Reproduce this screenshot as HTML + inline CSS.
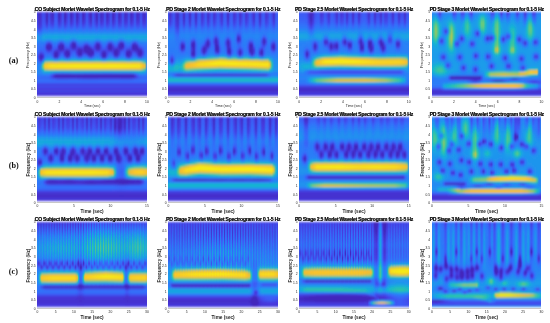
<!DOCTYPE html><html><head><meta charset="utf-8"><title>Morlet Wavelet Spectrograms</title><style>

*{margin:0;padding:0}
html,body{width:550px;height:323px;overflow:hidden;background:#fff}
body{position:relative;font-family:"Liberation Sans",Arial,sans-serif;color:#262626}
.pn{position:absolute;overflow:hidden;filter:url(#bl)}
.pn i{position:absolute;left:0;width:100%;display:block}
.tt{position:absolute;width:160px;text-align:center;font-weight:bold;font-size:5.2px;letter-spacing:-0.27px;line-height:5px;white-space:nowrap;color:#1c1c1c;text-shadow:0.15px 0 0 #1c1c1c;filter:blur(0.2px)}
.yt{position:absolute;width:10.6px;text-align:right;font-size:3.3px;line-height:3.4px;color:#222}
.xt{position:absolute;width:12px;text-align:center;font-size:3.3px;line-height:3.4px;color:#222}
.xl{position:absolute;width:40px;text-align:center;font-size:3.5px;line-height:4px;color:#222}
.xl.b{font-weight:bold;font-size:4.7px;line-height:5px;color:#222}
.yl{position:absolute;width:40px;height:4px;margin-left:-20px;margin-top:-2px;text-align:center;font-size:3.8px;line-height:4px;transform:rotate(-90deg);color:#222;white-space:nowrap}
.yl.b{font-weight:bold;font-size:4.7px;line-height:5px;height:5px;margin-top:-2.5px;color:#222}
.ax{position:absolute;height:0.6px;background:#c8c8c8}
.pl{position:absolute;left:8.8px;width:11px;font:bold 8.2px "Liberation Serif",serif;line-height:10px;color:#111}

</style></head><body><svg width="0" height="0" style="position:absolute"><filter id="bl" x="-5%" y="-5%" width="110%" height="110%"><feGaussianBlur stdDeviation="0.25 0.85"/></filter></svg>
<div class="pn" style="left:37.40px;top:12.00px;width:109.50px;height:83.80px">
<i style="top:0.0px;height:2.6px;background:linear-gradient(90deg,#4344e5,#432cc6,#4533d2,#414eed,#4442e4,#4226bc,#424ae9,#4432d0,#432bc4,#3f55f2,#3f53f0,#4227be,#4536d8,#4050ee,#4226bc,#4639dd,#4052f0,#4228bf,#4536d7,#4050ee,#4226bc,#4639dc,#4052f0,#4228c0,#4535d6,#3f56f3,#4537d9,#4227bd,#4052ef,#463ade,#4226bc,#414dec,#432cc5,#4431cf,#4052ef,#4329c1,#4534d4,#4051ef,#4227be,#4537d9,#3f53f0,#432ac2,#4534d3,#3f54f1,#432dc7,#4430cd,#4052ef,#432ac3,#4533d2,#3f54f1,#432dc8,#4430cc,#3f54f1,#4431ce,#432cc7,#3f55f2)"></i>
<i style="top:2.0px;height:2.6px;background:linear-gradient(90deg,#4345e6,#432bc5,#4533d2,#404fee,#4443e5,#4226bc,#414bea,#4432d1,#432bc4,#3e56f3,#3f54f1,#4227be,#4537d8,#4052ef,#4226bc,#463add,#3f54f1,#4227be,#4536d7,#4052ef,#4226bc,#4639dc,#3f54f1,#4228bf,#4536d6,#3e58f4,#4537d9,#4226bd,#3f53f1,#463bdf,#4226bc,#414eed,#432bc5,#4431cf,#3f53f0,#4329c1,#4534d4,#3f52f0,#4227bd,#4537d9,#3f54f1,#4329c2,#4534d3,#3f55f2,#432dc7,#4430cd,#3f53f1,#432ac3,#4533d2,#3f55f2,#432dc8,#4430cc,#3f55f2,#4431ce,#432cc7,#3e57f3)"></i>
<i style="top:4.0px;height:2.6px;background:linear-gradient(90deg,#4346e7,#432cc6,#4533d3,#4051ef,#4345e6,#4226bc,#414dec,#4533d2,#432cc6,#3e58f4,#3e56f3,#4228bf,#4638da,#3f53f1,#4226bc,#463bdf,#3f56f2,#4228c0,#4537d9,#3f54f1,#4226bc,#463ade,#3f56f2,#4329c1,#4537d8,#3d59f4,#4638db,#4227be,#3f55f2,#453de0,#4226bc,#4050ee,#432cc7,#4432d1,#3f55f2,#432ac3,#4535d6,#3f54f1,#4228bf,#4638db,#3e56f3,#432ac3,#4535d5,#3e57f3,#442ec9,#4431cf,#3f55f2,#432bc4,#4534d4,#3e57f3,#442eca,#4431ce,#3e57f3,#4432d0,#432dc8,#3e59f4)"></i>
<i style="top:6.0px;height:2.6px;background:linear-gradient(90deg,#4249e9,#432dc9,#4535d6,#3f54f1,#4248e8,#4226bc,#4050ee,#4536d6,#442eca,#3d5bf5,#3d59f4,#432ac4,#463ade,#3e56f3,#4228c0,#453ee1,#3e58f4,#432bc4,#463add,#3e57f3,#4329c1,#453de1,#3e59f4,#432bc5,#4639dc,#3c5cf5,#463bdf,#432ac3,#3e58f4,#4440e2,#4228bf,#3f53f0,#442fcb,#4535d5,#3e58f4,#432cc7,#4638da,#3e57f3,#432ac3,#463bdf,#3e59f4,#432dc8,#4537d9,#3d5af4,#4430cd,#4534d3,#3e58f4,#432dc9,#4537d8,#3d5af4,#4431ce,#4533d2,#3d5af4,#4534d4,#4430cd,#3d5bf5)"></i>
<i style="top:8.0px;height:2.6px;background:linear-gradient(90deg,#414ceb,#442fcc,#4537d9,#3e57f3,#414ceb,#4329c1,#3f54f1,#4639dc,#4432d1,#3b5df5,#3c5cf5,#442fcb,#453fe2,#3d59f4,#432dc7,#4443e5,#3c5bf5,#442fcb,#453ee1,#3d5af4,#432dc8,#4442e4,#3c5bf5,#442fcc,#453de1,#3b5ef6,#4440e2,#442eca,#3d5bf5,#4345e6,#432cc6,#3e57f3,#4533d2,#4638db,#3d5bf5,#4430ce,#463cdf,#3d5af5,#442eca,#4440e2,#3c5cf5,#4431cf,#463bdf,#3c5cf5,#4534d4,#4537d9,#3d5bf5,#4431cf,#463ade,#3c5cf5,#4534d5,#4537d8,#3c5cf5,#4638da,#4534d3,#3b5ef5)"></i>
<i style="top:10.0px;height:2.6px;background:linear-gradient(90deg,#404fed,#4431cf,#4639dc,#3d59f4,#4052ef,#4430cd,#3e58f4,#4440e2,#4638da,#3a60f6,#3b5ff6,#4535d5,#4346e7,#3c5df5,#4533d2,#4249e9,#3b5ef6,#4535d6,#4345e6,#3c5df5,#4533d3,#4249e9,#3b5ef6,#4535d6,#4344e6,#3a61f6,#4347e7,#4534d4,#3b5ef5,#424bea,#4432d1,#3d5af5,#4638db,#453fe2,#3b5ef5,#4536d8,#4443e4,#3b5df5,#4534d4,#4346e7,#3b5ff6,#4537d8,#4442e4,#3a5ff6,#4639dd,#453ee1,#3b5ef5,#4537d9,#4441e3,#3a5ff6,#463ade,#453de0,#3a5ff6,#453ee1,#4639dc,#3a60f6)"></i>
<i style="top:12.0px;height:2.6px;background:linear-gradient(90deg,#3f53f0,#4534d4,#453de0,#3c5df5,#3e59f4,#463add,#3b5df5,#414bea,#4343e5,#3864f7,#3963f7,#453fe2,#4050ee,#3a61f6,#453de0,#3f53f0,#3962f7,#4440e2,#404fee,#3961f6,#453ee1,#4052f0,#3962f7,#4440e3,#414fed,#3864f7,#4050ee,#453fe2,#3962f6,#3f54f1,#453de0,#3a5ff6,#4344e5,#424aea,#3962f6,#4442e4,#414dec,#3961f6,#453fe2,#4050ee,#3963f7,#4442e4,#414dec,#3963f7,#4345e6,#4249e9,#3962f7,#4443e4,#414ceb,#3863f7,#4346e7,#4248e9,#3863f7,#4249e9,#4345e6,#3864f7)"></i>
<i style="top:14.0px;height:2.6px;background:linear-gradient(90deg,#3e58f4,#4638da,#4442e4,#3a61f6,#3a60f6,#414ceb,#3864f7,#3e59f4,#3f53f0,#3668f8,#3668f8,#4050ee,#3c5bf5,#3766f8,#404fed,#3c5df5,#3667f8,#4051ef,#3d5bf5,#3767f8,#404fee,#3c5df5,#3667f8,#4051ef,#3d5bf5,#3669f8,#3c5cf5,#4050ee,#3667f8,#3b5ef5,#414eed,#3765f7,#3f54f1,#3e58f4,#3667f8,#4052ef,#3d5af4,#3767f8,#4050ee,#3c5bf5,#3668f8,#4052f0,#3d59f4,#3668f8,#3f55f1,#3e57f3,#3667f8,#3f53f0,#3d59f4,#3668f8,#3f55f2,#3e57f3,#3668f8,#3e58f4,#3f54f1,#3669f8)"></i>
<i style="top:16.0px;height:2.6px;background:linear-gradient(90deg,#3963f7,#4344e5,#404fee,#346bf9,#336efa,#3863f7,#3270fa,#3569f8,#3767f8,#3172fa,#3172fa,#3765f7,#346bf9,#3171fa,#3864f7,#346cf9,#3172fa,#3765f7,#356bf9,#3171fa,#3865f7,#346cf9,#3172fa,#3766f7,#356bf9,#3172f9,#346bf9,#3765f7,#3172fa,#346df9,#3864f7,#3271fa,#3767f8,#3569f8,#3172fa,#3766f7,#356af9,#3171fa,#3765f7,#346bf9,#3172fa,#3766f8,#356af8,#3172fa,#3667f8,#3669f8,#3172fa,#3766f8,#356af8,#3172fa,#3668f8,#3668f8,#3172fa,#3669f8,#3667f8,#3172fa)"></i>
<i style="top:18.0px;height:2.6px;background:linear-gradient(90deg,#3172fa,#3d59f4,#3962f7,#2e77f8,#2c7bf8,#2e77f8,#2c7cf7,#2d79f8,#2d78f8,#2b7df7,#2b7df7,#2e78f8,#2d7af8,#2b7cf7,#2e77f8,#2c7af8,#2b7cf7,#2e78f8,#2d7af8,#2b7cf7,#2e77f8,#2c7af8,#2b7cf7,#2e78f8,#2d7af8,#2b7df7,#2d7af8,#2e78f8,#2b7cf7,#2c7af8,#2e77f8,#2b7cf7,#2d78f8,#2d79f8,#2b7cf7,#2e78f8,#2d79f8,#2b7cf7,#2e78f8,#2d7af8,#2b7df7,#2e78f8,#2d79f8,#2b7df7,#2d78f8,#2d79f8,#2b7cf7,#2e78f8,#2d79f8,#2b7df7,#2d79f8,#2d79f8,#2b7df7,#2d79f8,#2d78f8,#2b7df7)"></i>
<i style="top:20.0px;height:2.6px;background:linear-gradient(90deg,#2980f7,#3270fa,#2f75f9,#2686f4,#248cf2,#2589f3,#238df1,#248bf2,#248af2,#238df1,#238df1,#248af2,#248bf2,#238df1,#2589f3,#248cf2,#238df1,#258af3,#248bf2,#238df1,#2589f3,#248bf2,#238df1,#248af2,#248bf2,#238ef1,#248bf2,#248af2,#238df1,#248cf2,#2589f3,#238df1,#248af2,#248bf2,#238df1,#248af2,#248bf2,#238df1,#248af2,#248bf2,#238df1,#248af2,#248bf2,#238df1,#248af2,#248bf2,#238df1,#248af2,#248bf2,#238df1,#248af2,#248bf2,#238df1,#248bf2,#248af2,#238df1)"></i>
<i style="top:22.0px;height:2.6px;background:linear-gradient(90deg,#2094ee,#2981f6,#2687f4,#1c9bea,#1ba0e6,#1b9fe7,#1ba0e6,#1b9fe7,#1b9fe7,#1ba1e5,#1ba1e5,#1b9fe7,#1b9fe7,#1ba0e6,#1b9fe7,#1ba0e6,#1ba0e6,#1b9ee8,#1b9ee8,#1b9fe7,#1b9fe7,#1ba0e6,#1ba1e5,#1b9fe7,#1ba0e6,#1ba1e5,#1ba0e6,#1b9fe7,#1ba1e5,#1ba0e6,#1b9fe7,#1ba0e6,#1b9fe7,#1ba0e6,#1ba1e5,#1b9fe7,#1b9fe7,#1ba0e6,#1b9fe7,#1ba0e6,#1ba0e6,#1b9ee8,#1b9ee8,#1ba0e6,#1b9fe7,#1b9fe7,#1ba1e5,#1b9fe7,#1b9fe7,#1ba0e6,#1b9fe7,#1b9fe7,#1ba1e5,#1ba0e6,#1b9fe7,#1ba1e5)"></i>
<i style="top:24.0px;height:2.6px;background:linear-gradient(90deg,#1ba1e5,#2192ef,#1e97ec,#1aa5e1,#19a9dd,#19a8de,#19a8de,#19a8de,#19a9dd,#19aadc,#19a9dd,#19a8de,#19a7df,#19a8de,#19a9dd,#19a9dd,#19a9dd,#1aa6e0,#1aa3e3,#1aa5e1,#19a7df,#19a9dd,#19aadc,#19a9dd,#19a9dd,#19a9dd,#19a9dd,#19a9dd,#19a9dd,#19a8de,#19a6e0,#19a7df,#19a8de,#19a9dd,#19aadc,#19a8de,#19a8de,#19a8de,#19a8de,#19a9dd,#19a9dd,#1aa6e0,#1aa3e3,#1aa5e1,#19a8de,#19a9dd,#19aadc,#19a9dd,#19a8de,#19a8de,#19a8de,#19a9dd,#19aadc,#19a9dd,#19a9dd,#19aadc)"></i>
<i style="top:26.0px;height:2.6px;background:linear-gradient(90deg,#1c9de9,#2191ef,#1f95ed,#1ba0e6,#1ba1e5,#1c9de9,#1d9beb,#1c9ee8,#1ba2e4,#1aa3e3,#1aa2e4,#1b9ee8,#1d9beb,#1c9de9,#1ba1e5,#1aa3e3,#1ba1e5,#1e98ec,#238df1,#2191ef,#1c9de9,#1aa2e4,#1aa3e3,#1aa2e4,#1ba2e4,#1ba2e4,#1aa2e4,#1aa3e3,#1aa2e4,#1b9ee8,#1e98ec,#1e99ec,#1b9fe7,#1aa2e4,#1aa3e3,#1ba0e6,#1c9cea,#1c9cea,#1b9fe7,#1aa2e4,#1ba1e5,#1e97ec,#238cf1,#2192ef,#1b9ee8,#1aa2e4,#1aa3e3,#1ba1e5,#1c9de9,#1d9beb,#1b9ee8,#1ba2e4,#1aa3e3,#1aa3e3,#1aa3e3,#1aa3e3)"></i>
<i style="top:28.0px;height:2.6px;background:linear-gradient(90deg,#238df1,#2686f4,#2589f3,#228ff0,#238df1,#297ff7,#2d78f8,#2980f6,#238df1,#2191ef,#228ef0,#2981f6,#2d78f8,#2a7ef7,#248cf2,#2191ef,#238cf1,#2d7af8,#3962f6,#346df9,#2882f6,#2290f0,#2191ef,#228ff0,#248bf2,#2589f3,#238ef1,#2191ef,#228ff0,#2882f6,#2f75f9,#2f76f9,#2785f5,#2290f0,#2190ef,#2588f3,#2c7bf8,#2d7af8,#2686f4,#228ff0,#248bf2,#2e78f8,#3a61f6,#326ffa,#2784f5,#2190ef,#2191ef,#248cf2,#2a7ef7,#2d78f8,#2881f6,#238ef1,#2192ef,#2192ef,#2192ef,#2092ee)"></i>
<i style="top:30.0px;height:2.6px;background:linear-gradient(90deg,#2b7cf7,#2d79f8,#2c7af8,#2b7cf7,#2f76f9,#3e57f3,#4639dd,#3d59f4,#2f76f9,#2b7cf7,#2e77f8,#3b5df5,#463ade,#4052f0,#3074f9,#2c7cf7,#2e77f9,#4052f0,#4226bc,#4431ce,#3669f8,#2d7af8,#2c7cf7,#2e78f8,#346cf9,#3668f8,#3074f9,#2c7bf8,#2d79f8,#3864f7,#4535d6,#4639dd,#356af8,#2c7bf8,#2c7bf8,#336ef9,#4345e6,#4440e2,#3668f8,#2d79f8,#2f75f9,#414beb,#4226bc,#4534d4,#336df9,#2c7bf7,#2b7cf7,#3074f9,#4052ef,#463ade,#3c5df5,#2e77f8,#2b7cf7,#2b7df7,#2a7ef7,#2a7ef7)"></i>
<i style="top:32.0px;height:2.6px;background:linear-gradient(90deg,#2f75f9,#3074f9,#3074f9,#3074f9,#3766f7,#442fcb,#4226bc,#4431ce,#3767f8,#3073f9,#3569f8,#4536d7,#4226bc,#4329c1,#3a61f6,#3171fa,#356af9,#4638da,#4226bc,#4226bc,#3f54f1,#346bf9,#336efa,#3963f7,#453ce0,#4533d2,#3f54f1,#346bf9,#346cf9,#4346e7,#4226bc,#4226bc,#4050ee,#3171fa,#3171fa,#3f54f1,#4226bc,#4226bc,#4247e8,#356af8,#3863f7,#4431cf,#4226bc,#4226bc,#3c5cf5,#3172fa,#3172fa,#3a60f6,#4329c1,#4226bc,#4534d4,#3864f7,#3171fa,#3074f9,#2f76f9,#2f76f9)"></i>
<i style="top:34.0px;height:2.6px;background:linear-gradient(90deg,#326ffa,#336ef9,#336ef9,#346df9,#3d5af5,#4226bc,#4226bc,#4226bc,#3d5af4,#3767f8,#3d59f4,#4227bd,#4226bc,#4226bc,#414dec,#3a5ff6,#3c5bf5,#4536d7,#4226bc,#4226bc,#4442e4,#414ceb,#4050ee,#4344e5,#4226bc,#4226bc,#432bc5,#414bea,#3e58f4,#4537da,#4226bc,#4226bc,#4442e4,#3863f7,#3863f7,#4441e3,#4226bc,#4226bc,#4533d2,#4051ef,#424ae9,#432cc6,#4226bc,#4226bc,#3f54f1,#3963f7,#3a60f6,#414dec,#4226bc,#4226bc,#4226bc,#4248e8,#3e59f4,#3767f8,#336efa,#3270fa)"></i>
<i style="top:36.0px;height:2.6px;background:linear-gradient(90deg,#326ffa,#346df9,#346bf9,#346bf9,#3b5ef6,#442eca,#4226bc,#442fcc,#3e59f4,#3d5af4,#414ceb,#432dc8,#4226bc,#4226bc,#4344e5,#4345e6,#424bea,#4345e6,#442fcc,#4534d5,#463bdf,#432ac3,#442fcb,#4534d4,#4226bc,#4226bc,#4226bc,#4329c1,#4441e3,#4440e2,#4226bc,#4226bc,#4248e8,#3e57f3,#3e56f3,#4344e5,#4226bc,#4226bc,#4533d3,#4534d4,#442eca,#4431cf,#432bc5,#463bde,#3e58f4,#4050ee,#4345e6,#4344e5,#4226bc,#4226bc,#4226bc,#442ec9,#4536d7,#3d5af4,#346cf9,#3270fa)"></i>
<i style="top:38.0px;height:2.6px;background:linear-gradient(90deg,#336ef9,#3767f8,#3a60f6,#3864f7,#3863f7,#424aea,#4536d6,#4248e9,#3f54f1,#463ade,#4432d0,#4536d7,#4432d0,#463bde,#4537d8,#4226bc,#4430cd,#404fed,#4052f0,#4050ee,#4534d4,#4226bc,#4226bc,#4430cd,#4226bc,#4226bc,#4226bc,#4226bc,#432cc7,#414ceb,#4442e4,#4443e4,#424aea,#4537da,#4537d9,#4346e7,#4639dc,#4535d6,#4537d9,#4226bc,#4226bc,#4432d0,#424aea,#3e59f4,#3e57f3,#4431cf,#4226bc,#4537d8,#463ade,#4431ce,#432cc6,#4226bc,#4226bc,#4346e7,#3569f8,#326ffa)"></i>
<i style="top:40.0px;height:2.6px;background:linear-gradient(90deg,#346cf9,#3d59f4,#4345e6,#3f53f1,#3766f7,#3863f7,#3c5cf5,#3a60f6,#414dec,#4226bc,#4226bc,#4639dc,#3f53f1,#3f54f1,#442eca,#4226bc,#4226bc,#4052f0,#3766f7,#3a61f6,#4535d5,#4226bc,#4226bc,#4638db,#4537da,#4226bc,#4226bc,#4226bc,#4226bc,#3e58f4,#3961f6,#3b5ef6,#4346e7,#4226bc,#4226bc,#4443e5,#3d59f4,#3e58f4,#4440e3,#4226bc,#4226bc,#4533d2,#3a5ff6,#3668f8,#3f54f1,#4226bc,#4226bc,#442fcb,#3f54f1,#3f54f1,#4536d8,#4226bc,#4226bc,#453ee1,#356af8,#3171fa)"></i>
<i style="top:42.0px;height:2.6px;background:linear-gradient(90deg,#356af9,#4442e4,#4226bc,#4537da,#3865f7,#3270fa,#3270fa,#346df9,#414ceb,#4226bc,#4226bc,#453cdf,#3766f8,#3864f7,#4432d1,#4226bc,#4226bc,#3d5af4,#3270fa,#346df9,#4248e8,#4226bc,#4226bc,#4052f0,#3b5ef5,#424aea,#4226bc,#4226bc,#4431cf,#3864f7,#3270fa,#346cf9,#4345e6,#4226bc,#4226bc,#4344e5,#356af8,#346cf9,#3f54f1,#4226bc,#4226bc,#4442e4,#346cf9,#3271fa,#3d5af4,#4226bc,#4226bc,#4533d2,#3864f7,#3569f8,#414ceb,#4226bc,#4226bc,#424aea,#326ffa,#3074f9)"></i>
<i style="top:44.0px;height:2.6px;background:linear-gradient(90deg,#336efa,#4536d7,#4226bc,#432dc8,#346bf9,#2c7af8,#2c7cf7,#2d79f8,#3a60f6,#4226bc,#4226bc,#3e56f3,#2f76f9,#2f75f9,#3f54f1,#432ac3,#463cdf,#336ffa,#2c7bf8,#2d7af8,#346bf9,#414dec,#3f56f2,#3171fa,#2e77f8,#3271fa,#3f54f1,#463cdf,#3d5bf5,#2f76f9,#2c7bf7,#2d78f8,#3c5cf5,#4226bc,#4226bc,#3c5cf5,#2e78f8,#2c7af8,#3270fa,#424aea,#4441e3,#3766f8,#2d79f8,#2c7bf8,#336ffa,#463cdf,#432ac3,#3f54f1,#2f75f9,#2d79f8,#346cf9,#4346e7,#4443e5,#3669f8,#2d79f8,#2d79f8)"></i>
<i style="top:46.0px;height:2.6px;background:linear-gradient(90deg,#2e76f9,#4443e4,#4226bc,#4442e4,#2980f6,#2094ee,#1e97ec,#1f95ed,#2784f5,#356af8,#3765f7,#2980f7,#2094ee,#2094ee,#2882f6,#3074f9,#2c7bf7,#228ff0,#1e98ec,#1e98ec,#2190ef,#2686f4,#2588f3,#2093ee,#1e97ec,#2093ee,#2687f4,#2a7ff7,#2589f3,#1f95ed,#1d99eb,#1f96ed,#2882f6,#3668f8,#3668f8,#2882f6,#1f95ed,#1e98ec,#2191ef,#2883f6,#2980f6,#238df1,#1e97ec,#1e98ec,#228ff0,#2c7bf8,#3074f9,#2882f6,#2094ee,#1e97ec,#228ff0,#2881f6,#2a7ff7,#2589f3,#228ef0,#2981f6)"></i>
<i style="top:48.0px;height:2.6px;background:linear-gradient(90deg,#2b7df7,#3a5ff6,#4443e4,#2d7af8,#16b4d2,#23bdbb,#27bfb4,#29c0b1,#24bdba,#18b5cf,#16b4d1,#22bcbd,#2ac1af,#2ac1af,#25beb8,#1fbac2,#22bcbc,#29c1b0,#2cc2ab,#2cc3ab,#2bc1ae,#28c0b2,#29c0b1,#2bc2ad,#2cc3ab,#2bc2ad,#28c0b2,#26beb6,#29c0b2,#2cc2ac,#2dc3ab,#2bc2ad,#24bdb9,#18b6ce,#18b6ce,#24bdb9,#2bc2ad,#2cc3ab,#2bc2ae,#27bfb4,#26bfb6,#2ac1b0,#2cc2ac,#2cc2ac,#29c0b1,#22bcbd,#1fbac2,#25beb8,#2ac1af,#2bc2ae,#29c0b1,#25beb8,#20bac1,#1ab7ca,#17b2d4,#2686f4)"></i>
<i style="top:50.0px;height:2.6px;background:linear-gradient(90deg,#2981f6,#3074f9,#2e77f9,#1ab6cc,#b4c552,#d5c043,#e8bd3a,#ecbd37,#ecbd37,#e9bd39,#e9bd39,#ecbd37,#eebd36,#eebd36,#edbd36,#ecbd37,#edbd36,#efbd35,#efbd35,#efbd35,#efbd35,#efbd35,#efbd35,#efbd35,#efbd35,#efbd35,#efbd35,#efbd35,#efbd35,#efbd35,#efbd35,#efbd35,#eebd36,#ebbd38,#ebbd38,#eebd36,#efbd35,#efbd35,#efbd35,#efbd35,#eebd35,#efbd35,#efbd35,#efbd35,#eebd36,#edbd37,#ecbd37,#edbd37,#eebd36,#eebd36,#edbd36,#ecbd37,#dbbf40,#a4c75b,#60c983,#2686f4)"></i>
<i style="top:52.0px;height:2.6px;background:linear-gradient(90deg,#2784f5,#2a7ff7,#2094ee,#6ec97a,#f9c828,#f8d223,#f8d91f,#f7e11b,#f6e31a,#f6e31a,#f6e31a,#f6e419,#f6e519,#f6e519,#f6e519,#f6e519,#f6e618,#f6e718,#f6e718,#f6e817,#f6e817,#f6e817,#f6e817,#f6e817,#f6e817,#f6e817,#f6e817,#f6e718,#f6e817,#f6e817,#f6e817,#f6e817,#f6e718,#f6e618,#f6e618,#f6e718,#f6e817,#f6e817,#f6e817,#f6e818,#f6e718,#f6e718,#f6e718,#f6e618,#f6e618,#f6e519,#f6e519,#f6e519,#f6e419,#f6e419,#f6e41a,#f6e31a,#f8d522,#f9be2e,#e5bd3b,#2686f4)"></i>
<i style="top:54.0px;height:2.6px;background:linear-gradient(90deg,#2785f5,#2783f5,#1b9ee8,#84c86d,#f9ca27,#f8d223,#f8d91f,#f7e11b,#f6e31a,#f6e41a,#f6e419,#f6e519,#f6e519,#f6e519,#f6e618,#f6e618,#f6e618,#f6e718,#f6e718,#f6e817,#f6e817,#f6e817,#f6e817,#f6e817,#f6e817,#f6e817,#f6e817,#f6e817,#f6e817,#f6e817,#f6e817,#f6e817,#f6e817,#f6e817,#f6e817,#f6e817,#f6e817,#f6e817,#f6e817,#f6e817,#f6e817,#f6e718,#f6e718,#f6e618,#f6e618,#f6e619,#f6e519,#f6e519,#f6e519,#f6e419,#f6e41a,#f6e31a,#f8d521,#f9be2d,#e5bd3b,#2686f4)"></i>
<i style="top:56.0px;height:2.6px;background:linear-gradient(90deg,#2686f4,#2685f4,#1e98ec,#32c4a6,#c7c24a,#d8bf41,#e8bd3a,#ecbd37,#edbd36,#edbd36,#eebd36,#eebd36,#eebd36,#eebd36,#eebd35,#efbd35,#efbd35,#efbd35,#efbd35,#efbd35,#efbd35,#efbd35,#efbd35,#efbd35,#efbd35,#efbd35,#efbd35,#efbd35,#efbd35,#efbd35,#efbd35,#efbd35,#efbd35,#efbd35,#efbd35,#efbd35,#efbd35,#efbd35,#efbd35,#efbd35,#efbd35,#efbd35,#efbd35,#efbd35,#eebd35,#eebd35,#eebd36,#eebd36,#eebd36,#eebd36,#eebd36,#edbd36,#e0be3e,#a7c65a,#61ca83,#2686f4)"></i>
<i style="top:58.0px;height:2.6px;background:linear-gradient(90deg,#2686f4,#2686f4,#228ef0,#19a9dd,#22bcbd,#25beb8,#27bfb4,#28c0b2,#28c0b3,#26bfb6,#25beb8,#25beb8,#25beb9,#25beb8,#25beb8,#25beb7,#26beb6,#26bfb5,#27bfb5,#27bfb4,#27bfb4,#27bfb4,#27bfb4,#27bfb4,#27bfb5,#27bfb5,#27bfb5,#27bfb5,#27bfb5,#27bfb5,#27bfb5,#26bfb6,#26bfb6,#26beb6,#26beb7,#26beb7,#26beb7,#26beb7,#26beb6,#26beb6,#26beb6,#26beb6,#26beb6,#26beb7,#26beb7,#25beb7,#25beb7,#26beb7,#26bfb5,#28c0b3,#29c1b1,#2bc1ae,#26beb6,#1db9c5,#16b2d4,#2686f4)"></i>
<i style="top:60.0px;height:2.6px;background:linear-gradient(90deg,#2686f4,#2686f4,#2588f3,#2191ef,#1d99eb,#1d99eb,#1e98ec,#228ff0,#2785f5,#2b7cf7,#3074f9,#3173f9,#3172fa,#3171fa,#3172fa,#3074f9,#2f76f9,#2e78f8,#2d7af8,#2c7bf8,#2c7bf8,#2c7bf8,#2d7af8,#2d79f8,#2e77f8,#2f76f9,#2f76f9,#2f75f9,#2f75f9,#2f76f9,#2f75f9,#2f75f9,#3074f9,#3172f9,#3171fa,#3271fa,#3271fa,#3171fa,#3172f9,#3073f9,#3074f9,#3074f9,#3074f9,#3073f9,#3073f9,#3073f9,#3074f9,#2f76f9,#2c7bf8,#2882f6,#238df1,#1e97ec,#1d9aeb,#1e97ec,#2094ee,#2685f4)"></i>
<i style="top:62.0px;height:2.6px;background:linear-gradient(90deg,#2d79f8,#2d79f8,#2d79f8,#2d7af8,#2d7af8,#2d78f8,#2f76f9,#3962f7,#4247e8,#442eca,#4226bc,#4226bc,#4226bc,#4226bc,#4226bc,#4226bc,#4226bc,#4226bc,#4227bd,#4329c1,#4329c1,#4226bd,#4226bc,#4226bc,#4226bc,#4226bc,#4226bc,#4226bc,#4226bc,#4226bc,#4226bc,#4226bc,#4226bc,#4226bc,#4226bc,#4226bc,#4226bc,#4226bc,#4226bc,#4226bc,#4226bc,#4226bc,#4226bc,#4226bc,#4226bc,#4226bc,#4226bc,#4226bc,#4227bd,#453ce0,#3d5af4,#3271fa,#2e78f8,#2d79f8,#2d7af8,#2d78f8)"></i>
<i style="top:64.0px;height:2.6px;background:linear-gradient(90deg,#356af8,#356af8,#3569f8,#3569f8,#3668f8,#3767f8,#3864f7,#4050ee,#4639dc,#4329c1,#4226bc,#4226bc,#4226bc,#4226bc,#4226bc,#4226bc,#4226bc,#4226bc,#4226bc,#4226bc,#4226bc,#4226bc,#4226bc,#4226bc,#4226bc,#4226bc,#4226bc,#4226bc,#4226bc,#4226bc,#4226bc,#4226bc,#4226bc,#4226bc,#4226bc,#4226bc,#4226bc,#4226bc,#4226bc,#4226bc,#4226bc,#4226bc,#4226bc,#4226bc,#4226bc,#4226bc,#4226bc,#4226bc,#4226bc,#4431cf,#4345e6,#3c5cf5,#3765f7,#3667f8,#3669f8,#3669f8)"></i>
<i style="top:66.0px;height:2.6px;background:linear-gradient(90deg,#356bf9,#356bf9,#356bf9,#356bf9,#356af9,#356af8,#3569f8,#3864f7,#3b5ef5,#3e58f4,#4050ee,#404fed,#414eed,#414eed,#404fed,#4050ee,#4051ef,#4052ef,#4052f0,#4052f0,#4052ef,#4050ee,#414eed,#414ceb,#424aea,#4249e9,#4248e8,#4248e8,#4249e9,#424aea,#414ceb,#414dec,#414dec,#414dec,#414dec,#414dec,#414dec,#414eec,#414eed,#414eed,#414eed,#414dec,#414cec,#414ceb,#414beb,#414beb,#414ceb,#414dec,#3f53f0,#3d5af5,#3a61f6,#3767f8,#3569f8,#356af9,#356af9,#356bf9)"></i>
<i style="top:68.0px;height:2.6px;background:linear-gradient(90deg,#3271fa,#3271fa,#3271fa,#3271fa,#3271fa,#3271fa,#3271fa,#3270fa,#326ffa,#336ffa,#336ef9,#336ef9,#336ef9,#336ef9,#336ef9,#336ef9,#336ef9,#336ef9,#336ef9,#336ef9,#336ef9,#336ef9,#336ef9,#336df9,#336df9,#336df9,#336df9,#336df9,#336df9,#336df9,#336df9,#336ef9,#336ef9,#336ef9,#336ef9,#336ef9,#336ef9,#336ef9,#336ef9,#336ef9,#336ef9,#336ef9,#336ef9,#336ef9,#336df9,#336df9,#336ef9,#336ef9,#336efa,#336ffa,#3270fa,#3270fa,#3271fa,#3271fa,#3271fa,#3271fa)"></i>
<i style="top:70.0px;height:2.6px;background:linear-gradient(90deg,#3b5ef5,#3b5ef5,#3b5ef5,#3b5ef5,#3b5ef5,#3b5ef5,#3b5ef5,#3b5ef5,#3b5ef5,#3b5ef5,#3b5ef5,#3b5ef5,#3b5ef5,#3b5ef5,#3b5ef5,#3b5ef5,#3b5ef5,#3b5ef5,#3b5ef5,#3b5ef5,#3b5ef5,#3b5ef5,#3b5ef5,#3b5ef5,#3b5ef5,#3b5ef5,#3b5ef5,#3b5ef5,#3b5ef5,#3b5ef5,#3b5ef5,#3b5ef5,#3b5ef5,#3b5ef5,#3b5ef5,#3b5ef5,#3b5ef5,#3b5ef5,#3b5ef5,#3b5ef5,#3b5ef5,#3b5ef5,#3b5ef5,#3b5ef5,#3b5ef5,#3b5ef5,#3b5ef5,#3b5ef5,#3b5ef5,#3b5ef5,#3b5ef5,#3b5ef5,#3b5ef5,#3b5ef5,#3b5ef5,#3b5ef5)"></i>
<i style="top:72.0px;height:2.6px;background:linear-gradient(90deg,#453ce0,#453ce0,#453ce0,#453ce0,#453ce0,#453ce0,#453ce0,#453ce0,#453ce0,#453ce0,#453ce0,#453ce0,#453ce0,#453ce0,#453ce0,#453ce0,#453ce0,#453ce0,#453ce0,#453ce0,#453ce0,#453ce0,#453ce0,#453ce0,#453ce0,#453ce0,#453ce0,#453ce0,#453ce0,#453ce0,#453ce0,#453ce0,#453ce0,#453ce0,#453ce0,#453ce0,#453ce0,#453ce0,#453ce0,#453ce0,#453ce0,#453ce0,#453ce0,#453ce0,#453ce0,#453ce0,#453ce0,#453ce0,#453ce0,#453ce0,#453ce0,#453ce0,#453ce0,#453ce0,#453ce0,#453ce0)"></i>
<i style="top:74.0px;height:2.6px;background:linear-gradient(90deg,#414eed,#414eed,#414eed,#414eed,#414eed,#414eed,#414eed,#414eed,#414eed,#414eed,#414eed,#414eed,#414eed,#414eed,#414eed,#414eed,#414eed,#414eed,#414eed,#414eed,#414eed,#414eed,#414eed,#414eed,#414eed,#414eed,#414eed,#414eed,#414eed,#414eed,#414eed,#414eed,#414eed,#414eed,#414eed,#414eed,#414eed,#414eed,#414eed,#414eed,#414eed,#414eed,#414eed,#414eed,#414eed,#414eed,#414eed,#414eed,#414eed,#414eed,#414eed,#414eed,#414eed,#414eed,#414eed,#414eed)"></i>
<i style="top:76.0px;height:2.6px;background:linear-gradient(90deg,#4638da,#4638da,#4638da,#4638da,#4638da,#4638da,#4638da,#4638da,#4638da,#4638da,#4638da,#4638da,#4638da,#4638da,#4638da,#4638da,#4638da,#4638da,#4638da,#4638da,#4638da,#4638da,#4638da,#4638da,#4638da,#4638da,#4638da,#4638da,#4638da,#4638da,#4638da,#4638da,#4638da,#4638da,#4638da,#4638da,#4638da,#4638da,#4638da,#4638da,#4638da,#4638da,#4638da,#4638da,#4638da,#4638da,#4638da,#4638da,#4638da,#4638da,#4638da,#4638da,#4638da,#4638da,#4638da,#4638da)"></i>
<i style="top:78.0px;height:2.6px;background:linear-gradient(90deg,#4346e7,#4346e7,#4346e7,#4346e7,#4346e7,#4346e7,#4346e7,#4346e7,#4346e7,#4346e7,#4346e7,#4346e7,#4346e7,#4346e7,#4346e7,#4346e7,#4346e7,#4346e7,#4346e7,#4346e7,#4346e7,#4346e7,#4346e7,#4346e7,#4346e7,#4346e7,#4346e7,#4346e7,#4346e7,#4346e7,#4346e7,#4346e7,#4346e7,#4346e7,#4346e7,#4346e7,#4346e7,#4346e7,#4346e7,#4346e7,#4346e7,#4346e7,#4346e7,#4346e7,#4346e7,#4346e7,#4346e7,#4346e7,#4346e7,#4346e7,#4346e7,#4346e7,#4346e7,#4346e7,#4346e7,#4346e7)"></i>
<i style="top:80.0px;height:2.6px;background:linear-gradient(90deg,#4537d8,#4537d8,#4537d8,#4537d8,#4537d8,#4537d8,#4537d8,#4537d8,#4537d8,#4537d8,#4537d8,#4537d8,#4537d8,#4537d8,#4537d8,#4537d8,#4537d8,#4537d8,#4537d8,#4537d8,#4537d8,#4537d8,#4537d8,#4537d8,#4537d8,#4537d8,#4537d8,#4537d8,#4537d8,#4537d8,#4537d8,#4537d8,#4537d8,#4537d8,#4537d8,#4537d8,#4537d8,#4537d8,#4537d8,#4537d8,#4537d8,#4537d8,#4537d8,#4537d8,#4537d8,#4537d8,#4537d8,#4537d8,#4537d8,#4537d8,#4537d8,#4537d8,#4537d8,#4537d8,#4537d8,#4537d8)"></i>
<i style="top:82.0px;height:2.4px;background:linear-gradient(90deg,#4537d9,#4537d9,#4537d9,#4537d9,#4537d9,#4537d9,#4537d9,#4537d9,#4537d9,#4537d9,#4537d9,#4537d9,#4537d9,#4537d9,#4537d9,#4537d9,#4537d9,#4537d9,#4537d9,#4537d9,#4537d9,#4537d9,#4537d9,#4537d9,#4537d9,#4537d9,#4537d9,#4537d9,#4537d9,#4537d9,#4537d9,#4537d9,#4537d9,#4537d9,#4537d9,#4537d9,#4537d9,#4537d9,#4537d9,#4537d9,#4537d9,#4537d9,#4537d9,#4537d9,#4537d9,#4537d9,#4537d9,#4537d9,#4537d9,#4537d9,#4537d9,#4537d9,#4537d9,#4537d9,#4537d9,#4537d9)"></i>
</div>
<div class="pn" style="left:168.40px;top:12.00px;width:109.50px;height:83.80px">
<i style="top:0.0px;height:2.6px;background:linear-gradient(90deg,#3d5af5,#4430cd,#4344e6,#3f56f2,#4533d2,#432bc5,#404fed,#4052f0,#432ac4,#3f54f1,#4051ef,#432bc4,#3e56f3,#3f53f1,#432ac4,#3f54f1,#3d5bf5,#4432d0,#4443e4,#3d5af4,#442fcc,#4346e7,#3d5bf5,#4432d0,#4442e4,#3c5cf5,#4344e5,#4431ce,#3d5af5,#3f55f2,#432bc4,#3f53f0,#3d5bf5,#4533d2,#4440e3,#3d5af4,#4431ce,#4344e5,#3d5bf5,#4533d3,#453fe2,#3c5cf5,#4346e7,#442fcc,#3d5af4,#3f56f2,#432bc4,#4051ef,#3c5bf5,#4534d4,#453ee1,#3c5cf5,#4248e8,#442fcb,#3d5af4,#3c5df5)"></i>
<i style="top:2.0px;height:2.6px;background:linear-gradient(90deg,#3c5cf5,#4430cd,#4345e6,#3e57f3,#4533d2,#432bc4,#4050ee,#3f54f1,#432ac3,#3f56f2,#4052ef,#432ac4,#3e58f4,#3f55f2,#432ac3,#3f55f2,#3c5cf5,#4431cf,#4443e5,#3d5bf5,#442fcc,#4247e8,#3c5cf5,#4432d0,#4442e4,#3b5ef5,#4345e6,#4430ce,#3c5cf5,#3e56f3,#432ac3,#3f54f1,#3c5cf5,#4533d2,#4441e3,#3c5bf5,#4430ce,#4345e6,#3c5cf5,#4533d3,#4440e2,#3b5df5,#4347e8,#442fcc,#3c5bf5,#3e57f3,#432ac3,#3f52f0,#3c5df5,#4534d4,#453fe1,#3b5df5,#4248e9,#442eca,#3c5bf5,#3b5ef6)"></i>
<i style="top:4.0px;height:2.6px;background:linear-gradient(90deg,#3b5df5,#4431ce,#4347e7,#3e59f4,#4533d3,#432bc5,#4051ef,#3f55f2,#432bc4,#3e57f4,#3f53f1,#432bc5,#3d59f4,#3e57f3,#432bc4,#3e57f3,#3b5ef5,#4432d1,#4345e6,#3c5cf5,#4430cd,#4249e9,#3b5df5,#4533d2,#4344e5,#3b5ff6,#4346e7,#4431cf,#3b5df5,#3e58f4,#432bc4,#3f56f2,#3b5ef5,#4534d3,#4442e4,#3c5df5,#4431cf,#4346e7,#3b5ef5,#4534d4,#4441e3,#3b5ff6,#4249e9,#4430cd,#3c5df5,#3e59f4,#432bc4,#3f54f1,#3b5ef6,#4535d6,#4440e2,#3b5ff6,#424aea,#442fcc,#3c5df5,#3a60f6)"></i>
<i style="top:6.0px;height:2.6px;background:linear-gradient(90deg,#3a60f6,#4533d3,#424aea,#3c5bf5,#4535d6,#432dc8,#3f55f2,#3e59f4,#432dc8,#3d5af5,#3e57f3,#442ec9,#3c5cf5,#3d5af4,#432dc8,#3d5af5,#3a60f6,#4535d5,#4248e9,#3a5ff6,#4432d1,#414ceb,#3a60f6,#4535d6,#4248e8,#3962f6,#424aea,#4534d3,#3a60f6,#3d5bf5,#432dc8,#3e59f4,#3a61f6,#4536d7,#4346e7,#3a60f6,#4534d3,#424aea,#3a60f6,#4537d8,#4345e6,#3962f6,#414ceb,#4432d1,#3a60f6,#3c5cf5,#442ec9,#3e58f4,#3a61f6,#4638da,#4344e5,#3962f6,#414eec,#4432d0,#3a5ff6,#3963f7)"></i>
<i style="top:8.0px;height:2.6px;background:linear-gradient(90deg,#3863f7,#4537d9,#404fed,#3b5ef6,#4638da,#442fcc,#3e58f4,#3c5cf5,#4431cf,#3b5ef5,#3d5bf5,#4432d0,#3a5ff6,#3c5df5,#4431cf,#3b5df5,#3863f7,#4638db,#414dec,#3962f7,#4536d7,#4051ef,#3863f7,#4639dc,#414ceb,#3865f7,#404fed,#4537d9,#3863f7,#3b5ef5,#4431cf,#3c5cf5,#3864f7,#463add,#424bea,#3963f7,#4537d9,#404fed,#3864f7,#463ade,#424aea,#3865f7,#4051ef,#4536d7,#3963f7,#3b5ff6,#4431cf,#3c5bf5,#3864f7,#463cdf,#4248e9,#3865f7,#4052f0,#4535d6,#3962f7,#3766f7)"></i>
<i style="top:10.0px;height:2.6px;background:linear-gradient(90deg,#3766f8,#453de0,#3f54f1,#3961f6,#463ade,#4432d0,#3c5bf5,#3a60f6,#4536d8,#3961f6,#3b5ef6,#4537d8,#3963f7,#3a61f6,#4536d8,#3a61f6,#3767f8,#453fe1,#3f53f0,#3766f7,#463bdf,#3e56f3,#3766f8,#453fe2,#4052f0,#3668f8,#3f54f1,#453de0,#3766f8,#3962f6,#4536d8,#3a60f6,#3767f8,#4440e3,#4051ef,#3766f7,#453de0,#3f54f1,#3767f8,#4441e3,#4050ee,#3668f8,#3e56f3,#463cdf,#3766f7,#3962f7,#4537d8,#3b5ff6,#3667f8,#4443e4,#414eed,#3668f8,#3e57f4,#463bde,#3766f7,#3669f8)"></i>
<i style="top:12.0px;height:2.6px;background:linear-gradient(90deg,#356af8,#4347e7,#3d5bf5,#3864f7,#453ee1,#4534d4,#3b5ef6,#3864f7,#4540e2,#3765f7,#3963f7,#4440e2,#3766f8,#3865f7,#4540e2,#3865f7,#356af8,#4248e8,#3d59f4,#3669f8,#4346e7,#3c5cf5,#356af8,#4249e9,#3e59f4,#356bf9,#3d5bf5,#4247e8,#356af8,#3765f7,#4440e2,#3864f7,#356af9,#424aea,#3e58f4,#3569f8,#4347e8,#3d5bf5,#356af8,#424bea,#3e57f3,#356bf9,#3c5cf5,#4346e7,#3569f8,#3766f8,#4440e2,#3863f7,#356af9,#414ceb,#3e56f3,#356bf9,#3c5df5,#4345e6,#3569f8,#346cf9)"></i>
<i style="top:14.0px;height:2.6px;background:linear-gradient(90deg,#3271fa,#3e58f4,#3765f7,#346bf9,#4347e7,#463ade,#3765f7,#346cf9,#3f53f0,#336df9,#346bf9,#3f53f0,#336efa,#346df9,#3f53f0,#336df9,#3271fa,#3d59f4,#3864f7,#3270fa,#3e57f4,#3766f8,#3271fa,#3d5af4,#3864f7,#3171fa,#3765f7,#3e59f4,#3271fa,#336ef9,#3f53f0,#346cf9,#3271fa,#3d5af5,#3963f7,#3270fa,#3e58f4,#3865f7,#3271fa,#3d5bf5,#3963f7,#3171fa,#3766f8,#3e57f4,#3270fa,#336efa,#3f53f0,#346cf9,#3271fa,#3c5bf5,#3962f6,#3171fa,#3767f8,#3e57f3,#3270fa,#3172fa)"></i>
<i style="top:16.0px;height:2.6px;background:linear-gradient(90deg,#2f76f9,#3668f8,#3270fa,#3172fa,#4051ef,#4345e6,#346df9,#3073f9,#3865f7,#3074f9,#3073f9,#3765f7,#2f75f9,#3074f9,#3865f7,#3074f9,#2f76f9,#3669f8,#3270fa,#2f75f9,#3667f8,#3171fa,#2f76f9,#3669f8,#326ffa,#2f76f9,#3270fa,#3668f8,#2f76f9,#3074f9,#3865f7,#3074f9,#2f76f9,#3569f8,#336efa,#3073f9,#3865f7,#3270fa,#2f76f9,#356af8,#326ffa,#2f76f9,#3171fa,#3668f8,#2f76f9,#2f75f9,#3765f7,#3073f9,#2f76f9,#356af8,#336ffa,#2f76f9,#3171fa,#3667f8,#2f76f9,#2e76f9)"></i>
<i style="top:18.0px;height:2.6px;background:linear-gradient(90deg,#2c7bf8,#3074f9,#2e78f8,#2e77f8,#3d5bf5,#4050ee,#3073f9,#2d79f8,#3073f9,#2d7af8,#2d79f8,#3073f9,#2c7af8,#2d7af8,#3073f9,#2d7af8,#2c7bf8,#2f75f9,#2e77f8,#2c7bf8,#3074f9,#2e78f8,#2c7bf8,#3073f9,#2f75f9,#2d7af8,#2e77f8,#3074f9,#2c7bf8,#2d7af8,#3173f9,#2d79f8,#2c7bf8,#3074f9,#3074f9,#3172f9,#346cf9,#2f76f9,#2c7bf8,#2f75f9,#2e77f8,#2c7bf8,#2e78f8,#3074f9,#2c7bf8,#2c7af8,#3073f9,#2d79f8,#2d79f8,#3074f9,#2e77f9,#2c7bf8,#2d78f8,#3074f9,#2c7bf8,#2c7bf8)"></i>
<i style="top:20.0px;height:2.6px;background:linear-gradient(90deg,#2980f6,#2b7cf7,#2a7ef7,#2b7cf7,#3865f7,#3c5cf5,#2d78f8,#2a7ff7,#2c7cf7,#2a7ff7,#2a7ff7,#2c7cf7,#2a7ff7,#2a7ff7,#2c7bf7,#2a7ff7,#2980f6,#2b7cf7,#2a7ef7,#2a7ff7,#2c7bf8,#2b7df7,#2a7ff7,#2e78f8,#2f76f9,#2c7bf8,#2b7df7,#2b7cf7,#2980f7,#2a7ef7,#2d79f8,#2a7ef7,#2980f7,#2c7cf7,#2f76f9,#3667f8,#3766f8,#2d79f8,#297ff7,#2b7df7,#2a7ef7,#2980f6,#2a7ef7,#2b7cf7,#2980f6,#297ff7,#2c7bf8,#2b7cf7,#2d7af8,#2d79f8,#2b7df7,#2980f6,#2a7ef7,#2b7cf7,#2980f7,#2980f6)"></i>
<i style="top:22.0px;height:2.6px;background:linear-gradient(90deg,#2686f4,#2783f5,#2785f5,#2881f6,#3270fa,#3668f8,#2a7ef7,#2784f5,#2882f6,#2685f4,#2685f4,#2882f6,#2882f6,#2882f6,#2882f6,#2685f4,#2686f4,#2783f5,#2784f5,#2882f6,#2b7df7,#2981f6,#2882f6,#2e77f8,#346df9,#2d78f8,#2882f6,#2783f5,#2785f5,#2980f7,#2d7af8,#2a7ff7,#2785f5,#2881f6,#3074f9,#414dec,#3f55f2,#2c7af8,#2785f5,#2784f5,#2784f5,#2785f5,#2784f5,#2883f6,#2686f4,#2686f4,#2881f6,#2c7bf7,#3073f9,#2d79f8,#2882f6,#2686f4,#2784f5,#2882f6,#2686f4,#2686f4)"></i>
<i style="top:24.0px;height:2.6px;background:linear-gradient(90deg,#2687f4,#2686f4,#2686f4,#2883f6,#2f75f9,#3270fa,#2a7ff7,#2883f6,#2883f6,#2686f4,#2687f4,#2883f6,#2a7ef7,#2b7cf7,#2981f6,#2686f4,#2687f4,#2686f4,#2784f5,#2b7cf7,#3074f9,#2c7cf7,#2980f7,#356af9,#424aea,#356af9,#2980f6,#2685f4,#2784f5,#2d79f8,#346cf9,#2e78f8,#2783f5,#2882f6,#336efa,#442fcc,#4639dc,#2e77f9,#2685f4,#2686f4,#2785f5,#2882f6,#2882f6,#2785f5,#2687f4,#2687f4,#2881f6,#3172fa,#3e57f4,#346df9,#2981f6,#2686f4,#2784f5,#2882f6,#2686f4,#2687f4)"></i>
<i style="top:26.0px;height:2.6px;background:linear-gradient(90deg,#2883f6,#2882f6,#2883f6,#2981f6,#2e77f9,#3073f9,#2c7bf7,#2d7af8,#2c7bf7,#2981f6,#2882f6,#2b7df7,#326ffa,#3569f8,#2d79f8,#2882f6,#2883f6,#2882f6,#2a7ef7,#336df9,#3f54f1,#346cf9,#2d79f8,#3f53f0,#4226bc,#4050ee,#2c7bf8,#2882f6,#2a7ef7,#3767f8,#4441e3,#3864f7,#2a7ef7,#2a7ff7,#3767f8,#4226bc,#442fcc,#3173f9,#2881f6,#2882f6,#2a7ef7,#2e78f8,#2d79f8,#297ff7,#2883f6,#2883f6,#2b7df7,#3c5cf5,#432dc8,#3f53f0,#2c7bf8,#2981f6,#2b7cf7,#2d7af8,#2a7ff7,#2882f6)"></i>
<i style="top:28.0px;height:2.6px;background:linear-gradient(90deg,#2980f6,#2980f7,#2980f7,#2a7ff7,#2d78f8,#2f75f9,#2f75f9,#3766f7,#346cf9,#2c7bf8,#2a7ff7,#2f76f9,#414eec,#453fe2,#336efa,#2a7ef7,#297ff7,#2a7ef7,#2e77f8,#4052f0,#432ac3,#3f53f0,#3173f9,#4345e6,#4226bc,#453ce0,#2e76f9,#2a7ff7,#2d7af8,#404fed,#4226bc,#4249e9,#2d78f8,#2b7df7,#3569f8,#4430cd,#4639dd,#3173f9,#2a7ff7,#2a7ef7,#2f76f9,#3a5ff6,#3863f7,#2d79f8,#2a7ff7,#297ff7,#2d79f8,#414beb,#4226bc,#453fe2,#2e77f8,#2c7bf8,#336ef9,#3765f7,#2f76f9,#2a7ff7)"></i>
<i style="top:30.0px;height:2.6px;background:linear-gradient(90deg,#2a7ef7,#2a7ef7,#2a7ef7,#2a7ef7,#2c7af8,#2e77f8,#356af8,#453ee1,#414eed,#2f75f9,#2b7cf7,#3270fa,#4430ce,#4226bc,#3a61f6,#2c7bf7,#2b7df7,#2d79f8,#346df9,#463ade,#4226bc,#4442e4,#3271fa,#414beb,#4226bc,#4537d9,#3073f9,#2b7df7,#2e77f8,#4345e6,#4226bc,#463bdf,#2f75f9,#2b7cf7,#3172fa,#4050ee,#3e57f3,#2f75f9,#2b7df7,#2b7cf7,#346bf9,#4535d6,#463bdf,#3271fa,#2b7df7,#2a7ef7,#2e77f8,#414dec,#4226bc,#4345e6,#2f76f9,#2f76f9,#4052ef,#453de0,#356af8,#2b7cf7)"></i>
<i style="top:32.0px;height:2.6px;background:linear-gradient(90deg,#2b7df7,#2b7df7,#2b7df7,#2b7df7,#2c7bf8,#2e77f8,#3b5df5,#4226bc,#4432d0,#3270fa,#2c7bf8,#346cf9,#4228c0,#4226bc,#3c5bf5,#2d7af8,#2c7bf8,#326ffa,#3f55f2,#4432d0,#4226bc,#4346e7,#3172fa,#3d5af4,#4226bc,#4430cd,#346cf9,#2c7bf8,#2e77f8,#414eec,#4226bc,#463bdf,#3073f9,#2c7bf7,#2e77f8,#3667f8,#3766f7,#2f76f9,#2b7cf7,#2c7af8,#3a5ff6,#4226bc,#4226bc,#3963f7,#2c7af8,#2c7cf7,#2f75f9,#3e58f4,#4537da,#3d5af5,#2e77f8,#3171fa,#4535d5,#4226bc,#3d5bf5,#2d79f8)"></i>
<i style="top:34.0px;height:2.6px;background:linear-gradient(90deg,#2b7cf7,#2c7cf7,#2c7cf7,#2c7cf7,#2c7bf8,#2e77f8,#3e58f4,#4226bc,#432ac3,#346cf9,#2d79f8,#346df9,#442eca,#4226bc,#3b5df5,#2d79f8,#2e77f8,#3d5af5,#4430ce,#442fcc,#4431ce,#3d5af4,#3074f9,#3962f7,#4226bc,#4226bc,#3a60f6,#2d79f8,#2e78f8,#3c5cf5,#432bc4,#4638da,#336ef9,#2c7af8,#2d78f8,#346bf9,#3a60f6,#3270fa,#2d7af8,#2d79f8,#3d5bf5,#4226bc,#4226bc,#4051ef,#2e77f8,#2d78f8,#356bf9,#3f55f2,#3f54f1,#346cf9,#2d78f8,#336efa,#442ec9,#4226bc,#3f54f1,#2e78f8)"></i>
<i style="top:36.0px;height:2.6px;background:linear-gradient(90deg,#2c7af8,#2c7af8,#2c7af8,#2c7af8,#2d7af8,#2e77f8,#3b5ef6,#4228bf,#4536d7,#336efa,#2d78f8,#336ef9,#4535d6,#4329c2,#3a60f6,#2e78f8,#3074f9,#4442e4,#4226bc,#442eca,#4050ee,#346bf9,#2e76f9,#3765f7,#4226bc,#4226bc,#3e56f3,#2e77f8,#2e78f8,#3864f7,#432cc6,#4329c2,#3962f6,#2e78f8,#2e76f9,#3b5ff6,#453fe2,#3b5df5,#2f76f9,#2e78f8,#3b5ef6,#4226bc,#4226bc,#453ce0,#3073f9,#3073f9,#3f53f0,#463bdf,#3c5cf5,#3073f9,#2d79f8,#3270fa,#4638db,#4227bd,#3c5bf5,#2e77f8)"></i>
<i style="top:38.0px;height:2.6px;background:linear-gradient(90deg,#2c7bf7,#2c7bf8,#2c7af8,#2c7bf8,#2c7bf8,#2d7af8,#336df9,#414beb,#3e58f4,#2f75f9,#2c7af8,#336efa,#4534d3,#4227be,#3a60f6,#2d79f8,#3074f9,#453fe1,#4226bc,#4536d8,#3569f8,#2f76f9,#2d7af8,#346cf9,#432cc6,#4226bc,#3c5bf5,#2d79f8,#2c7af8,#356af8,#4329c0,#4226bc,#3d5af5,#2d78f8,#2f76f9,#414eec,#4226bc,#4248e8,#2f75f9,#2c7af8,#356af8,#4226bc,#4226bc,#4534d5,#3173f9,#3270fa,#4638da,#4226bc,#3d59f4,#2e77f8,#2c7bf8,#2f75f9,#3d5af4,#424aea,#346cf9,#2d7af8)"></i>
<i style="top:40.0px;height:2.6px;background:linear-gradient(90deg,#2b7df7,#2d79f8,#2e77f8,#2d7af8,#2b7cf7,#2b7cf7,#2e77f8,#346df9,#3271fa,#2c7af8,#2b7cf7,#336ef9,#432cc5,#4226bc,#3b5ef5,#2c7af8,#2e78f8,#4052ef,#4329c0,#404fed,#2f76f9,#2b7df7,#2a7ef7,#2f75f9,#424ae9,#4639dd,#346cf9,#2b7df7,#2a7ef7,#3171fa,#442eca,#4226bc,#3b5df5,#2c7bf8,#2d78f8,#4248e8,#4226bc,#4440e2,#2e77f9,#2b7df7,#3074f9,#4535d5,#4226bc,#4639dd,#2f75f9,#3271fa,#4430cc,#4226bc,#3e58f4,#2d7af8,#2b7df7,#2c7bf8,#3171fa,#346cf9,#2e77f9,#2b7cf7)"></i>
<i style="top:42.0px;height:2.6px;background:linear-gradient(90deg,#2b7df7,#3074f9,#346bf9,#2f75f9,#2b7df7,#2a7ef7,#2b7df7,#2d7af8,#2c7bf8,#2a7ef7,#2a7ef7,#3171fa,#442ec9,#4226bc,#3863f7,#2a7ff7,#297ff7,#326ffa,#3e58f4,#3270fa,#2881f6,#2687f4,#2589f3,#2883f6,#3074f9,#3271fa,#2881f6,#238df1,#238cf1,#2a7ff7,#3f53f0,#453de0,#3173f9,#2686f4,#2881f6,#3b5ef5,#432cc6,#3e57f3,#2a7ff7,#2686f4,#2a7ff7,#3c5cf5,#442fcb,#3e59f4,#2b7cf7,#2e78f8,#453fe2,#432bc4,#3765f7,#2a7ff7,#2882f6,#2980f6,#2c7bf7,#2d79f8,#2b7cf7,#2a7ef7)"></i>
<i style="top:44.0px;height:2.6px;background:linear-gradient(90deg,#2a7ef7,#356af9,#4050ee,#346df9,#2a7ff7,#2882f6,#2882f6,#2882f6,#2784f5,#2588f3,#2589f3,#2b7df7,#4052ef,#4344e5,#2c7af8,#1f95ed,#1d99eb,#2191ef,#2589f3,#1f96ed,#1aa3e3,#19a7df,#19aadc,#18aadc,#19a6e0,#19a7df,#17b2d4,#17b4d1,#16b3d3,#18aadc,#2190ef,#2785f5,#1b9fe7,#18aadc,#19a6e0,#248bf2,#3074f9,#2785f5,#1ba0e6,#1aa4e2,#1ba0e6,#2589f3,#2f76f9,#2783f5,#1d99eb,#2093ee,#2f75f9,#3668f8,#2882f6,#1f96ed,#1e98ec,#228ff0,#2686f4,#2981f6,#2882f6,#2882f6)"></i>
<i style="top:46.0px;height:2.6px;background:linear-gradient(90deg,#2882f6,#3a60f6,#4534d4,#3864f7,#2784f5,#248cf2,#248cf2,#238ef1,#1f96ed,#1b9fe7,#1aa4e2,#1ba1e5,#248bf2,#248bf2,#18add9,#23bcbc,#29c0b1,#2ac1af,#2cc2ac,#3bc59f,#4dc791,#5ac987,#68ca7e,#79c974,#85c86d,#97c763,#b3c553,#b0c655,#a6c65a,#92c866,#65ca80,#57c88a,#6aca7c,#76c976,#68ca7d,#48c696,#2bc1ae,#3ac5a0,#50c78f,#51c88f,#48c695,#31c4a7,#24bdb9,#29c1b1,#32c4a6,#2bc2ae,#1bb7c9,#17b2d4,#20bac1,#26beb6,#25beb7,#18aed8,#1d99eb,#2589f3,#248af2,#248af2)"></i>
<i style="top:48.0px;height:2.6px;background:linear-gradient(90deg,#2589f3,#3a60f6,#442fcc,#3766f8,#238ef1,#1f96ed,#1f96ed,#1c9bea,#18add9,#22bcbd,#2fc3a8,#3bc5a0,#38c4a2,#4ac794,#8cc869,#c6c24a,#dfbe3e,#e9bd39,#ecbd37,#f1bd34,#f5be31,#f9be2e,#fac12b,#f9c629,#f9cb26,#f8d024,#f8d621,#f8d422,#f8d223,#f9cf25,#f9ca27,#f9c729,#f9c728,#f9c629,#fac42a,#fabe2d,#f6be30,#f6be30,#f8be2f,#f6be30,#f5be31,#f1be33,#eebd36,#eebd36,#eebd36,#ecbd37,#e3be3c,#d6c043,#ddbf3f,#debf3f,#d8bf41,#4dc791,#18aed8,#238ef1,#238ef1,#238ef1)"></i>
<i style="top:50.0px;height:2.6px;background:linear-gradient(90deg,#1e98ec,#2f75f9,#4050ee,#2c7af8,#1b9fe7,#1aa5e1,#1aa3e3,#18abdb,#2cc3ab,#8bc869,#c7c24a,#e0be3e,#ebbd38,#f2be33,#fac02c,#f9cc26,#f8d323,#f8d721,#f7da1f,#f7de1d,#f7e21b,#f6e519,#f6e917,#f5ec15,#f5ee14,#f5ee14,#f5ee14,#f5ee14,#f5ee14,#f5ee14,#f5ee14,#f5ee14,#f5ee14,#f5ed14,#f5ec15,#f6ea16,#f6e818,#f6e718,#f6e718,#f6e619,#f6e419,#f6e31a,#f7e11b,#f7e11b,#f7e01c,#f7df1c,#f7dc1e,#f7da1f,#f7da1f,#f8d91f,#f8d820,#d8bf41,#24bdba,#228ff0,#228ff0,#228ff0)"></i>
<i style="top:52.0px;height:2.6px;background:linear-gradient(90deg,#19a9dd,#1f95ed,#2981f6,#1b9ee8,#16b4d2,#18b5cf,#17b2d4,#1ebac3,#71c978,#ecbd37,#f7be2f,#fac02c,#f9c529,#f9cc26,#f8d323,#f8d91f,#f7dc1e,#f7dd1d,#f7dd1d,#f7de1d,#f7de1d,#f7de1d,#f7de1d,#f7de1d,#f7dd1d,#f7dc1e,#f7db1e,#f7dc1e,#f7dd1d,#f7de1d,#f7de1d,#f7df1c,#f7e01c,#f7e01b,#f7e11b,#f7e11b,#f7e11b,#f7e21b,#f6e21a,#f6e31a,#f6e31a,#f6e419,#f6e519,#f6e618,#f6e718,#f6e817,#f6e817,#f6e917,#f6e916,#f5ea16,#f5ea16,#f0bd34,#30c3a8,#2190ef,#2190ef,#2190ef)"></i>
<i style="top:54.0px;height:2.6px;background:linear-gradient(90deg,#16b3d3,#18aed8,#19a8de,#18b5cf,#22bcbd,#21bbbf,#1cb8c8,#26beb7,#85c86d,#ecbd37,#f4be32,#f4be31,#f4be31,#f5be31,#f6be30,#f6be30,#f5be31,#f4be32,#f2be33,#f1bd34,#efbd35,#eebd36,#ecbd37,#eabd38,#e8bd3a,#e1be3d,#d9bf41,#ddbf3f,#e2be3d,#e7bd3b,#e9bd39,#eabd39,#ebbd38,#ecbd37,#edbd36,#eebd36,#efbd35,#f0bd34,#f1bd34,#f2be33,#f3be32,#f5be31,#f7be2f,#f8be2e,#fabe2d,#fac02c,#fac22b,#fac42a,#f9c629,#f9c828,#f9ca27,#cfc146,#27bfb5,#2192ef,#2192ef,#2192ef)"></i>
<i style="top:56.0px;height:2.6px;background:linear-gradient(90deg,#17b0d6,#17b1d5,#17b1d5,#19b6cd,#1db8c6,#1bb7ca,#16b4d1,#1db9c5,#48c696,#91c866,#a2c75c,#95c764,#8ac86a,#7fc971,#74c977,#6aca7d,#61ca83,#5ac987,#54c88c,#4ec791,#48c696,#41c69a,#3bc59f,#35c4a4,#2fc3a8,#2bc2ad,#29c0b1,#2ac1af,#2bc2ad,#2dc3aa,#30c3a8,#33c4a6,#36c4a3,#39c5a1,#3cc59e,#40c59c,#43c699,#46c697,#4ac794,#4dc791,#52c88e,#57c88a,#5cc986,#62ca82,#69ca7d,#72c978,#7ac973,#83c86e,#8cc869,#95c764,#9fc75e,#47c696,#16b3d3,#2093ee,#2093ee,#2093ee)"></i>
<i style="top:58.0px;height:2.6px;background:linear-gradient(90deg,#1aa5e1,#19a7df,#19a8de,#18aadc,#18abdb,#18aadc,#19a7df,#18abdb,#1bb7ca,#25beb7,#26beb6,#23bcbc,#1fbac2,#1db8c6,#1ab7cb,#18b5cf,#16b4d2,#17b2d4,#17b0d6,#17afd7,#18add9,#18acda,#18abdb,#19a9dd,#19a8de,#19a7df,#1aa6e0,#19a6e0,#19a7df,#19a7df,#19a8de,#19a9dd,#19a9dd,#19aadc,#18abdb,#18abdb,#18acda,#18add9,#18aed8,#17aed8,#17afd7,#17b0d6,#17b2d4,#16b3d3,#16b4d2,#17b5cf,#19b6cd,#1ab7cb,#1cb8c8,#1db9c6,#1ebac3,#17b2d4,#1aa3e3,#2094ee,#2094ee,#2094ee)"></i>
<i style="top:60.0px;height:2.6px;background:linear-gradient(90deg,#2785f5,#2686f4,#2784f5,#2882f6,#2a7ff7,#2b7df7,#2b7cf7,#2b7df7,#2882f6,#2686f4,#2685f4,#2783f5,#2881f6,#2980f6,#2a7ff7,#2a7ef7,#2a7ef7,#2b7df7,#2b7cf7,#2b7cf7,#2c7cf7,#2c7bf8,#2c7bf8,#2c7af8,#2c7af8,#2d7af8,#2d79f8,#2d7af8,#2d7af8,#2d7af8,#2c7af8,#2c7af8,#2c7af8,#2c7bf8,#2c7bf8,#2c7bf8,#2c7bf8,#2c7bf7,#2c7cf7,#2b7cf7,#2b7cf7,#2b7cf7,#2b7df7,#2b7df7,#2a7ef7,#2a7ef7,#2a7ef7,#2a7ff7,#2a7ff7,#2980f6,#2784f5,#2784f5,#2883f6,#2a7ff7,#2a7ff7,#2a7ff7)"></i>
<i style="top:62.0px;height:2.6px;background:linear-gradient(90deg,#2a7ef7,#2a7ef7,#3073f9,#3c5bf5,#453ce0,#442ec9,#432dc9,#442ec9,#442fcc,#4430cd,#4430cd,#442fcc,#442fcb,#442eca,#442ec9,#442ec9,#432dc8,#432dc8,#432dc8,#432dc8,#432dc7,#432dc7,#432cc7,#432cc7,#432cc7,#432cc7,#432cc6,#432cc6,#432cc7,#432cc7,#432cc7,#432cc7,#432cc7,#432cc7,#432cc7,#432dc7,#432dc7,#432dc7,#432dc7,#432dc7,#432dc8,#432dc8,#432dc8,#432dc8,#432dc8,#432dc9,#442ec9,#442ec9,#442ec9,#4534d3,#4050ee,#356bf9,#2b7cf7,#2b7df7,#2b7df7,#2b7df7)"></i>
<i style="top:64.0px;height:2.6px;background:linear-gradient(90deg,#1e97ec,#1e97ec,#2191ef,#2588f3,#2980f6,#2b7cf7,#2b7cf7,#2b7cf7,#2b7cf7,#2b7cf7,#2b7cf7,#2b7cf7,#2b7cf7,#2b7cf7,#2b7cf7,#2b7cf7,#2b7cf7,#2b7cf7,#2b7cf7,#2b7cf7,#2b7cf7,#2c7cf7,#2c7cf7,#2c7cf7,#2c7cf7,#2c7cf7,#2c7cf7,#2c7cf7,#2c7cf7,#2c7cf7,#2c7cf7,#2c7cf7,#2c7cf7,#2c7cf7,#2c7cf7,#2c7cf7,#2c7cf7,#2c7cf7,#2b7cf7,#2b7cf7,#2b7cf7,#2b7cf7,#2b7cf7,#2b7cf7,#2b7cf7,#2b7cf7,#2b7cf7,#2b7cf7,#2b7cf7,#2a7ef7,#2785f5,#238ef1,#1f97ed,#1e97ec,#1e97ec,#1e97ec)"></i>
<i style="top:66.0px;height:2.6px;background:linear-gradient(90deg,#1cb8c8,#1cb8c8,#1cb8c8,#1cb8c8,#1bb7c9,#1bb7c9,#1bb7c9,#1bb7c9,#1bb7c9,#1bb7c9,#1bb7c9,#1bb7c9,#1bb7c9,#1bb7c9,#1bb7c9,#1bb7c9,#1bb7c9,#1bb7c9,#1bb7c9,#1bb7c9,#1bb7c9,#1bb7c9,#1bb7c9,#1bb7c9,#1bb7c9,#1bb7c9,#1bb7c9,#1bb7c9,#1bb7c9,#1bb7c9,#1bb7c9,#1bb7c9,#1bb7c9,#1bb7c9,#1bb7c9,#1bb7c9,#1bb7c9,#1bb7c9,#1bb7c9,#1bb7c9,#1bb7c9,#1bb7c9,#1bb7c9,#1bb7c9,#1bb7c9,#1bb7c9,#1bb7c9,#1bb7c9,#1bb7c9,#1bb7c9,#1bb8c9,#1cb8c8,#1cb8c8,#1cb8c8,#1cb8c8,#1cb8c8)"></i>
<i style="top:68.0px;height:2.6px;background:linear-gradient(90deg,#1cb8c8,#1cb8c8,#1cb8c8,#1cb8c8,#1cb8c8,#1cb8c8,#1cb8c8,#1cb8c8,#1cb8c8,#1cb8c8,#1cb8c8,#1cb8c8,#1cb8c8,#1cb8c8,#1cb8c8,#1cb8c8,#1cb8c8,#1cb8c8,#1cb8c8,#1cb8c8,#1cb8c8,#1cb8c8,#1cb8c8,#1cb8c8,#1cb8c8,#1cb8c8,#1cb8c8,#1cb8c8,#1cb8c8,#1cb8c8,#1cb8c8,#1cb8c8,#1cb8c8,#1cb8c8,#1cb8c8,#1cb8c8,#1cb8c8,#1cb8c8,#1cb8c8,#1cb8c8,#1cb8c8,#1cb8c8,#1cb8c8,#1cb8c8,#1cb8c8,#1cb8c8,#1cb8c8,#1cb8c8,#1cb8c8,#1cb8c8,#1cb8c8,#1cb8c8,#1cb8c8,#1cb8c8,#1cb8c8,#1cb8c8)"></i>
<i style="top:70.0px;height:2.6px;background:linear-gradient(90deg,#2881f6,#2881f6,#2881f6,#2881f6,#2881f6,#2881f6,#2881f6,#2881f6,#2881f6,#2881f6,#2881f6,#2881f6,#2881f6,#2881f6,#2881f6,#2881f6,#2881f6,#2881f6,#2881f6,#2881f6,#2881f6,#2881f6,#2881f6,#2881f6,#2881f6,#2881f6,#2881f6,#2881f6,#2881f6,#2881f6,#2881f6,#2881f6,#2881f6,#2881f6,#2881f6,#2881f6,#2881f6,#2881f6,#2881f6,#2881f6,#2881f6,#2881f6,#2881f6,#2881f6,#2881f6,#2881f6,#2881f6,#2881f6,#2881f6,#2881f6,#2881f6,#2881f6,#2881f6,#2881f6,#2881f6,#2881f6)"></i>
<i style="top:72.0px;height:2.6px;background:linear-gradient(90deg,#3e57f3,#3e57f3,#3e57f3,#3e57f3,#3e57f3,#3e57f3,#3e57f3,#3e57f3,#3e57f3,#3e57f3,#3e57f3,#3e57f3,#3e57f3,#3e57f3,#3e57f3,#3e57f3,#3e57f3,#3e57f3,#3e57f3,#3e57f3,#3e57f3,#3e57f3,#3e57f3,#3e57f3,#3e57f3,#3e57f3,#3e57f3,#3e57f3,#3e57f3,#3e57f3,#3e57f3,#3e57f3,#3e57f3,#3e57f3,#3e57f3,#3e57f3,#3e57f3,#3e57f3,#3e57f3,#3e57f3,#3e57f3,#3e57f3,#3e57f3,#3e57f3,#3e57f3,#3e57f3,#3e57f3,#3e57f3,#3e57f3,#3e57f3,#3e57f3,#3e57f3,#3e57f3,#3e57f3,#3e57f3,#3e57f3)"></i>
<i style="top:74.0px;height:2.6px;background:linear-gradient(90deg,#4536d7,#4536d7,#4536d7,#4536d7,#4536d7,#4536d7,#4536d7,#4536d7,#4536d7,#4536d7,#4536d7,#4536d7,#4536d7,#4536d7,#4536d7,#4536d7,#4536d7,#4536d7,#4536d7,#4536d7,#4536d7,#4536d7,#4536d7,#4536d7,#4536d7,#4536d7,#4536d7,#4536d7,#4536d7,#4536d7,#4536d7,#4536d7,#4536d7,#4536d7,#4536d7,#4536d7,#4536d7,#4536d7,#4536d7,#4536d7,#4536d7,#4536d7,#4536d7,#4536d7,#4536d7,#4536d7,#4536d7,#4536d7,#4536d7,#4536d7,#4536d7,#4536d7,#4536d7,#4536d7,#4536d7,#4536d7)"></i>
<i style="top:76.0px;height:2.6px;background:linear-gradient(90deg,#432dc8,#432dc8,#432dc8,#432dc8,#432dc8,#432dc8,#432dc8,#432dc8,#432dc8,#432dc8,#432dc8,#432dc8,#432dc8,#432dc8,#432dc8,#432dc8,#432dc8,#432dc8,#432dc8,#432dc8,#432dc8,#432dc8,#432dc8,#432dc8,#432dc8,#432dc8,#432dc8,#432dc8,#432dc8,#432dc8,#432dc8,#432dc8,#432dc8,#432dc8,#432dc8,#432dc8,#432dc8,#432dc8,#432dc8,#432dc8,#432dc8,#432dc8,#432dc8,#432dc8,#432dc8,#432dc8,#432dc8,#432dc8,#432dc8,#432dc8,#432dc8,#432dc8,#432dc8,#432dc8,#432dc8,#432dc8)"></i>
<i style="top:78.0px;height:2.6px;background:linear-gradient(90deg,#442fcb,#442fcb,#442fcb,#442fcb,#442fcb,#442fcb,#442fcb,#442fcb,#442fcb,#442fcb,#442fcb,#442fcb,#442fcb,#442fcb,#442fcb,#442fcb,#442fcb,#442fcb,#442fcb,#442fcb,#442fcb,#442fcb,#442fcb,#442fcb,#442fcb,#442fcb,#442fcb,#442fcb,#442fcb,#442fcb,#442fcb,#442fcb,#442fcb,#442fcb,#442fcb,#442fcb,#442fcb,#442fcb,#442fcb,#442fcb,#442fcb,#442fcb,#442fcb,#442fcb,#442fcb,#442fcb,#442fcb,#442fcb,#442fcb,#442fcb,#442fcb,#442fcb,#442fcb,#442fcb,#442fcb,#442fcb)"></i>
<i style="top:80.0px;height:2.6px;background:linear-gradient(90deg,#4536d7,#4536d7,#4536d7,#4536d7,#4536d7,#4536d7,#4536d7,#4536d7,#4536d7,#4536d7,#4536d7,#4536d7,#4536d7,#4536d7,#4536d7,#4536d7,#4536d7,#4536d7,#4536d7,#4536d7,#4536d7,#4536d7,#4536d7,#4536d7,#4536d7,#4536d7,#4536d7,#4536d7,#4536d7,#4536d7,#4536d7,#4536d7,#4536d7,#4536d7,#4536d7,#4536d7,#4536d7,#4536d7,#4536d7,#4536d7,#4536d7,#4536d7,#4536d7,#4536d7,#4536d7,#4536d7,#4536d7,#4536d7,#4536d7,#4536d7,#4536d7,#4536d7,#4536d7,#4536d7,#4536d7,#4536d7)"></i>
<i style="top:82.0px;height:2.4px;background:linear-gradient(90deg,#4441e3,#4441e3,#4441e3,#4441e3,#4441e3,#4441e3,#4441e3,#4441e3,#4441e3,#4441e3,#4441e3,#4441e3,#4441e3,#4441e3,#4441e3,#4441e3,#4441e3,#4441e3,#4441e3,#4441e3,#4441e3,#4441e3,#4441e3,#4441e3,#4441e3,#4441e3,#4441e3,#4441e3,#4441e3,#4441e3,#4441e3,#4441e3,#4441e3,#4441e3,#4441e3,#4441e3,#4441e3,#4441e3,#4441e3,#4441e3,#4441e3,#4441e3,#4441e3,#4441e3,#4441e3,#4441e3,#4441e3,#4441e3,#4441e3,#4441e3,#4441e3,#4441e3,#4441e3,#4441e3,#4441e3,#4441e3)"></i>
</div>
<div class="pn" style="left:299.20px;top:12.00px;width:109.50px;height:83.80px">
<i style="top:0.0px;height:2.6px;background:linear-gradient(90deg,#3d59f4,#3d59f4,#3e59f4,#3e58f4,#4050ee,#4535d6,#4226bc,#4431cf,#414dec,#3e58f4,#3e58f4,#4536d8,#453de0,#3e58f4,#4247e8,#4431ce,#3f56f2,#3e59f4,#4248e8,#4430ce,#3f54f1,#4537d9,#453ce0,#3f53f0,#442eca,#414cec,#4052f0,#442ec9,#404fed,#3f54f1,#442eca,#414ceb,#3e59f4,#3e59f4,#4249e9,#4430cc,#3f55f2,#3f54f1,#442fcb,#414beb,#424aea,#442fcc,#3f54f1,#4639dc,#463add,#3e58f4,#424aea,#442fcb,#3f55f2,#3f55f2,#442fcc,#424aea,#424bea,#442fcb,#3f54f1,#3e59f4)"></i>
<i style="top:2.0px;height:2.6px;background:linear-gradient(90deg,#3c5bf5,#3c5bf5,#3d5bf5,#3d5af5,#4052ef,#4536d7,#4226bc,#4432d0,#414eed,#3d5af4,#3d5af4,#4537d9,#453fe1,#3d5af5,#4249e9,#4431cf,#3e58f4,#3d5bf5,#4249e9,#4431ce,#3e57f3,#4638db,#453de0,#3f55f2,#442fcb,#414eed,#3f54f1,#442eca,#4051ef,#3e56f3,#442fcb,#414eed,#3d5bf5,#3d5bf5,#414beb,#4430cd,#3e57f4,#3e57f3,#442fcb,#414dec,#414ceb,#4430cd,#3e56f3,#463ade,#463bde,#3d5af5,#414ceb,#442fcc,#3e57f3,#3e57f3,#4430cc,#414ceb,#414dec,#442fcc,#3e57f3,#3d5bf5)"></i>
<i style="top:4.0px;height:2.6px;background:linear-gradient(90deg,#3b5ef5,#3b5ef5,#3b5ef5,#3c5df5,#3f55f2,#4537da,#4226bc,#4533d3,#4052ef,#3c5df5,#3c5df5,#4639dd,#4442e4,#3b5df5,#414ceb,#4533d2,#3d5bf5,#3b5ef5,#414dec,#4533d2,#3d5af4,#463ade,#4441e3,#3e58f4,#4431ce,#4052ef,#3e58f4,#4430cd,#3f54f1,#3d59f4,#4431cf,#4051ef,#3b5ef5,#3b5ef5,#414eed,#4432d1,#3d5af5,#3d5af4,#4431cf,#4050ee,#404fed,#4432d0,#3d59f4,#453de0,#453ee1,#3c5df5,#4050ee,#4432d0,#3d5af4,#3d5af5,#4432d0,#404fee,#4050ee,#4431cf,#3d5af4,#3b5ef5)"></i>
<i style="top:6.0px;height:2.6px;background:linear-gradient(90deg,#3961f6,#3961f6,#3961f6,#3a61f6,#3d59f4,#463ade,#4228bf,#4536d7,#3f56f3,#3a60f6,#3a60f6,#453ee1,#4347e8,#3a61f6,#4051ef,#4537d8,#3b5ff6,#3961f6,#4052ef,#4536d8,#3b5df5,#453fe2,#4346e7,#3c5cf5,#4534d4,#3e57f3,#3c5cf5,#4534d3,#3e59f4,#3c5df5,#4535d5,#3f56f3,#3961f6,#3961f6,#3f53f1,#4536d7,#3b5ef6,#3b5df5,#4535d5,#3f55f2,#3f54f1,#4535d6,#3c5df5,#4442e4,#4443e5,#3a61f6,#3f54f1,#4535d6,#3b5ef5,#3b5ef5,#4535d6,#3f54f1,#3f55f2,#4535d5,#3b5df5,#3961f6)"></i>
<i style="top:8.0px;height:2.6px;background:linear-gradient(90deg,#3765f7,#3765f7,#3765f7,#3864f7,#3c5df5,#453fe1,#432bc4,#4639dc,#3d5af5,#3864f7,#3864f7,#4345e6,#414dec,#3864f7,#3e57f3,#453cdf,#3962f7,#3865f7,#3e57f3,#463cdf,#3961f6,#4346e7,#414ceb,#3a60f6,#4639dc,#3c5bf5,#3a5ff6,#4638db,#3c5df5,#3a61f6,#4639dd,#3d5bf5,#3865f7,#3865f7,#3e59f4,#463bde,#3962f6,#3961f6,#463add,#3d5af4,#3e59f4,#463ade,#3a61f6,#4248e8,#4249e9,#3864f7,#3d59f4,#463ade,#3961f6,#3962f6,#463ade,#3d59f4,#3d5af4,#463add,#3961f6,#3765f7)"></i>
<i style="top:10.0px;height:2.6px;background:linear-gradient(90deg,#356af8,#356af8,#356af8,#3669f8,#3961f6,#4344e6,#442fcb,#453ee1,#3b5ff6,#3668f8,#3669f8,#414eed,#3f56f2,#3569f8,#3b5df5,#4346e7,#3667f8,#3569f8,#3b5df5,#4346e7,#3766f8,#404fed,#3f55f1,#3765f7,#4443e5,#3a61f6,#3865f7,#4443e4,#3962f7,#3766f7,#4344e5,#3a60f6,#356af8,#356af8,#3b5ef6,#4345e6,#3767f8,#3766f8,#4344e5,#3a60f6,#3b5ff6,#4345e6,#3766f7,#4051ef,#4052f0,#3669f8,#3a5ff6,#4344e6,#3766f8,#3766f8,#4345e6,#3b5ff6,#3a60f6,#4344e5,#3766f8,#356af8)"></i>
<i style="top:12.0px;height:2.6px;background:linear-gradient(90deg,#3172fa,#3172fa,#3172fa,#3171fa,#356af9,#4050ee,#4536d8,#424aea,#3668f8,#3271fa,#3171fa,#3b5ef5,#3963f7,#3171fa,#3668f8,#3e59f4,#3270fa,#3172fa,#3669f8,#3e59f4,#3270fa,#3b5ef6,#3962f6,#326ffa,#3e57f3,#346bf9,#336ffa,#3f56f2,#346df9,#3270fa,#3e57f3,#346bf9,#3172fa,#3172fa,#356af8,#3e58f4,#3270fa,#3270fa,#3e57f3,#356bf9,#356af8,#3e58f4,#3270fa,#3a60f6,#3a60f6,#3171fa,#356af9,#3e57f3,#3270fa,#3270fa,#3e57f4,#356af8,#356af9,#3e57f3,#3270fa,#3172fa)"></i>
<i style="top:14.0px;height:2.6px;background:linear-gradient(90deg,#2e77f8,#2e77f8,#2e77f8,#2e77f8,#3172fa,#3c5bf5,#4441e3,#3f56f2,#3271fa,#2e77f9,#2e77f8,#346df9,#3270fa,#2e77f8,#3073f9,#3569f8,#2e77f9,#2e77f8,#3073f9,#3669f8,#2f76f9,#336df9,#3270fa,#2f76f9,#3668f8,#3074f9,#2f76f9,#3667f8,#2f75f9,#2f76f9,#3668f8,#3074f9,#2e77f8,#2e77f8,#3073f9,#3668f8,#2e76f9,#2f76f9,#3668f8,#3074f9,#3073f9,#3668f8,#2f76f9,#336efa,#336efa,#2e77f9,#3073f9,#3668f8,#2f76f9,#2e76f9,#3668f8,#3073f9,#3074f9,#3668f8,#2f76f9,#2e77f8)"></i>
<i style="top:16.0px;height:2.6px;background:linear-gradient(90deg,#2980f7,#2980f7,#2980f7,#2a7ff7,#2c7bf8,#3669f8,#3f53f1,#3864f7,#2d79f8,#2a7ff7,#297ff7,#2d7af8,#2c7bf8,#2a7ff7,#2b7cf7,#2e78f8,#2a7ff7,#2980f7,#2b7df7,#2d78f8,#2a7ff7,#2d7af8,#2c7bf8,#2a7ef7,#2e77f8,#2a7ef7,#2a7ef7,#2e77f8,#2a7ef7,#2a7ff7,#2e77f8,#2b7df7,#2a7ff7,#2980f7,#2b7df7,#2e78f8,#2a7ff7,#2a7ff7,#2e78f8,#2b7df7,#2b7df7,#2e78f8,#2a7ff7,#2c7af8,#2d7af8,#2b7df7,#2c7bf8,#2e77f8,#2a7ff7,#2a7ff7,#2e78f8,#2b7df7,#2b7df7,#2e78f8,#2a7ff7,#2980f7)"></i>
<i style="top:18.0px;height:2.6px;background:linear-gradient(90deg,#238df1,#238df1,#238df1,#238df1,#2687f4,#2e77f8,#3668f8,#3074f9,#2785f5,#238cf1,#238df1,#2589f3,#2589f3,#248bf2,#2589f3,#2687f4,#238df1,#238df1,#248bf2,#2687f4,#238df1,#2588f3,#2588f3,#248af2,#2686f4,#248cf2,#238cf1,#2687f4,#238cf1,#238cf1,#2783f5,#2686f4,#248bf2,#238df1,#248bf2,#2687f4,#238cf1,#238df1,#2687f4,#248bf2,#248af2,#2785f5,#248cf2,#2589f3,#2686f4,#2882f6,#2881f6,#2784f5,#238cf1,#238df1,#2687f4,#248bf2,#248cf2,#2687f4,#238df1,#238df1)"></i>
<i style="top:20.0px;height:2.6px;background:linear-gradient(90deg,#1d9aeb,#1d9aeb,#1d9aeb,#1d9aeb,#1f95ed,#2883f6,#2e78f8,#2980f6,#2093ee,#1d99eb,#1d9aeb,#1e98ec,#1f96ed,#2093ee,#2192ef,#1f95ed,#1d9aeb,#1d9aeb,#1d99eb,#1e97ec,#1d9aeb,#1e97ec,#2092ee,#2192ef,#2093ee,#1e99ec,#1d9aeb,#1e97ec,#1d99eb,#1e97ec,#248bf2,#2588f3,#2093ee,#1d99eb,#1e98ec,#2094ee,#1e97ec,#1d99eb,#1e97ec,#1e98ec,#2094ee,#228ff0,#1f96ed,#1e97ec,#228ff0,#297ff7,#2a7ff7,#228ef0,#1d99eb,#1d99eb,#1f96ed,#1d99eb,#1d99eb,#1e97ec,#1d9aeb,#1d9aeb)"></i>
<i style="top:22.0px;height:2.6px;background:linear-gradient(90deg,#1aa4e2,#1aa4e2,#1aa4e2,#1aa3e3,#1ba0e6,#2093ee,#2687f4,#2190ef,#1b9ee8,#1aa3e3,#1aa4e2,#1aa2e4,#1c9de9,#2290f0,#2191ef,#1c9de9,#1aa3e3,#1aa3e3,#1aa2e4,#1ba2e4,#1aa3e3,#1ba0e6,#2093ee,#238ef1,#1d99eb,#1ba1e5,#1ba2e4,#1ba2e4,#1aa3e3,#1b9ee8,#2687f4,#2a7ef7,#2093ee,#1ba1e5,#1ba0e6,#1d99eb,#1d9beb,#1ba1e5,#1ba2e4,#1ba0e6,#1f94ed,#238cf1,#1d9aeb,#1ba0e6,#2093ee,#2f75f9,#2f75f9,#2093ee,#1ba1e5,#1ba0e6,#1b9ee8,#1aa2e4,#1aa3e3,#1aa2e4,#1aa4e2,#1aa4e2)"></i>
<i style="top:24.0px;height:2.6px;background:linear-gradient(90deg,#1aa6e0,#1aa6e0,#1aa6e0,#1aa5e1,#1aa3e3,#1c9bea,#2093ee,#1e98ec,#1b9fe7,#1aa3e3,#1aa5e1,#1aa4e2,#1e97ec,#2b7cf7,#2a7ef7,#1e99ec,#1ba2e4,#1aa3e3,#1aa2e4,#1ba1e5,#1aa3e3,#1b9ee8,#2883f6,#2d79f8,#228ef0,#1c9de9,#1ba0e6,#1aa3e3,#1aa5e1,#1c9cea,#2e78f8,#3766f7,#2686f4,#1ba1e5,#1c9ee8,#248af2,#248bf2,#1b9ee8,#1aa4e2,#1b9fe7,#2784f5,#2e78f8,#228ff0,#1ba0e6,#238ef1,#3a5ff6,#3a5ff6,#238ef1,#1ba0e6,#1e98ec,#1e98ec,#1ba1e5,#1aa5e1,#1aa5e1,#1aa6e0,#1aa6e0)"></i>
<i style="top:26.0px;height:2.6px;background:linear-gradient(90deg,#1b9fe7,#1b9fe7,#1b9fe7,#1b9ee8,#1c9de9,#1e98ec,#2192ef,#2190ef,#2190ef,#1e97ec,#1c9de9,#1c9cea,#2785f5,#3d5bf5,#3a60f6,#2784f5,#2191ef,#1f94ed,#2192ef,#228ff0,#1e97ec,#2190ef,#346cf9,#4052f0,#2d78f8,#2784f5,#248af2,#1e99ec,#1c9de9,#2290f0,#3a61f6,#463ade,#2f75f9,#1f96ed,#238cf1,#336ef9,#336ef9,#238cf1,#1c9cea,#2092ee,#336ef9,#414eed,#2d78f8,#2093ee,#2882f6,#414ceb,#414ceb,#2882f6,#2191ef,#2b7df7,#2b7df7,#2093ee,#1c9ee8,#1b9ee8,#1b9fe7,#1b9fe7)"></i>
<i style="top:28.0px;height:2.6px;background:linear-gradient(90deg,#248af2,#248af2,#248af2,#248af2,#2589f3,#2686f4,#2881f6,#2d79f8,#3270fa,#2d7af8,#2686f4,#2686f4,#3172fa,#4430cd,#4534d4,#3669f8,#326ffa,#2f75f9,#3171fa,#356bf9,#2c7bf8,#2c7bf8,#4345e6,#4228bf,#3f55f2,#3c5cf5,#3765f7,#2a7ef7,#2588f3,#2b7df7,#4443e5,#4226bc,#3e57f3,#2a7ef7,#3074f9,#4533d3,#4430cd,#3172fa,#2785f5,#2b7df7,#4347e7,#4226bc,#4050ee,#2d79f8,#2f76f9,#4345e6,#4345e6,#2e77f9,#2d78f8,#414eed,#414eec,#2d79f8,#2588f3,#248af2,#248af2,#248af2)"></i>
<i style="top:30.0px;height:2.6px;background:linear-gradient(90deg,#2882f6,#2882f6,#2882f6,#2881f6,#2981f6,#2980f7,#2c7cf7,#3766f8,#4443e4,#3961f6,#2b7cf7,#2a7ff7,#336df9,#4430cd,#4431cf,#4050ee,#4440e2,#3f53f0,#4249e9,#463ade,#356af8,#2f75f9,#4443e4,#4228bf,#4443e5,#4431cf,#463add,#3073f9,#2980f7,#2d79f8,#4345e6,#4226bc,#453ee1,#2f75f9,#3669f8,#4226bc,#4226bc,#3d59f4,#2b7cf7,#2e78f8,#4442e4,#4226bc,#442fcc,#3765f7,#3074f9,#3c5cf5,#3c5df5,#2f76f9,#336df9,#432dc9,#432dc8,#336efa,#2980f6,#2882f6,#2882f6,#2882f6)"></i>
<i style="top:32.0px;height:2.6px;background:linear-gradient(90deg,#2881f6,#2881f6,#2981f6,#2980f6,#2a7ef7,#2a7ff7,#2c7af8,#3e57f3,#4226bc,#414beb,#2d79f8,#2a7ff7,#3074f9,#414dec,#424aea,#4346e7,#4226bc,#4536d7,#4430ce,#4226bc,#3b5ef6,#2e76f9,#3c5cf5,#4344e5,#414ceb,#4226bc,#432cc7,#326ffa,#2a7ff7,#2c7bf8,#3f55f2,#4226bc,#4430cd,#3270fa,#356bf9,#4226bc,#4226bc,#4344e6,#2d79f8,#2c7af8,#3e59f4,#4226bc,#4226bc,#404fed,#2f75f9,#3073f9,#3073f9,#2c7bf8,#336ef9,#442ec9,#432dc8,#336ef9,#2a7ff7,#2981f6,#2881f6,#2881f6)"></i>
<i style="top:34.0px;height:2.6px;background:linear-gradient(90deg,#2981f6,#2981f6,#2980f6,#2b7cf7,#2e78f8,#2c7bf8,#2d79f8,#4051ef,#4226bc,#4343e5,#2d78f8,#297ff7,#2c7af8,#346cf9,#3766f7,#4249e9,#4226bc,#4431ce,#442eca,#4226bc,#3b5df5,#2d79f8,#3171fa,#3767f8,#3b5ff6,#442eca,#4534d3,#3271fa,#2a7ff7,#2b7df7,#3b5ff6,#4226bc,#4227bd,#346cf9,#3270fa,#432ac3,#4226bc,#4537d8,#2e77f8,#2b7df7,#346cf9,#4534d4,#4226bc,#453ce0,#2f75f9,#2c7bf7,#2b7cf7,#2a7ef7,#3073f9,#4343e5,#4443e5,#3073f9,#2a7ff7,#2981f6,#2981f6,#2981f6)"></i>
<i style="top:36.0px;height:2.6px;background:linear-gradient(90deg,#2980f6,#2980f6,#2a7ef7,#3074f9,#3766f7,#3172fa,#2d78f8,#3c5cf5,#442eca,#4052ef,#2d79f8,#297ff7,#2a7ef7,#2d79f8,#2f75f9,#3d5af5,#442ec9,#4440e3,#4442e4,#4537d8,#3668f8,#2b7cf7,#2c7af8,#2e77f8,#3270fa,#414ceb,#4051ef,#2f76f9,#2a7ff7,#2a7ef7,#3667f8,#4226bd,#432cc6,#346df9,#2f75f9,#463bde,#4226bc,#4537d8,#2f76f9,#2a7ef7,#2f76f9,#424aea,#4226bc,#453ee1,#2f76f9,#2a7ef7,#2a7ff7,#2a7ff7,#2d79f8,#3864f7,#3864f7,#2d79f8,#297ff7,#2980f6,#2980f6,#2980f6)"></i>
<i style="top:38.0px;height:2.6px;background:linear-gradient(90deg,#2980f7,#297ff7,#2b7cf7,#3765f7,#453fe2,#3b5ef6,#2e77f8,#346cf9,#4052f0,#3668f8,#2b7cf7,#2980f7,#297ff7,#2a7ef7,#2b7cf7,#336ef9,#3f53f0,#3a61f6,#3863f7,#3b5ef6,#2f75f9,#2a7ff7,#2a7ff7,#2a7ef7,#2d79f8,#346cf9,#336ef9,#2c7bf8,#2980f6,#2a7ff7,#3171fa,#453fe2,#4343e5,#3073f9,#2d79f8,#3e57f3,#4227be,#4249e9,#2e78f8,#2a7ff7,#2c7bf8,#3962f6,#4536d8,#3f55f2,#2d79f8,#297ff7,#2980f6,#2980f7,#2b7df7,#2f76f9,#2f76f9,#2b7df7,#2980f7,#2980f6,#2980f6,#2980f7)"></i>
<i style="top:40.0px;height:2.6px;background:linear-gradient(90deg,#2981f6,#2981f6,#2c7cf7,#3e57f3,#4226bc,#414beb,#2e78f8,#2d79f8,#3172fa,#2d79f8,#2881f6,#2784f5,#2686f4,#2686f4,#2785f5,#2a7ef7,#2e77f9,#2c7bf8,#2b7cf7,#2c7cf7,#2783f5,#248af2,#248af2,#2589f3,#2686f4,#2980f7,#2980f6,#2785f5,#2687f4,#2686f4,#2b7df7,#346bf9,#346cf9,#2b7df7,#2981f6,#3172fa,#3f56f2,#356af8,#2a7ff7,#2783f5,#2881f6,#2e76f9,#3864f7,#3171fa,#2980f6,#2784f5,#2785f5,#2785f5,#2783f5,#2981f6,#2981f6,#2783f5,#2785f5,#2784f5,#2784f5,#2981f6)"></i>
<i style="top:42.0px;height:2.6px;background:linear-gradient(90deg,#2785f5,#2784f5,#2a7ef7,#3e57f4,#4226bc,#424bea,#2c7bf8,#2883f6,#2784f5,#238cf1,#2093ee,#1e98ec,#1c9de9,#1ba1e5,#1ba1e5,#1ba0e6,#1b9ee8,#1ba2e4,#1aa4e2,#1aa5e1,#19a9dd,#18acda,#18abdb,#19a9dd,#19a7df,#1aa4e2,#1aa3e3,#1aa3e3,#1aa3e3,#1ba1e5,#1c9de9,#2192ef,#2191ef,#1d99eb,#1d9aeb,#228ff0,#2882f6,#2589f3,#1f95ed,#1e97ec,#1f95ed,#228ff0,#2687f4,#238df1,#1f96ed,#1e98ec,#1e99ec,#1d99eb,#1d99eb,#1e99ec,#1d99eb,#1d99eb,#1e99ec,#1e98ec,#2094ee,#2785f5)"></i>
<i style="top:44.0px;height:2.6px;background:linear-gradient(90deg,#2589f3,#2589f3,#2882f6,#3767f8,#4638da,#3b5ff6,#2980f6,#2093ee,#1ba1e5,#17afd7,#19b6cc,#22bcbc,#2cc3ab,#41c69b,#48c696,#4dc791,#53c88d,#5bc987,#63ca80,#6fc97a,#7ec971,#87c86c,#7cc972,#71c978,#66ca7f,#5ec985,#58c889,#52c88e,#4cc792,#46c697,#3ec59d,#32c4a6,#2dc3ab,#2cc3ab,#2bc1ae,#26beb7,#20bbc1,#20bbc1,#21bbbe,#20bbc1,#1fbac2,#1eb9c4,#1db8c6,#1fbac3,#21bbbe,#23bcbc,#23bdbb,#24bdba,#24bdb9,#25beb8,#26beb7,#24bdb9,#22bcbc,#20bac1,#17b5cf,#2589f3)"></i>
<i style="top:46.0px;height:2.6px;background:linear-gradient(90deg,#248bf2,#248bf2,#2588f3,#2e78f8,#3962f7,#3074f9,#2686f4,#19a7df,#27bfb5,#61ca83,#96c764,#c9c249,#ecbd37,#f5be31,#f7be2f,#fabe2d,#fac12b,#f9c52a,#f9c828,#f9cc26,#f9cf24,#f8d223,#f9cf25,#f9cc26,#f9c828,#f9c529,#fac22b,#fac02c,#f9be2e,#f7be2f,#f4be31,#f2be33,#efbd35,#edbd36,#ebbd38,#e8bd3a,#dcbf40,#d4c044,#ccc147,#c3c34c,#bfc34d,#c1c34d,#c2c34c,#c5c24a,#c9c249,#ccc147,#cec146,#d1c145,#d3c044,#d6c043,#d8c042,#cfc146,#c3c34b,#b2c654,#70c979,#248af2)"></i>
<i style="top:48.0px;height:2.6px;background:linear-gradient(90deg,#228ff0,#2191ef,#2191ef,#2588f3,#2a7ff7,#2686f4,#2290f0,#20bbc1,#8dc869,#f0bd35,#fabe2d,#f9cd25,#f7dc1e,#f6e817,#f5eb16,#f5ed14,#f5ee14,#f5ee14,#f5ee14,#f5ee14,#f5ee14,#f5ee14,#f5ee14,#f5ee14,#f5ee14,#f5ee14,#f5ee14,#f5ee14,#f5ec15,#f5ea16,#f6e817,#f6e519,#f6e21a,#f7e01c,#f7dd1d,#f8da1f,#f8d720,#f8d422,#f8d123,#f9cf25,#f9cd25,#f9ce25,#f9ce25,#f9cf25,#f9cf24,#f9cf24,#f9d024,#f8d024,#f8d124,#f8d123,#f8d123,#f9cd25,#f9c828,#fac02c,#ebbd38,#248af2)"></i>
<i style="top:50.0px;height:2.6px;background:linear-gradient(90deg,#1f96ed,#1d9beb,#1c9ee8,#1c9de9,#1c9bea,#1c9de9,#1c9ee8,#34c4a5,#cbc248,#fabf2d,#f9c828,#f8d123,#f7da1f,#f7e01b,#f7e01b,#f7e01b,#f7e01b,#f7e01b,#f7e01b,#f7e01b,#f7e01c,#f7e01c,#f7e01b,#f7e01b,#f7e01b,#f7e01b,#f7e01b,#f7e01b,#f7e01b,#f7e01c,#f7e01c,#f7df1c,#f7de1d,#f7dd1d,#f7dc1e,#f7db1e,#f8da1f,#f8d920,#f8d720,#f8d621,#f8d521,#f8d521,#f8d522,#f8d422,#f8d422,#f8d422,#f8d422,#f8d322,#f8d323,#f8d323,#f8d223,#f9ce25,#f9c928,#fac12b,#ecbd37,#248bf2)"></i>
<i style="top:52.0px;height:2.6px;background:linear-gradient(90deg,#1c9ee8,#1aa4e2,#19a9dd,#18acda,#18add9,#18acda,#19aadc,#32c4a6,#95c764,#dfbe3e,#e4be3c,#e8bd3a,#e9bd39,#e9bd39,#e7bd3a,#e3be3d,#debf3f,#dabf41,#d5c043,#d1c145,#ccc147,#cac248,#cec146,#d2c145,#d5c043,#d9bf41,#ddbf3f,#e0be3e,#e4be3c,#e7bd3a,#e9bd3a,#e9bd39,#eabd39,#eabd39,#eabd38,#ebbd38,#ebbd38,#ebbd38,#ebbd38,#ecbd37,#ebbd38,#ebbd38,#eabd38,#eabd39,#e9bd39,#e9bd39,#e8bd3a,#e6bd3b,#e4be3c,#e1be3d,#dfbe3e,#d5c043,#c9c249,#b7c551,#76c975,#248bf2)"></i>
<i style="top:54.0px;height:2.6px;background:linear-gradient(90deg,#1ba0e6,#19a6e0,#18acda,#17b1d5,#16b2d4,#17b1d5,#18add9,#1fbac2,#2ec3aa,#3fc59c,#36c4a3,#2ec3a9,#2bc2ae,#29c0b2,#27bfb5,#25beb7,#24bdba,#23bcbc,#21bbbe,#20bbc0,#1fbac3,#1eb9c4,#1fbac2,#20bbc0,#21bbbe,#22bcbc,#23bdbb,#25bdb9,#26beb7,#27bfb5,#28c0b3,#29c0b1,#2ac1b0,#2bc1ae,#2bc2ad,#2cc3ab,#2ec3aa,#30c3a8,#32c4a7,#34c4a5,#34c4a5,#32c4a6,#30c3a8,#2fc3a9,#2dc3aa,#2cc3ab,#2cc2ac,#2bc2ae,#2ac1af,#2ac1b0,#29c0b1,#27bfb4,#25beb7,#22bcbc,#1ab7cb,#238cf1)"></i>
<i style="top:56.0px;height:2.6px;background:linear-gradient(90deg,#1c9cea,#1ba1e5,#1aa5e1,#19a7df,#19a6e0,#1aa3e3,#1b9fe7,#1aa3e3,#1aa6e0,#1aa5e1,#1ba1e5,#1b9ee8,#1c9bea,#1d99eb,#1e98ec,#1e97ec,#1f96ed,#1f96ed,#1f95ed,#2094ee,#2094ee,#2093ee,#2094ee,#2094ee,#1f95ed,#1f95ed,#1f96ed,#1f97ed,#1e97ec,#1e98ec,#1e98ec,#1d99eb,#1d9aeb,#1d9aeb,#1d9beb,#1c9bea,#1c9cea,#1c9de9,#1c9de9,#1c9ee8,#1c9ee8,#1c9de9,#1c9de9,#1c9de9,#1c9cea,#1c9cea,#1c9cea,#1c9bea,#1d9beb,#1d9aeb,#1d9aeb,#1d9aeb,#1c9cea,#1c9ee8,#1c9cea,#238cf1)"></i>
<i style="top:58.0px;height:2.6px;background:linear-gradient(90deg,#1f95ed,#1e98ec,#1d9beb,#248af2,#2c7bf8,#356af9,#3a60f6,#3a5ff6,#3b5ef6,#3c5cf5,#3d5af4,#3e57f3,#3f55f2,#3f54f1,#3f54f1,#3f53f0,#3f53f0,#3f53f0,#3f52f0,#4052f0,#4052f0,#4052f0,#4052f0,#4052f0,#3f52f0,#3f53f0,#3f53f0,#3f53f0,#3f53f0,#3f53f1,#3f54f1,#3f54f1,#3f54f1,#3f54f1,#3f55f1,#3f55f2,#3f55f2,#3f55f2,#3f56f2,#3f56f2,#3f56f2,#3f56f2,#3f56f2,#3f55f2,#3f55f2,#3f55f2,#3f55f2,#3f55f2,#3f55f2,#3f55f1,#3f54f1,#3d59f4,#3172f9,#2784f5,#2190ef,#238df1)"></i>
<i style="top:60.0px;height:2.6px;background:linear-gradient(90deg,#2686f4,#2687f4,#2588f3,#2b7cf7,#3270fa,#3b5ef6,#3f56f2,#3f55f2,#3f54f1,#3f53f0,#4052ef,#4051ef,#4050ee,#4050ee,#4050ee,#4050ee,#4050ee,#4050ee,#4050ee,#4050ee,#4050ee,#4050ee,#4050ee,#4050ee,#4050ee,#4050ee,#4050ee,#4050ee,#4050ee,#4050ee,#4050ee,#4050ee,#4050ee,#4050ee,#4050ee,#4050ee,#4050ee,#4050ee,#4050ee,#4050ee,#4050ee,#4050ee,#4050ee,#4050ee,#4050ee,#4050ee,#4050ee,#4050ee,#4050ee,#4050ee,#4050ee,#3f54f1,#346cf9,#2b7cf7,#2784f5,#2784f5)"></i>
<i style="top:62.0px;height:2.6px;background:linear-gradient(90deg,#2b7df7,#2b7df7,#2b7df7,#2b7cf7,#2c7bf8,#2c7af8,#2d7af8,#2d7af8,#2d7af8,#2d7af8,#2d7af8,#2d7af8,#2d7af8,#2d7af8,#2d7af8,#2d7af8,#2d7af8,#2d7af8,#2d7af8,#2d7af8,#2d7af8,#2d7af8,#2d7af8,#2d7af8,#2d7af8,#2d7af8,#2d7af8,#2d7af8,#2d7af8,#2d7af8,#2d7af8,#2d7af8,#2d7af8,#2d7af8,#2d7af8,#2d7af8,#2d7af8,#2d7af8,#2d7af8,#2d7af8,#2d7af8,#2d7af8,#2d7af8,#2d7af8,#2d7af8,#2d7af8,#2d7af8,#2d7af8,#2d79f8,#2d79f8,#2d79f8,#2d79f8,#2c7bf8,#2b7cf7,#2b7cf7,#2b7cf7)"></i>
<i style="top:64.0px;height:2.6px;background:linear-gradient(90deg,#2785f5,#2785f5,#2785f5,#2785f5,#2687f4,#248bf2,#228ef0,#2192ef,#1f96ed,#1e98ec,#1d99eb,#1d9aeb,#1c9bea,#1c9cea,#1c9de9,#1c9de9,#1b9ee8,#1b9fe7,#1ba0e6,#1ba0e6,#1ba1e5,#1ba1e5,#1ba1e5,#1ba1e5,#1ba1e5,#1ba1e5,#1ba1e5,#1ba1e5,#1ba1e5,#1ba2e4,#1ba2e4,#1ba2e4,#1ba2e4,#1ba2e4,#1ba1e5,#1ba1e5,#1ba1e5,#1ba0e6,#1ba0e6,#1b9fe7,#1b9fe7,#1b9ee8,#1b9ee8,#1c9ee8,#1c9de9,#1c9cea,#1d9beb,#1d99eb,#1e98ec,#1e97ec,#1f96ed,#2093ee,#228ff0,#238cf1,#2785f5,#2785f5)"></i>
<i style="top:66.0px;height:2.6px;background:linear-gradient(90deg,#2980f6,#2980f6,#2980f6,#2980f6,#248af2,#1c9cea,#18aadc,#1ab7ca,#28c0b2,#3cc59e,#44c698,#4cc792,#54c88c,#5cc986,#64ca80,#71c979,#7dc971,#8ac86a,#96c763,#a3c75c,#a9c658,#abc657,#adc656,#aec655,#b0c655,#b1c654,#b3c553,#b4c553,#b5c552,#b7c551,#b8c551,#b9c450,#bbc450,#bbc450,#b5c552,#afc655,#a8c659,#a1c75d,#9ac761,#92c865,#8bc86a,#84c86e,#7cc972,#75c976,#68ca7d,#5cc986,#50c78f,#45c698,#3ac5a0,#2ec3a9,#29c0b1,#1eb9c5,#17afd7,#1ba2e4,#2980f6,#2980f6)"></i>
<i style="top:68.0px;height:2.6px;background:linear-gradient(90deg,#2b7cf7,#2b7cf7,#2b7cf7,#2b7cf7,#2686f4,#1c9de9,#17afd7,#23bdbb,#40c59c,#62ca82,#70c979,#80c870,#90c867,#a0c75d,#b0c655,#bcc44f,#c8c249,#d4c043,#e0be3e,#e9bd39,#eabd38,#ebbd38,#ebbd38,#ecbd37,#ecbd37,#ecbd37,#edbd37,#edbd36,#edbd36,#eebd36,#eebd36,#efbd35,#efbd35,#efbd35,#edbd36,#ecbd37,#eabd38,#e9bd3a,#e4be3c,#dcbf3f,#d5c043,#cec146,#c7c24a,#c0c34d,#b4c553,#9fc75e,#88c86b,#72c978,#5ec984,#50c78f,#42c69a,#27bfb4,#17b5d0,#1aa4e2,#2b7cf7,#2b7cf7)"></i>
<i style="top:70.0px;height:2.6px;background:linear-gradient(90deg,#2e77f8,#2e77f8,#2e77f8,#2e77f8,#2c7af8,#2980f7,#2686f4,#238ef1,#1f95ed,#1c9cea,#1c9de9,#1b9fe7,#1ba0e6,#1ba2e4,#1aa3e3,#1aa5e1,#19a6e0,#19a8de,#19a9dd,#18abdb,#18abdb,#18acda,#18acda,#18acda,#18acda,#18acda,#18add9,#18add9,#18add9,#18add9,#18aed8,#18aed8,#18aed8,#18aed8,#18add9,#18acda,#18abdb,#18aadc,#19aadc,#19a9dd,#19a8de,#19a7df,#1aa6e0,#1aa5e1,#1aa4e2,#1ba1e5,#1b9fe7,#1c9de9,#1c9bea,#1e98ec,#1f96ed,#228ff0,#2588f3,#2882f6,#2e77f8,#2e77f8)"></i>
<i style="top:72.0px;height:2.6px;background:linear-gradient(90deg,#3a5ff6,#3a5ff6,#3a5ff6,#3a5ff6,#3a60f6,#3a60f6,#3961f6,#3962f6,#3963f7,#3863f7,#3863f7,#3864f7,#3864f7,#3864f7,#3864f7,#3864f7,#3864f7,#3865f7,#3865f7,#3765f7,#3765f7,#3765f7,#3765f7,#3765f7,#3765f7,#3765f7,#3765f7,#3765f7,#3765f7,#3765f7,#3765f7,#3765f7,#3765f7,#3765f7,#3765f7,#3765f7,#3765f7,#3865f7,#3865f7,#3865f7,#3865f7,#3865f7,#3864f7,#3864f7,#3864f7,#3864f7,#3864f7,#3863f7,#3863f7,#3963f7,#3963f7,#3962f7,#3961f6,#3a61f6,#3a5ff6,#3a5ff6)"></i>
<i style="top:74.0px;height:2.6px;background:linear-gradient(90deg,#4537da,#4537da,#4537da,#4537da,#4537da,#4537da,#4537da,#4537da,#4537da,#4638da,#4638da,#4638da,#4638da,#4638da,#4638da,#4638da,#4638da,#4638da,#4638da,#4638da,#4638da,#4638da,#4638da,#4638da,#4638da,#4638da,#4638da,#4638da,#4638da,#4638da,#4638da,#4638da,#4638da,#4638da,#4638da,#4638da,#4638da,#4638da,#4638da,#4638da,#4638da,#4638da,#4638da,#4638da,#4638da,#4638da,#4638da,#4638da,#4638da,#4638da,#4537da,#4537da,#4537da,#4537da,#4537da,#4537da)"></i>
<i style="top:76.0px;height:2.6px;background:linear-gradient(90deg,#432dc9,#432dc9,#432dc9,#432dc9,#432dc9,#432dc9,#432dc9,#432dc9,#432dc9,#432dc9,#432dc9,#432dc9,#432dc9,#432dc9,#432dc9,#432dc9,#432dc9,#432dc9,#432dc9,#432dc9,#432dc9,#432dc9,#432dc9,#432dc9,#432dc9,#432dc9,#432dc9,#432dc9,#432dc9,#432dc9,#432dc9,#432dc9,#432dc9,#432dc9,#432dc9,#432dc9,#432dc9,#432dc9,#432dc9,#432dc9,#432dc9,#432dc9,#432dc9,#432dc9,#432dc9,#432dc9,#432dc9,#432dc9,#432dc9,#432dc9,#432dc9,#432dc9,#432dc9,#432dc9,#432dc9,#432dc9)"></i>
<i style="top:78.0px;height:2.6px;background:linear-gradient(90deg,#442fcb,#442fcb,#442fcb,#442fcb,#442fcb,#442fcb,#442fcb,#442fcb,#442fcb,#442fcb,#442fcb,#442fcb,#442fcb,#442fcb,#442fcb,#442fcb,#442fcb,#442fcb,#442fcb,#442fcb,#442fcb,#442fcb,#442fcb,#442fcb,#442fcb,#442fcb,#442fcb,#442fcb,#442fcb,#442fcb,#442fcb,#442fcb,#442fcb,#442fcb,#442fcb,#442fcb,#442fcb,#442fcb,#442fcb,#442fcb,#442fcb,#442fcb,#442fcb,#442fcb,#442fcb,#442fcb,#442fcb,#442fcb,#442fcb,#442fcb,#442fcb,#442fcb,#442fcb,#442fcb,#442fcb,#442fcb)"></i>
<i style="top:80.0px;height:2.6px;background:linear-gradient(90deg,#4536d7,#4536d7,#4536d7,#4536d7,#4536d7,#4536d7,#4536d7,#4536d7,#4536d7,#4536d7,#4536d7,#4536d7,#4536d7,#4536d7,#4536d7,#4536d7,#4536d7,#4536d7,#4536d7,#4536d7,#4536d7,#4536d7,#4536d7,#4536d7,#4536d7,#4536d7,#4536d7,#4536d7,#4536d7,#4536d7,#4536d7,#4536d7,#4536d7,#4536d7,#4536d7,#4536d7,#4536d7,#4536d7,#4536d7,#4536d7,#4536d7,#4536d7,#4536d7,#4536d7,#4536d7,#4536d7,#4536d7,#4536d7,#4536d7,#4536d7,#4536d7,#4536d7,#4536d7,#4536d7,#4536d7,#4536d7)"></i>
<i style="top:82.0px;height:2.4px;background:linear-gradient(90deg,#4441e3,#4441e3,#4441e3,#4441e3,#4441e3,#4441e3,#4441e3,#4441e3,#4441e3,#4441e3,#4441e3,#4441e3,#4441e3,#4441e3,#4441e3,#4441e3,#4441e3,#4441e3,#4441e3,#4441e3,#4441e3,#4441e3,#4441e3,#4441e3,#4441e3,#4441e3,#4441e3,#4441e3,#4441e3,#4441e3,#4441e3,#4441e3,#4441e3,#4441e3,#4441e3,#4441e3,#4441e3,#4441e3,#4441e3,#4441e3,#4441e3,#4441e3,#4441e3,#4441e3,#4441e3,#4441e3,#4441e3,#4441e3,#4441e3,#4441e3,#4441e3,#4441e3,#4441e3,#4441e3,#4441e3,#4441e3)"></i>
</div>
<div class="pn" style="left:431.90px;top:12.00px;width:109.50px;height:83.80px">
<i style="top:0.0px;height:2.6px;background:linear-gradient(90deg,#2980f6,#2882f6,#2a7ff7,#3b5ef6,#4535d5,#356af9,#2b7df7,#2a7ff7,#2a7ff7,#2a7ff7,#3073f9,#4639dd,#414ceb,#2d78f8,#2f75f9,#4440e2,#4345e6,#2d7af8,#2b7cf7,#414eed,#463bdf,#3073f9,#2a7ef7,#2981f6,#2588f3,#2093ee,#2093ee,#2588f3,#2980f6,#2e78f8,#4247e8,#4442e4,#2b7cf7,#2686f4,#356af8,#4535d5,#3962f7,#326ffa,#4638db,#414cec,#2d79f8,#2b7df7,#356af9,#4534d3,#3d5af4,#2d79f8,#3962f6,#4431ce,#3962f7,#2a7ff7,#2e77f8,#453ce0,#4343e5,#2e77f8,#2a7ef7,#2a7ff7)"></i>
<i style="top:2.0px;height:2.6px;background:linear-gradient(90deg,#238df1,#2092ee,#2191ef,#3171fa,#424ae9,#2e76f9,#2588f3,#248bf2,#238cf1,#238df1,#2a7ef7,#4050ee,#3a5ff6,#2882f6,#2a7ff7,#3f55f2,#3c5cf5,#2589f3,#238df1,#3864f7,#4051ef,#2b7df7,#248af2,#228ff0,#1c9de9,#18abdb,#18acda,#1c9de9,#228ff0,#2881f6,#3c5cf5,#3c5cf5,#2290f0,#1c9ee8,#2c7af8,#424aea,#3171fa,#2d79f8,#414ceb,#3a5ff6,#2883f6,#2589f3,#2f76f9,#4346e7,#356af8,#2882f6,#326ffa,#453ce0,#3171fa,#228ff0,#2784f5,#4050ee,#3f54f1,#2980f6,#248af2,#248af2)"></i>
<i style="top:4.0px;height:2.6px;background:linear-gradient(90deg,#1e98ec,#1ba1e5,#1aa2e4,#2980f6,#3962f7,#2a7ff7,#2191ef,#2093ee,#1f95ed,#1e98ec,#248bf2,#3766f8,#3270fa,#248bf2,#2687f4,#3668f8,#3270fa,#1c9bea,#1ba0e6,#2e77f8,#3767f8,#2785f5,#2093ee,#1d99eb,#18abdb,#23bcbc,#23bcbc,#18abdb,#1d99eb,#248bf2,#336efa,#3172f9,#1aa5e1,#17b1d5,#238df1,#3963f7,#2c7af8,#2981f6,#3a61f6,#3270fa,#238df1,#2192ef,#2a7ef7,#3c5df5,#2f75f9,#248bf2,#2f76f9,#424bea,#2c7af8,#1ba0e6,#1f96ed,#3a60f6,#3a61f6,#2588f3,#2192ef,#2093ee)"></i>
<i style="top:6.0px;height:2.6px;background:linear-gradient(90deg,#1b9fe7,#18add9,#16b3d3,#1e97ec,#2e78f8,#2687f4,#1f95ed,#1e97ec,#1c9cea,#1ba1e5,#1d9aeb,#2d7af8,#2c7bf7,#2191ef,#238ef1,#2e78f8,#297ff7,#19aadc,#17b0d6,#248af2,#2d78f8,#238df1,#1f97ed,#1b9ee8,#16b4d1,#3ac5a0,#3ac5a0,#17b4d1,#1b9ee8,#2191ef,#2c7bf8,#2784f5,#19b6cd,#24bdb9,#1ba1e5,#2e77f8,#2882f6,#2589f3,#3073f9,#2c7af8,#2093ee,#1e97ec,#2687f4,#3171fa,#2a7ef7,#2290f0,#2d7af8,#3e59f4,#2784f5,#18add9,#1aa6e0,#3271fa,#356bf9,#238cf1,#1f96ed,#1f96ed)"></i>
<i style="top:8.0px;height:2.6px;background:linear-gradient(90deg,#1aa6e0,#1db9c6,#28c0b2,#17aed8,#238df1,#2192ef,#1d99eb,#1c9bea,#1aa2e4,#18add9,#18acda,#2192ef,#248bf2,#1e97ec,#1f95ed,#2687f4,#1f96ed,#1bb7ca,#22bcbe,#1aa2e4,#248bf2,#1f95ed,#1d9aeb,#1aa2e4,#1eb9c5,#56c88b,#56c88a,#1eb9c5,#1aa2e4,#1e97ec,#248bf2,#1c9de9,#28c0b2,#3cc59e,#17b2d4,#248bf2,#228ff0,#2192ef,#2882f6,#2589f3,#1d9beb,#1c9de9,#2192ef,#2980f6,#248af2,#1f95ed,#2980f6,#356bf9,#1f94ed,#20bac1,#1ab7ca,#2980f6,#2e77f9,#2191ef,#1d99eb,#1d99eb)"></i>
<i style="top:10.0px;height:2.6px;background:linear-gradient(90deg,#18acda,#2ac1af,#4dc792,#23bdbb,#1ba1e5,#1d9beb,#1c9cea,#1b9fe7,#19aadc,#1eb9c4,#21bbbe,#19a9dd,#1c9bea,#1c9cea,#1d9aeb,#1f96ed,#1aa5e1,#26beb6,#2fc3a8,#16b2d4,#1c9cea,#1d9beb,#1c9de9,#1aa5e1,#22bcbd,#67ca7e,#67ca7e,#22bcbd,#1aa5e1,#1c9cea,#1e99ec,#18abdb,#3dc59e,#56c88b,#1fbac2,#1c9de9,#1e98ec,#1e98ec,#2191ef,#1e97ec,#1ba2e4,#1aa3e3,#1c9cea,#2191ef,#1f95ed,#1d99eb,#248af2,#2b7cf7,#1aa5e1,#33c4a6,#2cc3ab,#1d9aeb,#2784f5,#1e97ec,#1c9cea,#1c9cea)"></i>
<i style="top:12.0px;height:2.6px;background:linear-gradient(90deg,#17afd7,#39c5a1,#6cca7b,#31c3a7,#19aadc,#1c9de9,#1c9bea,#1c9ee8,#17aed8,#2cc2ac,#3cc59e,#1bb7ca,#1aa2e4,#1c9de9,#1c9cea,#1c9cea,#18acda,#2bc2ad,#3ec59d,#1cb8c8,#1ba2e4,#1c9cea,#1c9de9,#1aa5e1,#22bcbe,#66ca7f,#67ca7e,#22bcbd,#1aa5e1,#1c9de9,#1b9ee8,#16b2d4,#49c795,#61ca82,#25beb9,#1aa4e2,#1c9cea,#1d9beb,#1e99ec,#1b9fe7,#19a9dd,#19aadc,#1ba2e4,#1d99eb,#1d99eb,#1d9beb,#2192ef,#238df1,#17b1d5,#4bc793,#49c794,#18acda,#2094ee,#1d9aeb,#1c9cea,#1c9cea)"></i>
<i style="top:14.0px;height:2.6px;background:linear-gradient(90deg,#17b1d5,#45c698,#86c86c,#40c59c,#17aed8,#1c9de9,#2192ef,#228ff0,#19a9dd,#40c59b,#5fc984,#25beb7,#19a7df,#1c9ee8,#1c9cea,#1b9fe7,#17afd7,#2dc3aa,#42c69a,#1fbac3,#1aa5e1,#1c9de9,#1c9cea,#1aa2e4,#1eb9c4,#5ac988,#5bc987,#20bac1,#1aa5e1,#1c9de9,#1ba1e5,#18b5cf,#4fc790,#69ca7d,#27bfb4,#19a7df,#1c9de9,#1c9cea,#1c9de9,#1aa5e1,#17b2d4,#16b3d3,#19a8de,#1c9ee8,#1c9bea,#1c9bea,#1e98ec,#1d9aeb,#1ab7cb,#58c989,#5bc987,#1ab7cb,#1b9ee8,#1c9cea,#1c9cea,#1c9cea)"></i>
<i style="top:16.0px;height:2.6px;background:linear-gradient(90deg,#17b2d4,#4bc793,#94c765,#47c696,#17b0d6,#1e98ec,#2b7cf7,#356af8,#228ef0,#40c59c,#7fc971,#2cc2ab,#19aadc,#1b9ee8,#1c9cea,#1b9fe7,#17afd7,#2bc2ad,#3ec59d,#1eb9c4,#1aa5e1,#1d9aeb,#2191ef,#2093ee,#17b0d6,#3fc59c,#44c698,#1bb7c9,#1aa3e3,#1c9de9,#1ba1e5,#19b6cd,#52c88e,#6ec97a,#28c0b2,#19a8de,#1c9ee8,#1c9cea,#1b9ee8,#19aadc,#1db8c6,#1fbac2,#18aed8,#1ba0e6,#1c9cea,#1c9cea,#1c9bea,#1ba0e6,#1db9c6,#5dc985,#62ca82,#1fbac2,#1aa3e3,#1c9de9,#1c9cea,#1c9cea)"></i>
<i style="top:18.0px;height:2.6px;background:linear-gradient(90deg,#16b2d4,#4dc792,#98c762,#4ac794,#17b0d6,#2093ee,#356af9,#4537d9,#2f76f9,#38c4a1,#91c866,#34c4a5,#18abdb,#1b9ee8,#1c9cea,#1b9fe7,#18add9,#27bfb5,#31c3a7,#1bb7c9,#1aa3e3,#2192ef,#2e78f8,#346bf9,#2290f0,#21bbbe,#29c0b2,#17b2d4,#1ba1e5,#1c9de9,#1ba1e5,#18b6ce,#52c88e,#6fc979,#29c0b1,#19a8de,#1c9de9,#1d9aeb,#1d9beb,#19a8de,#22bcbd,#28bfb3,#16b3d3,#1ba2e4,#1c9cea,#1c9cea,#1c9cea,#1aa2e4,#1db9c5,#5ac988,#5fc984,#21bbc0,#1aa4e2,#1c9de9,#1c9cea,#1c9cea)"></i>
<i style="top:20.0px;height:2.6px;background:linear-gradient(90deg,#16b2d4,#4cc792,#96c764,#49c795,#17b0d6,#1f95ed,#3074f9,#4051ef,#2881f6,#47c696,#9ec75f,#39c4a1,#18acda,#1c9de9,#1e98ec,#1e98ec,#19a6e0,#1eb9c4,#25beb7,#16b4d2,#1ba1e5,#2589f3,#3d5bf5,#4533d3,#3172fa,#18abdb,#18b6ce,#19a7df,#1d99eb,#1f95ed,#1e98ec,#17afd7,#4bc793,#6ec97a,#28c0b2,#19a7df,#1d9aeb,#2191ef,#2883f6,#2191ef,#1cb8c7,#2bc2ad,#18b5cf,#1ba1e5,#1d9aeb,#1d9aeb,#1c9cea,#1aa3e3,#1bb8c8,#4ec791,#53c88d,#1fbac3,#1aa4e2,#1c9de9,#1c9cea,#1c9cea)"></i>
<i style="top:22.0px;height:2.6px;background:linear-gradient(90deg,#17b1d5,#47c696,#8bc86a,#42c69a,#18add9,#1e97ec,#2588f3,#2981f6,#19a7df,#62ca82,#a7c659,#3bc5a0,#18abdb,#1d99eb,#2687f4,#2b7df7,#2290f0,#18aed8,#19b6cc,#18add9,#1b9fe7,#248cf2,#3766f7,#4443e4,#3073f9,#1ba0e6,#1aa6e0,#238df1,#2c7bf7,#2c7bf8,#2d78f8,#2191ef,#2ec3a9,#64ca80,#25beb8,#1c9cea,#2687f4,#2b7cf7,#3b5ef5,#3766f8,#19a9dd,#2ac1af,#17b4d1,#1e97ec,#2589f3,#228ff0,#1d99eb,#1ba1e5,#17b5d0,#38c4a2,#3cc59e,#1ab6cc,#1aa2e4,#1c9cea,#1c9cea,#1c9cea)"></i>
<i style="top:24.0px;height:2.6px;background:linear-gradient(90deg,#17b0d6,#3dc59e,#73c978,#2cc3ab,#1c9cea,#2785f5,#238df1,#1c9bea,#1ab7ca,#75c976,#abc657,#3ac5a0,#19aadc,#2290f0,#336efa,#4346e7,#336ef9,#1c9cea,#18acda,#1aa6e0,#1c9de9,#2094ee,#2882f6,#2d7af8,#2589f3,#1b9ee8,#2094ee,#356bf9,#453fe2,#4249e9,#453fe2,#3667f8,#1db8c6,#5ac988,#1cb8c8,#2c7bf7,#3b5ff6,#3863f7,#4347e7,#3f55f2,#1aa4e2,#29c1b0,#17aed8,#2c7bf8,#3a61f6,#2e77f8,#228ff0,#1c9cea,#18add9,#24bdb9,#26beb7,#18add9,#1d9aeb,#1f96ed,#1d9aeb,#1c9cea)"></i>
<i style="top:26.0px;height:2.6px;background:linear-gradient(90deg,#18add9,#2cc3ab,#51c88e,#19b6cc,#2f75f9,#3c5bf5,#2b7cf7,#1c9de9,#1eb9c4,#78c975,#a6c65a,#30c3a8,#1ba0e6,#2883f6,#3c5df5,#442eca,#3d5bf5,#2290f0,#1aa2e4,#1c9cea,#2191ef,#2290f0,#2093ee,#2094ee,#1d99eb,#1c9de9,#248bf2,#3e58f4,#432ac3,#4638da,#4639dc,#3864f7,#1cb8c8,#56c88b,#17b2d4,#3b5ff6,#4430cd,#3e58f4,#346bf9,#2b7df7,#18b5cf,#2dc3aa,#19a8de,#3962f7,#442fcb,#3d5bf5,#2b7df7,#2785f5,#1d9beb,#17b2d4,#16b3d3,#1e97ec,#2c7af8,#2a7ef7,#2191ef,#1d9beb)"></i>
<i style="top:28.0px;height:2.6px;background:linear-gradient(90deg,#19a9dd,#22bcbd,#2dc3ab,#1aa5e1,#3f55f2,#4534d4,#3172fa,#1d9aeb,#1db9c5,#71c978,#96c763,#20bbc0,#2a7ff7,#326ffa,#356af8,#3c5df5,#2f75f9,#2093ee,#1c9bea,#2686f4,#3171fa,#2e77f9,#238df1,#1d99eb,#1c9cea,#1c9de9,#2191ef,#3074f9,#3c5df5,#356bf9,#3073f9,#238cf1,#2bc2ad,#5dc985,#17b5cf,#3270fa,#4248e9,#3271fa,#248af2,#1aa5e1,#29c1b0,#37c4a3,#18acda,#3171fa,#4344e5,#3a60f6,#3766f7,#3e58f4,#2e78f8,#1b9fe7,#1ba1e5,#2d79f8,#4442e4,#3d59f4,#2784f5,#1e99ec)"></i>
<i style="top:30.0px;height:2.6px;background:linear-gradient(90deg,#1aa5e1,#17b5d1,#1eb9c5,#1ba1e5,#336df9,#3d5af4,#2b7cf7,#1c9de9,#1cb8c7,#64ca80,#7cc972,#18abdb,#3f53f0,#4344e5,#3074f9,#2882f6,#228ef0,#1d99eb,#2094ee,#3173f9,#4638da,#414ceb,#2980f6,#1e98ec,#1c9cea,#1c9de9,#1d99eb,#228ef0,#2687f4,#238cf1,#1f95ed,#18add9,#46c697,#64ca80,#21bbbe,#2190ef,#2b7df7,#2589f3,#1c9cea,#17b1d5,#32c4a6,#3bc59f,#16b4d2,#238df1,#2c7bf8,#2e78f8,#3f55f2,#432dc8,#3b5ff6,#2191ef,#1e98ec,#3171fa,#4534d4,#414dec,#2881f6,#1e98ec)"></i>
<i style="top:32.0px;height:2.6px;background:linear-gradient(90deg,#1ba1e5,#18abdb,#17b0d6,#1aa4e2,#248cf2,#2883f6,#2190ef,#1ba0e6,#1ab6cb,#55c88b,#63ca81,#19a8de,#3f54f1,#424aea,#2b7cf7,#2094ee,#1d9aeb,#1c9cea,#2093ee,#3073f9,#463ade,#404fee,#2981f6,#1e98ec,#1c9cea,#1c9cea,#1c9cea,#1d9aeb,#1d99eb,#1d9aeb,#1ba0e6,#18b5ce,#50c88f,#6cca7b,#27bfb4,#1aa4e2,#1e97ec,#1d99eb,#1ba1e5,#16b4d2,#37c4a3,#3fc59c,#1bb7ca,#1ba0e6,#1f95ed,#248af2,#336ffa,#414eed,#3270fa,#2192ef,#1e99ec,#2980f6,#356af8,#3074f9,#238df1,#1d9aeb)"></i>
<i style="top:34.0px;height:2.6px;background:linear-gradient(90deg,#1b9fe7,#1aa4e2,#19a7df,#1aa3e3,#1c9bea,#1e98ec,#1d9beb,#1ba1e5,#16b4d2,#3ec59d,#4ec791,#16b2d4,#2a7ef7,#2d78f8,#238cf1,#1d99eb,#1c9cea,#1c9cea,#1e98ec,#2785f5,#3074f9,#2d79f8,#228ef0,#1d9aeb,#1c9cea,#1c9cea,#1c9cea,#1c9cea,#1c9cea,#1c9de9,#1aa3e3,#1db9c6,#67ca7e,#91c866,#30c3a8,#19aadc,#1c9ee8,#1c9de9,#1aa3e3,#1ab7ca,#4bc793,#56c88b,#21bbbf,#1aa5e1,#1c9cea,#1f97ed,#2589f3,#297ff7,#2589f3,#1d99eb,#1c9cea,#1f95ed,#238cf1,#228ff0,#1e98ec,#1c9bea)"></i>
<i style="top:36.0px;height:2.6px;background:linear-gradient(90deg,#1c9de9,#1ba0e6,#1ba2e4,#1ba0e6,#1c9de9,#1c9cea,#1c9cea,#1ba0e6,#18aed8,#27bfb5,#2ec3aa,#17b5d1,#1c9cea,#2093ee,#1e98ec,#1c9bea,#1c9cea,#1c9cea,#1c9bea,#1f96ed,#2190ef,#2192ef,#1e97ec,#1d9aeb,#1c9cea,#1c9cea,#1c9cea,#1c9cea,#1c9bea,#1c9cea,#1aa4e2,#24bdba,#a2c75d,#ccc147,#4ac794,#18aed8,#1b9fe7,#1c9de9,#1aa4e2,#22bcbd,#79c974,#8ec868,#2ac1af,#19a8de,#1c9ee8,#1c9bea,#1e99ec,#1e97ec,#1d99eb,#1c9cea,#1c9de9,#1c9bea,#1d99eb,#1d9aeb,#1c9bea,#1c9cea)"></i>
<i style="top:38.0px;height:2.6px;background:linear-gradient(90deg,#1c9de9,#1c9ee8,#1b9fe7,#1c9ee8,#1c9cea,#1d99eb,#1e99ec,#1c9de9,#19a7df,#19b6cd,#1eb9c5,#17aed8,#1ba0e6,#1d99eb,#1e98ec,#1d99eb,#1c9bea,#1c9cea,#1c9cea,#1c9bea,#1d99eb,#2093ee,#228ef0,#2192ef,#1d99eb,#1c9cea,#1c9bea,#1d99eb,#1f96ed,#1e98ec,#1aa3e3,#23bcbc,#9bc760,#c7c24a,#47c696,#18add9,#1c9ee8,#1c9cea,#1aa4e2,#22bcbe,#79c974,#8dc868,#2ac1af,#19a8de,#1c9de9,#1c9cea,#1c9bea,#1c9bea,#1c9cea,#1c9cea,#1c9cea,#1d9aeb,#1f96ed,#1f96ed,#1d9aeb,#1c9cea)"></i>
<i style="top:40.0px;height:2.6px;background:linear-gradient(90deg,#1c9cea,#1c9de9,#1c9de9,#1c9cea,#1f96ed,#2589f3,#2685f4,#2192ef,#1ba1e5,#18abdb,#17aed8,#19a6e0,#1c9cea,#238df1,#2785f5,#238df1,#1e98ec,#1c9cea,#1c9cea,#1c9bea,#1f95ed,#297ff7,#336ffa,#2d79f8,#2290f0,#1d9aeb,#1e99ec,#238cf1,#2a7ef7,#2881f6,#1e99ec,#16b3d3,#3fc59c,#54c88c,#23bdbb,#1aa5e1,#1f95ed,#2191ef,#1c9cea,#17b2d4,#30c3a7,#39c5a1,#1ab7ca,#1aa3e3,#1d9aeb,#1f96ed,#1e98ec,#1d9beb,#1c9cea,#1c9cea,#1d9aeb,#228ff0,#2a7ff7,#2a7ff7,#228ff0,#1d9aeb)"></i>
<i style="top:42.0px;height:2.6px;background:linear-gradient(90deg,#1c9cea,#1c9cea,#1c9de9,#1d9aeb,#2589f3,#356af9,#3c5df5,#2b7cf7,#1d99eb,#1aa4e2,#1aa6e0,#1ba1e5,#2192ef,#3074f9,#3d5af5,#3073f9,#228ff0,#1d9beb,#1c9cea,#1d9beb,#228ff0,#356af9,#4534d5,#3f55f2,#2784f5,#1e98ec,#2093ee,#2e78f8,#414ceb,#3c5cf5,#2686f4,#1aa4e2,#16b4d1,#1ab7ca,#18acda,#1e97ec,#2c7bf7,#3172fa,#2882f6,#1ba0e6,#17b1d5,#16b3d3,#19a8de,#1c9cea,#248bf2,#2a7ff7,#2685f4,#1f95ed,#1c9bea,#1c9cea,#1f96ed,#2b7df7,#3f53f0,#3f54f1,#2a7ef7,#1f96ed)"></i>
<i style="top:44.0px;height:2.6px;background:linear-gradient(90deg,#1c9cea,#1c9cea,#1c9cea,#1e98ec,#2980f7,#4346e7,#4431ce,#336ef9,#2093ee,#1b9fe7,#1ba1e5,#1c9de9,#248af2,#3c5cf5,#432dc8,#3d5af5,#2588f3,#1d9aeb,#1c9cea,#1d9beb,#228ff0,#346cf9,#4638da,#3e59f4,#2785f5,#1e98ec,#2191ef,#3270fa,#4432d0,#4343e5,#2a7ff7,#1c9cea,#1aa6e0,#19a7df,#1ba0e6,#2588f3,#3d59f4,#4536d8,#346bf9,#2093ee,#1aa3e3,#1aa5e1,#1ba0e6,#2092ee,#3074f9,#414dec,#3767f8,#2589f3,#1d9aeb,#1c9bea,#1f95ed,#2e77f8,#4638da,#4638db,#2e78f8,#1f95ed)"></i>
<i style="top:46.0px;height:2.6px;background:linear-gradient(90deg,#1c9de9,#1c9de9,#1c9de9,#1d9beb,#2687f4,#3962f6,#404fee,#2e77f8,#2093ee,#1c9de9,#1b9ee8,#1c9cea,#228ef0,#336ef9,#424aea,#346cf9,#238df1,#1d9aeb,#1c9cea,#1c9bea,#1f96ed,#2882f6,#3073f9,#2c7cf7,#2191ef,#1d9aeb,#1f95ed,#2b7df7,#3a5ff6,#356af9,#2687f4,#1d9beb,#1ba0e6,#1ba1e5,#1c9de9,#2687f4,#3e58f4,#4535d6,#3669f8,#228ff0,#1b9ee8,#1ba0e6,#1c9de9,#238ef1,#3865f7,#442ec9,#404fee,#2783f5,#1d99eb,#1c9cea,#1e97ec,#2882f6,#3864f7,#3865f7,#2882f6,#1e98ec)"></i>
<i style="top:48.0px;height:2.6px;background:linear-gradient(90deg,#1c9ee8,#1b9fe7,#1ba0e6,#1ba0e6,#1d99eb,#2588f3,#2980f6,#2686f4,#238cf1,#2094ee,#1c9bea,#1c9cea,#1e97ec,#2588f3,#2b7df7,#2686f4,#1f94ed,#1d9aeb,#1c9cea,#1c9cea,#1d9aeb,#1f95ed,#2190ef,#2093ee,#1d99eb,#1c9bea,#1d9aeb,#2191ef,#2785f5,#2784f5,#238cf1,#1f96ed,#1c9de9,#1b9ee8,#1c9cea,#2191ef,#2c7af8,#336ef9,#2c7af8,#238df1,#1d99eb,#1c9de9,#1c9cea,#2092ee,#2e77f8,#3e59f4,#336df9,#248bf2,#1d9aeb,#1c9cea,#1d9beb,#2094ee,#2588f3,#2588f3,#2094ee,#1d9beb)"></i>
<i style="top:50.0px;height:2.6px;background:linear-gradient(90deg,#1ba1e5,#1aa3e3,#1aa6e0,#19a8de,#19a7df,#1aa3e3,#1e99ec,#2a7ff7,#3270fa,#2b7df7,#1f95ed,#1c9cea,#1c9bea,#1e98ec,#2093ee,#228ef0,#238df1,#2094ee,#1d9aeb,#1c9cea,#1c9bea,#1d99eb,#1e98ec,#1d99eb,#1c9bea,#1c9cea,#1c9cea,#1d9aeb,#2192ef,#2a7ff7,#2f75f9,#2980f6,#1f95ed,#1c9cea,#1c9cea,#1d99eb,#2190ef,#2881f6,#2f75f9,#2e77f8,#248af2,#1d9aeb,#1c9cea,#1e99ec,#238cf1,#2a7ff7,#2882f6,#2192ef,#1d9aeb,#1c9cea,#1c9cea,#1d9beb,#1d99eb,#1d99eb,#1d9beb,#1c9cea)"></i>
<i style="top:52.0px;height:2.6px;background:linear-gradient(90deg,#1aa6e0,#18abdb,#17b0d6,#16b4d2,#18b5cf,#16b3d3,#1ba2e4,#3172fa,#453fe2,#3667f8,#228ef0,#1c9cea,#1c9de9,#1d9beb,#2290f0,#2d79f8,#336ef9,#2a7ef7,#2094ee,#1d9beb,#1e98ec,#228ef0,#2588f3,#2190ef,#1d99eb,#1c9cea,#1c9cea,#1d9aeb,#238cf1,#3667f8,#463ade,#3962f7,#248af2,#1d9beb,#1c9cea,#1c9bea,#1f96ed,#2b7df7,#414beb,#4443e4,#2e78f8,#1f95ed,#1c9cea,#1d9aeb,#2190ef,#2b7cf7,#2f76f9,#2785f5,#1e97ec,#1c9cea,#1c9cea,#1c9cea,#1c9cea,#1c9cea,#1c9cea,#1c9cea)"></i>
<i style="top:54.0px;height:2.6px;background:linear-gradient(90deg,#18acda,#16b4d2,#1ebac3,#25beb8,#28c0b3,#25bdb9,#17b1d5,#2a7ff7,#3e57f3,#3172fa,#2092ee,#1c9de9,#1c9de9,#1d9aeb,#2686f4,#3e58f4,#4534d3,#3767f8,#238df1,#1d99eb,#228ef0,#3074f9,#3962f6,#2d79f8,#2093ee,#1c9bea,#1c9cea,#1d9aeb,#248bf2,#3961f6,#4431cf,#3c5bf5,#2588f3,#1d9aeb,#1c9cea,#1c9cea,#1f96ed,#2b7cf7,#4442e4,#4638da,#2f75f9,#2094ee,#1c9bea,#1d99eb,#2686f4,#3c5cf5,#4540e2,#3171fa,#2191ef,#1c9cea,#1c9ee8,#1b9ee8,#1b9fe7,#1b9fe7,#1c9cea,#1c9cea)"></i>
<i style="top:56.0px;height:2.6px;background:linear-gradient(90deg,#17b1d5,#1eb9c5,#29c0b2,#37c4a2,#40c59c,#39c4a1,#25beb8,#19a8de,#238df1,#2191ef,#1c9ee8,#1b9fe7,#1c9de9,#1d9aeb,#2687f4,#3c5cf5,#4638da,#356af8,#238ef1,#1e98ec,#2785f5,#3f54f1,#442fcb,#3963f7,#238cf1,#1d9aeb,#1c9cea,#1c9bea,#2094ee,#2b7cf7,#346bf9,#2c7af8,#2093ee,#1c9de9,#1c9ee8,#1c9de9,#1c9bea,#248bf2,#3073f9,#3270fa,#2685f4,#1d99eb,#1c9de9,#1d9beb,#2686f4,#3f56f3,#4638db,#3074f9,#1b9fe7,#17afd7,#19b6cd,#1cb8c8,#1fbac2,#23bdbb,#1c9cea,#1c9cea)"></i>
<i style="top:58.0px;height:2.6px;background:linear-gradient(90deg,#17b0d6,#1eb9c5,#29c1b1,#3ac5a0,#43c699,#3dc59e,#2ac1ae,#1cb8c8,#18abdb,#1aa4e2,#1ba1e5,#1c9ee8,#1c9cea,#1d99eb,#2290f0,#2c7bf8,#3172fa,#297ff7,#2093ee,#1e97ec,#2687f4,#3a61f6,#453fe2,#346cf9,#238df1,#1e98ec,#1d9beb,#1ba0e6,#1aa3e3,#1aa4e2,#1ba2e4,#19a6e0,#18add9,#17afd7,#17b0d6,#17b0d6,#17b0d6,#18acda,#1aa5e1,#1aa4e2,#18aadc,#17aed8,#17afd7,#18aed8,#18acda,#1b9ee8,#1b9fe7,#26beb7,#7ac973,#c9c249,#ecbd37,#efbd35,#f1be33,#f4be32,#1d9aeb,#1d9aeb)"></i>
<i style="top:60.0px;height:2.6px;background:linear-gradient(90deg,#1aa5e1,#17afd7,#1bb7c9,#23bcbc,#26bfb6,#24bdba,#1db9c6,#17b1d5,#19a7df,#1b9ee8,#1e98ec,#2094ee,#2191ef,#2290f0,#238ef1,#2588f3,#2785f5,#2589f3,#228ef0,#228ff0,#2588f3,#2d79f8,#3172fa,#2b7cf7,#248af2,#228ff0,#1f96ed,#18add9,#26bfb6,#55c88c,#71c979,#78c974,#81c870,#87c86c,#8dc869,#92c866,#97c763,#95c764,#8cc869,#85c86d,#82c86f,#7ec971,#79c974,#7bc973,#b7c551,#ddbf3f,#ecbd37,#f8be2e,#f9c828,#f9ce25,#f9d024,#f9ca27,#f9c42a,#fabe2d,#2290f0,#2290f0)"></i>
<i style="top:62.0px;height:2.6px;background:linear-gradient(90deg,#1f96ed,#1c9ee8,#1aa5e1,#18aadc,#18add9,#18abdb,#19a7df,#1ba0e6,#1f96ed,#2588f3,#2a7ff7,#2b7df7,#2b7cf7,#2c7bf7,#2c7bf8,#2c7bf8,#2c7af8,#2c7bf8,#2c7bf8,#2c7bf8,#2c7af8,#2e77f8,#2f76f9,#2e78f8,#2c7af8,#2a7ff7,#2290f0,#16b3d3,#3dc59e,#98c762,#c1c34d,#c6c24a,#ccc147,#d2c145,#d7c042,#ddbf3f,#e2be3d,#e2be3d,#dbbf40,#d5c043,#cfc146,#c9c249,#c3c34c,#c1c34d,#d4c043,#ddbf3f,#cbc248,#b5c552,#94c764,#6bca7c,#4dc791,#39c5a1,#2ac1af,#23bcbc,#2686f4,#2686f4)"></i>
<i style="top:64.0px;height:2.6px;background:linear-gradient(90deg,#2685f4,#248af2,#228ff0,#2092ee,#2094ee,#2093ee,#2290f0,#248bf2,#2b7cf7,#4247e8,#4226bc,#4226bc,#4226bc,#4226bc,#4226bc,#4226bc,#4226bc,#4226bc,#4226bc,#4226bc,#4226bc,#4226bc,#4226bc,#4226bc,#4226bc,#4347e7,#2881f6,#2094ee,#1aa3e3,#17b0d6,#16b4d1,#17b5d0,#18b5ce,#19b6cd,#1ab6cb,#1bb7ca,#1bb7c9,#1bb7ca,#19b6cd,#16b4d2,#17b0d6,#18add9,#18abdb,#18acda,#18abdb,#19a8de,#1aa2e4,#1c9cea,#1f95ed,#228ff0,#248bf2,#2588f3,#2686f4,#2784f5,#2a7ef7,#2a7ef7)"></i>
<i style="top:66.0px;height:2.6px;background:linear-gradient(90deg,#2c7af8,#2b7cf7,#2b7df7,#2a7ef7,#2a7ff7,#2a7ff7,#2a7ef7,#2b7cf7,#3074f9,#414dec,#442fcb,#442eca,#442eca,#442ec9,#442ec9,#442ec9,#442ec9,#442ec9,#432dc9,#432dc8,#432dc7,#432cc7,#432cc6,#432cc7,#432dc7,#414eed,#2e78f8,#2d79f8,#2d7af8,#2c7af8,#2d79f8,#2e78f8,#2e77f9,#2f76f9,#2f76f9,#2e77f8,#2e77f8,#2e77f9,#3172f9,#3865f7,#414ceb,#4536d7,#4431cf,#453ce0,#3e57f3,#346bf9,#3074f9,#2e77f8,#2d78f8,#2e78f8,#2e78f8,#2e78f8,#2e77f8,#2e77f8,#2e77f8,#2e77f8)"></i>
<i style="top:68.0px;height:2.6px;background:linear-gradient(90deg,#2d7af8,#2c7af8,#2c7bf8,#2c7bf8,#2c7bf8,#2c7bf8,#2c7bf8,#2c7bf8,#2c7af8,#2e78f8,#2e77f9,#2e77f9,#2e77f9,#2e77f8,#2e77f8,#2e77f9,#2f75f9,#3172f9,#356af9,#3c5cf5,#4249e9,#463add,#4536d7,#453ce0,#414dec,#3a60f6,#336df9,#326ffa,#3569f8,#3c5df5,#424ae9,#4536d7,#432ac2,#4226bc,#4226bc,#4329c2,#4535d6,#4248e8,#3c5bf5,#3766f8,#346df9,#3270fa,#3171fa,#3073f9,#2f75f9,#2f75f9,#3172f9,#346cf9,#3963f7,#3e59f4,#404fee,#424aea,#424aea,#404fee,#3e57f3,#3a61f6)"></i>
<i style="top:70.0px;height:2.6px;background:linear-gradient(90deg,#2a7ff7,#2a7ff7,#2a7ff7,#2a7ff7,#2a7ff7,#2882f6,#2589f3,#238cf1,#228ef0,#2191ef,#2093ee,#1f96ed,#1d99eb,#1c9bea,#1c9de9,#1b9fe7,#1b9fe7,#1c9ee8,#1d99eb,#228ff0,#2784f5,#2b7df7,#2b7df7,#2783f5,#2191ef,#1ba0e6,#18aadc,#17b0d6,#16b3d3,#16b3d3,#17b1d5,#17b0d6,#18aed8,#18acda,#18acda,#18add9,#17b0d6,#16b3d3,#18b5cf,#1ab7cb,#1cb8c8,#1db8c6,#1bb7c9,#17b5d1,#17afd7,#19a7df,#1c9de9,#2589f3,#2e78f8,#3767f8,#3e58f4,#414dec,#4249e9,#414eec,#424bea,#3c5bf5)"></i>
<i style="top:72.0px;height:2.6px;background:linear-gradient(90deg,#2d7af8,#2d7af8,#2d7af8,#2d7af8,#2d7af8,#2588f3,#1aa3e3,#18aed8,#16b4d2,#1cb8c7,#23bcbc,#29c0b1,#34c4a5,#42c69a,#4fc790,#5cc986,#6bca7c,#7fc970,#93c765,#a8c659,#b9c450,#c8c249,#d9bf41,#e8bd3a,#ebbd38,#edbd36,#f0bd34,#f3be32,#f5be31,#f7be2f,#f9be2d,#fac02c,#fac12b,#fac12b,#fac12b,#fac12b,#fac12b,#fac12b,#fac12b,#fac12b,#fac12b,#fac12b,#f9be2d,#f3be32,#ecbd37,#dbbf40,#b6c552,#64ca80,#2dc3aa,#1cb8c8,#16b2d4,#18aadc,#1aa3e3,#1c9bea,#2e78f8,#2d78f8)"></i>
<i style="top:74.0px;height:2.6px;background:linear-gradient(90deg,#3073f9,#3073f9,#3073f9,#3073f9,#3073f9,#2783f5,#19a7df,#16b4d2,#1cb8c7,#22bcbd,#28c0b2,#30c3a8,#3dc59e,#49c794,#54c88c,#5fc984,#6cca7c,#7cc972,#8bc86a,#9ac761,#a9c658,#b6c552,#c1c34d,#cbc248,#d7c042,#e2be3d,#e9bd39,#ebbd38,#eebd36,#f0bd34,#f2be33,#f4be31,#f5be31,#f5be31,#f5be31,#f5be31,#f5be31,#f5be31,#f5be31,#f5be31,#f5be31,#f5be31,#f2be33,#ebbd37,#dabf40,#bdc44e,#93c765,#4ec791,#25beb8,#16b3d3,#18abdb,#1aa4e2,#1c9cea,#2093ee,#3073f9,#3073f9)"></i>
<i style="top:76.0px;height:2.6px;background:linear-gradient(90deg,#424ae9,#424ae9,#424ae9,#424ae9,#424ae9,#3e57f3,#3668f8,#336ffa,#3271fa,#3172f9,#3074f9,#2f75f9,#2f76f9,#2e77f8,#2d78f8,#2d79f8,#2c7af8,#2c7bf8,#2c7cf7,#2b7cf7,#2b7df7,#2b7df7,#2a7ef7,#2a7ff7,#2980f7,#2981f6,#2882f6,#2783f5,#2785f5,#2686f4,#2587f3,#2589f3,#2589f3,#2589f3,#2589f3,#2589f3,#2589f3,#2589f3,#2589f3,#2589f3,#2589f3,#2589f3,#2587f3,#2783f5,#2980f6,#2b7df7,#2d7af8,#3074f9,#346df9,#3766f7,#3963f7,#3a60f6,#3c5df5,#3d59f4,#424ae9,#424ae9)"></i>
<i style="top:78.0px;height:2.6px;background:linear-gradient(90deg,#4432d1,#4432d1,#4432d1,#4432d1,#4432d1,#4533d2,#4535d6,#4536d7,#4536d7,#4536d7,#4536d8,#4536d8,#4536d8,#4536d8,#4537d8,#4537d8,#4537d8,#4537d8,#4537d8,#4537d8,#4537d8,#4537d8,#4537d8,#4537d9,#4537d9,#4537d9,#4537d9,#4537d9,#4537da,#4638da,#4638da,#4638da,#4638da,#4638da,#4638da,#4638da,#4638da,#4638da,#4638da,#4638da,#4638da,#4638da,#4638da,#4537d9,#4537d9,#4537d8,#4536d7,#4535d6,#4535d5,#4534d4,#4534d4,#4534d3,#4533d3,#4533d2,#4432d1,#4432d1)"></i>
<i style="top:80.0px;height:2.6px;background:linear-gradient(90deg,#4430cd,#4430cd,#4430cd,#4430cd,#4430cd,#4430cd,#4430cd,#4430cd,#4430cd,#4430cd,#4430cd,#4430cd,#4430cd,#4430cd,#4430cd,#4430cd,#4430cd,#4430cd,#4430cd,#4430cd,#4430cd,#4430cd,#4430cd,#4430cd,#4430cd,#4430cd,#4430cd,#4430ce,#4430ce,#4430ce,#4430ce,#4430ce,#4430ce,#4430ce,#4430ce,#4430ce,#4430ce,#4430ce,#4430ce,#4430ce,#4430ce,#4430ce,#4430ce,#4430ce,#4430cd,#4430cd,#4430cd,#4430cd,#4430cd,#4430cd,#4430cd,#4430cd,#4430cd,#4430cd,#4430cd,#4430cd)"></i>
<i style="top:82.0px;height:2.4px;background:linear-gradient(90deg,#4344e5,#4344e5,#4344e5,#4344e5,#4344e5,#4344e5,#4344e5,#4344e5,#4344e5,#4344e5,#4344e5,#4344e5,#4344e5,#4344e5,#4344e5,#4344e5,#4344e5,#4344e5,#4344e5,#4344e5,#4344e5,#4344e5,#4344e5,#4344e5,#4344e5,#4344e5,#4344e5,#4344e5,#4344e5,#4344e5,#4344e5,#4344e5,#4344e5,#4344e5,#4344e5,#4344e5,#4344e5,#4344e5,#4344e5,#4344e5,#4344e5,#4344e5,#4344e5,#4344e5,#4344e5,#4344e5,#4344e5,#4344e5,#4344e5,#4344e5,#4344e5,#4344e5,#4344e5,#4344e5,#4344e5,#4344e5)"></i>
</div>
<div class="pn" style="left:37.40px;top:117.00px;width:109.50px;height:84.00px">
<i style="top:0.0px;height:2.6px;background:linear-gradient(90deg,#3b5df5,#4535d5,#4345e6,#414ceb,#4430cd,#3e59f4,#432ac4,#3f54f1,#4638da,#4440e2,#404fee,#432dc8,#3e59f4,#432cc6,#4052ef,#453cdf,#463bde,#3f52f0,#432bc5,#3e59f4,#442ec9,#414eed,#4441e3,#4537d9,#3f55f2,#432ac3,#3e58f4,#4430ce,#424bea,#4346e7,#4534d3,#3e57f3,#432ac2,#3e57f3,#4533d3,#4346e7,#424aea,#4430cc,#3f52f0,#4226bc,#463add,#4226bc,#432ac3,#463bdf,#4329c1,#3e57f3,#432bc4,#3f53f0,#463ade,#453ce0,#4051ef,#432cc6,#3e59f4,#432dc8,#4050ee,#3b5ef6)"></i>
<i style="top:2.0px;height:2.6px;background:linear-gradient(90deg,#3b5ff6,#4535d6,#4346e7,#414dec,#4430cd,#3d5af4,#432bc4,#3f56f3,#4638db,#4441e3,#4051ef,#442ec9,#3d5af5,#432cc7,#3f53f1,#453de0,#463cdf,#3f54f1,#432cc6,#3d5af5,#442eca,#4050ee,#4442e4,#4638da,#3e57f3,#432bc4,#3d5af4,#4431cf,#414ceb,#4347e8,#4534d4,#3e59f4,#432ac3,#3e59f4,#4534d4,#4247e8,#414beb,#4430cd,#3f53f0,#4226bc,#4638da,#4226bc,#4228bf,#463add,#4228c0,#3e58f4,#432bc5,#3f54f1,#463bdf,#453de0,#3f53f0,#432cc7,#3d5af5,#442ec9,#4051ef,#3a60f6)"></i>
<i style="top:4.0px;height:2.6px;background:linear-gradient(90deg,#3961f6,#4537d9,#4249e9,#4050ee,#4432d1,#3c5cf5,#432dc7,#3e59f4,#463bde,#4344e5,#3f54f1,#4430cc,#3c5df5,#442eca,#3e56f3,#4440e2,#453fe1,#3e57f3,#442ec9,#3c5df5,#4430cd,#3f53f0,#4345e6,#463add,#3d59f4,#432dc7,#3c5cf5,#4533d2,#404fed,#424aea,#4536d8,#3c5bf5,#432cc6,#3c5bf5,#4536d7,#424aea,#414eed,#4432d0,#3f55f2,#4226bc,#4537d9,#4226bc,#4227be,#463ade,#4329c2,#3d5af5,#432dc8,#3e57f3,#453ee1,#4440e3,#3f56f3,#442eca,#3c5df5,#442fcc,#3f55f1,#3962f7)"></i>
<i style="top:6.0px;height:2.6px;background:linear-gradient(90deg,#3864f7,#463add,#414dec,#3f54f1,#4535d5,#3a5ff6,#442fcc,#3c5cf5,#453fe1,#4248e8,#3e58f4,#4432d1,#3a60f6,#4431ce,#3d5af4,#4344e5,#4442e4,#3d5af5,#4430ce,#3a60f6,#4533d2,#3e57f3,#4249e9,#453de0,#3c5cf5,#442fcc,#3a5ff6,#4535d6,#3f53f0,#414eed,#4639dc,#3b5ef5,#442fcb,#3b5ef6,#4639db,#414eed,#4052f0,#4534d4,#3e58f4,#4226bc,#4638da,#4226bc,#4228bf,#453cdf,#432bc5,#3c5df5,#4430cc,#3d5af5,#4442e4,#4344e5,#3d59f4,#4431ce,#3a60f6,#4432d0,#3e58f4,#3865f7)"></i>
<i style="top:8.0px;height:2.6px;background:linear-gradient(90deg,#3667f8,#453ee1,#4051ef,#3e58f4,#4638db,#3962f7,#4533d2,#3b5ff6,#4443e5,#414ceb,#3d5bf5,#4536d6,#3963f7,#4534d4,#3c5df5,#4248e8,#4347e7,#3b5df5,#4534d3,#3963f7,#4536d7,#3d5af5,#414dec,#4442e4,#3a5ff6,#4533d1,#3962f7,#4639dc,#3e57f3,#4052f0,#453de0,#3a61f6,#4432d1,#3961f6,#453ce0,#4052f0,#3f56f2,#4537d9,#3c5bf5,#4226bc,#463ade,#4226bc,#432ac2,#453fe2,#442eca,#3a5ff6,#4533d1,#3c5df5,#4346e7,#4248e8,#3c5cf5,#4534d3,#3962f7,#4535d6,#3c5bf5,#3668f8)"></i>
<i style="top:10.0px;height:2.6px;background:linear-gradient(90deg,#356af9,#4344e5,#3f56f2,#3c5cf5,#453de0,#3765f7,#4537d9,#3962f7,#4249e9,#4051ef,#3b5ef6,#463add,#3766f7,#4638db,#3a60f6,#414eec,#414ceb,#3a61f6,#4638da,#3766f7,#463ade,#3b5ef5,#4052f0,#4247e8,#3963f7,#4537d9,#3765f7,#453ee1,#3d5bf5,#3e57f3,#4443e4,#3864f7,#4536d8,#3864f7,#4442e4,#3e57f3,#3d5af4,#463cdf,#3b5ef6,#4228bf,#453ee1,#4226bc,#432dc8,#4443e4,#4432d0,#3961f6,#4536d7,#3a5ff6,#424ae9,#414ceb,#3b5ef6,#4537d9,#3865f7,#4639dc,#3b5ef6,#356af9)"></i>
<i style="top:12.0px;height:2.6px;background:linear-gradient(90deg,#3271fa,#4051ef,#3a5ff6,#3864f7,#424bea,#336df9,#4344e5,#356af9,#3f55f2,#3c5cf5,#3767f8,#4247e8,#336ef9,#4346e6,#3668f8,#3d59f4,#3e58f4,#3669f8,#4345e6,#336ef9,#4248e8,#3766f8,#3c5df5,#3f54f1,#356bf9,#4343e5,#336df9,#414ceb,#3863f7,#3a60f6,#4050ee,#346cf9,#4443e4,#346cf9,#404fed,#3a60f6,#3962f7,#4249e9,#3766f7,#4432d0,#4249e9,#432bc4,#4535d6,#414dec,#463ade,#3667f8,#453fe2,#3865f7,#3f53f0,#3f55f2,#3865f7,#4442e4,#356bf9,#4344e6,#3765f7,#3270fa)"></i>
<i style="top:14.0px;height:2.6px;background:linear-gradient(90deg,#2e77f8,#3961f6,#346cf9,#3270fa,#3b5df5,#2f75f9,#3e59f4,#3074f9,#3864f7,#356af8,#3172fa,#3c5bf5,#2f75f9,#3d5af4,#3173f9,#3667f8,#3767f8,#3073f9,#3d59f4,#2f75f9,#3c5cf5,#3171fa,#356af9,#3864f7,#3074f9,#3e58f4,#2f75f9,#3b5ef5,#3270fa,#336df9,#3a61f6,#2f75f9,#3e58f4,#3074f9,#3a60f6,#346df9,#336efa,#3d5bf5,#3270fa,#4443e5,#3e59f4,#4638db,#4344e6,#3d5af5,#424bea,#336ffa,#404fee,#346df9,#3b5ef6,#3a60f6,#336df9,#3f53f0,#3172fa,#3f56f2,#326ffa,#2f76f9)"></i>
<i style="top:16.0px;height:2.6px;background:linear-gradient(90deg,#2a7ef7,#3171fa,#2e77f9,#2d79f8,#336ffa,#2b7cf7,#346bf9,#2c7bf8,#3073f9,#2f75f9,#2d7af8,#336df9,#2b7df7,#346cf9,#2c7af8,#3074f9,#3074f9,#2c7bf8,#346cf9,#2b7df7,#336ef9,#2d79f8,#2f76f9,#3172f9,#2c7bf7,#346bf9,#2b7cf7,#326ffa,#2d78f8,#2e77f8,#3171fa,#2b7cf7,#356bf9,#2c7cf7,#3270fa,#2e76f9,#2e77f8,#346cf9,#2e77f8,#3d5af5,#3765f7,#414eec,#3e57f3,#3765f7,#3c5cf5,#3073f9,#3b5ef6,#3172fa,#3668f8,#356af8,#3073f9,#3962f6,#2e77f9,#3765f7,#2f76f9,#2c7bf8)"></i>
<i style="top:18.0px;height:2.6px;background:linear-gradient(90deg,#238df1,#2881f6,#2686f4,#2588f3,#2980f6,#248cf2,#2a7ef7,#248af2,#2882f6,#2785f5,#2589f3,#2a7ff7,#248cf2,#2a7ff7,#248af2,#2784f5,#2783f5,#248af2,#2a7ff7,#248cf2,#297ff7,#2589f3,#2785f5,#2882f6,#248bf2,#2a7ef7,#248bf2,#2980f6,#2588f3,#2686f4,#2981f6,#248bf2,#2a7ef7,#248af2,#2980f6,#2785f5,#2785f5,#2b7df7,#2883f6,#3073f9,#2f76f9,#3569f8,#336df9,#3074f9,#3271fa,#2c7bf7,#3171fa,#2c7af8,#2f76f9,#2e77f8,#2b7cf7,#2f75f9,#2980f6,#2e78f8,#2981f6,#2687f4)"></i>
<i style="top:20.0px;height:2.6px;background:linear-gradient(90deg,#1b9fe7,#1e98ec,#1c9bea,#1c9cea,#1e97ec,#1c9ee8,#1f96ed,#1c9de9,#1d99eb,#1d9aeb,#1c9de9,#1f96ed,#1c9ee8,#1f96ed,#1c9de9,#1d9aeb,#1d99eb,#1c9de9,#1f96ed,#1c9ee8,#1f96ed,#1c9cea,#1d9aeb,#1e99ec,#1c9de9,#1f95ed,#1c9ee8,#1e97ec,#1c9cea,#1c9bea,#1e97ec,#1c9de9,#1f95ed,#1c9de9,#1f96ed,#1d99eb,#1e98ec,#2191ef,#1f95ed,#2685f4,#2785f5,#2b7cf7,#2b7df7,#2981f6,#2a7ef7,#2686f4,#2a7ef7,#2784f5,#2981f6,#2882f6,#2687f4,#2882f6,#238df1,#2588f3,#2191ef,#1f96ed)"></i>
<i style="top:22.0px;height:2.6px;background:linear-gradient(90deg,#19a6e0,#1aa3e3,#1aa5e1,#1aa5e1,#1aa2e4,#1aa6e0,#1aa2e4,#1aa6e0,#1aa4e2,#1aa4e2,#1aa5e1,#1aa2e4,#1aa6e0,#1ba2e4,#1aa5e1,#1aa4e2,#1aa4e2,#1aa5e1,#1ba2e4,#1aa6e0,#1aa2e4,#1aa5e1,#1aa4e2,#1aa3e3,#1aa6e0,#1ba2e4,#1aa6e0,#1aa2e4,#1aa5e1,#1aa4e2,#1aa3e3,#1aa5e1,#1ba1e5,#1aa5e1,#1ba1e5,#1aa2e4,#1ba2e4,#1c9ee8,#1b9ee8,#2094ee,#2191ef,#2588f3,#2588f3,#248af2,#2588f3,#238cf1,#2687f4,#248bf2,#2589f3,#248af2,#228ef0,#238df1,#1f94ed,#2093ee,#1d9aeb,#1c9ee8)"></i>
<i style="top:24.0px;height:2.6px;background:linear-gradient(90deg,#18acda,#18abdb,#18abdb,#18abdb,#19a8de,#18abdb,#19aadc,#18acda,#18aadc,#19a9dd,#19a9dd,#19a9dd,#18abdb,#19a8de,#18aadc,#18abdb,#18abdb,#18abdb,#19a8de,#18abdb,#18aadc,#18abdb,#19aadc,#19a8de,#18abdb,#19a9dd,#19aadc,#19a9dd,#18abdb,#18abdb,#19a8de,#19aadc,#19a9dd,#18abdb,#19a7df,#19a7df,#19a8de,#1aa5e1,#1aa4e2,#1c9de9,#1d99eb,#2094ee,#2093ee,#2093ee,#2290f0,#2192ef,#2290f0,#2192ef,#2190ef,#2290f0,#2094ee,#1f96ed,#1d9aeb,#1d9aeb,#1ba0e6,#1aa4e2)"></i>
<i style="top:26.0px;height:2.6px;background:linear-gradient(90deg,#19a6e0,#1aa5e1,#1aa5e1,#1ba2e4,#1c9cea,#1ba0e6,#1aa4e2,#1aa6e0,#1aa4e2,#1b9ee8,#1c9de9,#1ba1e5,#1ba2e4,#1c9bea,#1ba0e6,#1aa4e2,#1aa5e1,#1ba1e5,#1c9bea,#1ba1e5,#1aa4e2,#1aa5e1,#1b9fe7,#1c9cea,#1ba1e5,#1ba1e5,#1c9de9,#1c9ee8,#1aa4e2,#1aa3e3,#1c9de9,#1c9ee8,#1aa2e4,#1aa3e3,#1c9cea,#1d9beb,#1ba0e6,#1ba1e5,#1c9de9,#2191ef,#238df1,#2290f0,#2190ef,#238df1,#2784f5,#2687f4,#248bf2,#238ef1,#2589f3,#2783f5,#2589f3,#228ff0,#238df1,#238df1,#1e98ec,#1b9ee8)"></i>
<i style="top:28.0px;height:2.6px;background:linear-gradient(90deg,#1d9beb,#1d9aeb,#1e99ec,#248bf2,#2c7bf8,#2784f5,#1f96ed,#1d9aeb,#2094ee,#2981f6,#2b7cf7,#238cf1,#248af2,#2c7bf8,#2784f5,#1f96ed,#1e97ec,#2588f3,#2c7af8,#2588f3,#1e97ec,#1f96ed,#2784f5,#2c7bf8,#248af2,#238cf1,#2b7cf7,#2980f6,#2094ee,#2191ef,#2b7df7,#2a7ef7,#2191ef,#2092ee,#2a7ff7,#2c7bf8,#238df1,#2094ee,#248cf2,#2e77f8,#2f76f9,#2882f6,#2687f4,#2a7ef7,#336efa,#3073f9,#2980f6,#2784f5,#2c7bf8,#346cf9,#2e76f9,#2980f6,#2e76f9,#3074f9,#2686f4,#2092ee)"></i>
<i style="top:30.0px;height:2.6px;background:linear-gradient(90deg,#2686f4,#2686f4,#2882f6,#336efa,#453fe2,#3a5ff6,#2a7ef7,#2784f5,#2b7cf7,#3e56f3,#4344e5,#3271fa,#356bf9,#453ee1,#3b5ff6,#2a7ef7,#2980f6,#3766f8,#453de1,#3766f8,#2980f7,#2a7ef7,#3b5ff6,#453fe2,#356bf9,#3270fa,#4443e5,#3f56f2,#2c7bf8,#2e77f9,#424aea,#414dec,#2e78f8,#2d79f8,#4051ef,#4344e5,#3073f9,#2980f7,#2f75f9,#4442e4,#4441e3,#3271fa,#2d79f8,#3669f8,#4535d5,#4443e5,#3172fa,#2e77f8,#3a61f6,#4432d0,#414cec,#346bf9,#4346e7,#463bde,#3270fa,#2980f6)"></i>
<i style="top:32.0px;height:2.6px;background:linear-gradient(90deg,#2c7af8,#2d7af8,#2f76f9,#414dec,#4226bc,#4535d6,#3270fa,#2f76f9,#356bf9,#432bc5,#4226bc,#4051ef,#4344e5,#4226bc,#4534d4,#3271fa,#3171fa,#463bdf,#4226bc,#453de0,#3270fa,#326ffa,#4535d5,#4226bc,#4345e6,#414dec,#4226bc,#432ac2,#3766f7,#3b5ef5,#4226bc,#4226bc,#3a60f6,#3864f7,#4227bd,#4226bc,#3e59f4,#3172fa,#3b5ff6,#4226bc,#4226bc,#3e58f4,#336efa,#4050ee,#4226bc,#4226bc,#3b5ef6,#346bf9,#4443e5,#4226bc,#4228c0,#4050ee,#4226bc,#4226bc,#3e59f4,#2f76f9)"></i>
<i style="top:34.0px;height:2.6px;background:linear-gradient(90deg,#2d79f8,#2d79f8,#2f75f9,#414dec,#4226bc,#4534d4,#3767f8,#356af9,#3863f7,#432bc5,#4226bc,#414ceb,#4536d8,#4226bc,#4432d0,#346df9,#3766f8,#4431ce,#4226bc,#4536d8,#3962f7,#3766f8,#4534d4,#4226bc,#463bdf,#463cdf,#4226bc,#4226bc,#3e59f4,#4051ef,#4226bc,#4226bc,#3f53f1,#3e57f3,#4226bc,#4226bc,#414dec,#3766f8,#3d5af5,#4226bc,#4226bc,#424ae9,#3569f8,#4051ef,#4226bc,#4226bc,#3f55f1,#3864f7,#4344e6,#4226bc,#4226bc,#4345e6,#4226bc,#4226bc,#3d5af5,#2f76f9)"></i>
<i style="top:36.0px;height:2.6px;background:linear-gradient(90deg,#2e78f8,#2e77f8,#3074f9,#3c5cf5,#4432d0,#4347e7,#3e57f4,#4249e9,#3d59f4,#453fe2,#4533d3,#4052ef,#432dc8,#4226bc,#453ee1,#3569f8,#414eed,#4228bf,#4226bc,#4638da,#4442e4,#3e57f3,#4346e7,#442ec9,#4639dc,#432dc7,#4226bc,#4431cf,#453ee1,#453de1,#4430cd,#4431ce,#453ee1,#453ee1,#4432d1,#442eca,#453de0,#4247e8,#3e57f3,#4430ce,#4226bc,#4432d0,#3c5cf5,#3d5bf5,#442fcb,#4430cd,#463bdf,#414ceb,#404fee,#4227be,#4226bc,#4535d5,#4432d0,#4533d3,#3865f7,#2f76f9)"></i>
<i style="top:38.0px;height:2.6px;background:linear-gradient(90deg,#2f75f9,#3171fa,#3171fa,#356af9,#3d5af4,#3c5df5,#453ee1,#4226bc,#4248e8,#3c5cf5,#3d59f4,#3f56f2,#4226bc,#4226bc,#414eed,#3864f7,#442fcb,#4226bc,#4534d4,#4536d8,#4226bc,#453ee1,#3c5cf5,#404fed,#4533d2,#4226bc,#432bc4,#463cdf,#4226bc,#4329c2,#4347e8,#4346e7,#4228bf,#4226bc,#4344e5,#4248e9,#432dc7,#4226bc,#404fee,#424aea,#4226bc,#4226bc,#4345e6,#3962f6,#4051ef,#453ee1,#4226bc,#432dc8,#3e58f4,#4440e2,#4226bc,#4226bc,#4344e5,#3d59f4,#3270fa,#2e76f9)"></i>
<i style="top:40.0px;height:2.6px;background:linear-gradient(90deg,#3270fa,#3c5df5,#3a60f6,#336ffa,#336ef9,#3667f8,#4432d0,#4226bc,#453ce0,#356af8,#346df9,#3e57f3,#4226bc,#4226bc,#3e57f3,#3a60f6,#4226bc,#4226bc,#4440e2,#4535d6,#4226bc,#4432d0,#3767f8,#3863f7,#442fcc,#4226bc,#4431cf,#4344e5,#4226bc,#4226bc,#3e57f4,#3f55f2,#4226bc,#4226bc,#4050ee,#3d5af5,#4226bc,#4226bc,#4249e9,#3d5af5,#4226bc,#4226bc,#4535d5,#3863f7,#3963f7,#4247e8,#4226bc,#4226bc,#3c5bf5,#3f53f1,#4226bc,#4226bc,#4050ee,#346df9,#3074f9,#2f76f9)"></i>
<i style="top:42.0px;height:2.6px;background:linear-gradient(90deg,#3963f7,#4535d5,#453de0,#356af9,#3073f9,#346df9,#4638db,#4226bc,#4345e6,#3270fa,#3172f9,#3b5df5,#4226bc,#4226bc,#3b5ff6,#3963f7,#4228c0,#4226bc,#404fee,#4540e2,#4226bc,#4638db,#346cf9,#346cf9,#4638db,#4226bc,#453ee1,#4051ef,#4226bc,#4227be,#3a61f6,#3b5ff6,#4226bc,#4226bc,#3d5bf5,#3864f7,#432cc6,#4226bc,#4050ee,#3a61f6,#432ac3,#4226bc,#4535d5,#3a60f6,#3766f7,#4050ee,#4226bc,#4226bc,#3961f6,#3a5ff6,#4226bc,#4226bc,#3c5cf5,#3073f9,#2f75f9,#2f76f9)"></i>
<i style="top:44.0px;height:2.6px;background:linear-gradient(90deg,#3a60f6,#4226bc,#432dc8,#336ef9,#2c7bf8,#2e78f8,#3b5ff6,#4442e4,#3765f7,#2d79f8,#2c7bf8,#3172fa,#414beb,#414eed,#3172f9,#3074f9,#4052f0,#4248e8,#346cf9,#3863f7,#4442e4,#3b5ff6,#2e78f8,#2e78f8,#3a5ff6,#4442e4,#3963f7,#346cf9,#4249e9,#4051ef,#3073f9,#3172f9,#404fed,#424bea,#3271fa,#3074f9,#3f55f2,#4344e5,#3668f8,#326ffa,#4249e9,#432dc7,#424aea,#3765f7,#336df9,#3765f7,#4344e5,#4050ee,#3074f9,#3074f9,#3f52f0,#414eec,#3073f9,#2b7df7,#2b7df7,#2b7df7)"></i>
<i style="top:46.0px;height:2.6px;background:linear-gradient(90deg,#356af9,#4329c1,#463add,#2c7bf8,#248bf2,#248bf2,#2980f6,#2d79f8,#2882f6,#248cf2,#238df1,#2687f4,#2c7bf7,#2b7cf7,#2587f3,#2588f3,#2b7df7,#2c7bf8,#2784f5,#2881f6,#2d79f8,#2980f6,#248bf2,#248bf2,#2980f6,#2d79f8,#2881f6,#2784f5,#2c7bf8,#2b7df7,#2588f3,#2687f4,#2b7cf7,#2c7bf8,#2686f4,#2588f3,#2b7cf7,#2e77f8,#2a7ef7,#2c7cf7,#356af8,#3e58f4,#3961f6,#346df9,#2f75f9,#2c7af8,#2e78f8,#2b7df7,#238cf1,#238ef1,#2881f6,#2980f6,#228ef0,#2094ee,#2093ee,#2192ef)"></i>
<i style="top:48.0px;height:2.6px;background:linear-gradient(90deg,#2f75f9,#3f53f1,#3073f9,#1c9cea,#19a9dd,#18abdb,#19a8de,#19a6e0,#19a9dd,#18acda,#18acda,#18abdb,#19a8de,#19a8de,#18abdb,#18abdb,#19a8de,#19a7df,#18abdb,#19aadc,#19a7df,#19a9dd,#18acda,#18acda,#19a9dd,#19a7df,#19aadc,#18abdb,#19a7df,#19a8de,#18abdb,#18aadc,#19a7df,#19a6e0,#19a9dd,#19aadc,#1aa4e2,#1b9ee8,#1d9beb,#2589f3,#3074f9,#3668f8,#3766f8,#346bf9,#2d7af8,#228ff0,#1b9fe7,#19a7df,#17afd7,#16b3d3,#17b1d5,#17b2d4,#18b5cf,#18b6ce,#16b3d3,#17afd7)"></i>
<i style="top:50.0px;height:2.6px;background:linear-gradient(90deg,#2b7cf7,#2784f5,#1cb8c8,#40c59c,#59c989,#64ca80,#63ca81,#63ca81,#66ca7f,#68ca7e,#6aca7d,#6aca7d,#68ca7e,#69ca7d,#6cca7b,#6cca7b,#6aca7d,#69ca7d,#6cca7c,#6bca7c,#69ca7d,#6bca7c,#6dca7b,#6dca7b,#6bca7c,#69ca7d,#6bca7c,#6cca7c,#67ca7e,#65ca7f,#66ca7f,#64ca80,#61ca82,#5fc984,#5fc984,#5ec985,#4dc792,#35c4a4,#25beb8,#1ba2e4,#2e78f8,#3569f8,#3864f7,#3767f8,#2980f6,#18abdb,#2bc1ae,#43c699,#5bc987,#75c976,#7cc972,#81c86f,#88c86b,#83c86e,#68ca7e,#53c88d)"></i>
<i style="top:52.0px;height:2.6px;background:linear-gradient(90deg,#2882f6,#17b2d4,#d5c043,#f1bd34,#f8be2f,#fac22b,#fac22b,#fac32b,#fac32a,#fac42a,#f9c42a,#f9c52a,#f9c52a,#f9c529,#f9c629,#f9c629,#f9c529,#f9c529,#f9c629,#f9c629,#f9c529,#f9c529,#f9c629,#f9c629,#f9c529,#f9c529,#f9c629,#f9c629,#f9c52a,#fac42a,#fac32b,#fac22b,#fac12b,#fac02c,#fabf2c,#fabe2d,#f3be32,#e8bd3a,#b1c654,#21bbbf,#2c7bf8,#3668f8,#3961f6,#3863f7,#238cf1,#2ac1af,#a6c65a,#d7c042,#edbd36,#f5be30,#f8be2f,#f9be2e,#fabf2d,#f9be2e,#f1be33,#e9bd39)"></i>
<i style="top:54.0px;height:2.6px;background:linear-gradient(90deg,#2785f5,#29c0b1,#fac42a,#f8d522,#f7df1c,#f6e817,#f6e917,#f6e917,#f6ea16,#f5ea16,#f5eb16,#f5ec15,#f5ec15,#f5ed15,#f5ed15,#f5ed15,#f5ed15,#f5ed15,#f5ed15,#f5ed15,#f5ed15,#f5ed15,#f5ed15,#f5ed15,#f5ed15,#f5ed15,#f5ed15,#f5ed15,#f5ec15,#f5eb16,#f6e916,#f6e817,#f6e718,#f6e618,#f6e519,#f6e41a,#f8d720,#f9c52a,#f0bd34,#3ac5a0,#2b7df7,#3667f8,#3a60f6,#3963f7,#2093ee,#47c696,#e4be3c,#f3be32,#fac22b,#f9cf25,#f8d323,#f8d522,#f8d720,#f8d422,#f9c928,#f8be2e)"></i>
<i style="top:56.0px;height:2.6px;background:linear-gradient(90deg,#2686f4,#24bdb9,#f4be31,#f9c52a,#f9ce25,#f8d621,#f8d621,#f8d721,#f8d720,#f8d820,#f8d820,#f8d920,#f8d91f,#f8da1f,#f8da1f,#f8da1f,#f8da1f,#f8da1f,#f8da1f,#f8da1f,#f8da1f,#f8da1f,#f8da1f,#f8da1f,#f8da1f,#f8da1f,#f8da1f,#f8da1f,#f8d91f,#f8d820,#f8d721,#f8d621,#f8d522,#f8d422,#f8d323,#f8d223,#f9c629,#f4be31,#e1be3e,#2ac1af,#2b7cf7,#3669f8,#3962f7,#3864f7,#238ef1,#2dc3ab,#b3c553,#e3be3c,#f0bd34,#f8be2e,#fabf2c,#fac12c,#fac32b,#fac02c,#f4be31,#ecbd37)"></i>
<i style="top:58.0px;height:2.6px;background:linear-gradient(90deg,#2686f4,#18add9,#75c976,#9bc761,#b1c654,#bfc34d,#bfc34d,#c0c34d,#c1c34d,#c2c34c,#c3c34b,#c4c34b,#c5c24a,#c6c24a,#c7c24a,#c7c24a,#c6c24a,#c7c24a,#c7c24a,#c7c24a,#c7c24a,#c7c24a,#c7c24a,#c7c24a,#c7c24a,#c7c24a,#c7c24a,#c7c24a,#c5c34b,#c3c34c,#c0c34d,#bec44e,#bcc44f,#bac450,#b7c551,#b5c552,#97c762,#68ca7d,#45c698,#18acda,#2d79f8,#356af8,#3864f7,#3766f7,#2980f6,#18add9,#30c3a8,#4dc792,#64ca80,#84c86e,#8ec868,#93c765,#9bc761,#97c763,#7dc972,#5fc983)"></i>
<i style="top:60.0px;height:2.6px;background:linear-gradient(90deg,#2686f4,#1e98ec,#16b2d4,#17b5d0,#17b2d4,#18aed8,#19aadc,#19a9dd,#19aadc,#18aadc,#18abdb,#18acda,#18acda,#18acda,#18abdb,#18abdb,#18aadc,#18abdb,#18acda,#18add9,#18add9,#18aed8,#17aed8,#17aed8,#18aed8,#18add9,#18add9,#18add9,#18acda,#18acda,#18acda,#18acda,#18abdb,#19aadc,#19a8de,#19a8de,#1aa4e2,#1b9ee8,#1f96ed,#2a7ff7,#3668f8,#3d5bf5,#3f55f2,#3f56f2,#356af8,#2a7ef7,#2093ee,#1c9cea,#1ba1e5,#1aa5e1,#19a6e0,#19a7df,#18acda,#17b2d4,#16b4d1,#17b1d5)"></i>
<i style="top:62.0px;height:2.6px;background:linear-gradient(90deg,#2c7bf7,#2a7ff7,#2785f5,#2a7ff7,#346cf9,#414dec,#4537da,#4534d4,#4533d3,#4536d6,#4639dc,#453de0,#453ee1,#463bdf,#4638da,#4535d5,#4534d3,#4536d7,#463ade,#4442e4,#4249e9,#414dec,#414eed,#414ceb,#4347e7,#4441e3,#453ce0,#463ade,#463bdf,#453ee1,#4441e3,#4441e3,#453ee1,#4639dc,#4535d6,#4533d2,#4432d0,#4533d1,#4533d3,#442ec9,#4226bc,#4226bc,#4226bc,#4226bc,#4226bc,#4226bc,#432bc4,#4430cc,#4432d1,#4534d3,#4533d2,#4533d2,#4249e9,#3668f8,#2b7df7,#2980f6)"></i>
<i style="top:64.0px;height:2.6px;background:linear-gradient(90deg,#2f75f9,#2f75f9,#3074f9,#346bf9,#4441e3,#4226bc,#4226bc,#4226bc,#4226bc,#4226bc,#4226bc,#4226bc,#4226bc,#4226bc,#4226bc,#4226bc,#4226bc,#4226bc,#4226bc,#4226bc,#4226bc,#4226bc,#4226bc,#4226bc,#4226bc,#4226bc,#4226bc,#4226bc,#4226bc,#4226bc,#4226bc,#4226bc,#4226bc,#4226bc,#4226bc,#4226bc,#4226bc,#4226bc,#4226bc,#4226bc,#4226bc,#4226bc,#4226bc,#4226bc,#4226bc,#4226bc,#4226bc,#4226bc,#4226bc,#4226bc,#4226bc,#4226bc,#4226bc,#4639dd,#3766f8,#336efa)"></i>
<i style="top:66.0px;height:2.6px;background:linear-gradient(90deg,#2f75f9,#2f75f9,#2f75f9,#3171fa,#3c5df5,#4344e5,#4537d8,#4536d6,#4535d6,#4536d7,#4537d9,#4638db,#4638db,#4638da,#4537d8,#4536d6,#4535d6,#4536d7,#4537d9,#4639dc,#463ade,#463bdf,#463ade,#4638db,#4536d7,#4533d2,#4431cf,#4430cd,#4431ce,#4533d1,#4535d5,#4536d8,#4537d9,#4536d8,#4536d7,#4535d6,#4535d6,#4536d7,#4536d7,#4534d4,#4431cf,#432dc8,#432ac2,#4228c0,#4329c2,#432cc7,#442fcc,#4432d0,#4533d3,#4534d4,#4534d4,#4535d5,#4345e6,#3b5df5,#3172fa,#3073f9)"></i>
<i style="top:68.0px;height:2.6px;background:linear-gradient(90deg,#3074f9,#3074f9,#3074f9,#3073f9,#3270fa,#356bf9,#3668f8,#3668f8,#3668f8,#3668f8,#3668f8,#3668f8,#3668f8,#3668f8,#3668f8,#3668f8,#3668f8,#3668f8,#3668f8,#3668f8,#3668f8,#3668f8,#3668f8,#3668f8,#3668f8,#3668f8,#3667f8,#3667f8,#3667f8,#3668f8,#3668f8,#3668f8,#3668f8,#3668f8,#3668f8,#3668f8,#3668f8,#3668f8,#3767f8,#3865f7,#3962f7,#3a5ff6,#3b5ef5,#3b5ef6,#3a60f6,#3963f7,#3765f7,#3767f8,#3668f8,#3668f8,#3668f8,#3668f8,#346cf9,#3271fa,#3074f9,#3074f9)"></i>
<i style="top:70.0px;height:2.6px;background:linear-gradient(90deg,#3171fa,#3171fa,#3171fa,#3171fa,#3271fa,#3270fa,#3270fa,#3270fa,#3270fa,#3270fa,#3270fa,#3270fa,#3270fa,#3270fa,#3270fa,#3270fa,#3270fa,#3270fa,#3270fa,#3270fa,#3270fa,#3270fa,#3270fa,#3270fa,#3270fa,#3270fa,#3270fa,#3270fa,#3270fa,#3270fa,#3270fa,#3270fa,#3270fa,#3270fa,#3270fa,#3270fa,#3270fa,#3270fa,#326ffa,#336efa,#346cf9,#356bf9,#356af8,#356af9,#346cf9,#336df9,#336ffa,#3270fa,#3270fa,#3270fa,#3270fa,#3270fa,#3271fa,#3171fa,#3171fa,#3171fa)"></i>
<i style="top:72.0px;height:2.6px;background:linear-gradient(90deg,#3b5df5,#3b5df5,#3b5df5,#3b5df5,#3b5df5,#3b5df5,#3b5df5,#3b5df5,#3b5df5,#3b5df5,#3b5df5,#3b5df5,#3b5df5,#3b5df5,#3b5df5,#3b5df5,#3b5df5,#3b5df5,#3b5df5,#3b5df5,#3b5df5,#3b5df5,#3b5df5,#3b5df5,#3b5df5,#3b5df5,#3b5df5,#3b5df5,#3b5df5,#3b5df5,#3b5df5,#3b5df5,#3b5df5,#3b5df5,#3b5df5,#3b5df5,#3b5df5,#3b5df5,#3c5df5,#3c5cf5,#3d5bf5,#3d5af4,#3d59f4,#3d5af4,#3d5af5,#3c5bf5,#3c5cf5,#3c5df5,#3b5df5,#3b5df5,#3b5df5,#3b5df5,#3b5df5,#3b5df5,#3b5df5,#3b5df5)"></i>
<i style="top:74.0px;height:2.6px;background:linear-gradient(90deg,#4639dc,#4639dc,#4639dc,#4639dc,#4639dc,#4639dc,#4639dc,#4639dc,#4639dc,#4639dc,#4639dc,#4639dc,#4639dc,#4639dc,#4639dc,#4639dc,#4639dc,#4639dc,#4639dc,#4639dc,#4639dc,#4639dc,#4639dc,#4639dc,#4639dc,#4639dc,#4639dc,#4639dc,#4639dc,#4639dc,#4639dc,#4639dc,#4639dc,#4639dc,#4639dc,#4639dc,#4639dc,#4639dc,#4638db,#4638db,#4638da,#4537d9,#4537d9,#4537d9,#4537da,#4638da,#4638db,#4639dc,#4639dc,#4639dc,#4639dc,#4639dc,#4639dc,#4639dc,#4639dc,#4639dc)"></i>
<i style="top:76.0px;height:2.6px;background:linear-gradient(90deg,#4431ce,#4431ce,#4431ce,#4431ce,#4431ce,#4431ce,#4431ce,#4431ce,#4431ce,#4431ce,#4431ce,#4431ce,#4431ce,#4431ce,#4431ce,#4431ce,#4431ce,#4431ce,#4431ce,#4431ce,#4431ce,#4431ce,#4431ce,#4431ce,#4431ce,#4431ce,#4431ce,#4431ce,#4431ce,#4431ce,#4431ce,#4431ce,#4431ce,#4431ce,#4431ce,#4431ce,#4431ce,#4431ce,#4431ce,#4430ce,#4430cd,#4430cd,#4430cc,#4430cd,#4430cd,#4430cd,#4430ce,#4431ce,#4431ce,#4431ce,#4431ce,#4431ce,#4431ce,#4431ce,#4431ce,#4431ce)"></i>
<i style="top:78.0px;height:2.6px;background:linear-gradient(90deg,#442ec9,#442ec9,#442ec9,#442ec9,#442ec9,#442ec9,#442ec9,#442ec9,#442ec9,#442ec9,#442ec9,#442ec9,#442ec9,#442ec9,#442ec9,#442ec9,#442ec9,#442ec9,#442ec9,#442ec9,#442ec9,#442ec9,#442ec9,#442ec9,#442ec9,#442ec9,#442ec9,#442ec9,#442ec9,#442ec9,#442ec9,#442ec9,#442ec9,#442ec9,#442ec9,#442ec9,#442ec9,#442ec9,#442ec9,#442ec9,#442ec9,#432dc9,#432dc9,#432dc9,#442ec9,#442ec9,#442ec9,#442ec9,#442ec9,#442ec9,#442ec9,#442ec9,#442ec9,#442ec9,#442ec9,#442ec9)"></i>
<i style="top:80.0px;height:2.6px;background:linear-gradient(90deg,#4431cf,#4431cf,#4431cf,#4431cf,#4431cf,#4431cf,#4431cf,#4431cf,#4431cf,#4431cf,#4431cf,#4431cf,#4431cf,#4431cf,#4431cf,#4431cf,#4431cf,#4431cf,#4431cf,#4431cf,#4431cf,#4431cf,#4431cf,#4431cf,#4431cf,#4431cf,#4431cf,#4431cf,#4431cf,#4431cf,#4431cf,#4431cf,#4431cf,#4431cf,#4431cf,#4431cf,#4431cf,#4431cf,#4431cf,#4431cf,#4431cf,#4431cf,#4431cf,#4431cf,#4431cf,#4431cf,#4431cf,#4431cf,#4431cf,#4431cf,#4431cf,#4431cf,#4431cf,#4431cf,#4431cf,#4431cf)"></i>
<i style="top:82.0px;height:2.6px;background:linear-gradient(90deg,#463bdf,#463bdf,#463bdf,#463bdf,#463bdf,#463bdf,#463bdf,#463bdf,#463bdf,#463bdf,#463bdf,#463bdf,#463bdf,#463bdf,#463bdf,#463bdf,#463bdf,#463bdf,#463bdf,#463bdf,#463bdf,#463bdf,#463bdf,#463bdf,#463bdf,#463bdf,#463bdf,#463bdf,#463bdf,#463bdf,#463bdf,#463bdf,#463bdf,#463bdf,#463bdf,#463bdf,#463bdf,#463bdf,#463bdf,#463bdf,#463bdf,#463bdf,#463bdf,#463bdf,#463bdf,#463bdf,#463bdf,#463bdf,#463bdf,#463bdf,#463bdf,#463bdf,#463bdf,#463bdf,#463bdf,#463bdf)"></i>
</div>
<div class="pn" style="left:168.40px;top:117.00px;width:109.50px;height:84.00px">
<i style="top:0.0px;height:2.6px;background:linear-gradient(90deg,#3a60f6,#3c5bf5,#442eca,#463cdf,#3d5af5,#4430cd,#4639dc,#3b5ef6,#4050ee,#4228bf,#4050ee,#3b5ef6,#4639dc,#4430ce,#3d5af5,#463bdf,#442fcb,#3c5bf5,#3d59f4,#432bc5,#4442e4,#3b5ff6,#4248e8,#4329c1,#3f56f3,#3c5df5,#4432d1,#4536d8,#3b5ef5,#3f52f0,#4228c0,#414dec,#3b5ef6,#453cdf,#442eca,#3d5af4,#453fe2,#432dc7,#3d5af4,#3d5af5,#432dc8,#453ee1,#3b5ef6,#414beb,#4228c0,#3f54f1,#3b5df5,#4535d6,#4534d3,#3b5df5,#3f55f2,#4329c1,#4249e9,#3f56f3,#432ac2,#4347e7)"></i>
<i style="top:2.0px;height:2.6px;background:linear-gradient(90deg,#3863f7,#3b5ef5,#442fcc,#453ee1,#3c5df5,#4431cf,#463ade,#3a61f6,#3f52f0,#4329c0,#3f53f0,#3a61f6,#463ade,#4431cf,#3b5df5,#453de0,#442fcc,#3b5ef5,#3c5cf5,#432cc6,#4344e5,#3961f6,#424aea,#432ac2,#3e59f4,#3a5ff6,#4533d3,#4537da,#3a60f6,#3f55f2,#4329c1,#4050ee,#3961f6,#453ee1,#442fcb,#3c5cf5,#4441e3,#432dc9,#3c5df5,#3b5df5,#442eca,#4440e2,#3961f6,#414eed,#4329c1,#3e57f3,#3a60f6,#4536d7,#4535d5,#3a60f6,#3e58f4,#4329c2,#414ceb,#3e59f4,#432ac3,#4249e9)"></i>
<i style="top:4.0px;height:2.6px;background:linear-gradient(90deg,#3766f8,#3a61f6,#4431ce,#4440e3,#3a60f6,#4432d1,#453de0,#3864f7,#3f56f2,#432ac2,#3f56f3,#3864f7,#453ce0,#4533d2,#3a60f6,#4540e2,#4431cf,#3a61f6,#3b5ef6,#432dc9,#4347e7,#3864f7,#414dec,#432bc5,#3c5cf5,#3962f7,#4535d5,#4639dc,#3863f7,#3e58f4,#432ac3,#3f53f0,#3864f7,#4441e3,#4430ce,#3a5ff6,#4344e5,#442fcb,#3a5ff6,#3a60f6,#442fcc,#4443e4,#3864f7,#4051ef,#432ac3,#3d5af4,#3963f7,#4638da,#4536d8,#3963f7,#3d5bf5,#432bc4,#404fed,#3c5cf5,#432bc5,#414ceb)"></i>
<i style="top:6.0px;height:2.6px;background:linear-gradient(90deg,#3569f8,#3863f7,#4432d1,#4443e5,#3963f7,#4534d4,#4440e2,#3767f8,#3e59f4,#432cc5,#3d59f4,#3767f8,#453fe2,#4535d5,#3963f7,#4443e4,#4533d2,#3863f7,#3961f6,#442fcc,#424aea,#3667f8,#4051ef,#432dc8,#3b5ef6,#3765f7,#4537d9,#463cdf,#3766f8,#3c5bf5,#432cc6,#3f56f3,#3767f8,#4344e5,#4432d1,#3962f6,#4347e7,#4431ce,#3962f7,#3963f7,#4431cf,#4346e7,#3667f8,#3f54f1,#432cc6,#3c5cf5,#3766f7,#463add,#4638db,#3765f7,#3b5df5,#432cc7,#4052f0,#3b5ef6,#432dc8,#404fee)"></i>
<i style="top:8.0px;height:2.6px;background:linear-gradient(90deg,#346cf9,#3766f8,#4535d5,#4347e7,#3765f7,#4536d8,#4443e5,#3569f8,#3c5cf5,#442ec9,#3c5cf5,#3569f8,#4443e4,#4537d9,#3765f7,#4346e7,#4535d5,#3766f8,#3864f7,#4431cf,#414dec,#356af9,#3f54f1,#442fcb,#3961f6,#3668f8,#4639dc,#453fe2,#3669f8,#3b5ef5,#442ec9,#3d59f4,#356af8,#4347e8,#4534d4,#3865f7,#424aea,#4533d2,#3765f7,#3765f7,#4533d3,#4249e9,#356af8,#3e58f4,#442eca,#3a5ff6,#3669f8,#453de0,#463bde,#3668f8,#3a60f6,#442fca,#3f56f2,#3961f6,#442fcc,#3f53f0)"></i>
<i style="top:10.0px;height:2.6px;background:linear-gradient(90deg,#336ffa,#3569f8,#4537d9,#424aea,#3668f8,#4639dc,#4347e7,#346cf9,#3b5ef6,#4430cd,#3b5ff6,#346cf9,#4346e7,#4639dd,#3668f8,#424ae9,#4537d9,#3569f8,#3767f8,#4534d3,#4051ef,#346df9,#3e58f4,#4431cf,#3864f7,#356bf9,#453ce0,#4442e4,#346cf9,#3a61f6,#4430cd,#3c5cf5,#346df9,#424bea,#4537d9,#3668f8,#414eed,#4535d6,#3668f8,#3668f8,#4536d7,#414dec,#346df9,#3d5bf5,#4430ce,#3962f6,#346cf9,#4440e3,#453ee1,#346bf9,#3863f7,#4431ce,#3d59f4,#3864f7,#4432d0,#3e56f3)"></i>
<i style="top:12.0px;height:2.6px;background:linear-gradient(90deg,#3171fa,#346cf9,#463add,#414eed,#346bf9,#453ce0,#424bea,#326ffa,#3961f6,#4533d1,#3962f6,#326ffa,#424aea,#453de0,#346bf9,#414dec,#463ade,#346cf9,#356af8,#4536d8,#3f55f2,#3270fa,#3d5bf5,#4534d4,#3767f8,#336ef9,#4440e2,#4346e7,#336ffa,#3864f7,#4533d2,#3a5ff6,#3270fa,#414eed,#4639dd,#356bf9,#4052ef,#4638da,#356bf9,#346bf9,#4638db,#4050ee,#3270fa,#3b5ef5,#4533d2,#3865f7,#336efa,#4344e5,#4442e4,#336efa,#3766f8,#4533d3,#3c5cf5,#3767f8,#4534d4,#3d5af4)"></i>
<i style="top:14.0px;height:2.6px;background:linear-gradient(90deg,#3073f9,#3270fa,#453fe1,#3f53f0,#336ffa,#4441e3,#4050ee,#3172fa,#3765f7,#4536d8,#3766f7,#3172fa,#404fed,#4442e4,#326ffa,#3f52f0,#453fe2,#3270fa,#336ef9,#463ade,#3d59f4,#3172f9,#3b5ff6,#4638da,#356bf9,#3171fa,#4345e6,#414beb,#3172fa,#3668f8,#4536d8,#3963f7,#3172fa,#3f53f1,#453ee1,#336efa,#3e57f3,#453cdf,#336ffa,#326ffa,#453de0,#3f56f2,#3172fa,#3962f6,#4537d8,#3669f8,#3171fa,#4249e9,#4247e8,#3171fa,#356af8,#4537d9,#3a60f6,#356bf9,#4638db,#3b5ef5)"></i>
<i style="top:16.0px;height:2.6px;background:linear-gradient(90deg,#2e78f8,#3074f9,#4248e8,#3c5bf5,#3074f9,#424bea,#3e59f4,#2f76f9,#346cf9,#453ee1,#346df9,#2f76f9,#3e58f4,#414beb,#3074f9,#3d5bf5,#4249e9,#3074f9,#3073f9,#4344e5,#3a61f6,#2e77f9,#3766f7,#4440e2,#3171fa,#2f75f9,#404fed,#3f55f2,#2f76f9,#336ffa,#453ee1,#356af8,#2e76f9,#3c5cf5,#4248e8,#3073f9,#3b5ef6,#4345e6,#3073f9,#3074f9,#4346e7,#3b5df5,#2e77f9,#3669f8,#453fe1,#3270fa,#2f76f9,#3f53f0,#4051ef,#2f76f9,#3270fa,#453fe2,#3667f8,#3171fa,#4441e3,#3865f7)"></i>
<i style="top:18.0px;height:2.6px;background:linear-gradient(90deg,#2b7cf7,#2d79f8,#3f52f0,#3863f7,#2e78f8,#3f55f2,#3a60f6,#2c7bf8,#3172fa,#4249e9,#3172f9,#2c7bf8,#3a60f6,#3f55f2,#2d78f8,#3963f7,#3f53f0,#2d79f8,#2e77f8,#414eed,#3668f8,#2c7bf8,#336df9,#424bea,#2f76f9,#2d7af8,#3e59f4,#3b5df5,#2c7af8,#3074f9,#4249e9,#3271fa,#2c7bf8,#3863f7,#4052f0,#2e78f8,#3766f7,#4050ee,#2e78f8,#2d78f8,#4051ef,#3865f7,#2c7bf8,#3270fa,#4249e9,#3074f9,#2c7af8,#3c5cf5,#3d5af5,#2d7af8,#2f75f9,#424aea,#336efa,#2f76f9,#414beb,#346cf9)"></i>
<i style="top:20.0px;height:2.6px;background:linear-gradient(90deg,#2980f6,#2b7df7,#3c5df5,#346bf9,#2b7df7,#3b5ff6,#3669f8,#2a7ff7,#2e77f8,#3f54f1,#2e77f8,#2a7ff7,#3668f8,#3b5ff6,#2b7df7,#356bf9,#3c5df5,#2b7df7,#2b7cf7,#3d59f4,#3270fa,#2a7ff7,#3073f9,#3e56f3,#2c7af8,#2a7ef7,#3961f6,#3766f7,#2a7ff7,#2d78f8,#3f55f2,#2f76f9,#2a7ff7,#346bf9,#3c5cf5,#2b7cf7,#336ef9,#3d5bf5,#2b7cf7,#2b7df7,#3c5bf5,#346df9,#2a7ff7,#2f75f9,#3f55f2,#2d79f8,#2a7ef7,#3864f7,#3963f7,#2a7ef7,#2d7af8,#3f56f2,#3074f9,#2c7af8,#3e57f3,#3173f9)"></i>
<i style="top:22.0px;height:2.6px;background:linear-gradient(90deg,#2686f4,#2882f6,#3767f8,#3073f9,#2881f6,#3669f8,#3171fa,#2784f5,#2b7cf7,#3a60f6,#2b7cf7,#2784f5,#3270fa,#3668f8,#2981f6,#3173f9,#3667f8,#2882f6,#2980f6,#3863f7,#2f75f9,#2784f5,#2d78f8,#3961f6,#2a7ff7,#2883f6,#356af9,#336ffa,#2783f5,#2b7df7,#3a60f6,#2c7bf8,#2784f5,#3173f9,#3766f8,#2981f6,#3074f9,#3765f7,#2981f6,#2881f6,#3765f7,#3073f9,#2784f5,#2c7af8,#3a60f6,#2a7ef7,#2783f5,#336ef9,#346cf9,#2883f6,#2a7ef7,#3a61f6,#2d79f8,#2a7ff7,#3962f6,#2e78f8)"></i>
<i style="top:24.0px;height:2.6px;background:linear-gradient(90deg,#2687f4,#2783f5,#336df9,#2f76f9,#2883f6,#336ef9,#3074f9,#2685f4,#2a7ef7,#3667f8,#2a7ef7,#2785f5,#3171fa,#356bf9,#2882f6,#2f76f9,#336ef9,#2783f5,#2882f6,#3668f8,#2e77f8,#2686f4,#2c7bf8,#3669f8,#2981f6,#2784f5,#336ef9,#3172fa,#2785f5,#2a7ff7,#3668f8,#2b7df7,#2685f4,#3074f9,#346cf9,#2882f6,#2e77f8,#346cf9,#2883f6,#2883f6,#356bf9,#3074f9,#2785f5,#2b7cf7,#3668f8,#2980f7,#2785f5,#3172fa,#3271fa,#2785f5,#2980f6,#3668f8,#2c7cf7,#2981f6,#3669f8,#2c7bf8)"></i>
<i style="top:26.0px;height:2.6px;background:linear-gradient(90deg,#2882f6,#2980f7,#336ef9,#2f75f9,#2a7ff7,#356af9,#3271fa,#2981f6,#2c7cf7,#3669f8,#2c7cf7,#2980f7,#3767f8,#3961f6,#2a7ef7,#2f75f9,#336ef9,#2980f7,#2a7ef7,#3963f7,#3172f9,#2981f6,#2d79f8,#356af8,#2a7ef7,#2a7ff7,#3864f7,#346bf9,#2980f6,#2b7df7,#3669f8,#2c7bf8,#2980f6,#336efa,#3668f8,#2a7ff7,#2f76f9,#346cf9,#2a7ff7,#2a7ff7,#3766f8,#356bf9,#2a7ff7,#2c7af8,#3669f8,#2b7df7,#2981f6,#3270fa,#346cf9,#2980f7,#2b7df7,#3569f8,#2d79f8,#2a7ef7,#356af8,#2d79f8)"></i>
<i style="top:28.0px;height:2.6px;background:linear-gradient(90deg,#2a7ff7,#2b7df7,#3270fa,#2f75f9,#2b7cf7,#3962f7,#3767f8,#2b7df7,#2c7af8,#346bf9,#2d79f8,#2c7bf8,#3f53f0,#4050ee,#2c7bf8,#2f75f9,#336ffa,#2b7cf7,#2c7af8,#3f55f2,#3767f8,#2b7df7,#2e78f8,#346cf9,#2c7bf8,#2c7af8,#4051ef,#3a5ff6,#2b7df7,#2c7bf8,#346bf9,#2d79f8,#2c7bf8,#3b5df5,#3a60f6,#2b7cf7,#2f76f9,#336ef9,#2b7cf7,#2b7cf7,#3a5ff6,#3f56f2,#2d79f8,#2d79f8,#346bf9,#2c7bf8,#2a7ef7,#356af8,#3a61f6,#2c7bf8,#2c7bf7,#346cf9,#2e78f8,#2c7bf7,#346df9,#2e78f8)"></i>
<i style="top:30.0px;height:2.6px;background:linear-gradient(90deg,#2a7ef7,#2b7df7,#3073f9,#2f76f9,#2d7af8,#3f54f1,#3f56f2,#2c7af8,#2c7af8,#336ef9,#2e77f8,#2e78f8,#4639dd,#463ade,#2d78f8,#2f76f9,#336ffa,#2e78f8,#2e76f9,#453ee1,#3f55f2,#2c7bf8,#2d78f8,#326ffa,#2d79f8,#2f76f9,#4537d9,#414fed,#2c7bf8,#2c7af8,#336efa,#2e78f8,#2f76f9,#4441e3,#3f55f2,#2c7bf8,#2e77f9,#336ffa,#2d7af8,#2c7bf8,#3f56f2,#4536d8,#3173f9,#2d79f8,#336efa,#2d79f8,#2b7cf7,#3a60f6,#424aea,#2e77f8,#2c7bf8,#326ffa,#2f75f9,#2c7af8,#3171fa,#2d78f8)"></i>
<i style="top:32.0px;height:2.6px;background:linear-gradient(90deg,#2b7df7,#2c7cf7,#2f75f9,#2e77f8,#2e78f8,#453de0,#463cdf,#2e77f8,#2d79f8,#356bf9,#326ffa,#3074f9,#4430ce,#4533d2,#2e77f8,#2f76f9,#3668f8,#336ef9,#3172fa,#442ec9,#4441e3,#2d79f8,#2d78f8,#346cf9,#3074f9,#3172fa,#4329c1,#4441e3,#2d79f8,#2d79f8,#356bf9,#3073f9,#3171fa,#432cc6,#4247e8,#2d79f8,#2e76f9,#3668f8,#3073f9,#2d79f8,#414eed,#4226bc,#346df9,#2e78f8,#356af8,#2f75f9,#2c7af8,#3f53f0,#4430cd,#3172fa,#2c7af8,#336ffa,#346cf9,#2e77f8,#3074f9,#2d79f8)"></i>
<i style="top:34.0px;height:2.6px;background:linear-gradient(90deg,#2c7bf7,#2c7bf8,#2f76f9,#2e78f8,#2f76f9,#4534d4,#4432d0,#2f75f9,#2d78f8,#3a5ff6,#3d59f4,#3171fa,#4537d9,#463ade,#2e76f9,#2f76f9,#3e58f4,#3f55f2,#336ef9,#432cc6,#453de0,#2e77f8,#2e77f8,#3a60f6,#3864f7,#326ffa,#432cc6,#4344e5,#2d78f8,#2e78f8,#3b5df5,#3865f7,#346df9,#4228c0,#4346e7,#2d78f8,#2f75f9,#3f56f2,#3864f7,#2e77f8,#4052f0,#4228c0,#346bf9,#2f75f9,#3d5af5,#356af9,#2e78f8,#424bea,#4226bc,#336ef9,#2d79f8,#3668f8,#3f54f1,#3172fa,#2f75f9,#2d79f8)"></i>
<i style="top:36.0px;height:2.6px;background:linear-gradient(90deg,#2c7bf8,#2c7af8,#2e77f8,#2e78f8,#2f76f9,#453ce0,#4639dd,#2f75f9,#2e77f8,#414eed,#4639dd,#326ffa,#4052f0,#3f55f2,#2e78f8,#2f75f9,#4344e5,#4638db,#346cf9,#463cdf,#414eed,#2e78f8,#2f76f9,#424aea,#424aea,#3270fa,#4442e4,#3e58f4,#2d79f8,#2f76f9,#4345e6,#414dec,#336df9,#4638db,#3f56f3,#2d78f8,#3073f9,#463ade,#414dec,#2f76f9,#3a60f6,#453de1,#3270fa,#3073f9,#453de1,#3e58f4,#2e77f9,#3f53f0,#442eca,#326ffa,#2d79f8,#3a60f6,#4533d3,#3569f8,#2e77f9,#2d79f8)"></i>
<i style="top:38.0px;height:2.6px;background:linear-gradient(90deg,#2b7df7,#2b7df7,#2d79f8,#2e78f8,#2d79f8,#3c5cf5,#3d5af4,#2d7af8,#2d7af8,#4249e9,#4431ce,#3172fa,#336efa,#3270fa,#2b7cf7,#2d79f8,#4343e5,#4535d5,#3172f9,#3a61f6,#3569f8,#2b7cf7,#2d78f8,#453ee1,#463ade,#3074f9,#3766f7,#326ffa,#2b7cf7,#2e77f8,#4638db,#453fe2,#3074f9,#3b5ef6,#346cf9,#2b7cf7,#2f75f9,#4533d2,#4344e6,#2d79f8,#3172fa,#3864f7,#2e78f8,#3074f9,#4431cf,#414dec,#2d79f8,#3668f8,#4050ee,#2f76f9,#2c7cf7,#3a5ff6,#4329c2,#3668f8,#2c7af8,#2b7cf7)"></i>
<i style="top:40.0px;height:2.6px;background:linear-gradient(90deg,#2980f7,#2a7ff7,#2e77f8,#3172f9,#2c7cf7,#3073f9,#3173f9,#2a7ef7,#2b7df7,#3e56f3,#463bdf,#2e78f8,#2c7bf7,#2b7cf7,#2881f6,#2a7ff7,#3c5cf5,#414dec,#2c7bf8,#2d78f8,#2c7bf8,#2881f6,#2b7df7,#4248e9,#4443e4,#2c7af8,#2d79f8,#2c7bf8,#2980f6,#2c7bf8,#4441e3,#4247e8,#2c7af8,#2e76f9,#2c7af8,#2980f6,#2d7af8,#4441e3,#3f53f0,#2b7df7,#2b7cf7,#2d79f8,#2a7ff7,#2e78f8,#4638da,#3f54f1,#2b7df7,#2e78f8,#3271fa,#2b7df7,#2a7ff7,#3669f8,#4535d5,#326ffa,#2a7ef7,#2a7ff7)"></i>
<i style="top:42.0px;height:2.6px;background:linear-gradient(90deg,#2882f6,#2981f6,#3171fa,#3a60f6,#2b7cf7,#2a7ef7,#2a7ef7,#2784f5,#2883f6,#326ffa,#3962f7,#2881f6,#2589f3,#248cf2,#2191ef,#2192ef,#2a7ef7,#2d78f8,#228ff0,#228ff0,#228ff0,#2191ef,#248bf2,#346cf9,#3667f8,#2686f4,#2588f3,#2588f3,#248bf2,#2785f5,#3865f7,#3668f8,#2686f4,#2687f4,#2588f3,#238cf1,#2685f4,#356af8,#3172fa,#2589f3,#248bf2,#2589f3,#248bf2,#2883f6,#3b5ef6,#326ffa,#2687f4,#2785f5,#2881f6,#2687f4,#2588f3,#2d78f8,#3b5df5,#2d79f8,#2882f6,#2882f6)"></i>
<i style="top:44.0px;height:2.6px;background:linear-gradient(90deg,#2686f4,#2783f5,#3667f8,#4347e7,#2c7bf8,#2686f4,#248bf2,#2191ef,#2093ee,#2588f3,#2686f4,#1c9de9,#1aa5e1,#18abdb,#17b2d4,#1ab7cb,#19b6cd,#17b1d5,#1bb7ca,#19b6ce,#16b4d2,#16b2d4,#18add9,#1d9aeb,#1f96ed,#1aa5e1,#1aa5e1,#1aa3e3,#1aa4e2,#1aa2e4,#228ff0,#2191ef,#1aa4e2,#1aa5e1,#1aa6e0,#19a7df,#1aa5e1,#1f96ed,#1d9aeb,#19a7df,#19a8de,#19a8de,#19a8de,#1aa2e4,#238cf1,#2093ee,#1ba1e5,#1ba1e5,#1b9fe7,#1b9fe7,#1b9ee8,#2094ee,#2784f5,#248bf2,#2589f3,#2686f4)"></i>
<i style="top:46.0px;height:2.6px;background:linear-gradient(90deg,#238ef1,#248af2,#3668f8,#4441e3,#2a7ff7,#1f96ed,#1aa4e2,#18acda,#16b3d3,#19b6cd,#1fbac2,#2dc3aa,#46c697,#60c983,#8ac86a,#b5c552,#cec146,#bfc44e,#bac450,#adc656,#9cc760,#8cc869,#78c974,#58c889,#4dc791,#52c88d,#4bc793,#42c69a,#44c699,#43c699,#35c4a4,#38c4a1,#49c795,#4bc793,#4dc792,#50c790,#4fc790,#45c698,#4ac794,#55c88b,#58c889,#59c989,#53c88d,#4ac794,#34c4a5,#35c4a4,#3cc59e,#37c4a2,#32c4a6,#2ec3a9,#2bc2ad,#27bfb5,#20bac1,#18acda,#1e98ec,#238df1)"></i>
<i style="top:48.0px;height:2.6px;background:linear-gradient(90deg,#1e97ec,#1f95ed,#2f76f9,#3c5cf5,#258af3,#18abdb,#29c1b0,#4dc792,#72c978,#a6c65a,#c9c249,#eabd39,#f2be33,#fabf2d,#f9ca27,#f8d522,#f7de1d,#f8da1f,#f8d721,#f8d323,#f9cf24,#f9cb26,#f9c729,#fac12b,#f9be2d,#f7be2f,#f4be31,#f1be33,#f2be33,#f2be32,#f2be33,#f3be32,#f4be31,#f5be31,#f6be30,#f6be30,#f7be2f,#f6be30,#f7be2f,#f9be2e,#f9be2e,#f9be2d,#f8be2f,#f6be30,#f3be32,#f1be33,#f0bd34,#efbd35,#edbd37,#ebbd38,#e9bd39,#e3be3c,#d2c044,#45c698,#19a9dd,#2094ee)"></i>
<i style="top:50.0px;height:2.6px;background:linear-gradient(90deg,#1c9de9,#1b9ee8,#248af2,#2c7bf7,#1e99ec,#25beb8,#9fc75e,#e8bd3a,#f4be31,#f9c629,#f9cf24,#f8d920,#f7e11b,#f6e817,#f5ee14,#f5ee14,#f5ee14,#f5ee14,#f5ee14,#f5ee14,#f5ee14,#f5ee14,#f5ee14,#f5ec15,#f5ea16,#f6e817,#f6e519,#f6e31a,#f6e31a,#f6e41a,#f6e419,#f6e519,#f6e618,#f6e618,#f6e718,#f6e817,#f6e817,#f6e917,#f6e917,#f5ea16,#f5eb16,#f5eb16,#f6ea16,#f6e817,#f6e618,#f6e519,#f6e31a,#f7e11b,#f7e01c,#f7de1d,#f7dc1e,#f8da1f,#f8d522,#bcc44f,#17b5d0,#1f95ed)"></i>
<i style="top:52.0px;height:2.6px;background:linear-gradient(90deg,#19a6e0,#18abdb,#19a7df,#1ba1e5,#18abdb,#55c88b,#efbd35,#fac42a,#f8d223,#f7e11b,#f6e41a,#f6e519,#f6e618,#f6e618,#f6e419,#f7e11b,#f7dd1d,#f7df1c,#f7e11b,#f6e31a,#f6e519,#f6e618,#f6e817,#f6e917,#f6ea16,#f5ea16,#f5eb16,#f5eb16,#f5eb15,#f5ec15,#f5ec15,#f5ec15,#f5ec15,#f5ec15,#f5ec15,#f5ec15,#f5ed15,#f5ed15,#f5ed15,#f5ed15,#f5ed15,#f5ed14,#f5ee14,#f5ee14,#f5ee14,#f5ee14,#f5ee14,#f5ee14,#f5ee14,#f5ee14,#f5ee14,#f5ee14,#f5eb16,#e9bd39,#1db9c6,#1f95ed)"></i>
<i style="top:54.0px;height:2.6px;background:linear-gradient(90deg,#18acda,#16b3d3,#17b5d0,#16b4d1,#17b5d0,#6bca7c,#efbd35,#fabe2d,#f9c729,#f9cf24,#f9ca27,#f9c529,#fabf2c,#f6be30,#f1be33,#ecbd37,#e3be3c,#e9bd39,#ecbd37,#eebd36,#f0bd34,#f3be32,#f5be31,#f7be2f,#fabe2d,#fac02c,#fac32b,#f9c629,#f9c529,#f9c529,#f9c52a,#f9c52a,#f9c42a,#f9c42a,#fac42a,#fac42a,#fac32a,#fac32b,#fac32b,#fac22b,#fac22b,#fac22b,#fac42a,#f9c529,#f9c728,#f9c928,#f9cb27,#f9cc26,#f9ce25,#f9cf24,#f8d124,#f8d223,#f8d124,#bdc44e,#18b6ce,#1f95ed)"></i>
<i style="top:56.0px;height:2.6px;background:linear-gradient(90deg,#19a7df,#18add9,#17b1d5,#17b1d5,#17afd7,#3ec59d,#a2c75c,#bec44e,#c6c24a,#cfc146,#b6c552,#99c762,#7ac973,#60c983,#4dc791,#3cc59f,#2dc3aa,#34c4a5,#3bc59f,#42c69a,#49c794,#51c88f,#58c989,#60c983,#6aca7c,#77c975,#83c86e,#90c867,#8fc867,#8dc868,#8bc869,#8ac86a,#88c86b,#86c86c,#85c86d,#83c86e,#81c86f,#80c970,#7ec971,#7cc972,#7bc973,#7ac973,#82c86f,#8ac86a,#92c866,#9ac761,#a2c75c,#aac658,#b2c654,#b8c551,#bec44e,#c4c34b,#c5c34b,#47c696,#18abdb,#1f95ed)"></i>
<i style="top:58.0px;height:2.6px;background:linear-gradient(90deg,#1b9ee8,#1ba1e5,#1aa3e3,#1aa3e3,#1ba2e4,#18b5cf,#28c0b3,#2bc2ae,#2bc2ad,#2bc2ad,#25beb8,#1fbac2,#1ab7cb,#16b3d3,#17afd7,#18abdb,#19a8de,#19a9dd,#18abdb,#18acda,#18aed8,#17afd7,#17b1d5,#16b3d3,#17b5d0,#19b6cd,#1bb7ca,#1db9c6,#1db8c6,#1cb8c7,#1cb8c7,#1cb8c8,#1bb8c8,#1bb7c9,#1bb7c9,#1bb7ca,#1ab7ca,#1ab7cb,#1ab6cb,#19b6cc,#19b6cc,#19b6cd,#1ab7ca,#1cb8c8,#1db9c6,#1eb9c4,#20bac1,#21bbbf,#22bcbc,#24bdba,#25beb7,#27bfb5,#28bfb3,#16b4d2,#1ba0e6,#1f95ed)"></i>
<i style="top:60.0px;height:2.6px;background:linear-gradient(90deg,#2589f3,#2589f3,#2883f6,#2b7df7,#2c7af8,#2881f6,#2588f3,#2588f3,#2588f3,#2588f3,#2784f5,#2882f6,#2980f6,#2a7ef7,#2b7cf7,#2c7bf8,#2c7af8,#2c7bf8,#2c7bf7,#2b7cf7,#2b7df7,#2a7ef7,#2a7ef7,#2a7ff7,#2a7ff7,#2980f7,#2980f6,#2881f6,#2881f6,#2881f6,#2881f6,#2981f6,#2981f6,#2980f6,#297ff7,#2a7ff7,#2a7ff7,#297ff7,#2980f7,#2980f6,#2980f6,#2980f6,#2981f6,#2981f6,#2981f6,#2881f6,#2882f6,#2883f6,#2784f5,#2686f4,#2687f4,#248bf2,#2192ef,#2191ef,#248af2,#2686f4)"></i>
<i style="top:62.0px;height:2.6px;background:linear-gradient(90deg,#297ff7,#2a7ef7,#3864f7,#463cdf,#432cc5,#432ac3,#4228bf,#4226bc,#4226bc,#4226bc,#4228bf,#4329c1,#4329c1,#4227be,#4226bc,#4226bc,#4226bc,#4226bc,#4226bc,#4329c1,#432cc6,#432dc7,#432bc5,#4329c0,#4226bc,#4226bc,#4226bc,#4226bc,#4329c0,#432cc6,#442ec9,#432dc9,#432bc5,#4228bf,#4226bc,#4226bc,#4226bc,#4226bc,#4329c0,#432cc6,#432dc9,#432dc8,#432ac4,#4227be,#4226bc,#4226bc,#4226bc,#4228c0,#432cc7,#4430ce,#4534d3,#4343e5,#3766f7,#2c7bf8,#2980f6,#297ff7)"></i>
<i style="top:64.0px;height:2.6px;background:linear-gradient(90deg,#238df1,#238cf1,#2883f6,#2c7cf7,#2e78f8,#2e78f8,#2e77f8,#2e77f8,#2e77f8,#2e77f8,#2e77f8,#2e78f8,#2e78f8,#2e77f8,#2e77f9,#2f76f9,#2f76f9,#2e76f9,#2e77f8,#2e77f8,#2e78f8,#2e78f8,#2e77f8,#2f76f9,#2f75f9,#2f75f9,#2f75f9,#2f75f9,#2f76f9,#2e77f8,#2e78f8,#2e78f8,#2e78f8,#2e77f8,#2e77f9,#2e76f9,#2e76f9,#2e77f8,#2e77f8,#2e78f8,#2e78f8,#2e78f8,#2e77f9,#2f76f9,#2f75f9,#2f75f9,#2f75f9,#2f76f9,#2e77f8,#2d78f8,#2d79f8,#2b7cf7,#2882f6,#248bf2,#238df1,#238df1)"></i>
<i style="top:66.0px;height:2.6px;background:linear-gradient(90deg,#17b1d5,#17b1d5,#17b1d5,#17b1d5,#17b1d5,#17b1d5,#17b1d5,#17b1d5,#17b1d5,#17b1d5,#17b1d5,#17b1d5,#17b1d5,#17b1d5,#17b1d5,#17b1d5,#17b1d5,#17b1d5,#17b1d5,#17b1d5,#17b1d5,#17b1d5,#17b1d5,#17b1d5,#17b1d5,#17b1d5,#17b1d5,#17b1d5,#17b1d5,#17b1d5,#17b1d5,#17b1d5,#17b1d5,#17b1d5,#17b1d5,#17b1d5,#17b1d5,#17b1d5,#17b1d5,#17b1d5,#17b1d5,#17b1d5,#17b1d5,#17b1d5,#17b1d5,#17b1d5,#17b1d5,#17b1d5,#17b1d5,#17b1d5,#17b1d5,#17b1d5,#17b1d5,#17b1d5,#17b1d5,#17b1d5)"></i>
<i style="top:68.0px;height:2.6px;background:linear-gradient(90deg,#19b6cd,#19b6cd,#19b6cd,#19b6cd,#19b6cd,#19b6cd,#19b6cd,#19b6cd,#19b6cd,#19b6cd,#19b6cd,#19b6cd,#19b6cd,#19b6cd,#19b6cd,#19b6cd,#19b6cd,#19b6cd,#19b6cd,#19b6cd,#19b6cd,#19b6cd,#19b6cd,#19b6cd,#19b6cd,#19b6cd,#19b6cd,#19b6cd,#19b6cd,#19b6cd,#19b6cd,#19b6cd,#19b6cd,#19b6cd,#19b6cd,#19b6cd,#19b6cd,#19b6cd,#19b6cd,#19b6cd,#19b6cd,#19b6cd,#19b6cd,#19b6cd,#19b6cd,#19b6cd,#19b6cd,#19b6cd,#19b6cd,#19b6cd,#19b6cd,#19b6cd,#19b6cd,#19b6cd,#19b6cd,#19b6cd)"></i>
<i style="top:70.0px;height:2.6px;background:linear-gradient(90deg,#1ba0e6,#1ba0e6,#1ba0e6,#1ba0e6,#1ba0e6,#1ba0e6,#1ba0e6,#1ba0e6,#1ba0e6,#1ba0e6,#1ba0e6,#1ba0e6,#1ba0e6,#1ba0e6,#1ba0e6,#1ba0e6,#1ba0e6,#1ba0e6,#1ba0e6,#1ba0e6,#1ba0e6,#1ba0e6,#1ba0e6,#1ba0e6,#1ba0e6,#1ba0e6,#1ba0e6,#1ba0e6,#1ba0e6,#1ba0e6,#1ba0e6,#1ba0e6,#1ba0e6,#1ba0e6,#1ba0e6,#1ba0e6,#1ba0e6,#1ba0e6,#1ba0e6,#1ba0e6,#1ba0e6,#1ba0e6,#1ba0e6,#1ba0e6,#1ba0e6,#1ba0e6,#1ba0e6,#1ba0e6,#1ba0e6,#1ba0e6,#1ba0e6,#1ba0e6,#1ba0e6,#1ba0e6,#1ba0e6,#1ba0e6)"></i>
<i style="top:72.0px;height:2.6px;background:linear-gradient(90deg,#336df9,#336df9,#336df9,#336df9,#336df9,#336df9,#336df9,#336ef9,#336df9,#336df9,#336df9,#336df9,#336df9,#336df9,#336df9,#336df9,#336df9,#336df9,#336df9,#336df9,#336df9,#336df9,#336df9,#336df9,#336df9,#336df9,#336df9,#336df9,#336df9,#336df9,#336df9,#336df9,#336df9,#336df9,#336df9,#336df9,#336df9,#336df9,#336df9,#336df9,#336df9,#336df9,#336df9,#336df9,#336df9,#336df9,#336df9,#336df9,#336df9,#336df9,#336df9,#336df9,#336df9,#336df9,#336df9,#336df9)"></i>
<i style="top:74.0px;height:2.6px;background:linear-gradient(90deg,#4440e2,#4440e2,#4440e2,#4440e2,#4440e2,#4440e2,#4440e2,#4440e2,#4440e2,#4440e2,#4440e2,#4440e2,#4440e2,#4440e2,#4440e2,#4440e2,#4440e2,#4440e2,#4440e2,#4440e2,#4440e2,#4440e2,#4440e2,#4440e2,#4440e2,#4440e2,#4440e2,#4440e2,#4440e2,#4440e2,#4440e2,#4440e2,#4440e2,#4440e2,#4440e2,#4440e2,#4440e2,#4440e2,#4440e2,#4440e2,#4440e2,#4440e2,#4440e2,#4440e2,#4440e2,#4440e2,#4440e2,#4440e2,#4440e2,#4440e2,#4440e2,#4440e2,#4440e2,#4440e2,#4440e2,#4440e2)"></i>
<i style="top:76.0px;height:2.6px;background:linear-gradient(90deg,#4431d0,#4431d0,#4431d0,#4431d0,#4431d0,#4431d0,#4431d0,#4431d0,#4431d0,#4431d0,#4431d0,#4431d0,#4431d0,#4431d0,#4431d0,#4431d0,#4431d0,#4431d0,#4431d0,#4431d0,#4431d0,#4431d0,#4431d0,#4431d0,#4431d0,#4431d0,#4431d0,#4431d0,#4431d0,#4431d0,#4431d0,#4431d0,#4431d0,#4431d0,#4431d0,#4431d0,#4431d0,#4431d0,#4431d0,#4431d0,#4431d0,#4431d0,#4431d0,#4431d0,#4431d0,#4431d0,#4431d0,#4431d0,#4431d0,#4431d0,#4431d0,#4431d0,#4431d0,#4431d0,#4431d0,#4431d0)"></i>
<i style="top:78.0px;height:2.6px;background:linear-gradient(90deg,#442ec9,#442ec9,#442ec9,#442ec9,#442ec9,#442ec9,#442ec9,#442ec9,#442ec9,#442ec9,#442ec9,#442ec9,#442ec9,#442ec9,#442ec9,#442ec9,#442ec9,#442ec9,#442ec9,#442ec9,#442ec9,#442ec9,#442ec9,#442ec9,#442ec9,#442ec9,#442ec9,#442ec9,#442ec9,#442ec9,#442ec9,#442ec9,#442ec9,#442ec9,#442ec9,#442ec9,#442ec9,#442ec9,#442ec9,#442ec9,#442ec9,#442ec9,#442ec9,#442ec9,#442ec9,#442ec9,#442ec9,#442ec9,#442ec9,#442ec9,#442ec9,#442ec9,#442ec9,#442ec9,#442ec9,#442ec9)"></i>
<i style="top:80.0px;height:2.6px;background:linear-gradient(90deg,#4431cf,#4431cf,#4431cf,#4431cf,#4431cf,#4431cf,#4431cf,#4431cf,#4431cf,#4431cf,#4431cf,#4431cf,#4431cf,#4431cf,#4431cf,#4431cf,#4431cf,#4431cf,#4431cf,#4431cf,#4431cf,#4431cf,#4431cf,#4431cf,#4431cf,#4431cf,#4431cf,#4431cf,#4431cf,#4431cf,#4431cf,#4431cf,#4431cf,#4431cf,#4431cf,#4431cf,#4431cf,#4431cf,#4431cf,#4431cf,#4431cf,#4431cf,#4431cf,#4431cf,#4431cf,#4431cf,#4431cf,#4431cf,#4431cf,#4431cf,#4431cf,#4431cf,#4431cf,#4431cf,#4431cf,#4431cf)"></i>
<i style="top:82.0px;height:2.6px;background:linear-gradient(90deg,#463bdf,#463bdf,#463bdf,#463bdf,#463bdf,#463bdf,#463bdf,#463bdf,#463bdf,#463bdf,#463bdf,#463bdf,#463bdf,#463bdf,#463bdf,#463bdf,#463bdf,#463bdf,#463bdf,#463bdf,#463bdf,#463bdf,#463bdf,#463bdf,#463bdf,#463bdf,#463bdf,#463bdf,#463bdf,#463bdf,#463bdf,#463bdf,#463bdf,#463bdf,#463bdf,#463bdf,#463bdf,#463bdf,#463bdf,#463bdf,#463bdf,#463bdf,#463bdf,#463bdf,#463bdf,#463bdf,#463bdf,#463bdf,#463bdf,#463bdf,#463bdf,#463bdf,#463bdf,#463bdf,#463bdf,#463bdf)"></i>
</div>
<div class="pn" style="left:299.20px;top:117.00px;width:109.50px;height:84.00px">
<i style="top:0.0px;height:2.6px;background:linear-gradient(90deg,#3a60f6,#3a60f6,#3f56f2,#442fcb,#432cc5,#3f53f0,#3a60f6,#3a60f6,#3a60f6,#414eed,#4441e3,#3b5ef6,#4050ee,#453fe2,#3b5ef6,#3b5ef6,#453fe2,#4050ee,#3a60f6,#3e58f4,#463ade,#3c5cf5,#3b5ff6,#4441e3,#414dec,#3a60f6,#3d59f4,#463add,#3d5af5,#3d5af5,#463add,#3d59f4,#3b5df5,#453ce0,#3f54f1,#3a60f6,#3b5df5,#453de0,#3f53f0,#3a60f6,#3b5ff6,#4442e4,#414ceb,#3b5ff6,#4344e5,#424aea,#3a60f6,#3a5ff6,#4345e6,#4249e9,#3b5ff6,#4347e7,#4247e8,#3a60f6,#3a60f6,#3a60f6)"></i>
<i style="top:2.0px;height:2.6px;background:linear-gradient(90deg,#3863f7,#3963f7,#3d59f4,#4430cd,#432dc8,#3f56f2,#3962f7,#3863f7,#3963f7,#4051ef,#4344e5,#3961f6,#3f53f0,#4442e4,#3961f6,#3961f6,#4442e4,#3f53f0,#3963f7,#3d5af5,#453de0,#3b5ef6,#3962f6,#4344e6,#4050ee,#3963f7,#3c5cf5,#453ce0,#3b5df5,#3b5df5,#453ce0,#3c5cf5,#3a60f6,#453fe2,#3e57f3,#3863f7,#3a60f6,#453fe2,#3e56f3,#3863f7,#3962f6,#4345e6,#4050ee,#3962f6,#4347e8,#414dec,#3963f7,#3962f7,#4248e8,#414dec,#3962f6,#424aea,#424aea,#3962f7,#3863f7,#3863f7)"></i>
<i style="top:4.0px;height:2.6px;background:linear-gradient(90deg,#346cf9,#356bf9,#3961f6,#4537d8,#4533d3,#3b5ef6,#356bf9,#346cf9,#346bf9,#3d5bf5,#414eed,#3569f8,#3c5cf5,#414cec,#3569f8,#3569f8,#414cec,#3c5cf5,#346bf9,#3963f7,#4247e8,#3767f8,#356af8,#404fed,#3d5af5,#346bf9,#3864f7,#4347e7,#3766f7,#3765f7,#4347e7,#3865f7,#3668f8,#424ae9,#3a60f6,#346bf9,#3669f8,#424aea,#3a5ff6,#346bf9,#356af9,#4050ee,#3d5af4,#356af8,#4052ef,#3e58f4,#356bf9,#356af9,#4052f0,#3e57f3,#356af8,#3f54f1,#3f55f2,#356bf9,#346cf9,#346cf9)"></i>
<i style="top:6.0px;height:2.6px;background:linear-gradient(90deg,#3074f9,#3073f9,#346bf9,#4441e3,#453de0,#3669f8,#3073f9,#3074f9,#3073f9,#3765f7,#3c5bf5,#3172f9,#3667f8,#3d5af4,#3172f9,#3172f9,#3d5af4,#3667f8,#3073f9,#336df9,#3f55f2,#3271fa,#3173f9,#3c5cf5,#3865f7,#3073f9,#336ffa,#3f55f2,#3270fa,#3270fa,#3f55f2,#336ffa,#3172fa,#3e57f4,#356af9,#3074f9,#3172fa,#3e58f4,#356af8,#3074f9,#3073f9,#3c5cf5,#3864f7,#3173f9,#3b5ef5,#3963f7,#3073f9,#3073f9,#3b5ef6,#3962f7,#3173f9,#3a60f6,#3a60f6,#3073f9,#3074f9,#3074f9)"></i>
<i style="top:8.0px;height:2.6px;background:linear-gradient(90deg,#2c7af8,#2d7af8,#3073f9,#414eed,#4249e9,#3172fa,#2d7af8,#2c7af8,#2c7af8,#3270fa,#3667f8,#2d79f8,#3171fa,#3766f7,#2d79f8,#2d79f8,#3766f7,#3171fa,#2c7af8,#2f75f9,#3962f7,#2e77f8,#2d79f8,#3668f8,#3270fa,#2d7af8,#2f76f9,#3962f6,#2e77f9,#2e77f9,#3962f6,#2f76f9,#2d78f8,#3864f7,#3073f9,#2c7af8,#2d78f8,#3864f7,#3073f9,#2c7af8,#2d79f8,#3668f8,#3270fa,#2d79f8,#356af8,#336efa,#2d7af8,#2d7af8,#356af9,#336df9,#2d79f8,#346cf9,#346cf9,#2d7af8,#2c7af8,#2c7af8)"></i>
<i style="top:10.0px;height:2.6px;background:linear-gradient(90deg,#2980f6,#297ff7,#2d79f8,#3e59f4,#3f54f1,#2e77f8,#2a7ff7,#2980f6,#2980f7,#2e77f8,#3172fa,#2a7ff7,#2e78f8,#3171fa,#2a7ff7,#2a7ff7,#3171fa,#2e78f8,#2980f7,#2c7bf8,#336efa,#2b7df7,#2a7ff7,#3172fa,#2e77f8,#2980f7,#2b7cf7,#336ef9,#2b7df7,#2b7df7,#336ef9,#2b7cf7,#2a7ef7,#3270fa,#2d7af8,#2980f7,#2a7ef7,#3270fa,#2d79f8,#2980f7,#2a7ff7,#3172fa,#2e77f9,#2a7ff7,#3073f9,#2f76f9,#297ff7,#2a7ff7,#3073f9,#2f75f9,#2a7ff7,#3074f9,#3074f9,#297ff7,#2980f6,#2980f6)"></i>
<i style="top:12.0px;height:2.6px;background:linear-gradient(90deg,#2687f4,#2686f4,#2a7ff7,#3961f6,#3b5ef5,#2b7df7,#2686f4,#2687f4,#2687f4,#2a7ef7,#2d7af8,#2686f4,#2a7ff7,#2d79f8,#2686f4,#2686f4,#2d79f8,#2a7ff7,#2687f4,#2882f6,#2e77f8,#2784f5,#2686f4,#2c7af8,#2a7ef7,#2687f4,#2882f6,#2e77f8,#2783f5,#2883f6,#2e77f8,#2883f6,#2785f5,#2d78f8,#2980f6,#2687f4,#2785f5,#2d78f8,#2980f6,#2687f4,#2686f4,#2c7af8,#2a7ef7,#2686f4,#2c7bf8,#2b7df7,#2687f4,#2686f4,#2c7bf8,#2b7df7,#2686f4,#2b7cf7,#2b7cf7,#2686f4,#2687f4,#2687f4)"></i>
<i style="top:14.0px;height:2.6px;background:linear-gradient(90deg,#238ef1,#238df1,#2784f5,#3669f8,#3865f7,#2882f6,#238df1,#238ef1,#238df1,#2686f4,#2881f6,#238df1,#2687f4,#2981f6,#238df1,#238df1,#2981f6,#2687f4,#238df1,#258af3,#297ff7,#248bf2,#238df1,#2881f6,#2685f4,#238df1,#248af2,#2a7ff7,#248bf2,#248bf2,#2a7ff7,#248af2,#238cf1,#2980f6,#2588f3,#238ef1,#238cf1,#2980f6,#2588f3,#238ef1,#238df1,#2882f6,#2685f4,#238df1,#2882f6,#2784f5,#238df1,#238df1,#2882f6,#2784f5,#238df1,#2783f5,#2783f5,#238df1,#238ef1,#238ef1)"></i>
<i style="top:16.0px;height:2.6px;background:linear-gradient(90deg,#2290f0,#228ff0,#2686f4,#346cf9,#3668f8,#2784f5,#228ff0,#2290f0,#2290f0,#248af2,#2687f4,#228ff0,#248bf2,#2686f4,#228ff0,#228ff0,#2686f4,#248bf2,#2290f0,#238df1,#2785f5,#228ef0,#228ff0,#2687f4,#248af2,#228ff0,#238df1,#2785f5,#238ef1,#238ef1,#2785f5,#238df1,#228ff0,#2686f4,#238cf1,#2290f0,#228ff0,#2686f4,#248cf2,#2290f0,#228ff0,#2687f4,#248af2,#228ff0,#2588f3,#2589f3,#2290f0,#228ff0,#2588f3,#2589f3,#228ff0,#2588f3,#2589f3,#2290f0,#2290f0,#2290f0)"></i>
<i style="top:18.0px;height:2.6px;background:linear-gradient(90deg,#2192ef,#2191ef,#2589f3,#336ffa,#356bf9,#2686f4,#2191ef,#2192ef,#2191ef,#238df1,#248cf2,#2191ef,#228ef0,#248bf2,#2191ef,#2191ef,#248bf2,#238ef1,#2191ef,#2290f0,#248bf2,#2290f0,#2191ef,#238cf1,#238ef1,#2191ef,#2290f0,#248bf2,#2290f0,#2290f0,#248bf2,#2190ef,#2190ef,#248af2,#228ff0,#2191ef,#2190ef,#248bf2,#228ff0,#2191ef,#2191ef,#238cf1,#228ef0,#2191ef,#248cf2,#238df1,#2191ef,#2191ef,#238cf1,#238df1,#2191ef,#238cf1,#238df1,#2192ef,#2192ef,#2192ef)"></i>
<i style="top:20.0px;height:2.6px;background:linear-gradient(90deg,#2094ee,#2094ee,#248bf2,#3172fa,#336ffa,#2589f3,#2093ee,#2094ee,#2192ef,#238df1,#238ef1,#2093ee,#2190ef,#248bf2,#2290f0,#2192ef,#238df1,#238df1,#2192ef,#2093ee,#228ff0,#228ff0,#228ff0,#228ff0,#228ff0,#228ff0,#2190ef,#228ef0,#228ff0,#228ff0,#228ff0,#2192ef,#2290f0,#248bf2,#2191ef,#2191ef,#228ff0,#238df1,#2191ef,#2290f0,#228ff0,#228ff0,#2191ef,#2190ef,#238cf1,#228ff0,#2192ef,#228ff0,#238ef1,#2290f0,#2290f0,#238cf1,#2290f0,#2094ee,#2094ee,#2094ee)"></i>
<i style="top:22.0px;height:2.6px;background:linear-gradient(90deg,#238cf1,#238cf1,#2784f5,#336df9,#356af8,#2882f6,#248cf2,#248bf2,#2784f5,#2b7cf7,#2980f6,#2589f3,#2784f5,#2b7cf7,#2980f6,#2687f4,#2a7ff7,#2b7df7,#2686f4,#248bf2,#2686f4,#2a7ff7,#2a7ef7,#2784f5,#2882f6,#2b7df7,#2882f6,#2784f5,#2a7ef7,#2a7ff7,#2685f4,#2588f3,#2980f7,#2b7cf7,#2785f5,#2784f5,#2b7df7,#2980f6,#2686f4,#2a7ff7,#2a7ef7,#2785f5,#2588f3,#2980f6,#2b7cf7,#2783f5,#2784f5,#2b7df7,#2980f7,#2785f5,#2980f6,#2b7df7,#2785f5,#248cf2,#238cf1,#238cf1)"></i>
<i style="top:24.0px;height:2.6px;background:linear-gradient(90deg,#2882f6,#2881f6,#2b7cf7,#3766f8,#3863f7,#2c7bf8,#2881f6,#2980f7,#3074f9,#3b5ef5,#336ffa,#2b7df7,#2f76f9,#3b5ef6,#356bf9,#2d78f8,#3669f8,#3a60f6,#2e77f8,#2980f7,#2c7af8,#3766f7,#3963f7,#2f76f9,#3171fa,#3b5ef5,#3270fa,#2e77f9,#3864f7,#3864f7,#2d79f8,#2c7bf7,#3668f8,#3a60f6,#2f76f9,#3073f9,#3b5ef6,#336df9,#2e78f8,#3766f8,#3963f7,#2e78f8,#2c7cf7,#356bf9,#3b5ff6,#2f75f9,#3074f9,#3b5ff6,#346bf9,#2e78f8,#3668f8,#3a60f6,#2e77f8,#2980f6,#2882f6,#2882f6)"></i>
<i style="top:26.0px;height:2.6px;background:linear-gradient(90deg,#2b7df7,#2b7df7,#2d79f8,#3766f8,#3864f7,#2e78f8,#2b7cf7,#2d79f8,#3b5df5,#442fcc,#4050ee,#3074f9,#3864f7,#4431cf,#4346e6,#3569f8,#4442e4,#4432d0,#3766f7,#2d79f8,#3270fa,#463cdf,#4536d7,#3765f7,#3f56f3,#442fcb,#3f53f0,#3766f8,#4638da,#4639dc,#336df9,#3171fa,#4441e3,#4533d2,#3863f7,#3d5bf5,#442fcc,#414dec,#3668f8,#463bdf,#4536d7,#356af9,#3172f9,#4346e7,#4431cf,#3a60f6,#3b5ef6,#4430cd,#4248e8,#3669f8,#4440e2,#4533d2,#3668f8,#2c7af8,#2b7df7,#2b7df7)"></i>
<i style="top:28.0px;height:2.6px;background:linear-gradient(90deg,#2c7bf8,#2c7af8,#2e78f8,#346bf9,#3569f8,#2e77f8,#2c7af8,#2f76f9,#414beb,#4226bc,#4638db,#346cf9,#3f53f1,#4226bc,#442fcb,#3d5bf5,#432bc5,#4226bc,#3e56f3,#3074f9,#3767f8,#4227be,#4226bc,#3f56f2,#453de0,#4226bc,#463ade,#3e57f3,#4226bc,#4226bc,#3a61f6,#3766f8,#432bc4,#4226bc,#3f53f0,#4443e5,#4226bc,#4536d7,#3d59f4,#4226bc,#4226bc,#3c5df5,#3668f8,#442fcc,#4226bc,#414eed,#4249e9,#4226bc,#4431cf,#3d5af5,#4329c1,#4226bc,#3d59f4,#2f75f9,#2d79f8,#2c7af8)"></i>
<i style="top:30.0px;height:2.6px;background:linear-gradient(90deg,#2c7bf7,#2c7bf8,#2d79f8,#3172fa,#3172fa,#2d79f8,#2c7bf8,#2e77f8,#404fee,#4226bc,#4638da,#3962f7,#414eec,#4226bc,#442fcc,#4051ef,#4228bf,#4226bc,#4050ee,#346cf9,#3864f7,#432ac4,#4226bc,#414eed,#4536d7,#4226bc,#4639dc,#414ceb,#4226bc,#4226bc,#3d5af4,#3b5ef6,#432cc5,#4226bc,#414ceb,#463ade,#4226bc,#4535d5,#404fed,#4226bc,#4226bc,#3e56f3,#3a60f6,#4430cc,#4226bc,#4249e9,#453fe1,#4226bc,#4431ce,#4050ee,#4226bc,#4226bc,#3f53f0,#336ffa,#2e77f8,#2c7bf8)"></i>
<i style="top:32.0px;height:2.6px;background:linear-gradient(90deg,#2b7cf7,#2c7cf7,#2d79f8,#2f75f9,#2f76f9,#2c7bf8,#2b7cf7,#2d79f8,#3a61f6,#4535d5,#4442e4,#414eed,#4249e9,#4533d2,#463cdf,#4442e4,#432cc6,#442eca,#424aea,#3e56f3,#3962f7,#4441e3,#4536d7,#4346e7,#4432d0,#4329c1,#4440e2,#463cdf,#4329c1,#4534d3,#414ceb,#414dec,#463ade,#4534d4,#4346e7,#4533d3,#4228c0,#453de1,#453ee1,#432ac2,#4432d0,#414beb,#414dec,#453ce0,#4533d2,#4346e6,#4535d6,#4228bf,#463bdf,#4440e3,#432bc4,#442fcc,#424bea,#3e59f4,#3172fa,#2c7bf8)"></i>
<i style="top:34.0px;height:2.6px;background:linear-gradient(90deg,#2b7df7,#2c7cf7,#2f76f9,#3271fa,#2f76f9,#2c7bf7,#2b7df7,#2c7bf8,#3171fa,#3c5bf5,#424aea,#4430cc,#453fe1,#3f53f0,#414dec,#442ec9,#432bc5,#4345e6,#453de0,#4533d2,#3c5df5,#3961f6,#3f54f1,#4536d8,#4227be,#453ce0,#4345e6,#4329c1,#4430cd,#4249e9,#4536d8,#4534d3,#404fee,#3f53f0,#4639dc,#4227bd,#463add,#4346e7,#432ac4,#442eca,#4248e8,#4638db,#4432d0,#414eed,#3f53f0,#453ce0,#4227bd,#4537da,#4248e8,#432cc7,#432cc7,#4346e7,#463bdf,#4535d5,#3667f8,#2c7bf8)"></i>
<i style="top:36.0px;height:2.6px;background:linear-gradient(90deg,#2b7df7,#2c7bf8,#346cf9,#3c5df5,#3171fa,#2c7cf7,#2b7df7,#2b7df7,#2d79f8,#3171fa,#414eed,#4226bc,#4536d7,#3767f8,#3e57f4,#4226bc,#4329c0,#3e57f3,#4534d3,#4226bc,#3e57f4,#3172fa,#3865f7,#432cc7,#4226bc,#414dec,#4345e6,#4226bc,#4533d2,#3e57f3,#4329c2,#4226bc,#3c5cf5,#3765f7,#4431ce,#4226bc,#4248e9,#424aea,#4226bc,#442fcb,#3e58f4,#432dc8,#4226bc,#3e58f4,#3767f8,#4535d6,#4226bc,#4344e5,#414eed,#4226bc,#432bc5,#3e57f4,#4431cf,#4226bc,#3b5ef5,#2c7bf8)"></i>
<i style="top:38.0px;height:2.6px;background:linear-gradient(90deg,#2a7ef7,#2d79f8,#3e57f3,#4537d9,#3864f7,#2c7bf7,#2a7ef7,#2a7ef7,#2b7df7,#2d79f8,#3e58f4,#4226bc,#463bdf,#3172fa,#3a61f6,#4226bc,#4430ce,#3962f7,#4638db,#4226bc,#3c5cf5,#2d79f8,#3270fa,#4431cf,#4226bc,#3d5bf5,#404fed,#4226bc,#453de0,#3962f6,#432dc8,#4227be,#3765f7,#3270fa,#4536d6,#4226bc,#3e57f3,#3f54f1,#4226bc,#4537da,#3963f7,#4431cf,#4226bc,#3961f6,#3171fa,#463ade,#4226bc,#4052f0,#3e59f4,#4226bc,#4533d2,#3963f7,#4535d6,#4226bc,#3a5ff6,#2c7bf7)"></i>
<i style="top:40.0px;height:2.6px;background:linear-gradient(90deg,#2a7ff7,#2e77f8,#4442e4,#4226bc,#3e59f4,#2b7cf7,#2981f6,#2882f6,#2882f6,#297ff7,#346cf9,#453de0,#3d5bf5,#2c7af8,#3172fa,#4441e3,#4051ef,#3073f9,#3e58f4,#453ee1,#336ef9,#2a7ff7,#2d79f8,#4050ee,#4441e3,#336ffa,#3766f8,#463bdf,#3c5cf5,#3172fa,#414beb,#4345e6,#3074f9,#2d79f8,#3f55f2,#453ee1,#346cf9,#356af8,#453de0,#3e58f4,#3173f9,#4050ee,#4441e3,#3172fa,#2c7af8,#3d5af4,#453ce0,#3669f8,#346cf9,#453ee1,#3f53f0,#3172fa,#3f54f1,#453de1,#336efa,#2b7df7)"></i>
<i style="top:42.0px;height:2.6px;background:linear-gradient(90deg,#2882f6,#2c7bf8,#4247e8,#4226bc,#3b5ef5,#2784f5,#2192ef,#1f97ed,#1d99eb,#1d9aeb,#238cf1,#2c7af8,#2783f5,#1f96ed,#228ff0,#2c7cf7,#2980f6,#2190ef,#2882f6,#2c7bf8,#238df1,#1d9aeb,#1f95ed,#2980f7,#2c7bf7,#238df1,#2588f3,#2d79f8,#2883f6,#228ef0,#2b7df7,#2c7cf7,#2290f0,#2094ee,#2981f6,#2c7af8,#248cf2,#248af2,#2c7af8,#2882f6,#2290f0,#297ff7,#2c7bf8,#228ef0,#1f95ed,#2882f6,#2d79f8,#2589f3,#248bf2,#2d79f8,#2a7ff7,#238cf1,#2a7ef7,#2e77f8,#2785f5,#2882f6)"></i>
<i style="top:44.0px;height:2.6px;background:linear-gradient(90deg,#238df1,#2785f5,#3766f8,#4347e7,#3073f9,#1c9de9,#19b6cd,#24bdb9,#2bc1ae,#35c4a4,#2dc3aa,#27bfb5,#2bc1ae,#35c4a4,#31c3a7,#28c0b3,#2ac1af,#33c4a6,#2bc2ad,#28c0b3,#31c4a7,#3ac5a0,#35c4a4,#29c0b1,#27bfb5,#2cc3ab,#2bc1ae,#24bdb9,#28c0b3,#2bc2ae,#25beb8,#24bdb9,#2cc2ac,#2ec3a9,#28bfb3,#25beb7,#2cc2ac,#2cc2ac,#26bfb6,#2ac1b0,#2ec3a9,#28c0b3,#26beb7,#2cc2ac,#2fc3a9,#28bfb3,#24bdba,#29c1b1,#29c1b1,#21bbbf,#22bcbd,#25beb8,#1fbac3,#1ab7cb,#17b5d0,#238df1)"></i>
<i style="top:46.0px;height:2.6px;background:linear-gradient(90deg,#228ff0,#248af2,#2d79f8,#326ffa,#2a7ef7,#16b4d2,#69ca7d,#bfc34d,#e6bd3b,#f0bd34,#f0bd34,#efbd35,#f0bd34,#f2be33,#f1be33,#f0bd34,#f1bd34,#f2be33,#f2be33,#f1be33,#f3be32,#f3be32,#f2be33,#f0bd34,#efbd35,#efbd35,#eebd36,#ecbd37,#ecbd37,#ecbd37,#ebbd38,#ebbd38,#edbd36,#eebd36,#edbd36,#edbd36,#efbd35,#efbd35,#efbd35,#efbd35,#f0bd35,#eebd36,#edbd36,#eebd36,#eebd36,#ecbd37,#ebbd38,#ecbd37,#ebbd38,#e6bd3b,#debf3f,#d7c042,#c8c249,#bbc44f,#78c975,#228ff0)"></i>
<i style="top:48.0px;height:2.6px;background:linear-gradient(90deg,#2190ef,#228ef0,#2686f4,#2981f6,#2589f3,#27bfb4,#e4be3c,#fac22b,#f8d323,#f6e41a,#f6e519,#f6e519,#f6e618,#f6e718,#f6e718,#f6e718,#f6e817,#f6e817,#f6e817,#f6e917,#f6e916,#f6e917,#f6e718,#f6e519,#f6e41a,#f6e31a,#f7e11b,#f7df1c,#f7de1d,#f7dd1d,#f7dc1e,#f7dd1d,#f7de1d,#f7df1c,#f7e01c,#f7e11b,#f6e21a,#f6e41a,#f6e419,#f6e419,#f6e31a,#f6e21a,#f7e11b,#f7e01b,#f7e01c,#f7de1d,#f7dd1d,#f7dc1d,#f7db1e,#f8d621,#f8d223,#f9cd25,#f9c928,#fac42a,#ecbd37,#2190ef)"></i>
<i style="top:50.0px;height:2.6px;background:linear-gradient(90deg,#2192ef,#2191ef,#228ff0,#238df1,#2290f0,#28c0b3,#debf3f,#fac02c,#f9d024,#f7e01b,#f6e21a,#f6e21a,#f6e31a,#f6e31a,#f6e41a,#f6e419,#f6e519,#f6e519,#f6e519,#f6e618,#f6e618,#f6e519,#f6e41a,#f6e21a,#f7e11b,#f7e01c,#f7de1d,#f7dd1d,#f7db1e,#f8da1f,#f8d91f,#f8da1f,#f7db1e,#f7dc1e,#f7dd1d,#f7de1d,#f7df1c,#f7e01b,#f7e11b,#f7e11b,#f7e01c,#f7df1c,#f7de1d,#f7dd1d,#f7dc1e,#f7db1e,#f7da1f,#f8da1f,#f8d820,#f8d422,#f9cf24,#f9cb27,#f9c629,#fac22b,#eabd38,#2192ef)"></i>
<i style="top:52.0px;height:2.6px;background:linear-gradient(90deg,#2093ee,#2093ee,#2093ee,#2092ee,#2093ee,#18b5ce,#61ca82,#b2c654,#d6c043,#ecbd37,#edbd36,#edbd36,#edbd36,#edbd36,#eebd36,#eebd36,#eebd36,#eebd35,#eebd35,#efbd35,#efbd35,#eebd35,#eebd36,#edbd36,#ecbd37,#ecbd37,#ebbd38,#eabd38,#eabd39,#e9bd39,#e8bd3a,#e9bd39,#e9bd39,#eabd39,#eabd38,#ebbd38,#ecbd37,#ecbd37,#edbd37,#ecbd37,#ecbd37,#ebbd38,#ebbd38,#eabd38,#eabd39,#eabd39,#e9bd39,#e9bd3a,#e8bd3a,#debf3f,#d4c043,#cac248,#c0c34d,#b7c551,#70c979,#2093ee)"></i>
<i style="top:54.0px;height:2.6px;background:linear-gradient(90deg,#2093ee,#2093ee,#2093ee,#2093ee,#2093ee,#1aa3e3,#19b6cd,#22bcbc,#28c0b3,#2ec3a9,#30c3a8,#30c3a7,#31c3a7,#31c4a7,#31c4a7,#32c4a6,#32c4a6,#32c4a6,#33c4a6,#33c4a5,#33c4a5,#33c4a6,#31c4a7,#30c3a8,#2fc3a8,#2ec3a9,#2dc3aa,#2cc3ab,#2cc2ac,#2bc2ad,#2bc2ad,#2bc2ad,#2cc2ac,#2cc2ab,#2dc3ab,#2dc3aa,#2ec3a9,#2fc3a9,#30c3a8,#2fc3a8,#2ec3a9,#2ec3aa,#2dc3aa,#2dc3ab,#2cc3ab,#2cc2ac,#2cc2ac,#2bc2ad,#2bc2ae,#29c1b0,#28c0b3,#26bfb6,#25beb8,#23bdbb,#1bb7c9,#2093ee)"></i>
<i style="top:56.0px;height:2.6px;background:linear-gradient(90deg,#228ef0,#228ef0,#228ef0,#248af2,#2686f4,#2687f4,#228ef0,#2192ef,#2094ee,#1f96ed,#1e97ec,#1e97ec,#1e97ec,#1e97ec,#1e97ec,#1e97ec,#1e97ec,#1e97ec,#1e97ec,#1e97ec,#1e97ec,#1e97ec,#1e97ec,#1e97ec,#1f97ed,#1f96ed,#1f96ed,#1f96ed,#1f96ed,#1f96ed,#1f95ed,#1f96ed,#1f96ed,#1f96ed,#1f96ed,#1f96ed,#1f96ed,#1f96ed,#1e97ec,#1f97ed,#1f96ed,#1f96ed,#1f96ed,#1f96ed,#1f96ed,#1f96ed,#1f96ed,#1f96ed,#1f95ed,#1f95ed,#2094ee,#2094ee,#2093ee,#1e98ec,#1d9aeb,#228ef0)"></i>
<i style="top:58.0px;height:2.6px;background:linear-gradient(90deg,#2981f6,#2981f6,#2981f6,#3073f9,#3d5af5,#453ee1,#4440e2,#4441e3,#4442e4,#4442e4,#4442e4,#4442e4,#4442e4,#4442e4,#4442e4,#4442e4,#4442e4,#4442e4,#4442e4,#4442e4,#4442e4,#4442e4,#4442e4,#4442e4,#4442e4,#4442e4,#4442e4,#4442e4,#4442e4,#4442e4,#4442e4,#4442e4,#4442e4,#4442e4,#4442e4,#4442e4,#4442e4,#4442e4,#4442e4,#4442e4,#4442e4,#4442e4,#4442e4,#4442e4,#4442e4,#4442e4,#4442e4,#4442e4,#4442e4,#4442e4,#4442e4,#4441e3,#4441e3,#3766f8,#2980f7,#2981f6)"></i>
<i style="top:60.0px;height:2.6px;background:linear-gradient(90deg,#2881f6,#2881f6,#2881f6,#326ffa,#414ceb,#432cc6,#432cc6,#432cc6,#432cc6,#432cc6,#432cc6,#432cc6,#432cc6,#432cc6,#432cc6,#432cc6,#432cc6,#432cc6,#432cc6,#432cc6,#432cc6,#432cc6,#432cc6,#432cc6,#432cc6,#432cc6,#432cc6,#432cc6,#432cc6,#432cc6,#432cc6,#432cc6,#432cc6,#432cc6,#432cc6,#432cc6,#432cc6,#432cc6,#432cc6,#432cc6,#432cc6,#432cc6,#432cc6,#432cc6,#432cc6,#432cc6,#432cc6,#432cc6,#432cc6,#432cc6,#432cc6,#432cc6,#432cc6,#3d59f4,#2a7ef7,#2881f6)"></i>
<i style="top:62.0px;height:2.6px;background:linear-gradient(90deg,#2785f5,#2785f5,#2785f5,#2a7ef7,#2d78f8,#3172fa,#3172f9,#3172f9,#3172f9,#3172f9,#3172f9,#3172f9,#3172f9,#3172f9,#3172f9,#3172f9,#3172f9,#3172f9,#3172f9,#3172f9,#3172f9,#3172f9,#3172f9,#3172f9,#3172f9,#3172f9,#3172f9,#3172f9,#3172f9,#3172f9,#3172f9,#3172f9,#3172f9,#3172f9,#3172f9,#3172f9,#3172f9,#3172f9,#3172f9,#3172f9,#3172f9,#3172f9,#3172f9,#3172f9,#3172f9,#3172f9,#3172f9,#3172f9,#3172f9,#3172f9,#3172f9,#3172f9,#3172f9,#2c7af8,#2783f5,#2785f5)"></i>
<i style="top:64.0px;height:2.6px;background:linear-gradient(90deg,#238df1,#238df1,#238df1,#238cf1,#238df1,#2190ef,#2094ee,#1f96ed,#1e97ec,#1e97ec,#1e98ec,#1d99eb,#1d9aeb,#1d9aeb,#1d9aeb,#1d9aeb,#1d9aeb,#1d9aeb,#1d9aeb,#1d9aeb,#1d9aeb,#1d9aeb,#1d99eb,#1d99eb,#1d99eb,#1d99eb,#1d99eb,#1d99eb,#1e99ec,#1e99ec,#1e99ec,#1e98ec,#1e98ec,#1e98ec,#1e98ec,#1e98ec,#1e98ec,#1e98ec,#1e98ec,#1e98ec,#1e98ec,#1e98ec,#1e97ec,#1e97ec,#1e97ec,#1e97ec,#1e97ec,#1e97ec,#1e97ec,#1f96ed,#1f96ed,#1f95ed,#1f95ed,#1f95ed,#2192ef,#238df1)"></i>
<i style="top:66.0px;height:2.6px;background:linear-gradient(90deg,#2093ee,#2093ee,#2093ee,#2093ee,#1b9ee8,#16b2d4,#27bfb4,#35c4a4,#3ec59d,#47c696,#51c88f,#5ac988,#63ca81,#71c979,#73c977,#70c979,#6ec97a,#6cca7c,#69ca7d,#67ca7e,#64ca80,#63ca81,#61ca82,#60c983,#5fc984,#5dc985,#5cc986,#5ac987,#59c988,#58c889,#56c88a,#55c88b,#54c88c,#52c88e,#51c88f,#50c78f,#4fc790,#4ec791,#4dc791,#4cc792,#4bc793,#4ac794,#4ac794,#49c795,#48c696,#47c696,#46c697,#45c698,#43c699,#3cc59f,#34c4a5,#2dc3ab,#29c1b0,#26bfb6,#17b1d5,#2093ee)"></i>
<i style="top:68.0px;height:2.6px;background:linear-gradient(90deg,#2290f0,#2290f0,#2290f0,#2290f0,#1ba0e6,#21bbbe,#59c988,#87c86c,#9ec75f,#b3c553,#c4c34b,#d6c043,#e7bd3b,#ecbd37,#ecbd37,#ebbd38,#ebbd38,#eabd38,#e9bd39,#e9bd39,#e8bd3a,#e6bd3b,#e3be3c,#e1be3d,#debf3f,#dcbf40,#d9bf41,#d7c042,#d4c043,#d2c145,#cfc146,#cdc147,#cac248,#c7c249,#c5c34b,#c3c34b,#c1c34c,#c0c34d,#bec44e,#bcc44f,#bbc450,#b9c450,#b7c551,#b5c552,#b4c553,#b2c654,#b0c654,#aec655,#aac658,#98c762,#85c86d,#72c978,#61ca82,#55c88c,#1fbac2,#2290f0)"></i>
<i style="top:70.0px;height:2.6px;background:linear-gradient(90deg,#2b7cf7,#2b7cf7,#2b7cf7,#2b7cf7,#2981f6,#228ef0,#1c9de9,#1ba2e4,#1aa4e2,#19a6e0,#19a9dd,#18abdb,#18add9,#17b0d6,#17b0d6,#17b0d6,#17afd7,#17afd7,#17aed8,#17aed8,#18aed8,#18add9,#18add9,#18add9,#18acda,#18acda,#18acda,#18abdb,#18abdb,#18abdb,#18aadc,#19aadc,#19aadc,#19a9dd,#19a9dd,#19a9dd,#19a8de,#19a8de,#19a8de,#19a8de,#19a7df,#19a7df,#19a7df,#19a7df,#19a7df,#19a6e0,#19a6e0,#1aa6e0,#1aa5e1,#1aa3e3,#1ba2e4,#1ba0e6,#1c9ee8,#1c9cea,#238df1,#2b7cf7)"></i>
<i style="top:72.0px;height:2.6px;background:linear-gradient(90deg,#4050ee,#4050ee,#4050ee,#4050ee,#4051ef,#3f53f0,#3f54f1,#3f55f2,#3f56f2,#3f56f2,#3e56f3,#3e57f3,#3e57f3,#3e57f3,#3e57f3,#3e57f3,#3e57f3,#3e57f3,#3e57f3,#3e57f3,#3e57f3,#3e57f3,#3e57f3,#3e57f3,#3e57f3,#3e57f3,#3e57f3,#3e57f3,#3e57f3,#3e56f3,#3e56f3,#3e56f3,#3e56f3,#3e56f3,#3e56f3,#3e56f3,#3e56f3,#3e56f3,#3f56f3,#3f56f3,#3f56f3,#3f56f3,#3f56f3,#3f56f2,#3f56f2,#3f56f2,#3f56f2,#3f56f2,#3f56f2,#3f55f2,#3f55f2,#3f55f2,#3f55f2,#3f54f1,#3f53f0,#4050ee)"></i>
<i style="top:74.0px;height:2.6px;background:linear-gradient(90deg,#4536d7,#4536d7,#4536d7,#4536d7,#4536d7,#4536d7,#4536d7,#4536d7,#4536d7,#4536d7,#4536d7,#4536d7,#4536d7,#4536d7,#4536d7,#4536d7,#4536d7,#4536d7,#4536d7,#4536d7,#4536d7,#4536d7,#4536d7,#4536d7,#4536d7,#4536d7,#4536d7,#4536d7,#4536d7,#4536d7,#4536d7,#4536d7,#4536d7,#4536d7,#4536d7,#4536d7,#4536d7,#4536d7,#4536d7,#4536d7,#4536d7,#4536d7,#4536d7,#4536d7,#4536d7,#4536d7,#4536d7,#4536d7,#4536d7,#4536d7,#4536d7,#4536d7,#4536d7,#4536d7,#4536d7,#4536d7)"></i>
<i style="top:76.0px;height:2.6px;background:linear-gradient(90deg,#4432d1,#4432d1,#4432d1,#4432d1,#4432d1,#4432d1,#4432d1,#4432d1,#4432d1,#4432d1,#4432d1,#4432d1,#4432d1,#4432d1,#4432d1,#4432d1,#4432d1,#4432d1,#4432d1,#4432d1,#4432d1,#4432d1,#4432d1,#4432d1,#4432d1,#4432d1,#4432d1,#4432d1,#4432d1,#4432d1,#4432d1,#4432d1,#4432d1,#4432d1,#4432d1,#4432d1,#4432d1,#4432d1,#4432d1,#4432d1,#4432d1,#4432d1,#4432d1,#4432d1,#4432d1,#4432d1,#4432d1,#4432d1,#4432d1,#4432d1,#4432d1,#4432d1,#4432d1,#4432d1,#4432d1,#4432d1)"></i>
<i style="top:78.0px;height:2.6px;background:linear-gradient(90deg,#4431cf,#4431cf,#4431cf,#4431cf,#4431cf,#4431cf,#4431cf,#4431cf,#4431cf,#4431cf,#4431cf,#4431cf,#4431cf,#4431cf,#4431cf,#4431cf,#4431cf,#4431cf,#4431cf,#4431cf,#4431cf,#4431cf,#4431cf,#4431cf,#4431cf,#4431cf,#4431cf,#4431cf,#4431cf,#4431cf,#4431cf,#4431cf,#4431cf,#4431cf,#4431cf,#4431cf,#4431cf,#4431cf,#4431cf,#4431cf,#4431cf,#4431cf,#4431cf,#4431cf,#4431cf,#4431cf,#4431cf,#4431cf,#4431cf,#4431cf,#4431cf,#4431cf,#4431cf,#4431cf,#4431cf,#4431cf)"></i>
<i style="top:80.0px;height:2.6px;background:linear-gradient(90deg,#4431cf,#4431cf,#4431cf,#4431cf,#4431cf,#4431cf,#4431cf,#4431cf,#4431cf,#4431cf,#4431cf,#4431cf,#4431cf,#4431cf,#4431cf,#4431cf,#4431cf,#4431cf,#4431cf,#4431cf,#4431cf,#4431cf,#4431cf,#4431cf,#4431cf,#4431cf,#4431cf,#4431cf,#4431cf,#4431cf,#4431cf,#4431cf,#4431cf,#4431cf,#4431cf,#4431cf,#4431cf,#4431cf,#4431cf,#4431cf,#4431cf,#4431cf,#4431cf,#4431cf,#4431cf,#4431cf,#4431cf,#4431cf,#4431cf,#4431cf,#4431cf,#4431cf,#4431cf,#4431cf,#4431cf,#4431cf)"></i>
<i style="top:82.0px;height:2.6px;background:linear-gradient(90deg,#463bdf,#463bdf,#463bdf,#463bdf,#463bdf,#463bdf,#463bdf,#463bdf,#463bdf,#463bdf,#463bdf,#463bdf,#463bdf,#463bdf,#463bdf,#463bdf,#463bdf,#463bdf,#463bdf,#463bdf,#463bdf,#463bdf,#463bdf,#463bdf,#463bdf,#463bdf,#463bdf,#463bdf,#463bdf,#463bdf,#463bdf,#463bdf,#463bdf,#463bdf,#463bdf,#463bdf,#463bdf,#463bdf,#463bdf,#463bdf,#463bdf,#463bdf,#463bdf,#463bdf,#463bdf,#463bdf,#463bdf,#463bdf,#463bdf,#463bdf,#463bdf,#463bdf,#463bdf,#463bdf,#463bdf,#463bdf)"></i>
</div>
<div class="pn" style="left:431.90px;top:117.00px;width:109.50px;height:84.00px">
<i style="top:0.0px;height:2.6px;background:linear-gradient(90deg,#2883f6,#2a7ff7,#3f56f3,#3f54f1,#2a7ff7,#2686f4,#2882f6,#3e58f4,#3f55f2,#2f76f9,#4248e9,#3667f8,#2a7ef7,#3f52f0,#3e59f4,#2785f5,#1e97ec,#1c9ee8,#1f95ed,#2c7af8,#4442e4,#336ef9,#2e77f9,#4442e4,#356af8,#2d7af8,#4248e9,#3c5cf5,#346df9,#453ee1,#356af9,#4050ee,#326ffa,#2a7ff7,#414eed,#3270fa,#3172fa,#4441e3,#3173f9,#3569f8,#4345e6,#336ffa,#453de0,#453ce0,#463ade,#3074f9,#2980f6,#356af8,#4346e7,#2c7af8,#2c7cf7,#4347e7,#3b5ff6,#3a5ff6,#453ce0,#2e78f8)"></i>
<i style="top:2.0px;height:2.6px;background:linear-gradient(90deg,#238df1,#2588f3,#3a61f6,#3b5ef6,#2588f3,#2093ee,#228ff0,#3865f7,#3a5ff6,#2b7cf7,#3e56f3,#3073f9,#2588f3,#3b5ef5,#3963f7,#2092ee,#19a9dd,#17b1d5,#1aa6e0,#2883f6,#414dec,#2f75f9,#2a7ef7,#414dec,#3172fa,#297ff7,#3f52f0,#3865f7,#3074f9,#4248e8,#3173f9,#3a5ff6,#2b7df7,#2093ee,#3a60f6,#2e77f8,#2d78f8,#414fed,#2c7bf8,#3074f9,#4051ef,#2f75f9,#4347e8,#4346e7,#4344e5,#2d79f8,#2588f3,#3172f9,#3f54f1,#2784f5,#2784f5,#4052f0,#3667f8,#3668f8,#4347e7,#2b7df7)"></i>
<i style="top:4.0px;height:2.6px;background:linear-gradient(90deg,#2191ef,#228ff0,#3668f8,#3865f7,#228ef0,#1c9de9,#1c9cea,#3270fa,#3766f8,#2980f6,#3a60f6,#2c7bf8,#2192ef,#3865f7,#3668f8,#1c9bea,#18b5cf,#23bdbb,#17b2d4,#248bf2,#3f55f2,#2d7af8,#2882f6,#3f55f2,#2f75f9,#2882f6,#3e57f3,#3669f8,#2f76f9,#414dec,#2f76f9,#356af9,#238cf1,#1aa5e1,#336ffa,#2b7cf7,#2b7cf7,#3d59f4,#2783f5,#2c7bf8,#3d5af5,#2d78f8,#414beb,#424bea,#4248e9,#2c7cf7,#238cf1,#2e76f9,#3a60f6,#228ff0,#238df1,#3d5af4,#346cf9,#346bf9,#424bea,#2980f7)"></i>
<i style="top:6.0px;height:2.6px;background:linear-gradient(90deg,#1e98ec,#1e98ec,#3073f9,#336ffa,#1e97ec,#19a9dd,#18abdb,#2c7bf8,#3270fa,#2686f4,#336ef9,#2588f3,#1b9fe7,#326ffa,#3270fa,#1ba2e4,#23bcbc,#35c4a4,#1eb9c4,#2092ee,#3b5ff6,#2980f6,#238df1,#3a60f6,#2d78f8,#2686f4,#3b5df5,#336ef9,#2d79f8,#3f55f2,#2c7af8,#3074f9,#1b9ee8,#17b5d0,#2d7af8,#2981f6,#2980f6,#3766f8,#2093ee,#2588f3,#3766f8,#2c7cf7,#4050ee,#4050ee,#4050ee,#2a7ef7,#2190ef,#2b7cf7,#3270fa,#1b9fe7,#1d9aeb,#3963f7,#3271fa,#336ffa,#404fee,#2882f6)"></i>
<i style="top:8.0px;height:2.6px;background:linear-gradient(90deg,#1ba0e6,#1aa4e2,#2a7ff7,#2d79f8,#1ba1e5,#19b6cd,#1fbac2,#238cf1,#2d79f8,#228ff0,#2c7bf8,#1c9ee8,#18add9,#2d78f8,#2f76f9,#19a7df,#2ac1af,#4bc793,#25beb7,#1d9aeb,#346cf9,#238ef1,#1c9cea,#326ffa,#2a7ef7,#248af2,#3865f7,#3173f9,#2b7cf7,#3b5ef5,#2a7ff7,#2b7df7,#18acda,#24bdb9,#2685f4,#2589f3,#2687f4,#2f75f9,#1aa5e1,#1c9cea,#3074f9,#2980f6,#3f54f1,#3e57f3,#3d5af4,#2882f6,#1f95ed,#2784f5,#2b7df7,#17afd7,#19a6e0,#336ffa,#2f75f9,#3172fa,#3f54f1,#2785f5)"></i>
<i style="top:10.0px;height:2.6px;background:linear-gradient(90deg,#1aa6e0,#17b0d6,#2192ef,#2883f6,#19a8de,#24bdb9,#32c4a6,#1b9fe7,#2981f6,#1f95ed,#2588f3,#18aed8,#1bb7ca,#2980f6,#2c7af8,#19a8de,#2dc3ab,#53c88d,#28bfb3,#1c9ee8,#2f76f9,#1c9de9,#19a9dd,#2c7bf8,#2882f6,#238cf1,#346cf9,#2f76f9,#2a7ff7,#3766f7,#2882f6,#2784f5,#17b5d0,#2cc2ab,#2191ef,#238ef1,#238df1,#2980f6,#16b4d2,#18aadc,#2b7df7,#2882f6,#3f55f2,#3d5af5,#3961f6,#2784f5,#1f96ed,#238cf1,#228ef0,#1fbac2,#17b0d6,#2e77f9,#2d79f8,#3073f9,#3f56f2,#2685f4)"></i>
<i style="top:12.0px;height:2.6px;background:linear-gradient(90deg,#18acda,#1fbac2,#19a7df,#2093ee,#18add9,#2bc2ad,#4dc792,#18add9,#238cf1,#1c9bea,#1e98ec,#1eb9c4,#24bdba,#238cf1,#2a7ff7,#19a7df,#2bc2ad,#51c88f,#28bfb3,#1ba1e5,#2981f6,#18acda,#1bb7ca,#248bf2,#248af2,#228ef0,#3073f9,#2c7af8,#2881f6,#3270fa,#2687f4,#228ef0,#1eb9c3,#38c4a1,#1c9de9,#2093ee,#2092ee,#228ff0,#22bcbc,#1ab6cc,#248af2,#2686f4,#3f55f2,#3b5ef5,#346bf9,#2687f4,#1e97ec,#1f95ed,#1ba0e6,#2bc1ae,#1bb7ca,#2a7ff7,#2b7df7,#3074f9,#3d59f4,#2686f4)"></i>
<i style="top:14.0px;height:2.6px;background:linear-gradient(90deg,#17b2d4,#2ac1ae,#1ab7cb,#1ba1e5,#19a8de,#22bcbd,#4cc792,#1ab6cb,#1e97ec,#1ba0e6,#1aa5e1,#29c0b2,#2ac1af,#1f96ed,#2a7ef7,#1f96ed,#1eb9c4,#43c69a,#25beb8,#1aa4e2,#2190ef,#1bb7c9,#28c0b3,#1c9ee8,#2092ee,#2191ef,#2d7af8,#2a7ff7,#2686f4,#2e78f8,#238cf1,#1d99eb,#25beb8,#42c69a,#19a6e0,#1e98ec,#1e98ec,#1b9ee8,#2cc2ac,#24bdba,#1e97ec,#2687f4,#404fee,#3b5ef6,#3074f9,#248af2,#1e98ec,#1c9cea,#18aed8,#3bc5a0,#20bbc0,#2589f3,#2882f6,#2e77f8,#3a60f6,#2687f4)"></i>
<i style="top:16.0px;height:2.6px;background:linear-gradient(90deg,#17b5d0,#3ac5a0,#27bfb4,#19a7df,#2190ef,#1d99eb,#27bfb5,#1eb9c4,#1ba0e6,#1aa3e3,#17afd7,#35c4a4,#2fc3a9,#1d9beb,#3270fa,#3766f8,#1d9aeb,#28c0b2,#1fbac2,#1aa5e1,#1c9de9,#25beb8,#38c4a2,#18abdb,#1d99eb,#2093ee,#2980f6,#2785f5,#248af2,#2a7ff7,#2191ef,#1ba1e5,#29c1b0,#47c696,#17aed8,#1c9de9,#1c9cea,#19a9dd,#3ac5a0,#2bc2ad,#1ba0e6,#2a7ff7,#4430cd,#4248e9,#2e77f8,#238df1,#1d99eb,#1ba2e4,#1ab7cb,#47c696,#24bdba,#2094ee,#2589f3,#2c7cf7,#346cf9,#248af2)"></i>
<i style="top:18.0px;height:2.6px;background:linear-gradient(90deg,#19b6cc,#44c698,#35c4a4,#18abdb,#2a7ff7,#2c7af8,#19b6cc,#22bcbe,#1aa5e1,#1aa5e1,#18b5cf,#40c59c,#32c4a6,#1b9ee8,#3962f7,#4536d7,#2c7af8,#18b6ce,#17b5d0,#1aa4e2,#1aa5e1,#2bc2ad,#47c696,#17b4d1,#1c9ee8,#2093ee,#2882f6,#2686f4,#238df1,#2686f4,#1f95ed,#19a6e0,#2bc2ad,#46c697,#16b4d2,#1ba0e6,#1b9fe7,#17b1d5,#44c698,#35c4a4,#1aa5e1,#3270fa,#4226bc,#4226bc,#2f75f9,#228ef0,#1d99eb,#1aa5e1,#21bbbf,#4cc792,#26beb7,#1c9cea,#228ef0,#2882f6,#2d78f8,#238df1)"></i>
<i style="top:20.0px;height:2.6px;background:linear-gradient(90deg,#1ab7cb,#49c795,#41c69a,#16b3d3,#1f95ed,#1c9ee8,#2cc3ab,#2ac1b0,#19aadc,#1aa6e0,#1ab7cb,#40c59b,#31c3a7,#1aa4e2,#2e77f8,#3a5ff6,#2883f6,#18add9,#19aadc,#1b9fe7,#19a9dd,#33c4a6,#4fc790,#1cb8c8,#1c9ee8,#2589f3,#3074f9,#2d79f8,#2589f3,#248af2,#1f96ed,#19a8de,#2ac1b0,#3dc59d,#17b5d0,#1ba1e5,#1ba1e5,#18b5cf,#49c794,#3cc59f,#19a9dd,#346cf9,#4226bc,#4226bc,#2e77f9,#228ef0,#1e98ec,#19a7df,#25bdb9,#4bc793,#26beb7,#1ba1e5,#2093ee,#248af2,#2882f6,#2191ef)"></i>
<i style="top:22.0px;height:2.6px;background:linear-gradient(90deg,#1ab6cb,#48c695,#45c698,#1bb7c9,#17afd7,#29c0b1,#66ca7f,#36c4a3,#18acda,#1ba0e6,#18add9,#2ac1af,#2ac1b0,#19a9dd,#228ef0,#2588f3,#1d99eb,#1ba2e4,#228ff0,#2588f3,#1aa6e0,#36c4a3,#4fc790,#17b5d0,#228ef0,#3073f9,#463add,#414eec,#2b7cf7,#2981f6,#2588f3,#1aa2e4,#23bdbb,#2cc2ac,#16b3d3,#1ba0e6,#1ba1e5,#1ab7cb,#4bc793,#3ec59d,#18add9,#2b7df7,#432dc8,#424bea,#2b7df7,#2882f6,#248bf2,#1aa3e3,#23bdbb,#43c69a,#24bdbb,#1aa2e4,#1f95ed,#2290f0,#238cf1,#2093ee)"></i>
<i style="top:24.0px;height:2.6px;background:linear-gradient(90deg,#18b6ce,#40c59b,#37c4a2,#17b1d5,#17afd7,#40c59b,#84c86e,#3dc59e,#18aadc,#248bf2,#2a7ff7,#1aa5e1,#1cb8c7,#19a8de,#1e98ec,#1f97ed,#1c9bea,#238cf1,#3a60f6,#3d5af4,#1e97ec,#32c4a6,#42c69a,#1c9cea,#3765f7,#4051ef,#4227be,#4639dd,#3172fa,#3962f7,#3a60f6,#238df1,#18b5cf,#20bbc0,#18abdb,#1c9cea,#1ba0e6,#1bb7ca,#46c697,#2fc3a8,#1aa6e0,#2588f3,#3669f8,#3074f9,#2e78f8,#3c5bf5,#356af8,#228ff0,#16b3d3,#2ac1af,#1eb9c4,#1aa2e4,#1f96ed,#2093ee,#2191ef,#2094ee)"></i>
<i style="top:26.0px;height:2.6px;background:linear-gradient(90deg,#16b3d3,#2dc3aa,#1cb8c8,#2686f4,#2094ee,#34c4a5,#82c86f,#3cc59e,#19a7df,#2d79f8,#4050ee,#2c7bf7,#19a9dd,#1ba2e4,#1f95ed,#1f96ed,#1e97ec,#2980f7,#453ee1,#4638da,#228ff0,#30c3a8,#35c4a4,#2980f6,#4535d5,#414eed,#3d5af4,#356af8,#3074f9,#4639dd,#442fca,#2d7af8,#19a9dd,#17afd7,#1d99eb,#2784f5,#1f95ed,#18b5cf,#35c4a4,#18b5cf,#2b7df7,#2e77f8,#2d79f8,#2a7ff7,#336ef9,#432bc5,#4536d7,#356af8,#2881f6,#18add9,#17b1d5,#1b9fe7,#1f95ed,#2094ee,#2093ee,#2094ee)"></i>
<i style="top:28.0px;height:2.6px;background:linear-gradient(90deg,#17aed8,#21bbbf,#1b9fe7,#3f56f3,#3074f9,#27bfb4,#77c975,#33c4a5,#1ba0e6,#2d79f8,#3962f7,#2a7ff7,#1c9de9,#248af2,#2881f6,#228ff0,#1f95ed,#2687f4,#356af8,#356af8,#1b9ee8,#34c4a5,#3dc59e,#2094ee,#3c5cf5,#3172fa,#2981f6,#2687f4,#2980f6,#3d5af5,#414dec,#2a7ef7,#1ba0e6,#1c9ee8,#2f75f9,#404fed,#2d79f8,#18aed8,#26beb6,#1d9aeb,#424aea,#3b5ef5,#2a7ef7,#2589f3,#2d79f8,#424ae9,#4347e7,#4443e4,#4248e8,#2588f3,#1ba1e5,#2191ef,#238cf1,#2192ef,#2094ee,#1f94ed)"></i>
<i style="top:30.0px;height:2.6px;background:linear-gradient(90deg,#19a8de,#17b4d1,#1d9aeb,#3865f7,#2b7cf7,#27bfb5,#63ca81,#22bcbd,#2a7ef7,#346bf9,#2b7df7,#1f95ed,#248af2,#3c5bf5,#3e57f3,#2980f7,#2093ee,#2192ef,#2589f3,#238df1,#18abdb,#38c4a2,#4cc792,#16b4d2,#238df1,#248af2,#2192ef,#1f96ed,#2092ee,#2882f6,#2a7ff7,#228ff0,#1c9cea,#2191ef,#3c5cf5,#432ac2,#3569f8,#19a6e0,#1eb9c4,#1d9beb,#3a60f6,#3270fa,#238df1,#1d9aeb,#2092ee,#2980f7,#2d78f8,#3a60f6,#3e57f4,#2881f6,#2588f3,#346cf9,#3172fa,#2589f3,#2093ee,#1f94ed)"></i>
<i style="top:32.0px;height:2.6px;background:linear-gradient(90deg,#1aa2e4,#18acda,#1aa3e3,#238cf1,#1c9de9,#29c0b2,#4ec791,#18aed8,#4051ef,#453de1,#2b7df7,#1e98ec,#2a7ef7,#4536d6,#4536d7,#2d7af8,#2192ef,#1f95ed,#1f95ed,#1d9beb,#17b1d5,#3ec59d,#58c889,#23bcbb,#1aa2e4,#1e97ec,#1d9beb,#1ba2e4,#1aa5e1,#1c9ee8,#1f96ed,#1f96ed,#1d99eb,#2191ef,#3073f9,#3e59f4,#2d7af8,#1aa3e3,#17b5d0,#19a9dd,#238df1,#2094ee,#18aadc,#16b4d2,#18add9,#1c9ee8,#2191ef,#2783f5,#2881f6,#238ef1,#2f75f9,#4430ce,#4345e6,#297ff7,#2092ee,#1f94ed)"></i>
<i style="top:34.0px;height:2.6px;background:linear-gradient(90deg,#1c9de9,#1aa4e2,#1aa3e3,#1c9de9,#19a7df,#23bdbb,#34c4a5,#19a9dd,#3b5ef6,#4050ee,#2980f6,#1f96ed,#2785f5,#3963f7,#3863f7,#2882f6,#2093ee,#1f95ed,#1f96ed,#1c9de9,#18b5cf,#57c88a,#80c970,#2cc3ab,#19a8de,#1c9bea,#1aa2e4,#16b2d4,#1cb8c8,#18aed8,#1b9ee8,#1e97ec,#1e97ec,#1f95ed,#248bf2,#2783f5,#228ff0,#1ba1e5,#18abdb,#19a9dd,#1aa3e3,#18add9,#28c0b3,#41c59b,#27bfb5,#18abdb,#1c9bea,#1f95ed,#1f95ed,#2094ee,#2e78f8,#453fe2,#3f55f2,#2882f6,#2093ee,#1f95ed)"></i>
<i style="top:36.0px;height:2.6px;background:linear-gradient(90deg,#1d99eb,#1c9de9,#1c9ee8,#1c9cea,#1aa4e2,#18b6ce,#23bcbc,#18add9,#2685f4,#2b7df7,#238df1,#1f96ed,#2192ef,#2686f4,#2784f5,#238ef1,#2093ee,#1f95ed,#1f96ed,#1b9fe7,#1eb9c4,#84c86e,#bbc44f,#45c697,#18acda,#1c9de9,#1aa5e1,#1bb7ca,#24bdba,#16b3d3,#1ba0e6,#1e97ec,#1f96ed,#1f96ed,#2094ee,#2093ee,#1f96ed,#1c9de9,#1aa3e3,#1aa3e3,#1aa3e3,#16b2d4,#36c4a3,#5bc987,#32c4a6,#17afd7,#1c9de9,#1e97ec,#1e97ec,#1f96ed,#2589f3,#2d79f8,#2b7df7,#238ef1,#2094ee,#1f95ed)"></i>
<i style="top:38.0px;height:2.6px;background:linear-gradient(90deg,#1e97ec,#1d99eb,#1d99eb,#1e98ec,#1c9de9,#18aadc,#16b2d4,#19a9dd,#1d99eb,#2192ef,#2094ee,#1f96ed,#1f95ed,#2191ef,#2687f4,#2883f6,#238cf1,#2093ee,#2094ee,#1c9de9,#1bb7ca,#6dca7b,#a4c75b,#3bc5a0,#19aadc,#1c9bea,#1ba0e6,#18acda,#16b2d4,#19a9dd,#1c9de9,#1f96ed,#1f95ed,#1f95ed,#1f95ed,#1f95ed,#1f96ed,#1d99eb,#1c9de9,#1c9de9,#1b9ee8,#19aadc,#20bbc1,#2bc1ae,#1eb9c4,#19a6e0,#1e99ec,#1f95ed,#1f96ed,#1f96ed,#2094ee,#2290f0,#2190ef,#2093ee,#1f94ed,#1f95ed)"></i>
<i style="top:40.0px;height:2.6px;background:linear-gradient(90deg,#1f96ed,#1e97ec,#2093ee,#2589f3,#2589f3,#1c9cea,#1aa6e0,#1ba1e5,#1e98ec,#2192ef,#2093ee,#1f95ed,#2094ee,#248af2,#336ffa,#3d59f4,#2e78f8,#248bf2,#2687f4,#2589f3,#1aa5e1,#28bfb3,#37c4a2,#1bb8c9,#1ba0e6,#1f95ed,#1e98ec,#1c9de9,#1b9fe7,#1c9bea,#1f96ed,#1f95ed,#1f95ed,#1f95ed,#2093ee,#2093ee,#1f95ed,#1e97ec,#1d99eb,#1e98ec,#1e98ec,#1c9de9,#19a6e0,#18abdb,#1ba1e5,#238df1,#2687f4,#2290f0,#1f95ed,#1f95ed,#1f95ed,#2094ee,#2094ee,#1f94ed,#1f95ed,#1f95ed)"></i>
<i style="top:42.0px;height:2.6px;background:linear-gradient(90deg,#1f95ed,#1f95ed,#2589f3,#356bf9,#3c5cf5,#2980f7,#1d9beb,#1d99eb,#2589f3,#2a7ef7,#2686f4,#2192ef,#2093ee,#2882f6,#414ceb,#4228bf,#3864f7,#2a7ff7,#3668f8,#3c5cf5,#2783f5,#19a8de,#17aed8,#1b9fe7,#2784f5,#2882f6,#228ff0,#1f95ed,#2093ee,#248af2,#2686f4,#228ff0,#2093ee,#2191ef,#2588f3,#2686f4,#228ff0,#1f95ed,#1f96ed,#2192ef,#2588f3,#248af2,#1f95ed,#1e98ec,#2783f5,#3a60f6,#3961f6,#2881f6,#2093ee,#1f95ed,#1f95ed,#1f95ed,#1f95ed,#1f95ed,#1f95ed,#1f95ed)"></i>
<i style="top:44.0px;height:2.6px;background:linear-gradient(90deg,#1f95ed,#2093ee,#2980f6,#4345e6,#432bc4,#3270fa,#2192ef,#228ff0,#3270fa,#4248e8,#346df9,#248bf2,#2093ee,#2687f4,#3864f7,#4346e7,#3172fa,#2c7af8,#4440e3,#432bc5,#3172fa,#1e98ec,#1c9de9,#2981f6,#3f54f1,#3d5af5,#2981f6,#2191ef,#2686f4,#346bf9,#3a61f6,#2a7ef7,#2290f0,#2686f4,#356bf9,#3961f6,#2a7ef7,#2192ef,#2093ee,#2882f6,#3765f7,#3766f8,#2883f6,#228ff0,#2e77f9,#4431cf,#4535d5,#2d79f8,#2191ef,#1f95ed,#1f95ed,#1f95ed,#1f95ed,#1f95ed,#1f95ed,#1f95ed)"></i>
<i style="top:46.0px;height:2.6px;background:linear-gradient(90deg,#1f95ed,#2093ee,#2686f4,#3961f6,#414beb,#2e78f8,#2190ef,#2589f3,#3c5cf5,#4226bd,#3e58f4,#2687f4,#2093ee,#2190ef,#2883f6,#2b7df7,#2686f4,#2882f6,#3a5ff6,#414ceb,#2d79f8,#2094ee,#1f95ed,#2f76f9,#4430cc,#4638da,#2c7bf8,#228ff0,#2b7df7,#453de0,#432dc8,#3171fa,#238cf1,#2b7df7,#453ce0,#432dc9,#3172fa,#228ef0,#2190ef,#2e77f8,#4432d1,#4534d4,#2e78f8,#238df1,#2b7df7,#3f53f0,#3e57f3,#2a7ff7,#2192ef,#2094ee,#2094ee,#1f95ed,#1f95ed,#1f95ed,#1f95ed,#1f95ed)"></i>
<i style="top:48.0px;height:2.6px;background:linear-gradient(90deg,#1f95ed,#2094ee,#2290f0,#2882f6,#2b7cf7,#2981f6,#248af2,#248bf2,#3074f9,#3f55f2,#3172fa,#248bf2,#2094ee,#2094ee,#2192ef,#2191ef,#2092ee,#228ff0,#2881f6,#2b7cf7,#2687f4,#2093ee,#2094ee,#2a7ff7,#3c5cf5,#3a60f6,#297ff7,#228ef0,#2981f6,#3e57f3,#4345e6,#2e77f8,#238ef1,#2981f6,#3e57f3,#4346e7,#2e77f8,#238cf1,#238df1,#2c7bf8,#4247e8,#4441e3,#2e77f8,#238ef1,#238cf1,#2980f7,#2980f6,#238df1,#2192ef,#2190ef,#2191ef,#2093ee,#1f94ed,#1f95ed,#1f95ed,#1f95ed)"></i>
<i style="top:50.0px;height:2.6px;background:linear-gradient(90deg,#1f95ed,#1f95ed,#2094ee,#2190ef,#2981f6,#346cf9,#3171fa,#2785f5,#2588f3,#2980f6,#2882f6,#248af2,#2191ef,#2094ee,#2094ee,#2094ee,#2094ee,#2093ee,#238df1,#2a7ef7,#2d79f8,#2687f4,#2093ee,#228ef0,#2980f6,#2e77f8,#2e76f9,#2883f6,#248af2,#2b7cf7,#2f76f9,#2882f6,#2190ef,#238ef1,#2a7ff7,#2c7bf7,#2881f6,#2b7cf7,#2c7bf8,#2980f6,#3270fa,#4051ef,#3667f8,#2785f5,#2192ef,#2191ef,#2192ef,#2192ef,#2589f3,#2c7bf8,#2a7ef7,#238df1,#2094ee,#1f95ed,#1f95ed,#1f95ed)"></i>
<i style="top:52.0px;height:2.6px;background:linear-gradient(90deg,#1f95ed,#1f96ed,#1f96ed,#2092ee,#2e78f8,#4535d6,#453de0,#2c7cf7,#228ff0,#2685f4,#3173f9,#3172fa,#2785f5,#228ff0,#248cf2,#238cf1,#2192ef,#2093ee,#2686f4,#3b5ff6,#453fe2,#3172fa,#228ef0,#2093ee,#2687f4,#3963f7,#453ce0,#346df9,#2588f3,#2980f6,#336df9,#3074f9,#2589f3,#2092ee,#2191ef,#238ef1,#2b7df7,#404fed,#4248e8,#2e77f9,#3172fa,#4431cf,#4638db,#2c7bf8,#2191ef,#2094ee,#2094ee,#2290f0,#2e78f8,#4344e5,#3f55f2,#2981f6,#2093ee,#1f95ed,#1f95ed,#1f95ed)"></i>
<i style="top:54.0px;height:2.6px;background:linear-gradient(90deg,#1f96ed,#1d9aeb,#1c9ee8,#1c9de9,#2881f6,#424aea,#414dec,#2a7ef7,#228ff0,#2c7bf8,#453de0,#4638da,#2e76f9,#2981f6,#3271fa,#3073f9,#2588f3,#2192ef,#2882f6,#414ceb,#432ac2,#3668f8,#238cf1,#2093ee,#2685f4,#3f55f2,#4228c0,#3a60f6,#2784f5,#3074f9,#4534d5,#4344e5,#2a7ef7,#2092ee,#1f94ed,#2191ef,#2c7bf8,#4638da,#4432d0,#3073f9,#2e77f9,#4440e3,#4247e8,#2b7df7,#2192ef,#1f95ed,#1f95ed,#228ff0,#3172fa,#442eca,#453de0,#2b7df7,#2192ef,#1f94ed,#1f95ed,#1f95ed)"></i>
<i style="top:56.0px;height:2.6px;background:linear-gradient(90deg,#1d9aeb,#1ba2e4,#18add9,#16b4d1,#19aadc,#248bf2,#2881f6,#228ef0,#2191ef,#2c7cf7,#4440e3,#463ade,#2f75f9,#3074f9,#4536d7,#453de0,#2c7cf7,#2191ef,#248af2,#3172fa,#3a61f6,#2c7cf7,#2191ef,#1f95ed,#238ef1,#2f76f9,#3961f6,#2d7af8,#238cf1,#2e77f8,#463bdf,#414eed,#2883f6,#1d99eb,#1c9cea,#1c9cea,#228ef0,#3074f9,#3172f9,#228ef0,#1e97ec,#2785f5,#2785f5,#1e99ec,#1b9fe7,#1b9fe7,#1c9ee8,#1d9aeb,#2784f5,#3668f8,#326ffa,#2588f3,#2094ee,#1f95ed,#1f95ed,#1f95ed)"></i>
<i style="top:58.0px;height:2.6px;background:linear-gradient(90deg,#1c9de9,#18aadc,#1fbac2,#2dc3aa,#28c0b2,#16b3d3,#1ba1e5,#1e98ec,#2094ee,#2588f3,#2f75f9,#3074f9,#2882f6,#2f76f9,#463ade,#4443e5,#2b7cf7,#2191ef,#2191ef,#238cf1,#238df1,#1c9bea,#1ba2e4,#1aa4e2,#1aa3e3,#1b9fe7,#1c9bea,#1aa2e4,#18aadc,#19a7df,#1d9aeb,#1aa5e1,#1eb9c3,#29c1b0,#30c3a8,#3ac5a0,#41c59b,#3fc59c,#4cc792,#6dca7b,#8dc868,#8bc869,#76c976,#6bca7c,#5ec984,#52c88e,#46c697,#39c5a1,#23bcbc,#17afd7,#19a7df,#1aa6e0,#1ba1e5,#1c9cea,#2094ee,#2094ee)"></i>
<i style="top:60.0px;height:2.6px;background:linear-gradient(90deg,#1d99eb,#19a7df,#1db8c6,#2bc1ae,#27bfb4,#16b4d2,#1ba1e5,#1f96ed,#2191ef,#238ef1,#2589f3,#2588f3,#248bf2,#2882f6,#3172fa,#3074f9,#2785f5,#228ef0,#228ff0,#1c9bea,#17afd7,#27bfb4,#31c4a7,#38c4a2,#3fc59d,#44c698,#4bc793,#53c88d,#82c86f,#bac450,#e5bd3b,#f2be33,#f9be2e,#f9c42a,#f9cb27,#f8d123,#f8d621,#f7db1f,#f7df1c,#f6e419,#f6e917,#f6e917,#f6e519,#f7e11b,#f7dd1d,#f8d820,#f8d422,#f9cf25,#fac02c,#eebd36,#c9c249,#8cc869,#45c698,#1cb8c7,#2290f0,#2290f0)"></i>
<i style="top:62.0px;height:2.6px;background:linear-gradient(90deg,#2191ef,#1c9bea,#19a7df,#17b0d6,#17aed8,#1aa3e3,#1f96ed,#238ef1,#248bf2,#248af2,#2589f3,#2589f3,#2589f3,#2687f4,#2783f5,#2784f5,#2588f3,#248af2,#248bf2,#1ba1e5,#22bcbc,#5ec985,#79c974,#81c86f,#89c86b,#90c867,#97c763,#9ec75f,#cec146,#edbd36,#f8be2f,#f9c629,#f9c928,#f9cb26,#f9cd25,#f9cf25,#f9cc26,#f9ca27,#f9c729,#fac32a,#fabf2c,#fabe2d,#fac12c,#fac32a,#f9c529,#f9c728,#f9c928,#f9ca27,#f9cb27,#f9c927,#f9c42a,#f9be2e,#eabd38,#70c979,#248bf2,#248bf2)"></i>
<i style="top:64.0px;height:2.6px;background:linear-gradient(90deg,#2589f3,#238df1,#2192ef,#1f96ed,#1f95ed,#2190ef,#2d78f8,#3863f7,#3962f7,#3962f6,#3962f6,#3962f6,#3962f6,#3962f6,#3961f6,#3961f6,#3962f6,#2f75f9,#2687f4,#2094ee,#19a8de,#19b6cc,#1cb8c7,#1cb8c7,#1cb8c8,#1bb7c9,#19b6cc,#16b4d1,#19b6cd,#1db9c5,#23bdbb,#29c0b1,#2ac1ae,#2bc2ae,#2ac1af,#28c0b2,#24bdba,#1fbac2,#1bb8c9,#18b6ce,#16b4d2,#16b3d3,#18b5cf,#19b6cd,#19b6cc,#1ab6cc,#1cb8c8,#21bbbf,#2bc1ae,#40c59c,#54c88c,#65ca7f,#5dc985,#31c3a7,#2687f4,#2687f4)"></i>
<i style="top:66.0px;height:2.6px;background:linear-gradient(90deg,#2588f3,#2589f3,#248af2,#248bf2,#248bf2,#248af2,#3e57f3,#4226bc,#4226bc,#4226bc,#4226bc,#4226bc,#4226bc,#4226bc,#4226bc,#4226bc,#4226bc,#4050ee,#2785f5,#2686f4,#2686f4,#2785f5,#2881f6,#2980f6,#2a7ff7,#2b7cf7,#3073f9,#3c5df5,#453fe2,#4536d7,#4345e6,#3765f7,#2c7af8,#2783f5,#2883f6,#2d7af8,#356af8,#3e59f4,#3e56f3,#3864f7,#2f75f9,#2a7ff7,#2882f6,#2c7bf8,#3667f8,#4249e9,#4441e3,#3d5bf5,#2e77f8,#2589f3,#1f96ed,#1c9cea,#1b9fe7,#1c9de9,#2588f3,#2588f3)"></i>
<i style="top:68.0px;height:2.6px;background:linear-gradient(90deg,#248bf2,#248bf2,#248bf2,#248cf2,#238cf1,#248cf2,#2882f6,#2c7bf8,#2c7bf8,#2c7bf8,#2d7af8,#2e77f9,#3270fa,#3961f6,#4052ef,#414beb,#3f54f1,#356bf9,#2d79f8,#2e76f9,#346cf9,#3e58f4,#4443e4,#463ade,#4441e3,#3f53f1,#3864f7,#336efa,#3172fa,#3074f9,#2d79f8,#2a7ef7,#2882f6,#2881f6,#2a7ff7,#2c7af8,#3172f9,#3669f8,#3668f8,#3172fa,#2c7bf8,#2883f6,#2687f4,#2686f4,#2980f6,#2c7af8,#2f76f9,#3074f9,#3270fa,#346cf9,#3271fa,#2d7af8,#2883f6,#248af2,#248bf2,#248bf2)"></i>
<i style="top:70.0px;height:2.6px;background:linear-gradient(90deg,#2290f0,#2290f0,#2290f0,#1c9de9,#1aa4e2,#1aa4e2,#1aa4e2,#1aa4e2,#1aa5e1,#19a7df,#19a8de,#1aa4e2,#1d9aeb,#2687f4,#3172fa,#3a5ff6,#336ef9,#2a7ff7,#2192ef,#1c9ee8,#1ba1e5,#1ba0e6,#1b9ee8,#1c9de9,#1b9fe7,#1ba1e5,#1aa4e2,#19a6e0,#19a8de,#19a8de,#19a8de,#1aa5e1,#2191ef,#3073f9,#3271fa,#238df1,#1aa3e3,#19a8de,#19a8de,#19a8de,#19a8de,#19a8de,#19a8de,#19a8de,#19a8de,#19a6e0,#1ba0e6,#2191ef,#2b7df7,#3172fa,#3073f9,#2a7ff7,#228ff0,#1f95ed,#1f95ed,#228ff0)"></i>
<i style="top:72.0px;height:2.6px;background:linear-gradient(90deg,#228ef0,#228ef0,#228ef0,#19a9dd,#1bb7c9,#1bb7c9,#1bb7c9,#1bb7c9,#23bdbb,#36c4a3,#56c88b,#7fc971,#aec655,#d2c145,#bac450,#7ec971,#97c763,#b1c654,#c5c34b,#d8c042,#e8bd3a,#e9bd39,#eabd39,#ebbd38,#ebbd38,#ecbd37,#edbd36,#eebd36,#eebd36,#eebd36,#eebd36,#eebd36,#eebd36,#edbd36,#edbd36,#edbd36,#edbd36,#edbd36,#edbd37,#ecbd37,#ecbd37,#ecbd37,#ebbd38,#ebbd38,#ebbd38,#e9bd39,#dbbf40,#c7c24a,#b2c654,#98c762,#81c870,#6cca7c,#4dc792,#26bfb6,#17b0d6,#228ef0)"></i>
<i style="top:74.0px;height:2.6px;background:linear-gradient(90deg,#2d79f8,#2d79f8,#2d79f8,#2c7bf8,#2b7cf7,#2b7cf7,#2b7cf7,#2b7cf7,#2588f3,#1b9fe7,#16b2d4,#26bfb6,#48c695,#7cc972,#a2c75d,#b7c551,#cfc146,#e6bd3b,#edbd37,#f2be33,#f6be30,#f8be2f,#f9be2e,#fabe2d,#fabf2c,#fac12c,#fac32b,#f9c42a,#f9c42a,#f9c42a,#f9c42a,#f9c42a,#f9c42a,#f9c42a,#f9c42a,#fac32a,#fac32b,#fac22b,#fac22b,#fac12b,#fac02c,#fac02c,#fabf2c,#fabf2d,#fabe2d,#f8be2e,#f3be32,#edbd36,#e8bd3a,#cfc146,#b6c552,#98c762,#5cc986,#25beb8,#19a7df,#2d79f8)"></i>
<i style="top:76.0px;height:2.6px;background:linear-gradient(90deg,#3f54f1,#3f54f1,#3f54f1,#3f54f1,#3f54f1,#3f54f1,#3f54f1,#3f54f1,#3d5af5,#3962f7,#356af8,#3171fa,#2f76f9,#2c7bf7,#2a7ff7,#2981f6,#2784f5,#2687f4,#248bf2,#238ef1,#2191ef,#2192ef,#2092ee,#2093ee,#2094ee,#1f95ed,#1f95ed,#1f96ed,#1f96ed,#1f96ed,#1f96ed,#1f96ed,#1f96ed,#1f96ed,#1f96ed,#1f96ed,#1f95ed,#1f95ed,#1f95ed,#1f95ed,#2094ee,#2094ee,#2094ee,#2093ee,#2093ee,#2192ef,#228ff0,#248bf2,#2687f4,#2784f5,#2981f6,#2a7ef7,#2d7af8,#3172fa,#3767f8,#3f54f1)"></i>
<i style="top:78.0px;height:2.6px;background:linear-gradient(90deg,#4432d1,#4432d1,#4432d1,#4432d1,#4432d1,#4432d1,#4432d1,#4432d1,#4533d2,#4533d2,#4534d3,#4534d4,#4535d5,#4535d6,#4535d6,#4536d7,#4536d7,#4536d7,#4536d8,#4537d8,#4537d8,#4537d9,#4537d9,#4537d9,#4537d9,#4537d9,#4537d9,#4537d9,#4537d9,#4537d9,#4537d9,#4537d9,#4537d9,#4537d9,#4537d9,#4537d9,#4537d9,#4537d9,#4537d9,#4537d9,#4537d9,#4537d9,#4537d9,#4537d9,#4537d9,#4537d9,#4537d8,#4536d8,#4536d7,#4536d7,#4536d7,#4535d6,#4535d5,#4534d4,#4533d3,#4432d1)"></i>
<i style="top:80.0px;height:2.6px;background:linear-gradient(90deg,#4431ce,#4431ce,#4431ce,#4431ce,#4431ce,#4431ce,#4431ce,#4431ce,#4431ce,#4431ce,#4431ce,#4431ce,#4431ce,#4431ce,#4431ce,#4431ce,#4431ce,#4431ce,#4431ce,#4431ce,#4431ce,#4431ce,#4431ce,#4431ce,#4431ce,#4431ce,#4431ce,#4431ce,#4431ce,#4431ce,#4431ce,#4431ce,#4431ce,#4431ce,#4431ce,#4431ce,#4431ce,#4431ce,#4431ce,#4431ce,#4431ce,#4431ce,#4431ce,#4431ce,#4431ce,#4431ce,#4431ce,#4431ce,#4431ce,#4431ce,#4431ce,#4431ce,#4431ce,#4431ce,#4431ce,#4431ce)"></i>
<i style="top:82.0px;height:2.6px;background:linear-gradient(90deg,#463bdf,#463bdf,#463bdf,#463bdf,#463bdf,#463bdf,#463bdf,#463bdf,#463bdf,#463bdf,#463bdf,#463bdf,#463bdf,#463bdf,#463bdf,#463bdf,#463bdf,#463bdf,#463bdf,#463bdf,#463bdf,#463bdf,#463bdf,#463bdf,#463bdf,#463bdf,#463bdf,#463bdf,#463bdf,#463bdf,#463bdf,#463bdf,#463bdf,#463bdf,#463bdf,#463bdf,#463bdf,#463bdf,#463bdf,#463bdf,#463bdf,#463bdf,#463bdf,#463bdf,#463bdf,#463bdf,#463bdf,#463bdf,#463bdf,#463bdf,#463bdf,#463bdf,#463bdf,#463bdf,#463bdf,#463bdf)"></i>
</div>
<div class="pn" style="left:37.40px;top:221.90px;width:109.50px;height:84.70px">
<i style="top:0.0px;height:2.6px;background:linear-gradient(90deg,#414eec,#4534d3,#453fe2,#424bea,#442fcc,#414fed,#463ade,#4536d6,#4052f0,#4431cf,#4344e6,#4247e8,#4430ce,#4051ef,#4638da,#4639dc,#4051ef,#4430cd,#4249e9,#4344e5,#4432d1,#3f53f0,#4535d6,#453de0,#404fed,#4430cd,#414eec,#4440e2,#4535d5,#3f55f2,#4534d4,#4443e5,#414dec,#4432d0,#3f53f0,#453ee1,#4639dc,#3e56f3,#4534d4,#424ae9,#414bea,#4533d3,#3f56f2,#463ade,#453ee1,#3e57f3,#4536d6,#3f53f1,#414eec,#463bde,#3b5ff6,#4440e3,#414ceb,#3c5df5,#463bdf,#3b5df5,#4050ee,#4344e6,#3864f7,#4443e5,#3e57f3,#3b5ef6,#4441e3,#3863f7,#4050ee,#414ceb,#3765f7,#4443e5,#3c5cf5,#3c5cf5,#4442e4,#3865f7,#424bea,#414eed,#3962f6,#453fe1,#3c5cf5,#3f54f1,#4441e3,#3962f6,#4442e4,#414eec,#3c5bf5,#4639dd,#3d5bf5,#424bea,#453fe2,#3b5ef6,#463bdf,#404fee,#3e57f3,#4639dc,#3c5df5,#4347e8,#4345e6,#3a5ff6,#453cdf,#3e57f4,#3e56f3,#453ee1,#3961f6,#4345e6,#424bea,#3b5ef6,#463ade,#3e59f4,#414eed,#463bdf,#3c5cf5,#463ade)"></i>
<i style="top:2.0px;height:2.6px;background:linear-gradient(90deg,#3e59f4,#4534d4,#4345e6,#3f55f2,#442eca,#3d5af4,#453fe1,#4537d8,#3b5df5,#4431ce,#414ceb,#4050ee,#4430cc,#3c5df5,#463add,#463bdf,#3c5cf5,#442fcc,#3f53f0,#414beb,#4432d0,#3b5ff6,#4536d8,#4442e4,#3d5af5,#442fcc,#3e59f4,#4346e7,#4535d6,#3a60f6,#4534d5,#424aea,#3e58f4,#4431cf,#3b5ef5,#4442e4,#463bdf,#3962f6,#4534d4,#3f53f0,#3f54f1,#4533d2,#3a61f6,#453de0,#4442e4,#3962f6,#4536d7,#3b5ef5,#3e57f4,#453de0,#346cf9,#4345e6,#3f55f2,#3669f8,#453ee1,#356af8,#3d5af4,#424aea,#3171fa,#4248e8,#3a60f6,#356af9,#4344e6,#3271fa,#3e59f4,#3f53f1,#3173f9,#4248e8,#3767f8,#3767f8,#4347e7,#3172fa,#4052f0,#3e57f3,#3270fa,#4442e4,#3668f8,#3b5ef6,#4345e6,#326ffa,#4346e7,#3e57f3,#3667f8,#463bde,#3766f8,#3f53f0,#4443e5,#346bf9,#453ee1,#3d59f4,#3961f6,#463ade,#356af8,#414eed,#414beb,#346df9,#4540e2,#3962f7,#3961f6,#4442e4,#326ffa,#414cec,#3f54f1,#346bf9,#453de0,#3864f7,#3e58f4,#453fe1,#3669f8,#453ee1)"></i>
<i style="top:4.0px;height:2.6px;background:linear-gradient(90deg,#3765f7,#4638da,#4050ee,#3a61f6,#4430ce,#3766f8,#4248e8,#463cdf,#346bf9,#4534d3,#3e59f4,#3c5df5,#4432d1,#356af9,#4441e3,#4344e5,#356af8,#4432d1,#3a5ff6,#3e58f4,#4535d6,#336df9,#463cdf,#414cec,#3667f8,#4432d1,#3765f7,#4051ef,#463ade,#336ffa,#4638db,#3e56f3,#3865f7,#4534d4,#346cf9,#414cec,#4443e5,#3270fa,#4537da,#3b5ff6,#3a60f6,#4536d7,#336efa,#4345e6,#414beb,#3270fa,#4639dd,#356bf9,#3863f7,#4345e6,#2e78f8,#404fed,#3a61f6,#2f76f9,#4346e7,#2e76f9,#3766f7,#3f55f2,#2b7df7,#3f52f0,#336efa,#2e77f8,#414eed,#2b7cf7,#3865f7,#3a5ff6,#2a7ff7,#4052f0,#3074f9,#3074f9,#4051ef,#2a7ef7,#3b5ef5,#3963f7,#2c7bf8,#414bea,#2f75f9,#346bf9,#414eed,#2c7bf8,#4051ef,#3963f7,#3074f9,#4442e4,#3074f9,#3b5ff6,#414dec,#2e78f8,#4346e7,#3766f7,#3270fa,#4442e4,#2e77f9,#3d5bf5,#3e58f4,#2d79f8,#4249e9,#3171fa,#3270fa,#414ceb,#2c7cf7,#3d59f4,#3a60f6,#2d78f8,#4346e7,#3173f9,#3865f7,#4248e8,#2f76f9,#4347e7)"></i>
<i style="top:6.0px;height:2.6px;background:linear-gradient(90deg,#3271fa,#453ee1,#3d5bf5,#346cf9,#4534d4,#3172fa,#4052ef,#4344e5,#2f75f9,#4638da,#3863f7,#3668f8,#4537d8,#2f75f9,#424bea,#414eec,#2f75f9,#4537d8,#346bf9,#3962f7,#463ade,#2e77f8,#4344e5,#3e58f4,#3073f9,#4536d8,#3171fa,#3c5cf5,#4442e4,#2d78f8,#4540e2,#3a61f6,#3271fa,#4639dc,#2f76f9,#3e58f4,#414dec,#2d79f8,#453de1,#356af8,#346bf9,#463ade,#2e77f8,#414eed,#3f55f2,#2d79f8,#4440e3,#2f75f9,#326ffa,#404fee,#2883f6,#3d5af4,#346df9,#2980f7,#4050ee,#2981f6,#3172fa,#3a60f6,#248bf2,#3b5ef5,#2d78f8,#2881f6,#3d5af4,#248af2,#3171fa,#346bf9,#228ef0,#3b5df5,#2a7ef7,#2a7ef7,#3c5df5,#238df1,#3569f8,#326ffa,#2588f3,#3e56f3,#2a7ff7,#2f76f9,#3d5af4,#2588f3,#3c5cf5,#336ffa,#2a7ef7,#414ceb,#2a7ef7,#356af9,#3e58f4,#2882f6,#4051ef,#3172fa,#2d79f8,#414cec,#2881f6,#3766f8,#3963f7,#2686f4,#3f55f2,#2c7bf8,#2c7af8,#3e59f4,#248af2,#3765f7,#336ef9,#2784f5,#4052ef,#2b7df7,#3172fa,#3f53f1,#2981f6,#4052ef)"></i>
<i style="top:8.0px;height:2.6px;background:linear-gradient(90deg,#2d78f8,#4347e7,#3864f7,#2f75f9,#463add,#2d7af8,#3c5cf5,#414eed,#2a7ef7,#4440e2,#336efa,#3172f9,#453ee1,#2a7ef7,#3e56f3,#3d59f4,#2b7df7,#453ee1,#2f75f9,#336ef9,#4345e6,#2980f6,#404fee,#3962f7,#2c7bf7,#453ee1,#2d7af8,#3667f8,#414dec,#2881f6,#424aea,#346cf9,#2d79f8,#4442e4,#2a7ff7,#3962f6,#3e58f4,#2882f6,#4248e8,#3073f9,#2f75f9,#4443e5,#2980f7,#3e58f4,#3a5ff6,#2881f6,#424bea,#2a7ef7,#2e78f8,#3c5bf5,#2191ef,#3765f7,#2e77f9,#238ef1,#3c5cf5,#228ff0,#2c7bf8,#346cf9,#1c9cea,#356af9,#2882f6,#2191ef,#3766f7,#1c9bea,#2c7af8,#2f76f9,#1b9ee8,#356af8,#238cf1,#248cf2,#3669f8,#1c9de9,#3074f9,#2d79f8,#1e98ec,#3962f7,#238df1,#2a7ff7,#3765f7,#1e97ec,#3667f8,#2e78f8,#248bf2,#3e58f4,#248af2,#2f75f9,#3863f7,#2191ef,#3c5df5,#2c7bf8,#2783f5,#3d59f4,#2190ef,#3172f9,#3270fa,#1f96ed,#3962f6,#2588f3,#2686f4,#3766f7,#1c9bea,#3172fa,#2e78f8,#1f95ed,#3b5ff6,#248af2,#2c7bf8,#3a60f6,#228ff0,#3b5ef5)"></i>
<i style="top:10.0px;height:2.6px;background:linear-gradient(90deg,#297ff7,#4051ef,#336efa,#2b7cf7,#4344e5,#2881f6,#3766f8,#3d59f4,#2588f3,#414beb,#2f76f9,#2d7af8,#4249e9,#2587f3,#3a61f6,#3864f7,#2687f4,#424aea,#2b7df7,#2f76f9,#4051ef,#248cf2,#3c5bf5,#336ef9,#2784f5,#424aea,#2882f6,#3172fa,#3d59f4,#238df1,#3e57f3,#2f75f9,#2981f6,#414eec,#2589f3,#336df9,#3963f7,#228ff0,#3f53f1,#2c7bf8,#2b7cf7,#414eec,#258af3,#3962f6,#3669f8,#238df1,#3e57f3,#2588f3,#2980f6,#3766f8,#1b9fe7,#3271fa,#2a7ff7,#1c9cea,#3669f8,#1c9de9,#2685f4,#2f76f9,#19a9dd,#2f75f9,#2190ef,#1b9fe7,#3172fa,#19a8de,#2785f5,#2a7ff7,#18acda,#2f75f9,#1c9bea,#1d9beb,#3074f9,#18aadc,#2a7ef7,#2882f6,#1aa5e1,#326ffa,#1c9bea,#248cf2,#3171fa,#1aa4e2,#3173f9,#2980f6,#1e99ec,#3863f7,#1e98ec,#2b7df7,#326ffa,#1b9fe7,#3668f8,#2784f5,#2191ef,#3765f7,#1b9ee8,#2c7bf8,#2d79f8,#1aa4e2,#3270fa,#1e97ec,#1f96ed,#3073f9,#19a9dd,#2b7cf7,#2882f6,#1aa4e2,#346cf9,#1d99eb,#2686f4,#346cf9,#1c9de9,#3569f8)"></i>
<i style="top:12.0px;height:2.6px;background:linear-gradient(90deg,#2588f3,#3c5cf5,#2f76f9,#2784f5,#404fee,#248cf2,#3270fa,#3864f7,#2093ee,#3e58f4,#2a7ef7,#2882f6,#3e56f3,#2093ee,#346cf9,#326ffa,#2093ee,#3e58f4,#2686f4,#2a7ef7,#3b5df5,#1e98ec,#3767f8,#2f76f9,#2191ef,#3e58f4,#228ef0,#2d7af8,#3864f7,#1d9aeb,#3962f7,#2b7df7,#238cf1,#3d5bf5,#1f95ed,#2f76f9,#336efa,#1d9beb,#3b5ff6,#2883f6,#2784f5,#3e59f4,#2094ee,#346bf9,#3172fa,#1e98ec,#3961f6,#2094ee,#248bf2,#3172fa,#19aadc,#2d79f8,#248bf2,#19a7df,#3074f9,#19a9dd,#2093ee,#2a7ff7,#17b4d1,#2a7ef7,#1b9ee8,#18abdb,#2c7bf8,#16b4d1,#2093ee,#238cf1,#1ab7cb,#2a7ef7,#19a7df,#19a7df,#2b7df7,#18b6ce,#2589f3,#2290f0,#17b1d5,#2e78f8,#19a7df,#1d99eb,#2d7af8,#17b0d6,#2c7bf8,#238cf1,#1aa4e2,#3270fa,#1aa3e3,#2687f4,#2e77f8,#19a9dd,#3073f9,#2191ef,#1c9ee8,#3171fa,#19aadc,#2685f4,#2882f6,#17b1d5,#2d79f8,#1aa4e2,#1aa3e3,#2b7df7,#18b5ce,#2588f3,#2191ef,#17b0d6,#2e77f8,#1aa6e0,#2094ee,#2f76f9,#19a8de,#3074f9)"></i>
<i style="top:14.0px;height:2.6px;background:linear-gradient(90deg,#2192ef,#3766f7,#2b7cf7,#228ef0,#3d5bf5,#1f96ed,#2e77f8,#336efa,#1c9de9,#3962f7,#2686f4,#238cf1,#3962f6,#1b9ee8,#2f75f9,#2e77f8,#1b9ee8,#3863f7,#2192ef,#2588f3,#3569f8,#1aa2e4,#3172fa,#2a7ef7,#1c9cea,#3864f7,#1d9aeb,#2881f6,#3270fa,#1aa4e2,#336ef9,#2686f4,#1e98ec,#3766f7,#1ba0e6,#2b7df7,#2f76f9,#1aa4e2,#356af8,#238df1,#238ef1,#3963f7,#1c9de9,#3073f9,#2d78f8,#1ba1e5,#346cf9,#1b9fe7,#1f96ed,#2d79f8,#16b4d2,#2881f6,#1e97ec,#17b1d5,#2b7cf7,#16b3d3,#1b9fe7,#248af2,#21bbbf,#2589f3,#19a9dd,#18b5ce,#2785f5,#21bbbe,#1ba0e6,#1d99eb,#25beb8,#248af2,#16b2d4,#16b2d4,#2588f3,#23bdbb,#1f96ed,#1c9de9,#1eb9c4,#2981f6,#17b2d4,#1aa4e2,#2882f6,#1cb8c8,#2783f5,#1e98ec,#18aed8,#2e77f8,#18add9,#2092ee,#2a7ff7,#16b3d3,#2c7bf8,#1c9de9,#19a8de,#2d79f8,#16b4d1,#2192ef,#228ff0,#1eb9c5,#2882f6,#17b0d6,#17afd7,#2588f3,#24bdba,#1f96ed,#1b9fe7,#1eb9c4,#2980f6,#17b1d5,#1ba0e6,#2a7ff7,#16b3d3,#2c7bf7)"></i>
<i style="top:16.0px;height:2.6px;background:linear-gradient(90deg,#1e98ec,#346bf9,#2980f6,#2094ee,#3961f6,#1c9cea,#2b7cf7,#3073f9,#1aa3e3,#356af8,#238ef1,#2094ee,#3569f8,#1aa5e1,#2c7af8,#2b7cf7,#1aa5e1,#346cf9,#1d9aeb,#2190ef,#3171fa,#19a9dd,#2e77f8,#2784f5,#1aa3e3,#346cf9,#1ba1e5,#2589f3,#2f76f9,#18aadc,#3074f9,#238ef1,#1b9fe7,#336ef9,#19a6e0,#2882f6,#2c7bf8,#18aadc,#3271fa,#2094ee,#2094ee,#3669f8,#1aa2e4,#2e77f8,#2b7cf7,#19a6e0,#3171fa,#1aa4e2,#1c9ee8,#2a7ef7,#1cb8c7,#2589f3,#1b9ee8,#1ab7cb,#2881f6,#1cb8c7,#1aa6e0,#2093ee,#28c0b2,#2192ef,#17b0d6,#1fbac2,#228ef0,#29c0b1,#19a7df,#1ba1e5,#2dc3ab,#2093ee,#1cb8c8,#1cb8c8,#2191ef,#2bc2ae,#1b9fe7,#1aa4e2,#25beb8,#2589f3,#1ab7ca,#18abdb,#248af2,#22bcbc,#248bf2,#1b9fe7,#16b4d1,#2b7cf7,#16b3d3,#1d9aeb,#2785f5,#1bb7c9,#2980f6,#1aa3e3,#17aed8,#2a7ff7,#1db9c5,#1d9beb,#1e98ec,#25beb8,#238cf1,#1ab7cb,#19b6cc,#2192ef,#2cc3ab,#1ba0e6,#19a7df,#26beb6,#2589f3,#1bb7ca,#19a7df,#2686f4,#1bb7c9,#2981f6)"></i>
<i style="top:18.0px;height:2.6px;background:linear-gradient(90deg,#1c9de9,#3171fa,#2785f5,#1d9aeb,#3668f8,#1ba2e4,#2980f6,#2e78f8,#19a9dd,#3271fa,#1f95ed,#1c9bea,#3271fa,#18abdb,#2980f7,#2882f6,#18acda,#3173f9,#1ba1e5,#1e98ec,#2e77f9,#17b0d6,#2b7df7,#238df1,#19aadc,#3073f9,#19a8de,#2191ef,#2c7bf8,#17b1d5,#2d79f8,#1f95ed,#1aa5e1,#3074f9,#18acda,#248af2,#2980f6,#17b0d6,#2f75f9,#1d9beb,#1d9beb,#336ffa,#19a7df,#2c7bf8,#2980f6,#18abdb,#2f76f9,#19aadc,#1aa3e3,#2784f5,#22bcbd,#2290f0,#1aa4e2,#20bbc0,#2589f3,#22bcbc,#18acda,#1c9bea,#31c4a7,#1d9aeb,#19b6cd,#26beb6,#1f96ed,#33c4a5,#17aed8,#19a8de,#3cc59e,#1c9bea,#23bcbc,#22bcbd,#1d9aeb,#37c4a2,#1aa5e1,#18aadc,#2bc2ad,#2190ef,#21bbbf,#17b1d5,#2192ef,#28c0b2,#2092ee,#1aa5e1,#1cb8c8,#2881f6,#1bb7ca,#1ba0e6,#238cf1,#21bbbf,#2686f4,#19a9dd,#16b4d1,#2785f5,#23bdbb,#1ba1e5,#1ba0e6,#2cc2ac,#1f94ed,#21bbbf,#20bbc0,#1c9bea,#3dc59e,#19a7df,#17aed8,#2ec3aa,#2192ef,#21bbbe,#18aed8,#238df1,#21bbbe,#2687f4)"></i>
<i style="top:20.0px;height:2.6px;background:linear-gradient(90deg,#1ba2e4,#2f75f9,#248bf2,#1ba0e6,#336efa,#19a7df,#2686f4,#2b7cf7,#17aed8,#2f75f9,#1c9cea,#1ba1e5,#2f76f9,#17b1d5,#2686f4,#2589f3,#17b2d4,#2e78f8,#19a7df,#1b9fe7,#2b7cf7,#18b6ce,#2883f6,#1f95ed,#17b0d6,#2d78f8,#18aed8,#1d99eb,#2980f6,#19b6cd,#2a7ef7,#1c9de9,#18abdb,#2d79f8,#16b2d4,#2191ef,#2686f4,#17b5cf,#2d7af8,#1ba0e6,#1ba0e6,#3073f9,#18acda,#2a7ef7,#2785f5,#17b0d6,#2d7af8,#17afd7,#19a8de,#248af2,#27bfb4,#1f97ed,#19aadc,#25beb7,#2290f0,#28c0b3,#17b2d4,#1ba1e5,#3ec59d,#1ba0e6,#1fbac3,#2cc2ac,#1c9de9,#41c69b,#16b4d2,#17aed8,#4ac794,#1ba1e5,#28c0b2,#28c0b3,#1ba0e6,#45c698,#18abdb,#17b0d6,#36c4a3,#1e97ec,#26beb6,#18b6ce,#1e98ec,#2ec3a9,#1d99eb,#18aadc,#21bbbf,#2687f4,#20bac1,#1aa5e1,#2192ef,#26beb7,#238cf1,#18aed8,#1bb7c9,#248bf2,#29c0b1,#19a7df,#1aa5e1,#38c4a1,#1c9cea,#27bfb5,#27bfb5,#1ba2e4,#4cc792,#18aed8,#17b5d1,#3cc59e,#1d99eb,#27bfb4,#16b4d2,#2094ee,#26bfb5,#238df1)"></i>
<i style="top:22.0px;height:2.6px;background:linear-gradient(90deg,#19a6e0,#2d79f8,#2191ef,#1aa4e2,#3073f9,#18acda,#238cf1,#2981f6,#16b3d3,#2c7af8,#1ba1e5,#19a6e0,#2c7bf8,#18b5ce,#238df1,#2190ef,#19b6cc,#2b7df7,#18add9,#1aa5e1,#2881f6,#1eb9c4,#248af2,#1c9cea,#18b5ce,#2b7df7,#16b4d2,#1b9fe7,#2687f4,#1eb9c3,#2783f5,#1aa2e4,#17b1d5,#2b7df7,#19b6cc,#1e97ec,#238cf1,#1cb8c7,#2a7ef7,#1aa5e1,#1aa4e2,#2e77f8,#17b0d6,#2882f6,#248af2,#16b4d2,#2a7ef7,#16b3d3,#18add9,#2290f0,#2bc2ad,#1c9cea,#17afd7,#2ac1b0,#1f95ed,#2cc3ab,#18b6ce,#1aa6e0,#49c794,#1aa5e1,#23bdbb,#35c4a4,#1aa2e4,#4cc793,#1bb7ca,#16b3d3,#55c88c,#19a6e0,#2dc3aa,#2cc3ab,#1aa5e1,#50c790,#17b0d6,#17b5d1,#41c69b,#1c9de9,#2ac1af,#1db8c6,#1c9de9,#38c4a2,#1c9ee8,#17afd7,#25beb8,#238df1,#24bdba,#19a9dd,#1e98ec,#2ac1b0,#2191ef,#17b2d4,#1fbac2,#2191ef,#2dc3aa,#18acda,#18aadc,#43c699,#1ba1e5,#2cc2ac,#2bc2ad,#19a7df,#58c889,#16b3d3,#1cb8c8,#48c696,#1b9fe7,#2cc2ac,#1ab7ca,#1d9aeb,#2bc2ae,#2093ee)"></i>
<i style="top:24.0px;height:2.6px;background:linear-gradient(90deg,#19aadc,#2b7cf7,#1f96ed,#19a8de,#2e77f9,#17b0d6,#2191ef,#2686f4,#1ab6cc,#2a7ef7,#1aa6e0,#18abdb,#2a7ff7,#1db8c6,#2093ee,#1f96ed,#1eb9c4,#2881f6,#17b2d4,#18aadc,#2687f4,#23bcbc,#2190ef,#1ba1e5,#1db8c6,#2882f6,#1ab7ca,#1aa4e2,#238df1,#23bcbc,#2589f3,#19a7df,#17b5d0,#2881f6,#1eb9c5,#1c9de9,#2192ef,#20bbc0,#2882f6,#19a9dd,#19a9dd,#2c7bf8,#16b4d2,#2687f4,#228ff0,#1ab6cc,#2981f6,#19b6cd,#17b1d5,#1f95ed,#31c4a7,#1ba0e6,#16b2d4,#2dc3aa,#1d9aeb,#33c4a5,#1cb8c8,#19a9dd,#51c88e,#19a8de,#27bfb5,#3dc59e,#1aa6e0,#54c88c,#1eb9c4,#18b6ce,#5dc986,#19aadc,#35c4a4,#34c4a5,#19a8de,#58c88a,#16b3d3,#1ab7cb,#49c795,#1ba0e6,#2fc3a9,#20bbc0,#1ba1e5,#40c59c,#1ba2e4,#16b2d4,#28c0b2,#2191ef,#27bfb5,#18add9,#1c9cea,#2dc3aa,#1f95ed,#17b5d0,#22bcbd,#1f95ed,#35c4a4,#17afd7,#18aed8,#4bc793,#1aa5e1,#32c4a6,#31c4a7,#18abdb,#60c983,#18b6ce,#1fbac2,#50c790,#1aa3e3,#32c4a6,#1eb9c5,#1b9ee8,#2fc3a8,#1e97ec)"></i>
<i style="top:26.0px;height:2.6px;background:linear-gradient(90deg,#18aadc,#2b7df7,#1f96ed,#19a9dd,#2e77f8,#17b0d6,#2092ee,#2687f4,#1ab7cb,#2a7ff7,#19a7df,#18acda,#2980f7,#1db9c5,#2094ee,#1e98ec,#1fbac3,#2883f6,#16b3d3,#18abdb,#2589f3,#23bdbb,#2192ef,#1ba2e4,#1eb9c5,#2783f5,#1bb7c9,#1aa5e1,#228ef0,#23bdbb,#248bf2,#19a8de,#18b5cf,#2882f6,#1eb9c4,#1c9de9,#2093ee,#21bbc0,#2883f6,#19a9dd,#19a9dd,#2c7bf7,#16b4d2,#2587f3,#228ff0,#1ab6cc,#2881f6,#19b6cd,#17b1d5,#1f95ed,#31c3a7,#1ba0e6,#16b2d4,#2dc3aa,#1d9aeb,#32c4a6,#1cb8c8,#19a9dd,#50c790,#19a8de,#26beb6,#3bc59f,#1aa6e0,#52c88e,#1eb9c5,#18b5cf,#5bc987,#19a9dd,#33c4a5,#32c4a6,#19a8de,#56c88b,#16b3d3,#1ab6cb,#47c696,#1ba0e6,#2dc3aa,#20bac1,#1ba1e5,#3ec59d,#1ba1e5,#17b2d4,#28c0b3,#2191ef,#26bfb6,#18acda,#1c9cea,#2cc2ac,#1f95ed,#16b4d2,#21bbbe,#2094ee,#33c4a6,#17afd7,#18add9,#49c794,#1aa4e2,#30c3a8,#2fc3a8,#18aadc,#5dc985,#18b5cf,#1fbac3,#4dc791,#1aa2e4,#30c3a7,#1db9c6,#1c9ee8,#2ec3a9,#1e97ec)"></i>
<i style="top:28.0px;height:2.6px;background:linear-gradient(90deg,#19a7df,#2c7bf8,#2093ee,#1aa6e0,#2f75f9,#18add9,#228ff0,#2784f5,#17b5d0,#2b7df7,#1aa4e2,#19a9dd,#2a7ef7,#1ab7ca,#2191ef,#2094ee,#1cb8c8,#2980f6,#17b0d6,#19a8de,#2686f4,#20bbc0,#228ff0,#1b9fe7,#1ab7ca,#2981f6,#18b5cf,#1aa2e4,#248bf2,#20bbc0,#2588f3,#1aa5e1,#16b3d3,#2980f6,#1bb7ca,#1d9aeb,#228ff0,#1db9c5,#2980f6,#19a6e0,#1aa6e0,#2d79f8,#17b0d6,#2784f5,#248bf2,#16b4d2,#2a7ff7,#16b3d3,#18add9,#2191ef,#2ac1ae,#1c9cea,#17aed8,#29c0b2,#1f96ed,#2bc2ae,#18b5cf,#1aa5e1,#45c698,#1aa4e2,#22bcbd,#30c3a7,#1ba2e4,#47c696,#19b6cc,#17b2d4,#4fc790,#1aa5e1,#2bc2ad,#2bc1ae,#1aa4e2,#4ac794,#17afd7,#16b4d2,#3cc59e,#1c9cea,#29c0b1,#1cb8c8,#1c9de9,#34c4a5,#1c9ee8,#17aed8,#24bdba,#238df1,#22bcbd,#19a9dd,#1e97ec,#27bfb4,#228ff0,#17afd7,#1cb8c7,#228ff0,#2bc1ae,#18abdb,#19a9dd,#3ec59d,#1ba0e6,#2ac1b0,#29c1b1,#1aa6e0,#51c88f,#17b1d5,#1ab7cb,#41c69a,#1c9ee8,#2ac1b0,#19b6cd,#1d99eb,#29c0b1,#2092ee)"></i>
<i style="top:30.0px;height:2.6px;background:linear-gradient(90deg,#1aa4e2,#2d79f8,#228ff0,#1ba2e4,#3073f9,#19a9dd,#248bf2,#2981f6,#17b1d5,#2c7af8,#1ba0e6,#1aa5e1,#2c7bf8,#16b4d2,#238df1,#2290f0,#17b5d0,#2a7ef7,#18abdb,#1aa4e2,#2882f6,#1cb8c8,#248af2,#1c9bea,#16b4d2,#2a7ef7,#17b2d4,#1b9ee8,#2687f4,#1cb8c8,#2784f5,#1ba1e5,#17aed8,#2b7df7,#16b4d1,#1f95ed,#248bf2,#19b6cd,#2a7ef7,#1aa2e4,#1ba1e5,#2f76f9,#18abdb,#2980f7,#2686f4,#17afd7,#2b7cf7,#17afd7,#19a9dd,#238cf1,#25beb7,#1e98ec,#19a9dd,#23bdbb,#2190ef,#26beb7,#17b1d5,#1ba1e5,#37c4a3,#1b9fe7,#1db8c7,#29c0b1,#1c9de9,#38c4a1,#16b2d4,#18add9,#41c69b,#1ba1e5,#25beb7,#25beb8,#1b9fe7,#3cc59e,#19aadc,#17afd7,#2fc3a9,#1e97ec,#23bdbb,#17b4d1,#1e98ec,#2ac1ae,#1d99eb,#19a9dd,#1fbac3,#2588f3,#1db9c5,#1aa4e2,#2192ef,#22bcbe,#2589f3,#19a8de,#16b4d2,#2589f3,#25beb9,#1aa5e1,#1aa4e2,#2fc3a8,#1d9beb,#23bdbb,#23bdbb,#1ba0e6,#41c69b,#18abdb,#16b2d4,#32c4a6,#1e98ec,#24bdba,#17b1d5,#2094ee,#23bdbb,#238df1)"></i>
<i style="top:32.0px;height:2.6px;background:linear-gradient(90deg,#1b9fe7,#2e77f9,#248bf2,#1c9de9,#3171fa,#1aa4e2,#2687f4,#2a7ef7,#18abdb,#2e78f8,#1c9bea,#1ba0e6,#2d79f8,#17aed8,#2588f3,#248bf2,#17afd7,#2c7bf8,#1aa6e0,#1b9fe7,#2a7ff7,#16b4d2,#2785f5,#1f95ed,#18aed8,#2c7bf8,#18acda,#1d99eb,#2882f6,#16b4d2,#2980f6,#1c9cea,#19a9dd,#2c7af8,#17aed8,#2290f0,#2686f4,#17b1d5,#2c7bf8,#1c9de9,#1c9cea,#3073f9,#1aa4e2,#2c7bf8,#2980f6,#19a8de,#2d79f8,#19a9dd,#1aa3e3,#2687f4,#1fbac2,#2192ef,#1aa4e2,#1db9c6,#248bf2,#1fbac2,#18abdb,#1c9bea,#2ac1af,#1d9aeb,#16b4d1,#22bcbd,#1e97ec,#2ac1ae,#18acda,#19a7df,#2fc3a9,#1c9bea,#1fbac3,#1eb9c3,#1d9aeb,#2cc2ac,#1aa4e2,#19a9dd,#27bfb5,#2191ef,#1db9c6,#17afd7,#2092ee,#24bdba,#2093ee,#1aa4e2,#19b6cd,#2783f5,#17b5cf,#1b9fe7,#238cf1,#1ab7ca,#2882f6,#1ba0e6,#18abdb,#2882f6,#1db9c5,#1ba0e6,#1b9ee8,#26bfb6,#2094ee,#1cb8c7,#1cb8c8,#1d9aeb,#2dc3aa,#1aa5e1,#18abdb,#27bfb4,#2192ef,#1db8c6,#18abdb,#238ef1,#1db8c6,#2588f3)"></i>
<i style="top:34.0px;height:2.6px;background:linear-gradient(90deg,#1d99eb,#3074f9,#2685f4,#1e97ec,#3270fa,#1b9ee8,#2882f6,#2c7bf8,#1aa4e2,#2f76f9,#2094ee,#1d99eb,#2f76f9,#19a7df,#2882f6,#2785f5,#19a8de,#2e78f8,#1b9fe7,#1e98ec,#2c7bf7,#18acda,#2981f6,#228ef0,#19a6e0,#2d78f8,#1aa5e1,#2192ef,#2a7ef7,#18acda,#2b7df7,#1f95ed,#1ba2e4,#2e78f8,#19a7df,#248af2,#2881f6,#19aadc,#2d78f8,#1f96ed,#2094ee,#336efa,#1d9beb,#2f76f9,#2c7bf8,#1ba0e6,#2f75f9,#1ba2e4,#1c9de9,#2883f6,#17b5d0,#238cf1,#1b9ee8,#16b3d3,#2686f4,#17b5d0,#1aa4e2,#1f95ed,#21bbbf,#2094ee,#18add9,#1ab7cb,#2191ef,#22bcbe,#1aa6e0,#1ba1e5,#25beb8,#1f95ed,#17b5d0,#17b4d1,#2094ee,#23bdbb,#1b9ee8,#1aa3e3,#1eb9c4,#238cf1,#16b4d2,#19a8de,#238df1,#1cb8c8,#238df1,#1b9ee8,#17b0d6,#2980f6,#17aed8,#1e99ec,#2686f4,#17afd7,#2b7cf7,#1f95ed,#1ba0e6,#2b7cf7,#16b2d4,#1e99ec,#1e98ec,#1db9c5,#238df1,#17b2d4,#17b2d4,#2093ee,#23bdbb,#1c9ee8,#1aa4e2,#1eb9c4,#248bf2,#16b3d3,#1aa4e2,#2588f3,#16b3d3,#2883f6)"></i>
<i style="top:36.0px;height:2.6px;background:linear-gradient(90deg,#248bf2,#356bf9,#2d79f8,#2687f4,#3667f8,#2290f0,#2d79f8,#3171fa,#2192ef,#336ef9,#2686f4,#248bf2,#346df9,#2094ee,#2d78f8,#2c7cf7,#1d9aeb,#3271fa,#238cf1,#2785f5,#3073f9,#1c9ee8,#2d79f8,#2980f6,#2094ee,#326ffa,#1f96ed,#2785f5,#2e77f9,#1d9aeb,#3172f9,#2785f5,#2094ee,#3171fa,#1e98ec,#2b7cf7,#2e78f8,#1c9cea,#3172fa,#2687f4,#2981f6,#3b5df5,#2785f5,#3569f8,#3270fa,#238cf1,#3668f8,#2290f0,#228ff0,#2c7bf7,#19a7df,#2a7ff7,#238cf1,#1aa4e2,#2a7ef7,#19a7df,#1f96ed,#2784f5,#18add9,#2687f4,#1ba0e6,#19aadc,#2883f6,#18add9,#1e97ec,#2094ee,#16b4d2,#2588f3,#1aa4e2,#1aa4e2,#2687f4,#16b2d4,#2191ef,#2093ee,#19aadc,#2a7ff7,#1aa5e1,#1c9cea,#2881f6,#19a8de,#2a7ff7,#2290f0,#1aa2e4,#2d79f8,#1b9fe7,#2687f4,#2c7bf8,#1b9fe7,#3172f9,#2981f6,#2589f3,#3270fa,#1ba1e5,#248bf2,#248af2,#18abdb,#2a7ef7,#1ba1e5,#1aa3e3,#2686f4,#17b1d5,#238df1,#2192ef,#18abdb,#2980f6,#1aa4e2,#1f95ed,#2c7bf8,#1ba1e5,#2c7bf8)"></i>
<i style="top:38.0px;height:2.6px;background:linear-gradient(90deg,#2d79f8,#414ceb,#3f53f0,#326ffa,#3d5af4,#2a7ef7,#3767f8,#424aea,#3270fa,#3d5af4,#2d78f8,#2d79f8,#4050ee,#336efa,#3b5ef5,#336ffa,#2784f5,#3b5df5,#346cf9,#3864f7,#3b5ff6,#2687f4,#346cf9,#356af8,#336efa,#404fee,#2a7ff7,#2e78f8,#3766f7,#2e77f9,#424bea,#3172fa,#2980f7,#3864f7,#2c7bf8,#3e59f4,#3d5af5,#2882f6,#3765f7,#2f75f9,#3962f7,#4431ce,#3569f8,#3f53f0,#3c5bf5,#3172f9,#453cdf,#3271fa,#2c7bf8,#3172fa,#228ff0,#3767f8,#356af9,#2784f5,#3073f9,#2093ee,#2a7ef7,#3766f8,#2685f4,#2e77f8,#238df1,#2094ee,#336df9,#2882f6,#2c7bf8,#2981f6,#1ba0e6,#2e77f8,#2b7df7,#2b7df7,#2f76f9,#1b9ee8,#297ff7,#2d79f8,#2a7ff7,#3569f8,#228ff0,#2588f3,#3073f9,#2981f6,#3a60f6,#2d7af8,#238ef1,#326ffa,#2980f6,#3765f7,#3a5ff6,#2784f5,#3a61f6,#346cf9,#3864f7,#4441e3,#2881f6,#2c7bf8,#2c7bf8,#238cf1,#3b5df5,#2b7df7,#248bf2,#2d7af8,#1d99eb,#3171fa,#326ffa,#238cf1,#2f75f9,#228ff0,#2c7bf8,#3d59f4,#2b7cf7,#346cf9)"></i>
<i style="top:40.0px;height:2.6px;background:linear-gradient(90deg,#336efa,#4533d2,#432ac3,#4051ef,#4051ef,#3073f9,#3f54f1,#432ac3,#4443e5,#4249e9,#336ffa,#336ef9,#4537d8,#463bdf,#453fe1,#3962f6,#2e77f8,#414eed,#4441e3,#4537da,#414ceb,#2d79f8,#3a61f6,#414eed,#463cdf,#4534d3,#3172fa,#336efa,#3e58f4,#4051ef,#4228c0,#3c5cf5,#2f75f9,#3c5cf5,#3864f7,#442fcb,#4638da,#3074f9,#3b5df5,#3865f7,#4639dc,#4226bc,#4345e6,#4441e3,#4249e9,#3f55f2,#4226bc,#4248e8,#346df9,#356af8,#2b7cf7,#4247e8,#453cdf,#336ffa,#346bf9,#2881f6,#336efa,#453de0,#3864f7,#356af9,#2a7ff7,#2981f6,#3f53f0,#3c5bf5,#3864f7,#2e77f8,#238cf1,#3569f8,#3c5bf5,#3d5bf5,#3668f8,#248bf2,#2f76f9,#3962f6,#3e58f4,#414eed,#2a7ef7,#2b7cf7,#3765f7,#3a5ff6,#4638da,#3569f8,#2a7ef7,#3766f8,#356af9,#4537d9,#453ee1,#3074f9,#3f53f0,#4052f0,#4535d5,#4226bc,#346cf9,#3172fa,#3172fa,#3074f9,#4534d3,#3b5ff6,#2d7af8,#3172f9,#2981f6,#4050ee,#4441e3,#3074f9,#346cf9,#2a7ef7,#3669f8,#4431cf,#3d5af4,#3a5ff6)"></i>
<i style="top:42.0px;height:2.6px;background:linear-gradient(90deg,#336df9,#4344e5,#463ade,#3f55f2,#4346e7,#3c5df5,#4052f0,#4639dc,#404fee,#424aea,#3e59f4,#3c5df5,#4442e4,#424bea,#4249e9,#3f55f2,#3961f6,#414cec,#414eed,#4347e8,#414eec,#3864f7,#4052f0,#3f53f0,#414ceb,#4441e3,#3963f7,#3e58f4,#4052f0,#3e58f4,#4639dc,#3d5af5,#3a61f6,#414dec,#3961f6,#453fe2,#4347e7,#3766f8,#424ae9,#3e59f4,#4441e3,#4226bc,#453ee1,#442fcc,#4534d4,#414ceb,#442fcc,#4052f0,#3963f7,#3e58f4,#3271fa,#3f55f2,#4050ee,#346cf9,#3b5ef6,#3271fa,#356af9,#4052ef,#356af8,#3766f7,#336ffa,#3074f9,#3b5df5,#3865f7,#3668f8,#346cf9,#2e77f9,#3767f8,#3865f7,#3864f7,#3766f8,#2f76f9,#356af9,#3766f7,#3962f7,#3d5af5,#3172fa,#356bf9,#3962f6,#3766f7,#414ceb,#3766f7,#336df9,#3d5af5,#3669f8,#424bea,#414ceb,#3962f7,#4639dd,#4440e3,#4638db,#442fca,#3864f7,#3a60f6,#3962f6,#3270fa,#4248e8,#3864f7,#3270fa,#3a60f6,#2f75f9,#3d5bf5,#3f53f1,#3270fa,#3b5df5,#336df9,#3765f7,#4344e5,#3961f6,#3765f7)"></i>
<i style="top:44.0px;height:2.6px;background:linear-gradient(90deg,#336ffa,#3a5ff6,#3a60f6,#3b5ef5,#4432d1,#4534d4,#414eed,#3c5cf5,#3667f8,#4248e8,#4432d1,#453fe2,#3f56f2,#3569f8,#3c5bf5,#453cdf,#4536d8,#4347e8,#3766f8,#3865f7,#414eed,#4639dd,#4536d8,#3c5cf5,#356af8,#3d5af4,#424bea,#4431cf,#4347e8,#356af9,#3b5ff6,#3d5af5,#463add,#4533d1,#3962f7,#3864f7,#3a5ff6,#4051ef,#432ac3,#4344e6,#3e57f3,#4441e3,#463bdf,#4226bc,#4226bc,#4347e7,#4052ef,#3766f7,#3f55f2,#4534d3,#3d5bf5,#3669f8,#3270fa,#3270fa,#4343e5,#414beb,#3668f8,#3271fa,#2d78f8,#3a5ff6,#4248e8,#3b5ef6,#336efa,#2c7af8,#3172fa,#3f55f2,#3f54f1,#3865f7,#2d78f8,#2e78f8,#3864f7,#4052f0,#3f53f0,#3271fa,#2d79f8,#346cf9,#3c5cf5,#4344e5,#3c5cf5,#2f76f9,#336df9,#3864f7,#4347e7,#453fe2,#336df9,#346cf9,#3a60f6,#4346e7,#4226bc,#4430cc,#424aea,#414fed,#3a60f6,#463bdf,#4440e2,#336efa,#356bf9,#3172fa,#3c5df5,#4638da,#3961f6,#346df9,#3270fa,#336ffa,#453ee1,#4347e7,#3864f7,#3667f8,#3074f9,#336efa)"></i>
<i style="top:46.0px;height:2.6px;background:linear-gradient(90deg,#2e78f8,#3073f9,#2f75f9,#3172fa,#4050ee,#4050ee,#3569f8,#2f76f9,#2c7af8,#3766f8,#414eed,#3c5cf5,#3172fa,#2b7cf7,#3074f9,#3c5cf5,#4052f0,#3766f7,#2c7af8,#2c7af8,#346bf9,#3f56f2,#3e56f3,#3074f9,#2b7df7,#3074f9,#3864f7,#414dec,#3865f7,#2c7cf7,#2d78f8,#3172fa,#3e57f3,#4052f0,#2f76f9,#2c7bf8,#2e77f8,#3669f8,#4346e7,#3a5ff6,#336ffa,#3a61f6,#4050ee,#4227be,#432ac3,#3d5af5,#336ef9,#2d79f8,#3271fa,#3e58f4,#3173f9,#297ff7,#2686f4,#2881f6,#3668f8,#356af8,#2b7df7,#2588f3,#228ff0,#2d7af8,#356af8,#2e77f8,#2686f4,#1f94ed,#2589f3,#3074f9,#3172fa,#2a7ff7,#2094ee,#2093ee,#2a7ef7,#3171fa,#3073f9,#2687f4,#2092ee,#2784f5,#2f76f9,#3667f8,#2e78f8,#238cf1,#2686f4,#2c7bf7,#3767f8,#3865f7,#2980f7,#2881f6,#2f76f9,#3d59f4,#432dc8,#453fe1,#3a60f6,#346bf9,#3073f9,#3d5af5,#3b5ef6,#2b7cf7,#297ff7,#2981f6,#3172fa,#3e58f4,#3073f9,#2a7ff7,#2882f6,#2b7df7,#3b5ef5,#3961f6,#2e77f8,#2b7df7,#2883f6,#2b7df7)"></i>
<i style="top:48.0px;height:2.6px;background:linear-gradient(90deg,#2883f6,#2980f6,#2686f4,#248bf2,#2687f4,#238ef1,#2094ee,#1e98ec,#1c9cea,#2093ee,#228ef0,#2092ee,#1e98ec,#1b9ee8,#1d9aeb,#2093ee,#2192ef,#1f95ed,#1c9ee8,#1c9ee8,#1e97ec,#2093ee,#2191ef,#1d9beb,#1b9fe7,#1d9aeb,#1e97ec,#2190ef,#1f96ed,#1b9fe7,#1c9cea,#1d9aeb,#2093ee,#2191ef,#1c9de9,#1b9ee8,#1c9de9,#1e98ec,#248bf2,#238df1,#248af2,#2c7af8,#336efa,#3d5af5,#3b5ef6,#2f75f9,#2882f6,#1d99eb,#1aa5e1,#1ba1e5,#18aadc,#17afd7,#16b2d4,#16b3d3,#18aadc,#18add9,#16b4d2,#1ab6cc,#1db9c5,#17b5d0,#16b2d4,#19b6cc,#1eb9c4,#24bdba,#21bbbf,#1cb8c8,#1db9c6,#21bbbf,#28c0b2,#27bfb4,#20bac1,#1cb8c8,#1ab7cb,#20bac1,#22bcbc,#1cb8c7,#18b5cf,#17b0d6,#16b3d3,#1cb8c8,#18b5ce,#16b2d4,#18acda,#19a9dd,#17b1d5,#19aadc,#2094ee,#2c7cf7,#3765f7,#3668f8,#2e77f8,#2784f5,#1e98ec,#1e97ec,#1d9aeb,#1aa5e1,#1aa5e1,#19a6e0,#1ba1e5,#1d9aeb,#1aa2e4,#1aa5e1,#19a7df,#1aa6e0,#1c9bea,#1c9de9,#1aa2e4,#1aa3e3,#1aa4e2,#1b9fe7)"></i>
<i style="top:50.0px;height:2.6px;background:linear-gradient(90deg,#2587f3,#2686f4,#2094ee,#19a7df,#18b5cf,#25beb7,#26beb6,#27bfb5,#29c0b1,#27bfb4,#29c0b2,#2ac1b0,#2ac1af,#2dc3ab,#2cc2ac,#2cc2ac,#2dc3aa,#2cc2ac,#2fc3a8,#2fc3a9,#2cc3ab,#2ec3a9,#2cc2ab,#2ec3a9,#31c3a7,#2dc3ab,#2fc3a9,#2dc3ab,#2dc3ab,#32c4a7,#2ec3aa,#2fc3a8,#2fc3a9,#2cc3ab,#32c4a6,#30c3a8,#2fc3a9,#30c3a8,#27bfb4,#20bac1,#16b3d3,#1f96ed,#2d79f8,#346bf9,#3270fa,#2980f7,#1c9ee8,#20bbc0,#5cc986,#61ca82,#71c979,#75c976,#80c970,#89c86b,#88c86b,#95c764,#9dc75f,#a4c75c,#b1c654,#b0c654,#b7c551,#bfc34d,#c2c34c,#cec146,#d0c146,#d3c044,#dcbf40,#debf3f,#e8bd3a,#e3be3c,#d9bf41,#d8c042,#cfc146,#cdc147,#cbc248,#c0c34d,#bec44e,#b7c551,#b0c654,#b2c654,#a6c65a,#a0c75e,#9ac761,#8dc868,#8fc867,#54c88c,#16b4d1,#248cf2,#2f75f9,#3074f9,#2589f3,#19a7df,#26bfb6,#35c4a4,#3ac5a0,#41c69a,#3fc59c,#43c699,#43c69a,#3fc59c,#45c697,#44c699,#45c698,#47c696,#41c69b,#44c698,#45c698,#40c59b,#37c4a2,#2ac1af)"></i>
<i style="top:52.0px;height:2.6px;background:linear-gradient(90deg,#2687f4,#2686f4,#1ba1e5,#26beb6,#6fc979,#c7c249,#cac248,#cec147,#d4c043,#d5c043,#dbbf40,#e0be3e,#e2be3d,#e8bd3a,#e9bd3a,#eabd39,#eabd38,#eabd39,#eabd38,#eabd38,#eabd39,#eabd38,#eabd39,#eabd39,#eabd38,#eabd39,#eabd38,#eabd38,#eabd39,#ebbd38,#eabd39,#eabd38,#ebbd38,#eabd39,#ebbd38,#eabd38,#eabd38,#eabd38,#d9bf41,#aec655,#6bca7c,#19b6cc,#2981f6,#346cf9,#3270fa,#248af2,#1bb8c9,#83c86e,#f4be32,#f6be30,#f8be2e,#f9be2e,#fabf2c,#fac22b,#fac32b,#f9c629,#f9c828,#f9c927,#f9cc26,#f9cd25,#f9d024,#f8d223,#f8d322,#f8d621,#f8d820,#f8d91f,#f7dc1e,#f7dd1d,#f7df1c,#f7de1d,#f7dc1e,#f7dc1e,#f8da1f,#f8d820,#f8d720,#f8d522,#f8d422,#f8d223,#f8d024,#f9d024,#f9cd25,#f9cc26,#f9cb26,#f9c928,#f9c828,#efbd35,#48c695,#1f96ed,#2f75f9,#2e77f8,#1ba1e5,#33c4a6,#bcc44f,#e9bd39,#ebbd38,#ecbd37,#ecbd37,#edbd37,#edbd36,#edbd36,#eebd36,#eebd36,#eebd36,#efbd35,#eebd35,#efbd35,#efbd35,#edbd36,#e7bd3b,#c7c249)"></i>
<i style="top:54.0px;height:2.6px;background:linear-gradient(90deg,#2686f4,#2686f4,#18aadc,#56c88b,#eabd39,#f9c629,#f9c828,#f9ca27,#f9cc26,#f9cd26,#f9cf25,#f8d124,#f8d223,#f8d422,#f8d621,#f8d820,#f8d820,#f8d820,#f8d820,#f8d820,#f8d820,#f8d820,#f8d820,#f8d820,#f8d820,#f8d820,#f8d820,#f8d820,#f8d820,#f8d920,#f8d820,#f8d820,#f8d920,#f8d820,#f8d91f,#f8d920,#f8d820,#f8d820,#f9ce25,#f9be2d,#ebbd38,#3ec59d,#2589f3,#356bf9,#326ffa,#1f96ed,#39c4a1,#e5be3c,#f8d223,#f8d422,#f8d721,#f8d820,#f8da1f,#f7dc1e,#f7dd1d,#f7df1c,#f7e01b,#f7e21b,#f6e41a,#f6e519,#f6e718,#f6e817,#f6e917,#f5eb16,#f5ec15,#f5ee14,#f5ee14,#f5ee14,#f5ee14,#f5ee14,#f5ee14,#f5ee14,#f5ee14,#f5ee14,#f5ee14,#f5ed14,#f5ed14,#f5ec15,#f5ec15,#f5eb15,#f5ea16,#f6e916,#f6e917,#f6e817,#f6e718,#f9cd26,#8ac86a,#1c9de9,#3074f9,#2d79f8,#17b1d5,#82c86f,#f8be2e,#f9ce25,#f8d024,#f8d223,#f8d223,#f8d322,#f8d422,#f8d422,#f8d521,#f8d621,#f8d621,#f8d720,#f8d720,#f8d820,#f8d820,#f8d621,#f9cb27,#fabf2d)"></i>
<i style="top:56.0px;height:2.6px;background:linear-gradient(90deg,#2686f4,#2686f4,#18aadc,#57c88a,#eabd38,#f9c828,#f9c927,#f9cb27,#f9cd26,#f9ce25,#f8d024,#f8d223,#f8d422,#f8d621,#f8d720,#f8d91f,#f8da1f,#f8d91f,#f8da1f,#f8da1f,#f8d91f,#f8da1f,#f8d91f,#f8da1f,#f8da1f,#f8d91f,#f8da1f,#f8da1f,#f8da1f,#f8da1f,#f8da1f,#f8da1f,#f8da1f,#f8da1f,#f8da1f,#f8da1f,#f8da1f,#f8d91f,#f9d024,#fabe2d,#ebbd38,#40c59c,#2589f3,#356bf9,#336ffa,#1e97ec,#37c4a3,#c9c249,#fabe2d,#fabf2c,#fac12c,#fac12b,#fac22b,#fac32a,#fac42a,#f9c42a,#f9c529,#f9c629,#f9c629,#f9c729,#f9c728,#f9c828,#f9c828,#f9c928,#f9c927,#f9ca27,#f9ca27,#f9ca27,#f9cb27,#f9cb26,#f9cc26,#f9cc26,#f9cc26,#f9cd26,#f9cd25,#f9cd25,#f9ce25,#f9ce25,#f9ce25,#f9cf25,#f9cf25,#f9cf24,#f9d024,#f9d024,#f9d024,#f8be2f,#69ca7d,#1d9aeb,#3074f9,#2d78f8,#18aed8,#6fc979,#f4be32,#f9c828,#f9ca27,#f9cb26,#f9cc26,#f9cc26,#f9cd25,#f9ce25,#f9ce25,#f9cf25,#f9cf24,#f8d024,#f8d024,#f8d123,#f8d223,#f9cf24,#f9c52a,#f7be2f)"></i>
<i style="top:58.0px;height:2.6px;background:linear-gradient(90deg,#2686f4,#2686f4,#1ba1e5,#27bfb5,#7ac974,#cfc146,#d2c044,#d7c042,#dbbf40,#dfbe3e,#e3be3c,#e7bd3a,#e9bd39,#eabd39,#ebbd38,#ecbd37,#ecbd37,#ecbd37,#ecbd37,#ecbd37,#ecbd37,#ecbd37,#ecbd37,#ecbd37,#ecbd37,#ecbd37,#ecbd37,#ecbd37,#ecbd37,#ecbd37,#ecbd37,#ecbd37,#ecbd37,#ecbd37,#ecbd37,#ecbd37,#ecbd37,#ecbd37,#e0be3e,#b3c553,#70c979,#1ab7ca,#2980f7,#356af9,#336efa,#238df1,#19b6cc,#45c698,#7ec971,#83c86e,#86c86c,#87c86c,#87c86c,#88c86c,#87c86c,#88c86b,#88c86c,#87c86c,#88c86c,#87c86c,#87c86c,#87c86c,#86c86d,#86c86d,#85c86d,#84c86e,#84c86e,#82c86f,#82c86f,#85c86d,#88c86b,#8cc869,#8ec868,#92c866,#95c764,#97c763,#9bc761,#9ec75f,#a0c75d,#a4c75b,#a6c65a,#a9c658,#acc656,#afc655,#b1c654,#7ec971,#24bdb9,#228ff0,#3073f9,#3074f9,#1e99ec,#24bdb9,#84c86e,#bdc44f,#c3c34b,#c6c24a,#c8c249,#c9c248,#cbc248,#ccc147,#cec146,#cfc146,#d0c145,#d2c145,#d2c044,#d4c043,#d5c043,#d0c145,#b8c551,#9ac761)"></i>
<i style="top:60.0px;height:2.6px;background:linear-gradient(90deg,#2686f4,#2686f4,#2094ee,#19a7df,#1ab6cb,#25beb7,#25beb8,#25beb8,#25beb9,#25beb8,#26beb7,#27bfb5,#27bfb4,#28c0b3,#29c0b1,#29c1b0,#2ac1b0,#2ac1b0,#2ac1b0,#2ac1b0,#2ac1b0,#2ac1b0,#2ac1b0,#2ac1b0,#2ac1b0,#2ac1b0,#2ac1b0,#2ac1b0,#2ac1b0,#2ac1b0,#2ac1b0,#2ac1b0,#2ac1af,#2ac1b0,#2ac1af,#2ac1af,#2ac1b0,#29c1b0,#24bdb9,#1bb7ca,#18add9,#2290f0,#3172f9,#3863f7,#3667f8,#2c7bf8,#2093ee,#1aa4e2,#18add9,#18aed8,#17aed8,#17aed8,#17aed8,#17aed8,#18aed8,#18aed8,#18aed8,#18add9,#18add9,#18add9,#18add9,#18add9,#18acda,#18acda,#18acda,#18acda,#18abdb,#18abdb,#18abdb,#18abdb,#18acda,#18add9,#18add9,#18aed8,#17aed8,#17afd7,#17afd7,#17b0d6,#17b0d6,#17b1d5,#17b2d4,#16b2d4,#16b3d3,#16b3d3,#16b4d2,#17aed8,#1c9cea,#2a7ef7,#336ef9,#3569f8,#2c7af8,#1f95ed,#17afd7,#1bb8c8,#1eb9c5,#1eb9c4,#1eb9c3,#1fbac3,#1fbac2,#1fbac2,#1fbac2,#20bac1,#20bac1,#20bbc0,#20bbc0,#21bbbe,#23bcbc,#23bcbc,#20bac1,#1cb8c7)"></i>
<i style="top:62.0px;height:2.6px;background:linear-gradient(90deg,#2980f6,#297ff7,#2981f6,#2981f6,#2b7df7,#2b7cf7,#2d78f8,#3172fa,#3766f7,#3864f7,#3668f8,#3668f8,#3865f7,#3765f7,#3569f8,#356af8,#3766f8,#3766f7,#3569f8,#356af9,#3767f8,#3765f7,#3668f8,#356af9,#3668f8,#3765f7,#3668f8,#356bf9,#3668f8,#3765f7,#3667f8,#356bf9,#3669f8,#3766f7,#3767f8,#356af9,#3569f8,#3765f7,#3962f6,#3b5ef6,#3f53f0,#4638db,#4228bf,#4226bc,#4228c0,#4432d0,#4440e2,#4051ef,#3d5af4,#3e58f4,#3e56f3,#3d5af4,#3c5cf5,#3d59f4,#3e56f3,#3e59f4,#3c5cf5,#3d5af4,#3f56f2,#3e57f4,#3d5bf5,#3d5af4,#3f55f2,#3f56f3,#3d5af4,#3d5af4,#3f55f2,#3f55f2,#3e59f4,#3d5af4,#3e56f3,#3f55f2,#3d59f4,#3c5bf5,#3e58f4,#3e56f3,#3d5af4,#3c5cf5,#3d5af5,#3e58f4,#3d5af5,#3b5ef5,#3c5cf5,#3e59f4,#3d5bf5,#3c5bf5,#404fed,#4537d9,#432ac3,#4227be,#442eca,#463bdf,#4052f0,#3a60f6,#3963f7,#3a60f6,#3a5ff6,#3963f7,#3864f7,#3961f6,#3a5ff6,#3963f7,#3865f7,#3962f7,#3a60f6,#346cf9,#2f75f9,#2d7af8,#2b7df7,#2784f5)"></i>
<i style="top:64.0px;height:2.6px;background:linear-gradient(90deg,#2f75f9,#3074f9,#3271fa,#3864f7,#414ceb,#453ee1,#4535d5,#4226bc,#4226bc,#4226bc,#4226bc,#4226bc,#4226bc,#4226bc,#4226bc,#4226bc,#4226bc,#4226bc,#4226bc,#4226bc,#4226bc,#4226bc,#4226bc,#4226bc,#4226bc,#4226bc,#4226bc,#4226bc,#4226bc,#4226bc,#4226bc,#4226bc,#4226bc,#4226bc,#4226bc,#4226bc,#4226bc,#4226bc,#4226bc,#4226bc,#4226bc,#4226bc,#4226bc,#4226bc,#4226bc,#4226bc,#4226bc,#4226bc,#4226bc,#4226bc,#4226bc,#4226bc,#4226bc,#4226bc,#4226bc,#4226bc,#4226bc,#4226bc,#4226bc,#4226bc,#4226bc,#4226bc,#4226bc,#4226bc,#4226bc,#4226bc,#4226bc,#4226bc,#4226bc,#4226bc,#4226bc,#4226bc,#4226bc,#4226bc,#4226bc,#4226bc,#4226bc,#4226bc,#4226bc,#4226bc,#4226bc,#4226bc,#4226bc,#4226bc,#4226bc,#4226bc,#4226bc,#4226bc,#4226bc,#4226bc,#4226bc,#4226bc,#4226bc,#4226bc,#4226bc,#4226bc,#4226bc,#4226bc,#4226bc,#4226bc,#4226bc,#4226bc,#4226bc,#4226bc,#4226bc,#4226bc,#4431ce,#463ade,#4346e7,#3b5df5)"></i>
<i style="top:66.0px;height:2.6px;background:linear-gradient(90deg,#2f75f9,#2f75f9,#2f75f9,#3074f9,#326ffa,#356af8,#3864f7,#3b5ef5,#3e57f3,#3f55f1,#3f55f2,#3f55f2,#3f54f1,#3f55f1,#3f55f2,#3f55f2,#3f55f2,#3f54f1,#3f55f2,#3f55f2,#3f55f2,#3f54f1,#3f55f2,#3f55f2,#3f55f2,#3f54f1,#3f55f2,#3f55f2,#3f55f2,#3f55f1,#3f55f2,#3f56f2,#3f55f2,#3f55f1,#3f55f2,#3f55f2,#3f55f2,#3f54f1,#4052ef,#414eed,#4346e7,#463bdf,#4535d5,#4533d1,#4535d6,#463bdf,#4345e6,#414dec,#4052f0,#3f53f1,#3f54f1,#3f54f1,#3f55f2,#3f55f2,#3f54f1,#3f55f1,#3f55f2,#3f55f2,#3f54f1,#3f54f1,#3f55f2,#3f55f2,#3f54f1,#3f54f1,#3f55f2,#3f55f2,#3f54f1,#3f54f1,#3f55f2,#3f55f2,#3f54f1,#3f54f1,#3f55f2,#3f55f2,#3f55f1,#3f54f1,#3f55f2,#3f55f2,#3f55f2,#3f54f1,#3f55f1,#3f55f2,#3f55f2,#3f54f1,#3f54f1,#3f54f1,#404fee,#4345e6,#4639dc,#4533d2,#4535d5,#453ee1,#424aea,#4052f0,#3f55f1,#3f55f1,#3f54f1,#3f55f2,#3f55f2,#3f55f2,#3f54f1,#3f55f2,#3f55f2,#3f55f2,#3f54f1,#3c5cf5,#3962f7,#3668f8,#336df9,#3172f9)"></i>
<i style="top:68.0px;height:2.6px;background:linear-gradient(90deg,#2f75f9,#2f75f9,#2f75f9,#2f75f9,#2f75f9,#3074f9,#3074f9,#3074f9,#3073f9,#3073f9,#3073f9,#3073f9,#3073f9,#3073f9,#3073f9,#3073f9,#3073f9,#3073f9,#3073f9,#3073f9,#3073f9,#3073f9,#3073f9,#3073f9,#3073f9,#3073f9,#3073f9,#3073f9,#3073f9,#3073f9,#3073f9,#3073f9,#3073f9,#3073f9,#3073f9,#3073f9,#3073f9,#3073f9,#3172fa,#3270fa,#346bf9,#3865f7,#3b5ff6,#3c5cf5,#3b5ff6,#3865f7,#346bf9,#3270fa,#3172fa,#3073f9,#3073f9,#3073f9,#3073f9,#3073f9,#3073f9,#3073f9,#3073f9,#3073f9,#3073f9,#3073f9,#3073f9,#3073f9,#3073f9,#3073f9,#3073f9,#3073f9,#3073f9,#3073f9,#3073f9,#3073f9,#3073f9,#3073f9,#3073f9,#3073f9,#3073f9,#3073f9,#3073f9,#3073f9,#3073f9,#3073f9,#3073f9,#3073f9,#3073f9,#3073f9,#3073f9,#3073f9,#3171fa,#346cf9,#3963f7,#3c5df5,#3b5ff6,#3767f8,#336ffa,#3172fa,#3073f9,#3073f9,#3073f9,#3073f9,#3073f9,#3073f9,#3073f9,#3073f9,#3073f9,#3073f9,#3073f9,#3074f9,#3074f9,#3074f9,#2f75f9,#2f75f9)"></i>
<i style="top:70.0px;height:2.6px;background:linear-gradient(90deg,#356bf9,#356bf9,#356bf9,#356bf9,#356bf9,#356bf9,#356bf9,#356bf9,#356bf9,#356bf9,#356bf9,#356bf9,#356bf9,#356bf9,#356bf9,#356bf9,#356bf9,#356bf9,#356bf9,#356bf9,#356bf9,#356bf9,#356bf9,#356bf9,#356bf9,#356bf9,#356bf9,#356bf9,#356bf9,#356bf9,#356bf9,#356bf9,#356bf9,#356bf9,#356bf9,#356bf9,#356bf9,#356af9,#3569f8,#3667f8,#3863f7,#3b5ef6,#3d5af4,#3e58f4,#3d5af4,#3b5ef6,#3863f7,#3667f8,#3569f8,#356af9,#356bf9,#356bf9,#356bf9,#356bf9,#356bf9,#356bf9,#356bf9,#356bf9,#356bf9,#356bf9,#356bf9,#356bf9,#356bf9,#356bf9,#356bf9,#356bf9,#356bf9,#356bf9,#356bf9,#356bf9,#356bf9,#356bf9,#356bf9,#356bf9,#356bf9,#356bf9,#356bf9,#356bf9,#356bf9,#356bf9,#356bf9,#356bf9,#356bf9,#356bf9,#356bf9,#356af9,#3668f8,#3864f7,#3b5df5,#3e58f4,#3d5af4,#3a60f6,#3766f7,#3569f8,#356af9,#356bf9,#356bf9,#356bf9,#356bf9,#356bf9,#356bf9,#356bf9,#356bf9,#356bf9,#356bf9,#356bf9,#356bf9,#356bf9,#356bf9,#356bf9)"></i>
<i style="top:72.0px;height:2.6px;background:linear-gradient(90deg,#3f54f1,#3f54f1,#3f54f1,#3f54f1,#3f54f1,#3f54f1,#3f54f1,#3f54f1,#3f54f1,#3f54f1,#3f54f1,#3f54f1,#3f54f1,#3f54f1,#3f54f1,#3f54f1,#3f54f1,#3f54f1,#3f54f1,#3f54f1,#3f54f1,#3f54f1,#3f54f1,#3f54f1,#3f54f1,#3f54f1,#3f54f1,#3f54f1,#3f54f1,#3f54f1,#3f54f1,#3f54f1,#3f54f1,#3f54f1,#3f54f1,#3f54f1,#3f54f1,#3f54f1,#3f53f0,#4051ef,#414dec,#4249e9,#4345e6,#4344e5,#4345e6,#4249e9,#414eec,#4051ef,#3f53f0,#3f54f1,#3f54f1,#3f54f1,#3f54f1,#3f54f1,#3f54f1,#3f54f1,#3f54f1,#3f54f1,#3f54f1,#3f54f1,#3f54f1,#3f54f1,#3f54f1,#3f54f1,#3f54f1,#3f54f1,#3f54f1,#3f54f1,#3f54f1,#3f54f1,#3f54f1,#3f54f1,#3f54f1,#3f54f1,#3f54f1,#3f54f1,#3f54f1,#3f54f1,#3f54f1,#3f54f1,#3f54f1,#3f54f1,#3f54f1,#3f54f1,#3f54f1,#3f53f1,#4052ef,#414eed,#4248e8,#4344e5,#4345e6,#424aea,#4050ee,#3f53f0,#3f54f1,#3f54f1,#3f54f1,#3f54f1,#3f54f1,#3f54f1,#3f54f1,#3f54f1,#3f54f1,#3f54f1,#3f54f1,#3f54f1,#3f54f1,#3f54f1,#3f54f1,#3f54f1)"></i>
<i style="top:74.0px;height:2.6px;background:linear-gradient(90deg,#4536d8,#4536d8,#4536d8,#4536d8,#4536d8,#4536d8,#4536d8,#4536d8,#4536d8,#4536d8,#4536d8,#4536d8,#4536d8,#4536d8,#4536d8,#4536d8,#4536d8,#4536d8,#4536d8,#4536d8,#4536d8,#4536d8,#4536d8,#4536d8,#4536d8,#4536d8,#4536d8,#4536d8,#4536d8,#4536d8,#4536d8,#4536d8,#4536d8,#4536d8,#4536d8,#4536d8,#4536d8,#4536d7,#4536d7,#4535d5,#4534d3,#4432d0,#4430cd,#442fcc,#4430cd,#4432d0,#4534d3,#4535d6,#4536d7,#4536d8,#4536d8,#4536d8,#4536d8,#4536d8,#4536d8,#4536d8,#4536d8,#4536d8,#4536d8,#4536d8,#4536d8,#4536d8,#4536d8,#4536d8,#4536d8,#4536d8,#4536d8,#4536d8,#4536d8,#4536d8,#4536d8,#4536d8,#4536d8,#4536d8,#4536d8,#4536d8,#4536d8,#4536d8,#4536d8,#4536d8,#4536d8,#4536d8,#4536d8,#4536d8,#4536d8,#4536d7,#4535d6,#4534d3,#4431cf,#4430cc,#4430cd,#4432d1,#4535d5,#4536d7,#4536d8,#4536d8,#4536d8,#4536d8,#4536d8,#4536d8,#4536d8,#4536d8,#4536d8,#4536d8,#4536d8,#4536d8,#4536d8,#4536d8,#4536d8,#4536d8)"></i>
<i style="top:76.0px;height:2.6px;background:linear-gradient(90deg,#4534d4,#4534d4,#4534d4,#4534d4,#4534d4,#4534d4,#4534d4,#4534d4,#4534d4,#4534d4,#4534d4,#4534d4,#4534d4,#4534d4,#4534d4,#4534d4,#4534d4,#4534d4,#4534d4,#4534d4,#4534d4,#4534d4,#4534d4,#4534d4,#4534d4,#4534d4,#4534d4,#4534d4,#4534d4,#4534d4,#4534d4,#4534d4,#4534d4,#4534d4,#4534d4,#4534d4,#4534d4,#4534d4,#4534d3,#4533d2,#4432d1,#4431cf,#4430cd,#4430cd,#4430cd,#4431cf,#4432d1,#4533d2,#4534d3,#4534d4,#4534d4,#4534d4,#4534d4,#4534d4,#4534d4,#4534d4,#4534d4,#4534d4,#4534d4,#4534d4,#4534d4,#4534d4,#4534d4,#4534d4,#4534d4,#4534d4,#4534d4,#4534d4,#4534d4,#4534d4,#4534d4,#4534d4,#4534d4,#4534d4,#4534d4,#4534d4,#4534d4,#4534d4,#4534d4,#4534d4,#4534d4,#4534d4,#4534d4,#4534d4,#4534d4,#4534d4,#4533d3,#4432d1,#4431ce,#4430cd,#4430cd,#4431cf,#4533d2,#4534d3,#4534d4,#4534d4,#4534d4,#4534d4,#4534d4,#4534d4,#4534d4,#4534d4,#4534d4,#4534d4,#4534d4,#4534d4,#4534d4,#4534d4,#4534d4,#4534d4)"></i>
<i style="top:78.0px;height:2.6px;background:linear-gradient(90deg,#4432d0,#4432d0,#4432d0,#4432d0,#4432d0,#4432d0,#4432d0,#4432d0,#4432d0,#4432d0,#4432d0,#4432d0,#4432d0,#4432d0,#4432d0,#4432d0,#4432d0,#4432d0,#4432d0,#4432d0,#4432d0,#4432d0,#4432d0,#4432d0,#4432d0,#4432d0,#4432d0,#4432d0,#4432d0,#4432d0,#4432d0,#4432d0,#4432d0,#4432d0,#4432d0,#4432d0,#4432d0,#4431d0,#4431cf,#4431cf,#4431ce,#4430cd,#442fcc,#442fcb,#442fcc,#4430cd,#4431ce,#4431cf,#4431cf,#4432d0,#4432d0,#4432d0,#4432d0,#4432d0,#4432d0,#4432d0,#4432d0,#4432d0,#4432d0,#4432d0,#4432d0,#4432d0,#4432d0,#4432d0,#4432d0,#4432d0,#4432d0,#4432d0,#4432d0,#4432d0,#4432d0,#4432d0,#4432d0,#4432d0,#4432d0,#4432d0,#4432d0,#4432d0,#4432d0,#4432d0,#4432d0,#4432d0,#4432d0,#4432d0,#4432d0,#4431d0,#4431cf,#4431ce,#4430cd,#442fcc,#442fcc,#4430cd,#4431cf,#4431cf,#4432d0,#4432d0,#4432d0,#4432d0,#4432d0,#4432d0,#4432d0,#4432d0,#4432d0,#4432d0,#4432d0,#4432d0,#4432d0,#4432d0,#4432d0,#4432d0)"></i>
<i style="top:80.0px;height:2.6px;background:linear-gradient(90deg,#4533d1,#4533d1,#4533d1,#4533d1,#4533d1,#4533d1,#4533d1,#4533d1,#4533d1,#4533d1,#4533d1,#4533d1,#4533d1,#4533d1,#4533d1,#4533d1,#4533d1,#4533d1,#4533d1,#4533d1,#4533d1,#4533d1,#4533d1,#4533d1,#4533d1,#4533d1,#4533d1,#4533d1,#4533d1,#4533d1,#4533d1,#4533d1,#4533d1,#4533d1,#4533d1,#4533d1,#4533d1,#4432d1,#4432d1,#4432d1,#4432d0,#4432d0,#4431cf,#4431cf,#4431cf,#4432d0,#4432d0,#4432d1,#4432d1,#4533d1,#4533d1,#4533d1,#4533d1,#4533d1,#4533d1,#4533d1,#4533d1,#4533d1,#4533d1,#4533d1,#4533d1,#4533d1,#4533d1,#4533d1,#4533d1,#4533d1,#4533d1,#4533d1,#4533d1,#4533d1,#4533d1,#4533d1,#4533d1,#4533d1,#4533d1,#4533d1,#4533d1,#4533d1,#4533d1,#4533d1,#4533d1,#4533d1,#4533d1,#4533d1,#4533d1,#4432d1,#4432d1,#4432d0,#4432d0,#4431cf,#4431cf,#4432d0,#4432d1,#4432d1,#4533d1,#4533d1,#4533d1,#4533d1,#4533d1,#4533d1,#4533d1,#4533d1,#4533d1,#4533d1,#4533d1,#4533d1,#4533d1,#4533d1,#4533d1,#4533d1)"></i>
<i style="top:82.0px;height:2.6px;background:linear-gradient(90deg,#463ade,#463ade,#463ade,#463ade,#463ade,#463ade,#463ade,#463ade,#463ade,#463ade,#463ade,#463ade,#463ade,#463ade,#463ade,#463ade,#463ade,#463ade,#463ade,#463ade,#463ade,#463ade,#463ade,#463ade,#463ade,#463ade,#463ade,#463ade,#463ade,#463ade,#463ade,#463ade,#463ade,#463ade,#463ade,#463ade,#463add,#463add,#463add,#463add,#4639dd,#4639dd,#4639dc,#4639dc,#4639dc,#4639dd,#4639dd,#463add,#463add,#463add,#463ade,#463ade,#463ade,#463ade,#463ade,#463ade,#463ade,#463ade,#463ade,#463ade,#463ade,#463ade,#463ade,#463ade,#463ade,#463ade,#463ade,#463ade,#463ade,#463ade,#463ade,#463ade,#463ade,#463ade,#463ade,#463ade,#463ade,#463ade,#463ade,#463ade,#463ade,#463ade,#463ade,#463ade,#463ade,#463add,#463add,#4639dd,#4639dd,#4639dc,#4639dc,#4639dd,#4639dd,#463add,#463add,#463ade,#463ade,#463ade,#463ade,#463ade,#463ade,#463ade,#463ade,#463ade,#463ade,#463ade,#463ade,#463ade,#463ade,#463ade)"></i>
<i style="top:84.0px;height:1.3px;background:linear-gradient(90deg,#453fe1,#453fe1,#453fe1,#453fe1,#453fe1,#453fe1,#453fe1,#453fe1,#453fe1,#453fe1,#453fe1,#453fe1,#453fe1,#453fe1,#453fe1,#453fe1,#453fe1,#453fe1,#453fe1,#453fe1,#453fe1,#453fe1,#453fe1,#453fe1,#453fe1,#453fe1,#453fe1,#453fe1,#453fe1,#453fe1,#453fe1,#453fe1,#453fe1,#453fe1,#453fe1,#453fe1,#453fe1,#453fe1,#453fe1,#453ee1,#453ee1,#453ee1,#453ee1,#453ee1,#453ee1,#453ee1,#453ee1,#453ee1,#453fe1,#453fe1,#453fe1,#453fe1,#453fe1,#453fe1,#453fe1,#453fe1,#453fe1,#453fe1,#453fe1,#453fe1,#453fe1,#453fe1,#453fe1,#453fe1,#453fe1,#453fe1,#453fe1,#453fe1,#453fe1,#453fe1,#453fe1,#453fe1,#453fe1,#453fe1,#453fe1,#453fe1,#453fe1,#453fe1,#453fe1,#453fe1,#453fe1,#453fe1,#453fe1,#453fe1,#453fe1,#453fe1,#453fe1,#453ee1,#453ee1,#453ee1,#453ee1,#453ee1,#453ee1,#453fe1,#453fe1,#453fe1,#453fe1,#453fe1,#453fe1,#453fe1,#453fe1,#453fe1,#453fe1,#453fe1,#453fe1,#453fe1,#453fe1,#453fe1,#453fe1,#453fe1)"></i>
</div>
<div class="pn" style="left:168.40px;top:221.90px;width:109.50px;height:84.70px">
<i style="top:0.0px;height:2.6px;background:linear-gradient(90deg,#4249e9,#463bdf,#3f55f2,#453ee1,#4345e6,#3f52f0,#4638db,#4051ef,#4347e7,#453cdf,#3f56f3,#463bdf,#4248e8,#4050ee,#4638db,#3f53f1,#4443e5,#453fe1,#3f56f2,#4639dd,#414ceb,#414dec,#4639dc,#3f55f2,#4440e2,#4442e4,#3f54f1,#4638db,#404fed,#424ae9,#463ade,#3f56f3,#453de0,#4345e6,#4052f0,#4638db,#4052ef,#4346e7,#453ce0,#3f56f3,#463ade,#4249e9,#4050ee,#4638db,#3f54f1,#4443e4,#453fe2,#3f55f2,#4639dc,#414ceb,#414cec,#4639dc,#3f55f2,#453fe2,#4443e4,#3f54f1,#4638db,#404fee,#4249e9,#463ade,#3f56f3,#453ce0,#4346e7,#4052ef,#4638db,#4052f0,#4346e6,#453de0,#3f56f3,#463ade,#424ae9,#404fed,#4638db,#3f54f1,#4442e4,#4440e2,#3f55f2,#4639dc,#414dec,#414ceb,#4639dd,#3f55f2,#453fe2,#4443e5,#3f54f1,#4638db,#4050ee,#4248e9,#463bdf,#3f56f3,#453cdf,#4347e7,#4051ef,#4638db,#3f52f0,#4345e6,#453de0,#3f56f2,#463ade,#424aea,#414eed,#4638db,#3f54f1,#4441e3,#4440e3,#3f55f2,#4639dc,#414dec,#414beb,#463ade)"></i>
<i style="top:2.0px;height:2.6px;background:linear-gradient(90deg,#414cec,#4638db,#3c5cf5,#463bdf,#4346e7,#3d59f4,#4535d5,#3e58f4,#4249e9,#4639dd,#3b5df5,#4638db,#424bea,#3f56f3,#4535d5,#3d5af5,#4343e5,#453de0,#3c5df5,#4536d8,#4050ee,#4052ef,#4536d7,#3c5cf5,#453fe1,#4442e4,#3c5bf5,#4535d6,#3f54f1,#414dec,#4537da,#3b5df5,#463ade,#4347e7,#3e59f4,#4535d5,#3e58f4,#4248e8,#463ade,#3b5df5,#4638da,#414ceb,#3f55f2,#4535d5,#3d5bf5,#4443e4,#453ee1,#3c5df5,#4536d7,#4051ef,#4051ef,#4536d7,#3c5df5,#453ee1,#4443e4,#3d5bf5,#4535d5,#3f55f2,#414ceb,#4638da,#3b5df5,#463ade,#4248e8,#3e58f4,#4535d5,#3e59f4,#4347e7,#463ade,#3b5df5,#4638da,#414dec,#3f55f2,#4535d6,#3c5bf5,#4442e4,#453fe1,#3c5cf5,#4536d7,#4051ef,#4050ee,#4536d8,#3c5df5,#453de0,#4443e5,#3d5bf5,#4535d5,#3f56f2,#414bea,#4638db,#3b5ef5,#4639dd,#4248e9,#3e58f4,#4535d5,#3d59f4,#4346e7,#463bdf,#3b5df5,#4537d9,#414dec,#3f54f1,#4535d6,#3c5cf5,#4441e3,#453fe2,#3c5cf5,#4536d7,#4052f0,#404fed,#4537d9)"></i>
<i style="top:4.0px;height:2.6px;background:linear-gradient(90deg,#4051ef,#4537d8,#3864f7,#463ade,#4248e8,#3a60f6,#4432d0,#3b5ef6,#414ceb,#4638da,#3766f7,#4536d8,#404fed,#3c5cf5,#4432d0,#3962f6,#4345e6,#453ce0,#3865f7,#4534d4,#3f55f2,#3e58f4,#4533d2,#3864f7,#453ee1,#4442e4,#3963f7,#4432d1,#3d5bf5,#4051ef,#4535d6,#3766f7,#4639dd,#4249e9,#3a60f6,#4432d0,#3a5ff6,#424bea,#4639db,#3766f7,#4536d7,#4050ee,#3c5cf5,#4432d1,#3962f7,#4344e5,#453de0,#3865f7,#4534d3,#3e57f3,#3e57f3,#4534d3,#3865f7,#453ee1,#4344e5,#3963f7,#4432d1,#3c5cf5,#4050ee,#4536d7,#3766f7,#4639dc,#424aea,#3a5ff6,#4432d0,#3a60f6,#4249e9,#4639dc,#3766f7,#4536d6,#4051ef,#3d5bf5,#4432d1,#3963f7,#4443e4,#453ee1,#3864f7,#4533d3,#3e58f4,#3f56f2,#4534d4,#3865f7,#453ce0,#4345e6,#3962f6,#4432d0,#3c5cf5,#404fed,#4536d8,#3766f7,#4638db,#414beb,#3b5ef6,#4432d0,#3a60f6,#4248e8,#463add,#3766f7,#4535d6,#4052f0,#3d5af5,#4432d1,#3863f7,#4441e3,#453fe2,#3864f7,#4533d2,#3e58f4,#3f54f1,#4535d6)"></i>
<i style="top:6.0px;height:2.6px;background:linear-gradient(90deg,#3f56f2,#4536d7,#346cf9,#463ade,#424bea,#3667f8,#4430cd,#3865f7,#404fee,#4537d9,#336ef9,#4535d6,#3f53f0,#3962f7,#4430cd,#3569f8,#4347e8,#453ce0,#346df9,#4432d1,#3d5bf5,#3c5df5,#4432d0,#346cf9,#453fe2,#4344e5,#356af9,#4431ce,#3a61f6,#3e56f3,#4534d4,#336ef9,#4639dc,#414ceb,#3767f8,#4430cd,#3766f7,#414eed,#4638db,#336efa,#4535d6,#3f55f2,#3962f6,#4430ce,#356af8,#4346e7,#453ee1,#346df9,#4432d1,#3c5cf5,#3c5cf5,#4432d1,#346df9,#453ee1,#4346e7,#356af9,#4430ce,#3962f6,#3f55f2,#4535d6,#336efa,#4638db,#414eed,#3766f7,#4430cd,#3767f8,#414dec,#4639dc,#336efa,#4534d5,#3f56f3,#3a61f6,#4431ce,#356af9,#4344e6,#453fe2,#346cf9,#4432d0,#3c5df5,#3d5bf5,#4432d1,#346df9,#453de0,#4347e7,#3569f8,#4430cd,#3962f7,#3f53f1,#4535d6,#336efa,#4537da,#404fed,#3865f7,#4430cd,#3667f8,#414bea,#4639dd,#336ef9,#4534d3,#3e57f3,#3a60f6,#4431ce,#356bf9,#4443e5,#4440e3,#346cf9,#4431cf,#3b5df5,#3d59f4,#4534d3)"></i>
<i style="top:8.0px;height:2.6px;background:linear-gradient(90deg,#3d5af4,#4536d7,#3172fa,#463ade,#414eec,#336df9,#442fcb,#356af9,#3f53f0,#4537d9,#3073f9,#4535d6,#3e57f3,#3668f8,#442fcc,#326ffa,#424ae9,#453ee1,#3172f9,#4432d0,#3b5ff6,#3961f6,#4431cf,#3172fa,#4441e3,#4346e7,#3271fa,#4430cd,#3766f7,#3d5af5,#4534d4,#3073f9,#4639dd,#4050ee,#346df9,#442fcb,#346cf9,#4052ef,#4638db,#3073f9,#4535d6,#3d59f4,#3667f8,#4430cd,#3270fa,#4249e9,#4540e2,#3172f9,#4432d0,#3a60f6,#3a61f6,#4432d0,#3172f9,#4440e2,#4248e9,#3270fa,#4430cd,#3667f8,#3d59f4,#4535d5,#3073f9,#4639dc,#4052ef,#346cf9,#442fcc,#346df9,#4050ee,#4639dd,#3073f9,#4534d4,#3d5af5,#3766f8,#4430cd,#3271fa,#4347e7,#4441e3,#3172fa,#4431cf,#3961f6,#3a5ff6,#4432d0,#3172f9,#453ee1,#4249e9,#3270fa,#442fcc,#3668f8,#3e58f4,#4535d6,#3073f9,#4638da,#3f53f0,#356bf9,#442fcb,#336df9,#414eed,#463ade,#3073f9,#4533d3,#3c5bf5,#3865f7,#4430cd,#3271fa,#4345e6,#4442e4,#3171fa,#4431ce,#3962f7,#3b5df5,#4533d3)"></i>
<i style="top:10.0px;height:2.6px;background:linear-gradient(90deg,#3b5df5,#4536d8,#2f75f9,#453cdf,#4051ef,#3171fa,#442fcb,#326ffa,#3e57f3,#4638db,#2e77f8,#4536d7,#3d5bf5,#346cf9,#442fcc,#3073f9,#414dec,#4540e2,#2f76f9,#4432d1,#3963f7,#3766f7,#4431cf,#2f76f9,#4443e5,#4249e9,#3074f9,#4430cd,#356af9,#3b5ef6,#4535d5,#2e77f8,#463bdf,#3f54f1,#3171fa,#442fcc,#3271fa,#3f56f2,#463add,#2e77f8,#4536d7,#3c5df5,#346cf9,#4430cd,#3074f9,#414ceb,#4442e4,#2e76f9,#4533d1,#3865f7,#3765f7,#4533d1,#2f76f9,#4442e4,#414ceb,#3074f9,#4430ce,#346cf9,#3b5df5,#4536d7,#2e77f8,#463ade,#3f56f2,#3271fa,#4430cc,#3171fa,#3f54f1,#463bdf,#2e77f8,#4535d6,#3b5ef6,#356bf9,#4430ce,#3074f9,#424aea,#4443e5,#2f76f9,#4432d0,#3766f7,#3863f7,#4533d1,#2f76f9,#4440e3,#414dec,#3073f9,#4430cc,#346cf9,#3c5bf5,#4536d7,#2e77f8,#4638db,#3e56f3,#3270fa,#442fcb,#3171fa,#4051ef,#463bdf,#2e77f9,#4534d4,#3b5ff6,#3669f8,#4430cd,#3074f9,#4247e8,#4344e5,#2f75f9,#4431ce,#3766f8,#3961f6,#4534d4)"></i>
<i style="top:12.0px;height:2.6px;background:linear-gradient(90deg,#3a61f6,#4638db,#2d79f8,#453fe2,#3f55f2,#3074f9,#4430ce,#3172f9,#3d5af5,#463ade,#2c7af8,#4638da,#3b5ef6,#3271fa,#4431ce,#2f76f9,#4050ee,#4443e4,#2d79f8,#4534d4,#3767f8,#356af8,#4533d2,#2d79f8,#4347e7,#414dec,#2e77f8,#4432d0,#336ffa,#3962f7,#4537d9,#2c7af8,#453ee1,#3e58f4,#2f75f9,#4431cf,#3074f9,#3d5af4,#453de0,#2c7bf8,#4638db,#3961f6,#3271fa,#4432d1,#2e78f8,#4050ee,#4346e7,#2c7af8,#4535d5,#356af8,#356af8,#4535d5,#2c7af8,#4347e7,#4050ee,#2e78f8,#4432d1,#3271fa,#3962f6,#4638db,#2c7bf8,#453ee1,#3d5af5,#3074f9,#4432d0,#2f75f9,#3e59f4,#453fe1,#2c7bf8,#4537da,#3962f7,#3270fa,#4432d1,#2e78f8,#414eed,#4347e8,#2d79f8,#4534d3,#356af9,#3668f8,#4534d4,#2d7af8,#4344e5,#4051ef,#2e76f9,#4431cf,#3271fa,#3b5ff6,#4638da,#2c7af8,#463bde,#3d5af5,#3173f9,#4430ce,#3074f9,#3f55f2,#453ee1,#2d7af8,#4536d6,#3962f7,#336df9,#4431cf,#2e77f8,#424bea,#4247e8,#2d78f8,#4432d1,#356af9,#3865f7,#4535d6)"></i>
<i style="top:14.0px;height:2.6px;background:linear-gradient(90deg,#3864f7,#463bdf,#2c7cf7,#4443e4,#3d59f4,#2e77f8,#4533d1,#2f75f9,#3b5ef5,#453ee1,#2b7df7,#463ade,#3962f7,#3073f9,#4533d2,#2d79f8,#3f55f2,#4347e8,#2b7cf7,#4537d8,#346bf9,#336efa,#4536d7,#2b7cf7,#414beb,#4052ef,#2c7bf8,#4535d5,#3172f9,#3767f8,#463ade,#2a7ef7,#4443e5,#3c5cf5,#2e78f8,#4534d4,#2e77f8,#3b5ff6,#4442e4,#2a7ef7,#453ce0,#3766f7,#3074f9,#4535d6,#2c7bf8,#3f56f3,#414ceb,#2a7ef7,#4638db,#336ffa,#326ffa,#4638db,#2a7ef7,#414ceb,#3f56f3,#2c7bf7,#4536d7,#3074f9,#3767f8,#453de0,#2a7ff7,#4443e5,#3b5ff6,#2e78f8,#4535d5,#2d78f8,#3b5df5,#4344e5,#2a7ef7,#463bdf,#3667f8,#3073f9,#4535d6,#2c7bf8,#3f53f0,#414ceb,#2b7df7,#4536d8,#336ffa,#346cf9,#4537d9,#2b7df7,#4248e8,#3f55f2,#2d7af8,#4534d3,#3074f9,#3963f7,#463bdf,#2b7df7,#453fe1,#3b5ef6,#2f76f9,#4533d2,#2e77f8,#3d5af4,#4442e4,#2b7df7,#4638db,#3766f8,#3271fa,#4534d3,#2c7af8,#404fed,#414beb,#2c7bf8,#4535d5,#336efa,#3669f8,#4638da)"></i>
<i style="top:16.0px;height:2.6px;background:linear-gradient(90deg,#3668f8,#453fe2,#2a7ef7,#4347e7,#3c5df5,#2c7af8,#4535d6,#2e78f8,#3962f6,#4442e4,#2980f6,#453fe1,#3766f8,#2f76f9,#4536d7,#2b7cf7,#3d59f4,#414ceb,#297ff7,#463add,#3270fa,#3172fa,#4639dc,#2a7ff7,#4050ee,#3e57f3,#2a7ef7,#4638da,#2f75f9,#346bf9,#453fe2,#2881f6,#4248e9,#3961f6,#2c7bf7,#4638da,#2c7bf8,#3864f7,#4248e8,#2882f6,#4442e4,#346bf9,#2e78f8,#4639dd,#2a7ff7,#3c5cf5,#4052f0,#2882f6,#453de0,#3073f9,#3073f9,#453de0,#2882f6,#3f53f0,#3c5cf5,#2a7ff7,#463ade,#2e78f8,#346cf9,#4443e4,#2883f6,#4249e9,#3864f7,#2c7cf7,#4639dc,#2b7cf7,#3963f7,#424aea,#2882f6,#4441e3,#346cf9,#2e76f9,#4639dc,#2a7ff7,#3e59f4,#4052ef,#2980f6,#463ade,#3172f9,#3271fa,#463bdf,#2980f6,#414dec,#3d5af5,#2b7df7,#4537d9,#2e77f9,#3667f8,#4540e2,#2980f6,#4443e5,#3962f7,#2d78f8,#4536d7,#2c7af8,#3b5ef5,#4347e7,#2980f7,#463bdf,#356af9,#3074f9,#4536d8,#2b7df7,#3f53f1,#4050ee,#2a7ef7,#4537d9,#3171fa,#346df9,#463bde)"></i>
<i style="top:18.0px;height:2.6px;background:linear-gradient(90deg,#346cf9,#4443e5,#2981f6,#414beb,#3a60f6,#2b7df7,#4638db,#2c7bf8,#3766f7,#4347e7,#2883f6,#4343e5,#356af9,#2d79f8,#4639dd,#2a7ff7,#3b5ef5,#4051ef,#2883f6,#453ee1,#3173f9,#2f75f9,#453de0,#2882f6,#3f56f3,#3c5cf5,#2881f6,#453ce0,#2d79f8,#3270fa,#4345e6,#2686f4,#414fed,#3766f8,#2a7ff7,#453de0,#2a7ef7,#3669f8,#414eed,#2588f3,#4249e9,#3271fa,#2c7bf7,#4440e2,#2783f5,#3961f6,#3e59f4,#2687f4,#4344e5,#2e77f8,#2e77f8,#4344e6,#2687f4,#3d5af4,#3962f6,#2784f5,#4441e3,#2b7cf7,#3171fa,#424aea,#2589f3,#4050ee,#356af9,#297ff7,#453fe2,#2980f6,#3668f8,#4051ef,#2588f3,#4247e8,#3171fa,#2c7af8,#453fe1,#2882f6,#3b5ef6,#3e58f4,#2784f5,#4440e2,#2f76f9,#3074f9,#4440e3,#2784f5,#3f53f0,#3b5ff6,#2980f6,#463ade,#2d7af8,#346cf9,#4345e6,#2784f5,#4248e9,#3766f8,#2c7bf7,#4639dc,#2b7df7,#3962f6,#414beb,#2883f6,#4440e2,#336efa,#2f76f9,#4639dd,#2980f7,#3e58f4,#3f54f1,#2980f6,#463ade,#3074f9,#3270fa,#453fe2)"></i>
<i style="top:20.0px;height:2.6px;background:linear-gradient(90deg,#3270fa,#4248e8,#2784f5,#4050ee,#3864f7,#2a7ff7,#463cdf,#2b7df7,#356af8,#414ceb,#2687f4,#4248e8,#336efa,#2c7cf7,#453ee1,#2882f6,#3962f6,#3e56f3,#2687f4,#4344e5,#2f76f9,#2e78f8,#4443e5,#2687f4,#3c5bf5,#3a61f6,#2685f4,#4442e4,#2b7cf7,#3074f9,#414beb,#248bf2,#3f55f2,#346cf9,#2883f6,#4344e5,#2882f6,#336ffa,#3f56f2,#238df1,#4050ee,#2f75f9,#2980f7,#4247e8,#2589f3,#3668f8,#3a5ff6,#238df1,#414ceb,#2c7bf8,#2c7bf7,#414cec,#238ef1,#3a60f6,#3668f8,#248af2,#4249e9,#2980f6,#2f76f9,#4052f0,#228ff0,#3e58f4,#3270fa,#2784f5,#4347e7,#2785f5,#336ffa,#3e58f4,#238ef1,#404fed,#2f75f9,#2a7ef7,#4346e7,#2588f3,#3864f7,#3b5ef5,#2589f3,#4346e7,#2d79f8,#2e77f8,#4347e7,#2589f3,#3e59f4,#3864f7,#2783f5,#4440e2,#2b7df7,#3270fa,#424aea,#2588f3,#414eec,#356bf9,#2a7ef7,#453de0,#2980f6,#3766f7,#4050ee,#2687f4,#4345e6,#3172fa,#2d79f8,#453ee1,#2882f6,#3c5cf5,#3e59f4,#2783f5,#453fe1,#2e76f9,#3073f9,#4343e5)"></i>
<i style="top:22.0px;height:2.6px;background:linear-gradient(90deg,#3172f9,#414ceb,#2588f3,#3f55f2,#3668f8,#2882f6,#4441e3,#2980f7,#336ef9,#4051ef,#248bf2,#414dec,#3172fa,#2a7ef7,#4443e5,#2686f4,#3766f8,#3d5bf5,#248bf2,#4249e9,#2d79f8,#2c7bf8,#4249e9,#248cf2,#3a60f6,#3766f7,#248af2,#4249e9,#2980f7,#2e77f8,#4052f0,#2190ef,#3c5bf5,#3171fa,#2588f3,#414beb,#2588f3,#3073f9,#3c5cf5,#2093ee,#3e58f4,#2d79f8,#2785f5,#4050ee,#228ff0,#336efa,#3766f8,#2094ee,#3f55f2,#2980f7,#2980f6,#3f55f2,#2094ee,#3667f8,#326ffa,#2191ef,#4052ef,#2686f4,#2c7af8,#3d5af5,#1f96ed,#3a5ff6,#2f75f9,#248bf2,#404fed,#248bf2,#3073f9,#3b5ff6,#2094ee,#3e56f3,#2d79f8,#2882f6,#414dec,#238df1,#3569f8,#3863f7,#228ff0,#414dec,#2b7df7,#2c7bf8,#414dec,#238ef1,#3b5ef6,#3669f8,#2588f3,#4346e7,#2980f7,#3073f9,#4050ee,#238df1,#3f53f0,#326ffa,#2981f6,#4443e4,#2883f6,#356af8,#3f56f2,#248bf2,#424aea,#3074f9,#2c7bf7,#4443e4,#2686f4,#3a60f6,#3c5df5,#2687f4,#4443e5,#2d79f8,#2f75f9,#4248e8)"></i>
<i style="top:24.0px;height:2.6px;background:linear-gradient(90deg,#2f75f9,#4051ef,#248bf2,#3d59f4,#346cf9,#2785f5,#4346e6,#2882f6,#3171fa,#3f56f2,#228ff0,#3f52f0,#3074f9,#2981f6,#4248e8,#258af3,#356bf9,#3a5ff6,#228ff0,#404fee,#2c7bf7,#2a7ef7,#404fed,#2190ef,#3865f7,#356bf9,#228ff0,#404fee,#2783f5,#2c7af8,#3e59f4,#1f96ed,#3961f6,#2f75f9,#238ef1,#3f53f0,#238df1,#2e77f8,#3962f7,#1d99eb,#3b5ef6,#2b7df7,#248bf2,#3e58f4,#1f96ed,#3073f9,#346df9,#1d9aeb,#3c5cf5,#2785f5,#2685f4,#3c5df5,#1d9beb,#336efa,#3074f9,#1e97ec,#3d5af4,#238df1,#2a7ff7,#3961f6,#1c9cea,#3766f7,#2d79f8,#2191ef,#3e57f3,#2191ef,#2e78f8,#3865f7,#1d9aeb,#3b5df5,#2b7df7,#2588f3,#3f55f2,#2093ee,#326ffa,#3569f8,#2094ee,#3f54f1,#2980f6,#2a7ef7,#3f54f1,#2093ee,#3863f7,#336ef9,#238df1,#414ceb,#2883f6,#2f76f9,#3f55f2,#2191ef,#3e59f4,#3172f9,#2785f5,#4248e8,#2687f4,#336efa,#3d5af5,#228ef0,#404fed,#2e77f9,#2a7ef7,#4248e8,#248af2,#3864f7,#3a60f6,#248bf2,#4248e8,#2c7bf7,#2e78f8,#414dec)"></i>
<i style="top:26.0px;height:2.6px;background:linear-gradient(90deg,#2e77f8,#3f56f2,#228ff0,#3c5df5,#3270fa,#2589f3,#424aea,#2686f4,#3073f9,#3d5af4,#2092ee,#3e58f4,#2e77f8,#2784f5,#414eec,#238df1,#336ffa,#3864f7,#2093ee,#3f55f2,#2a7ef7,#2981f6,#3f55f2,#1f94ed,#356af8,#3270fa,#2094ee,#3f56f2,#2588f3,#2a7ef7,#3b5ef5,#1d9beb,#3767f8,#2d78f8,#2093ee,#3d59f4,#2093ee,#2c7bf8,#3668f8,#1b9ee8,#3864f7,#2981f6,#2190ef,#3b5ef6,#1c9cea,#2e77f8,#3172fa,#1b9fe7,#3963f7,#248bf2,#248bf2,#3863f7,#1ba0e6,#3073f9,#2d78f8,#1c9de9,#3a61f6,#2093ee,#2783f5,#3668f8,#1ba1e5,#346cf9,#2b7df7,#1e97ec,#3b5ef5,#1e97ec,#2c7bf7,#346bf9,#1b9fe7,#3863f7,#2981f6,#238df1,#3c5bf5,#1e98ec,#3073f9,#336ffa,#1d99eb,#3d5af5,#2784f5,#2882f6,#3d5af4,#1e97ec,#3668f8,#3171fa,#2191ef,#4051ef,#2687f4,#2d79f8,#3d5af5,#1f95ed,#3c5df5,#2f75f9,#2589f3,#414dec,#248bf2,#3171fa,#3b5ef6,#2192ef,#3f54f1,#2d79f8,#2980f6,#414cec,#238df1,#3667f8,#3864f7,#228ef0,#414dec,#2a7ef7,#2c7af8,#4051ef)"></i>
<i style="top:28.0px;height:2.6px;background:linear-gradient(90deg,#2d79f8,#3d5af4,#2192ef,#3a61f6,#3172f9,#238cf1,#404fed,#2589f3,#2f76f9,#3b5ef5,#1f96ed,#3c5cf5,#2d79f8,#2588f3,#3f53f0,#2191ef,#3172fa,#3668f8,#1e97ec,#3d5af4,#2881f6,#2784f5,#3d5af4,#1e98ec,#336efa,#3173f9,#1e98ec,#3d5bf5,#238cf1,#2981f6,#3963f7,#1b9ee8,#346bf9,#2c7bf7,#1e97ec,#3b5ef6,#1e97ec,#2a7ef7,#336ef9,#1aa2e4,#356af8,#2785f5,#1f95ed,#3864f7,#1ba0e6,#2c7bf8,#2f76f9,#1aa3e3,#3668f8,#2190ef,#2191ef,#3669f8,#1aa4e2,#2e77f8,#2b7cf7,#1ba1e5,#3766f8,#1e98ec,#2589f3,#336df9,#1aa5e1,#3171fa,#2981f6,#1c9cea,#3863f7,#1c9cea,#2a7ff7,#3270fa,#1aa2e4,#3668f8,#2685f4,#2192ef,#3a60f6,#1c9de9,#2f76f9,#3172f9,#1c9de9,#3a5ff6,#2589f3,#2685f4,#3b5ef6,#1c9bea,#346cf9,#3074f9,#2094ee,#3e56f3,#248af2,#2c7bf8,#3b5ef6,#1e98ec,#3a61f6,#2e78f8,#238cf1,#3f53f0,#228ef0,#3074f9,#3962f7,#1f96ed,#3e59f4,#2b7cf7,#2783f5,#4051ef,#2191ef,#346bf9,#3668f8,#2192ef,#4052ef,#2980f6,#2b7cf7,#3f56f3)"></i>
<i style="top:30.0px;height:2.6px;background:linear-gradient(90deg,#2c7bf8,#3c5bf5,#2093ee,#3864f7,#2f75f9,#228ff0,#4052f0,#248bf2,#2e77f8,#3961f6,#1d99eb,#3b5ff6,#2c7af8,#258af3,#3e57f3,#1f95ed,#3074f9,#356af9,#1e98ec,#3c5cf5,#2784f5,#2588f3,#3b5df5,#1d9aeb,#3270fa,#2f75f9,#1c9bea,#3b5ff6,#228ff0,#2882f6,#3765f7,#1ba1e5,#3270fa,#2a7ef7,#1d9aeb,#3a61f6,#1d9beb,#2981f6,#3171fa,#1aa5e1,#346cf9,#2588f3,#1d99eb,#3668f8,#1aa3e3,#2b7df7,#2e77f8,#19a6e0,#336df9,#2094ee,#2094ee,#346bf9,#19a6e0,#2d7af8,#2a7ff7,#1aa5e1,#3569f8,#1d9aeb,#248cf2,#3171fa,#19a8de,#3074f9,#2883f6,#1c9ee8,#3667f8,#1b9fe7,#2882f6,#3172f9,#1aa4e2,#346cf9,#2589f3,#1f96ed,#3864f7,#1b9ee8,#2e78f8,#2f75f9,#1ba0e6,#3863f7,#248bf2,#2687f4,#3961f6,#1b9ee8,#3270fa,#2e76f9,#1e97ec,#3d5af4,#238df1,#2b7df7,#3961f6,#1c9bea,#3865f7,#2c7af8,#2290f0,#3e57f4,#2192ef,#2e76f9,#3766f8,#1d99eb,#3c5cf5,#2a7ef7,#2687f4,#3e56f3,#2094ee,#336ffa,#346cf9,#1f95ed,#3e56f3,#2883f6,#2a7ff7,#3d5af5)"></i>
<i style="top:32.0px;height:2.6px;background:linear-gradient(90deg,#2c7bf8,#3f55f2,#228ff0,#3765f7,#2e77f9,#2191ef,#404fed,#2784f5,#2f76f9,#3864f7,#1c9cea,#3a5ff6,#2e77f8,#2785f5,#3e58f4,#1e97ec,#2f76f9,#3668f8,#2192ef,#3d5af4,#2686f4,#248af2,#3b5ef6,#1f95ed,#356bf9,#2f75f9,#1c9de9,#3961f6,#238df1,#2a7ef7,#3962f7,#1aa2e4,#3172fa,#2a7ff7,#1f95ed,#3d5bf5,#1d9aeb,#2883f6,#3073f9,#1aa3e3,#3766f7,#2784f5,#1d9aeb,#346bf9,#1aa3e3,#2c7af8,#3073f9,#1aa5e1,#3270fa,#1e97ec,#2093ee,#3765f7,#1aa3e3,#2c7af8,#2981f6,#1aa6e0,#3766f8,#2094ee,#248af2,#3073f9,#18aadc,#3074f9,#2a7ff7,#1d99eb,#3668f8,#1ba1e5,#2783f5,#3271fa,#1b9fe7,#356af8,#248bf2,#1e98ec,#3865f7,#1d9aeb,#3074f9,#2f75f9,#1aa2e4,#3766f7,#2589f3,#2881f6,#3b5ff6,#1b9fe7,#3172fa,#2e78f8,#1d99eb,#3c5cf5,#228ef0,#2a7ef7,#3864f7,#1c9de9,#3668f8,#2b7cf7,#2093ee,#3c5bf5,#1f95ed,#2d79f8,#356af8,#1c9cea,#3a60f6,#2980f6,#248af2,#3d5af5,#1e97ec,#3172fa,#3270fa,#1e98ec,#3d5af5,#2686f4,#2981f6,#3b5ef5)"></i>
<i style="top:34.0px;height:2.6px;background:linear-gradient(90deg,#2d78f8,#4442e4,#2882f6,#3863f7,#2e78f8,#2190ef,#4443e4,#2e78f8,#3271fa,#3865f7,#1c9cea,#3c5cf5,#346bf9,#2d7af8,#3f54f1,#1e98ec,#2f76f9,#3a5ff6,#2881f6,#414fed,#2686f4,#248bf2,#3c5bf5,#2687f4,#3d5af5,#3172fa,#1c9ee8,#3962f7,#2785f5,#3172fa,#3e57f3,#1ba1e5,#3173f9,#2b7df7,#2687f4,#4346e7,#2094ee,#2783f5,#3073f9,#1c9de9,#3f52f0,#2c7bf8,#1e98ec,#346df9,#1ba1e5,#3172fa,#3963f7,#1b9fe7,#3270fa,#1f96ed,#238df1,#4052f0,#1f96ed,#2d78f8,#2881f6,#1aa4e2,#3d5af4,#2882f6,#2882f6,#3073f9,#19aadc,#3270fa,#3073f9,#248bf2,#3765f7,#1ba1e5,#2882f6,#3766f8,#238df1,#3a60f6,#248af2,#1e99ec,#3a61f6,#248af2,#3767f8,#3172f9,#1aa3e3,#3766f7,#2981f6,#2f75f9,#3f54f1,#1b9fe7,#3073f9,#2d79f8,#1d99eb,#3c5cf5,#238ef1,#2a7ef7,#3865f7,#1b9ee8,#356af9,#2a7ef7,#1f95ed,#3b5ff6,#1e97ec,#2c7bf8,#336df9,#1b9ee8,#3864f7,#2883f6,#238df1,#3b5ef6,#1d9aeb,#3074f9,#3172fa,#1d9beb,#3b5ef6,#2589f3,#2784f5,#3962f6)"></i>
<i style="top:36.0px;height:2.6px;background:linear-gradient(90deg,#2e77f8,#4537d9,#2c7bf7,#3a61f6,#2e76f9,#238df1,#463bdf,#3270fa,#346bf9,#3863f7,#1d99eb,#3e59f4,#3a61f6,#3073f9,#4051ef,#1f95ed,#3074f9,#3d59f4,#2d79f8,#4347e7,#2883f6,#2588f3,#3e58f4,#2a7ef7,#414eec,#336ffa,#1d9aeb,#3a5ff6,#2980f7,#3766f8,#414eec,#1c9ee8,#3271fa,#2c7af8,#2a7ff7,#4639dc,#238ef1,#2980f6,#3171fa,#1f96ed,#4443e5,#2f75f9,#2093ee,#3669f8,#1c9de9,#3668f8,#3f55f2,#1e98ec,#346cf9,#2192ef,#2686f4,#4443e5,#248bf2,#2f75f9,#2a7ef7,#1b9fe7,#404fee,#2d79f8,#2b7df7,#3270fa,#1aa6e0,#356bf9,#3669f8,#2980f6,#3a61f6,#1c9de9,#2a7ff7,#3b5ef5,#2981f6,#3d59f4,#2686f4,#2094ee,#3c5cf5,#2980f7,#3c5cf5,#326ffa,#1b9fe7,#3963f7,#2b7cf7,#346bf9,#414ceb,#1c9ee8,#3074f9,#2d79f8,#1e98ec,#3c5bf5,#248bf2,#2b7df7,#3865f7,#1c9ee8,#346cf9,#2a7ff7,#1e97ec,#3962f7,#1d99eb,#2b7df7,#3271fa,#1ba0e6,#3668f8,#2785f5,#228ff0,#3962f6,#1c9cea,#2f76f9,#3074f9,#1c9de9,#3962f7,#248bf2,#2686f4,#3766f7)"></i>
<i style="top:38.0px;height:2.6px;background:linear-gradient(90deg,#2c7bf7,#4249e9,#2882f6,#3a60f6,#336ef9,#2687f4,#4347e7,#2d79f8,#3271fa,#3c5cf5,#238df1,#3d5af4,#346df9,#2c7af8,#4051ef,#2588f3,#336ffa,#3a60f6,#2981f6,#4051ef,#2b7df7,#2b7df7,#3e58f4,#2685f4,#3c5cf5,#336ffa,#238df1,#3e57f3,#2882f6,#3172fa,#3e58f4,#1f96ed,#3863f7,#2e77f8,#2785f5,#4248e8,#238df1,#2e78f8,#3767f8,#1e97ec,#3f53f0,#2d79f8,#238cf1,#3d5bf5,#1f96ed,#3270fa,#3962f6,#1e98ec,#3a61f6,#2785f5,#2685f4,#4052f0,#2191ef,#3172fa,#3074f9,#1e97ec,#3e58f4,#297ff7,#2a7ef7,#3765f7,#1d99eb,#356af9,#3172fa,#2687f4,#3b5ef5,#228ff0,#2d7af8,#3864f7,#248af2,#3b5ef6,#2a7ef7,#2686f4,#3c5cf5,#2687f4,#3767f8,#336ef9,#2192ef,#3d5bf5,#2a7ef7,#2f75f9,#3e58f4,#1b9fe7,#2f75f9,#2d79f8,#1f95ed,#3d5af4,#2587f3,#2c7bf8,#3864f7,#1c9cea,#336efa,#2980f6,#1e98ec,#3766f8,#1d9beb,#2a7ff7,#3073f9,#1ba1e5,#346cf9,#2588f3,#2191ef,#3766f8,#1c9de9,#2d78f8,#2e77f9,#1c9ee8,#3767f8,#238ef1,#2589f3,#356af9)"></i>
<i style="top:40.0px;height:2.6px;background:linear-gradient(90deg,#2882f6,#3865f7,#2191ef,#3b5ff6,#3c5df5,#2a7ff7,#3d5af5,#248af2,#2e78f8,#4051ef,#2a7ef7,#3b5df5,#2c7bf7,#2588f3,#3f54f1,#2c7af8,#3765f7,#346df9,#1f94ed,#3a60f6,#2e76f9,#3172fa,#3e59f4,#1f95ed,#3171fa,#3271fa,#2a7ef7,#424aea,#2588f3,#2980f6,#3767f8,#248bf2,#4051ef,#2f75f9,#2093ee,#3963f7,#228ef0,#346cf9,#3d59f4,#1d9aeb,#346cf9,#2882f6,#2784f5,#4346e7,#238ef1,#2d7af8,#2f75f9,#1d9aeb,#4052ef,#2d78f8,#2687f4,#356af8,#1c9de9,#336efa,#3864f7,#238df1,#3667f8,#2191ef,#2882f6,#3e59f4,#2687f4,#346cf9,#2a7ff7,#1f95ed,#3c5cf5,#2b7df7,#3173f9,#3270fa,#1c9cea,#3669f8,#2f76f9,#2d78f8,#3c5df5,#1e97ec,#2e77f9,#336ef9,#2980f6,#404fee,#2785f5,#2784f5,#3669f8,#1ba0e6,#2f76f9,#2d78f8,#2190ef,#3e59f4,#2883f6,#2d79f8,#3864f7,#1d9aeb,#3271fa,#2882f6,#1d99eb,#346cf9,#1c9cea,#2981f6,#2f76f9,#1ba2e4,#3271fa,#248bf2,#2093ee,#346df9,#1b9fe7,#2c7bf7,#2d7af8,#1b9fe7,#346df9,#2190ef,#248cf2,#3270fa)"></i>
<i style="top:42.0px;height:2.6px;background:linear-gradient(90deg,#2589f3,#3073f9,#1d99eb,#3766f8,#3a5ff6,#2980f7,#356af8,#1e97ec,#2a7ff7,#3d5bf5,#2a7ef7,#3669f8,#2687f4,#1f95ed,#3961f6,#2c7bf7,#346cf9,#2e77f8,#1ba0e6,#3270fa,#2d7af8,#3074f9,#3864f7,#1ba0e6,#2b7df7,#2e77f8,#2a7ff7,#3f56f2,#2191ef,#228ff0,#3074f9,#228ef0,#3d59f4,#2d7af8,#1c9de9,#3074f9,#2094ee,#3270fa,#3a60f6,#1b9fe7,#2d7af8,#238ef1,#2587f3,#4050ee,#2191ef,#2783f5,#2981f6,#1b9fe7,#3d5bf5,#2c7af8,#228ef0,#2d78f8,#1aa5e1,#3074f9,#3669f8,#2290f0,#2f75f9,#1c9de9,#248af2,#3a60f6,#2686f4,#3074f9,#248bf2,#1b9ee8,#3766f8,#2b7df7,#2f75f9,#2d79f8,#1aa5e1,#3074f9,#2e78f8,#2d79f8,#3767f8,#1ba0e6,#2980f6,#3074f9,#2a7ff7,#3e58f4,#238cf1,#2290f0,#3074f9,#1ba0e6,#2e78f8,#2d79f8,#248cf2,#3d59f4,#2a7ff7,#2e77f8,#3765f7,#1e98ec,#2f75f9,#2687f4,#1c9de9,#2f75f9,#1ba0e6,#2588f3,#2b7cf7,#1aa5e1,#2e78f8,#2191ef,#1d99eb,#2f75f9,#1aa2e4,#2881f6,#2980f6,#1aa3e3,#2f75f9,#1f96ed,#2192ef,#2e77f9)"></i>
<i style="top:44.0px;height:2.6px;background:linear-gradient(90deg,#228ef0,#2c7bf8,#1c9ee8,#2e76f9,#2e78f8,#2093ee,#2c7cf7,#1aa5e1,#2094ee,#2c7af8,#1c9bea,#2980f7,#1c9bea,#1aa5e1,#2b7cf7,#1d99eb,#2686f4,#248cf2,#17aed8,#2784f5,#1f95ed,#2191ef,#297ff7,#17afd7,#2094ee,#2190ef,#1b9fe7,#2c7bf8,#19a6e0,#1aa3e3,#248bf2,#19a8de,#2a7ff7,#1f95ed,#17aed8,#248bf2,#19aadc,#228ff0,#2882f6,#17b1d5,#2192ef,#1aa4e2,#1aa4e2,#2c7bf8,#18aadc,#1c9ee8,#1d9beb,#17b2d4,#2980f7,#1c9cea,#19a7df,#2192ef,#18b5ce,#2191ef,#238cf1,#18abdb,#238df1,#17afd7,#1aa3e3,#2981f6,#1aa5e1,#238cf1,#1ba0e6,#18add9,#2980f6,#1c9cea,#228ff0,#238df1,#17b1d5,#2687f4,#2191ef,#2094ee,#2a7ef7,#18abdb,#2093ee,#2687f4,#1d9aeb,#2e77f8,#1c9bea,#1c9cea,#2a7ef7,#1aa3e3,#2a7ef7,#2b7cf7,#2589f3,#3a5ff6,#2b7df7,#2e77f8,#346cf9,#1c9bea,#2981f6,#1c9bea,#18add9,#248af2,#17afd7,#1b9fe7,#2094ee,#16b4d2,#228ef0,#1aa5e1,#18abdb,#248bf2,#17b2d4,#1d9aeb,#1e99ec,#17b2d4,#248af2,#19a7df,#1aa4e2,#248af2)"></i>
<i style="top:46.0px;height:2.6px;background:linear-gradient(90deg,#1f95ed,#2784f5,#1ba1e5,#2686f4,#1f95ed,#18add9,#1ba0e6,#26beb7,#1cb8c8,#18aed8,#27bfb4,#17b0d6,#21bbbf,#29c0b2,#17afd7,#29c0b2,#1cb8c8,#1bb7c9,#38c4a2,#18b5cf,#27bfb5,#27bfb4,#18b5ce,#40c59b,#23bcbc,#24bdba,#3ac5a0,#1ab6cc,#39c5a1,#31c4a7,#20bbc0,#46c697,#1fbac2,#2ac1af,#48c696,#20bbc0,#45c697,#2ac1af,#22bcbd,#53c88d,#25beb7,#3ac5a0,#43c699,#1fbac3,#4fc790,#30c3a8,#2cc2ac,#58c989,#22bcbc,#3fc59c,#47c696,#28c0b3,#5fc984,#2cc2ac,#2dc3aa,#54c88c,#25beb8,#4cc793,#38c4a1,#20bbc0,#46c697,#22bcbd,#2bc2ad,#3fc59c,#19b6cd,#2fc3a8,#23bcbc,#1db8c7,#3bc59f,#18b5cf,#22bcbe,#25beb9,#17afd7,#2cc2ac,#1ab7ca,#16b4d2,#25beb8,#1aa6e0,#19b6cc,#16b3d3,#1c9cea,#16b2d4,#2190ef,#2686f4,#248af2,#356af9,#2a7ef7,#2c7af8,#2f75f9,#19a7df,#1aa4e2,#23bcbc,#44c699,#20bac1,#4ac794,#2dc3aa,#26beb6,#52c88e,#23bcbb,#39c5a1,#43c699,#22bcbe,#50c78f,#2bc1ae,#2ac1b0,#4dc792,#1eb9c4,#33c4a6,#2bc2ad,#1ab6cc)"></i>
<i style="top:48.0px;height:2.6px;background:linear-gradient(90deg,#1e98ec,#238cf1,#1ba1e5,#2093ee,#18acda,#2bc2ad,#34c4a5,#a9c659,#94c765,#7ec971,#bcc44f,#86c86d,#acc657,#bfc44e,#8dc869,#cbc248,#b2c654,#afc655,#ddbf3f,#abc657,#d1c145,#d7c042,#b7c551,#eabd39,#cec146,#d5c043,#ecbd37,#c8c249,#ebbd38,#e9bd39,#d2c044,#eebd35,#d9bf41,#e9bd3a,#eebd36,#d5c043,#efbd35,#eabd39,#e1be3d,#f1be33,#e2be3d,#edbd37,#f0bd35,#dfbe3e,#f2be33,#ecbd37,#ebbd38,#f4be32,#e8bd3a,#f0bd34,#f1be33,#e9bd39,#f5be30,#edbd37,#eebd36,#f4be31,#e7bd3a,#f0bd34,#ecbd37,#dbbf40,#efbd35,#d6c043,#e3be3c,#eabd38,#bdc44e,#e8bd3a,#cdc147,#b9c450,#e2be3d,#a9c659,#c0c34d,#c5c34b,#8fc867,#c7c24a,#9dc75f,#91c866,#b9c450,#5fc984,#6cca7b,#53c88d,#28bfb4,#35c4a4,#18acda,#1e97ec,#2588f3,#3171fa,#2b7df7,#2c7bf8,#2c7af8,#1ab7cb,#30c3a7,#b0c654,#ecbd37,#cdc147,#edbd36,#e8bd3a,#dcbf40,#efbd35,#d7c042,#ebbd38,#edbd37,#d5c043,#f0bd35,#e8bd3a,#e7bd3a,#edbd36,#c1c34d,#dbbf40,#cbc248,#9ac761)"></i>
<i style="top:50.0px;height:2.6px;background:linear-gradient(90deg,#1e99ec,#2191ef,#1b9ee8,#1c9bea,#21bbbf,#71c979,#c1c34d,#fabf2c,#f9be2e,#f8be2f,#f9c529,#f9be2d,#fac32a,#f9c828,#fac12c,#f9cc26,#f9c828,#f9c828,#f8d123,#f9c928,#f8d124,#f8d223,#f9cd26,#f8d820,#f8d323,#f8d522,#f7dd1d,#f8d322,#f7dc1e,#f7da1f,#f8d521,#f7e01c,#f8d720,#f7da1f,#f7df1c,#f8d621,#f7e01c,#f7dc1e,#f8d91f,#f6e21a,#f8d91f,#f7df1c,#f7e11b,#f8d91f,#f6e31a,#f7de1d,#f7dd1d,#f6e519,#f7db1e,#f6e31a,#f6e31a,#f7dc1e,#f6e718,#f7df1c,#f7e11b,#f6e618,#f7db1e,#f7e21b,#f7de1d,#f8d820,#f7e01b,#f8d621,#f8d820,#f7db1e,#f8d024,#f8d820,#f8d323,#f9ce25,#f8d621,#f9ca27,#f9ce25,#f9cf25,#f9c529,#f9ce25,#f9c629,#f9c42a,#f9ca27,#f5be31,#f2be33,#eabd39,#b3c553,#abc657,#31c3a7,#19a9dd,#2686f4,#3074f9,#2c7cf7,#2c7bf8,#2a7ef7,#27bfb4,#93c865,#f9be2e,#f8d721,#f9cf25,#f8d91f,#f8d522,#f8d223,#f7db1e,#f8d223,#f8d820,#f8da1f,#f8d223,#f7dc1e,#f8d621,#f8d621,#f8d820,#f9c928,#f9cb26,#f9c529,#f7be2f)"></i>
<i style="top:52.0px;height:2.6px;background:linear-gradient(90deg,#1d99eb,#1f95ed,#1c9de9,#1ba0e6,#2bc1ae,#a0c75d,#ecbd37,#f9ce25,#f9cd25,#f9cc26,#f8d322,#f9cf25,#f8d322,#f8d621,#f8d223,#f8d91f,#f8d720,#f8d720,#f7de1d,#f8d920,#f7de1d,#f7e01c,#f7dc1e,#f6e41a,#f7e01b,#f6e21a,#f6e718,#f7e21b,#f6e718,#f6e618,#f6e31a,#f6e917,#f6e31a,#f6e519,#f6e817,#f6e21a,#f6e817,#f6e618,#f6e41a,#f6e917,#f6e41a,#f6e718,#f6e817,#f6e31a,#f6e917,#f6e619,#f6e519,#f6ea16,#f6e41a,#f6e817,#f6e817,#f6e419,#f5ea16,#f6e519,#f6e618,#f6ea16,#f6e31a,#f6e817,#f6e718,#f6e31a,#f6e917,#f6e31a,#f6e519,#f6e718,#f7e11b,#f6e618,#f6e31a,#f7e11b,#f6e619,#f7df1c,#f7e21b,#f6e31a,#f7dd1d,#f6e31a,#f7de1d,#f7dd1d,#f7e11b,#f8d323,#f9cc26,#fac12c,#f0bd34,#ebbd38,#69ca7d,#18b5cf,#2784f5,#2e77f8,#2c7bf8,#2c7bf8,#2980f6,#27bfb5,#a6c65a,#fac12c,#f8da1f,#f8d621,#f7dc1e,#f8da1f,#f8d820,#f7de1d,#f8d820,#f7dc1e,#f7dd1d,#f8d91f,#f7df1c,#f7dc1e,#f7dc1e,#f7db1e,#f9d024,#f9cf25,#f9c928,#fac02c)"></i>
<i style="top:54.0px;height:2.6px;background:linear-gradient(90deg,#1d9aeb,#1e98ec,#1c9de9,#1ba1e5,#25beb8,#6aca7c,#c2c34c,#f2be33,#f2be33,#f1be33,#f4be31,#f2be33,#f4be31,#f5be30,#f3be32,#f7be2f,#f6be30,#f6be30,#f8be2e,#f6be30,#f8be2e,#f9be2e,#f8be2f,#fabf2c,#f9be2d,#fabe2d,#fac12c,#fabe2d,#fac02c,#fabf2c,#fabe2d,#fac12c,#fabe2d,#fabe2d,#fac02c,#f9be2e,#fac02c,#fabe2d,#f9be2e,#fac02c,#f9be2e,#fabe2d,#fabe2d,#f8be2f,#fabf2d,#f9be2e,#f8be2e,#fabe2d,#f7be2f,#f9be2e,#f9be2e,#f7be2f,#fabe2d,#f7be2f,#f8be2f,#fabe2d,#f7be2f,#fabe2d,#fabe2d,#f9be2e,#fac12c,#fabe2d,#fac02c,#fac22b,#fabf2d,#fac32b,#fac22b,#fac12b,#f9c52a,#fac22b,#fac42a,#f9c529,#fac22b,#f9c629,#f9c42a,#f9c52a,#f9c728,#fabf2c,#f8be2f,#f2be33,#eabd39,#d9bf41,#5fc984,#17b4d1,#2783f5,#2d79f8,#2c7af8,#2c7bf7,#2881f6,#17b5d0,#50c88f,#d0c145,#f0bd34,#efbd35,#f2be33,#f1bd34,#f0bd34,#f3be32,#f0bd34,#f2be33,#f3be32,#f1bd34,#f4be32,#f2be33,#f2be33,#f1be33,#ecbd37,#ebbd38,#e7bd3b,#d2c044)"></i>
<i style="top:56.0px;height:2.6px;background:linear-gradient(90deg,#1c9cea,#1d9aeb,#1c9de9,#1ba0e6,#16b4d2,#29c0b2,#42c69a,#67ca7e,#65ca7f,#63ca81,#6cca7b,#65ca80,#6aca7c,#6ec97a,#67ca7e,#71c979,#6dca7b,#6cca7b,#75c976,#6dca7b,#73c977,#75c976,#6fc97a,#79c974,#73c977,#75c976,#7bc973,#72c978,#78c974,#76c976,#70c979,#78c974,#6fc979,#71c978,#75c976,#6bca7c,#73c978,#6ec97a,#6aca7c,#72c978,#68ca7e,#6cca7b,#6dca7b,#65ca80,#6dca7b,#67ca7f,#65ca80,#6bca7c,#62ca82,#66ca7f,#66ca7f,#60ca83,#67ca7e,#61ca83,#61ca82,#67ca7e,#62ca81,#6cca7b,#6dca7b,#6cca7b,#78c975,#73c978,#79c974,#80c970,#7ac973,#86c86c,#85c86d,#86c86d,#91c866,#8bc86a,#93c865,#98c762,#93c765,#9fc75e,#9dc760,#9fc75e,#a9c659,#98c762,#92c866,#82c86f,#69ca7d,#5cc986,#28c0b2,#19a8de,#2883f6,#2c7bf8,#2c7bf8,#2b7cf7,#2882f6,#1aa2e4,#1ab7cb,#34c4a4,#52c88e,#4fc790,#56c88b,#54c88c,#53c88d,#58c889,#53c88d,#56c88a,#58c889,#53c88d,#5ac988,#56c88b,#56c88a,#55c88b,#4ac794,#48c695,#42c69a,#39c5a1)"></i>
<i style="top:58.0px;height:2.6px;background:linear-gradient(90deg,#228ff0,#228ef0,#2290f0,#2191ef,#1c9bea,#1aa3e3,#19a8de,#18aed8,#18add9,#18add9,#17aed8,#18add9,#18add9,#18aed8,#18add9,#17aed8,#18add9,#18add9,#17aed8,#18add9,#18aed8,#17aed8,#18add9,#17aed8,#18add9,#18aed8,#17aed8,#18add9,#18aed8,#18aed8,#18add9,#18aed8,#18add9,#18add9,#18add9,#18acda,#18add9,#18acda,#18acda,#18add9,#18abdb,#18acda,#18acda,#18abdb,#18acda,#18abdb,#18abdb,#18acda,#18aadc,#18abdb,#18abdb,#19aadc,#18abdb,#19aadc,#19aadc,#18abdb,#18aadc,#18acda,#18acda,#18acda,#18aed8,#18add9,#17aed8,#17afd7,#17aed8,#17b0d6,#17b0d6,#17b0d6,#16b2d4,#17b1d5,#16b3d3,#16b3d3,#16b3d3,#17b4d1,#16b4d1,#17b5d0,#18b6ce,#17b5d1,#17b5d0,#16b4d2,#17b0d6,#18aed8,#1ba0e6,#238cf1,#2d79f8,#3172f9,#3172fa,#3073f9,#2d78f8,#2686f4,#2094ee,#1ba1e5,#19a7df,#19a7df,#19a9dd,#19a8de,#19a8de,#19a9dd,#19a8de,#19a9dd,#19a9dd,#19a8de,#19a9dd,#19a8de,#19a8de,#19a9dd,#19a6e0,#19a7df,#1aa6e0,#1aa4e2)"></i>
<i style="top:60.0px;height:2.6px;background:linear-gradient(90deg,#2c7bf8,#2c7af8,#2d79f8,#2f76f9,#2f75f9,#3074f9,#3074f9,#2f75f9,#3074f9,#3074f9,#2f75f9,#3074f9,#2f75f9,#2f75f9,#3074f9,#2f75f9,#3074f9,#2f75f9,#2f75f9,#3074f9,#2f75f9,#2f75f9,#3074f9,#2f75f9,#3074f9,#2f75f9,#2f75f9,#3074f9,#2f75f9,#2f75f9,#3074f9,#2f75f9,#3074f9,#3074f9,#2f75f9,#3074f9,#3074f9,#3074f9,#3074f9,#3074f9,#3074f9,#3074f9,#3074f9,#3073f9,#3074f9,#3074f9,#3074f9,#3074f9,#3073f9,#3074f9,#3074f9,#3073f9,#3074f9,#3073f9,#3073f9,#3074f9,#3073f9,#3074f9,#3074f9,#3074f9,#2f75f9,#3074f9,#3074f9,#2f75f9,#2f75f9,#2f75f9,#2f75f9,#2f75f9,#2f76f9,#2f76f9,#2f76f9,#2e76f9,#2f76f9,#2e77f8,#2e76f9,#2e77f8,#2e78f8,#2e77f8,#2e77f8,#2e77f8,#2f76f9,#2e77f8,#2f75f9,#3271fa,#3864f7,#3d5bf5,#3e59f4,#3c5cf5,#3863f7,#3270fa,#2f76f9,#2d79f8,#2d79f8,#2e77f9,#2f75f9,#3074f9,#3074f9,#3074f9,#3074f9,#3074f9,#3074f9,#3074f9,#3074f9,#3074f9,#3074f9,#3074f9,#3073f9,#2f75f9,#2d79f8,#2b7cf7)"></i>
<i style="top:62.0px;height:2.6px;background:linear-gradient(90deg,#2b7df7,#2c7bf7,#326ffa,#414ceb,#442ec9,#4226bc,#4226bc,#4226bc,#4226bc,#4226bc,#4226bc,#4226bc,#4226bc,#4226bc,#4226bc,#4226bc,#4226bc,#4226bc,#4226bc,#4226bc,#4226bc,#4226bc,#4226bc,#4226bc,#4226bc,#4226bc,#4226bc,#4226bc,#4226bc,#4226bc,#4226bc,#4226bc,#4226bc,#4226bc,#4226bc,#4226bc,#4226bc,#4226bc,#4226bc,#4226bc,#4226bc,#4226bc,#4226bc,#4226bc,#4226bc,#4226bc,#4226bc,#4226bc,#4226bc,#4226bc,#4226bc,#4226bc,#4226bc,#4226bc,#4226bc,#4226bc,#4226bc,#4226bc,#4226bc,#4226bc,#4226bc,#4226bc,#4226bc,#4226bc,#4226bc,#4226bc,#4226bc,#4226bc,#4226bc,#4226bc,#4226bc,#4226bc,#4226bc,#4226bc,#4226bc,#4226bc,#4226bc,#4226bc,#4226bc,#4226bc,#4226bc,#4535d5,#3f54f1,#346bf9,#3667f8,#3b5ff6,#3c5df5,#3a60f6,#3667f8,#3171fa,#2e76f9,#3173f9,#3569f8,#3c5cf5,#414dec,#4248e8,#4248e8,#4248e8,#4248e8,#4248e8,#4248e8,#4248e8,#4248e8,#4248e8,#4248e8,#4248e8,#4247e8,#414eed,#3865f7,#2f76f9)"></i>
<i style="top:64.0px;height:2.6px;background:linear-gradient(90deg,#2980f7,#2a7ff7,#2e78f8,#3668f8,#3f56f3,#4347e7,#4440e2,#453ee1,#463bdf,#453ee1,#4441e3,#453de1,#463bdf,#453ee1,#4440e2,#453de0,#463bdf,#453fe1,#4440e3,#453ce0,#463cdf,#453fe2,#4440e2,#453ce0,#463cdf,#453fe2,#4440e2,#463cdf,#453ce0,#4440e2,#453fe2,#463cdf,#453ce0,#4440e2,#453fe2,#463bdf,#453de0,#4440e3,#453ee1,#463bdf,#453de0,#4440e3,#453ee1,#463bdf,#453ee1,#4440e3,#453de0,#463bdf,#453ee1,#4440e3,#453de0,#463bdf,#453fe2,#4440e2,#453ce0,#463cdf,#453fe2,#4440e2,#453ce0,#463cdf,#4440e2,#453fe2,#463cdf,#453de0,#4440e2,#453fe2,#463cdf,#453de0,#4440e3,#453ee1,#463bdf,#453de1,#4440e3,#453ee1,#463bdf,#453ee1,#4441e3,#453ee1,#463cdf,#4440e2,#4345e6,#3f54f1,#3865f7,#3271fa,#346bf9,#3863f7,#3a61f6,#3864f7,#346cf9,#3074f9,#2d79f8,#2c7bf7,#2b7cf7,#2b7cf7,#2c7bf8,#2c7bf8,#2c7bf8,#2c7bf8,#2c7bf8,#2c7bf8,#2c7bf8,#2c7bf8,#2c7bf8,#2c7bf8,#2c7bf8,#2c7bf8,#2c7bf8,#2c7bf7,#2b7df7,#2a7ff7)"></i>
<i style="top:66.0px;height:2.6px;background:linear-gradient(90deg,#1b9ee8,#1b9ee8,#1c9ee8,#1c9de9,#1c9cea,#1d9beb,#1d9aeb,#1d9aeb,#1d9aeb,#1d9aeb,#1d9aeb,#1d9aeb,#1d9aeb,#1d9aeb,#1d9aeb,#1d9aeb,#1d9aeb,#1d9aeb,#1d9aeb,#1d9aeb,#1d9aeb,#1d9aeb,#1d9aeb,#1d9aeb,#1d9aeb,#1d9aeb,#1d9aeb,#1d9aeb,#1d9aeb,#1d9aeb,#1d9aeb,#1d9aeb,#1d9aeb,#1d9aeb,#1d9aeb,#1d9aeb,#1d9aeb,#1d9aeb,#1d9aeb,#1d9aeb,#1d9aeb,#1d9aeb,#1d9aeb,#1d9aeb,#1d9aeb,#1d9aeb,#1d9aeb,#1d9aeb,#1d9aeb,#1d9aeb,#1d9aeb,#1d9aeb,#1d9aeb,#1d9aeb,#1d9aeb,#1d9aeb,#1d9aeb,#1d9aeb,#1d9aeb,#1d9aeb,#1d9aeb,#1d9aeb,#1d9aeb,#1d9aeb,#1d9aeb,#1d9aeb,#1d9aeb,#1d9aeb,#1d9aeb,#1d9aeb,#1d9aeb,#1d9aeb,#1d9aeb,#1d9aeb,#1d9aeb,#1d9aeb,#1d9aeb,#1d9aeb,#1d9aeb,#1d9aeb,#1e98ec,#1f96ed,#2192ef,#248bf2,#2881f6,#2c7af8,#2e77f8,#2e78f8,#2b7df7,#2686f4,#2290f0,#1e97ec,#1c9cea,#1c9de9,#1c9ee8,#1b9ee8,#1b9ee8,#1b9ee8,#1b9ee8,#1b9ee8,#1b9ee8,#1b9ee8,#1b9ee8,#1b9ee8,#1b9ee8,#1b9ee8,#1b9ee8,#1b9ee8,#1b9ee8,#1b9ee8)"></i>
<i style="top:68.0px;height:2.6px;background:linear-gradient(90deg,#19a8de,#19a8de,#19a8de,#19a8de,#19a8de,#19a8de,#19a8de,#19a8de,#19a8de,#19a8de,#19a8de,#19a8de,#19a8de,#19a8de,#19a8de,#19a8de,#19a8de,#19a8de,#19a8de,#19a8de,#19a8de,#19a8de,#19a8de,#19a8de,#19a8de,#19a8de,#19a8de,#19a8de,#19a8de,#19a8de,#19a8de,#19a8de,#19a8de,#19a8de,#19a8de,#19a8de,#19a8de,#19a8de,#19a8de,#19a8de,#19a8de,#19a8de,#19a8de,#19a8de,#19a8de,#19a8de,#19a8de,#19a8de,#19a8de,#19a8de,#19a8de,#19a8de,#19a8de,#19a8de,#19a8de,#19a8de,#19a8de,#19a8de,#19a8de,#19a8de,#19a8de,#19a8de,#19a8de,#19a8de,#19a8de,#19a8de,#19a8de,#19a8de,#19a8de,#19a8de,#19a8de,#19a8de,#19a8de,#19a8de,#19a8de,#19a8de,#19a8de,#19a8de,#19a8de,#19a7df,#1aa6e0,#1aa3e3,#1c9cea,#228ef0,#2b7cf7,#3667f8,#414eed,#4443e4,#404fed,#356af8,#2a7ff7,#2093ee,#1ba0e6,#1aa5e1,#19a7df,#19a8de,#19a8de,#19a8de,#19a8de,#19a8de,#19a8de,#19a8de,#19a8de,#19a8de,#19a8de,#19a8de,#19a8de,#19a8de,#19a8de,#19a8de)"></i>
<i style="top:70.0px;height:2.6px;background:linear-gradient(90deg,#1b9ee8,#1b9ee8,#1b9ee8,#1b9ee8,#1b9ee8,#1b9ee8,#1b9ee8,#1b9ee8,#1b9ee8,#1b9ee8,#1b9ee8,#1b9ee8,#1b9ee8,#1b9ee8,#1b9ee8,#1b9ee8,#1b9ee8,#1b9ee8,#1b9ee8,#1b9ee8,#1b9ee8,#1b9ee8,#1b9ee8,#1b9ee8,#1b9ee8,#1b9ee8,#1b9ee8,#1b9ee8,#1b9ee8,#1b9ee8,#1b9ee8,#1b9ee8,#1b9ee8,#1b9ee8,#1b9ee8,#1b9ee8,#1b9ee8,#1b9ee8,#1b9ee8,#1b9ee8,#1b9ee8,#1b9ee8,#1b9ee8,#1b9ee8,#1b9ee8,#1b9ee8,#1b9ee8,#1b9ee8,#1b9ee8,#1b9ee8,#1b9ee8,#1b9ee8,#1b9ee8,#1b9ee8,#1b9ee8,#1b9ee8,#1b9ee8,#1b9ee8,#1b9ee8,#1b9ee8,#1b9ee8,#1b9ee8,#1b9ee8,#1b9ee8,#1b9ee8,#1b9ee8,#1b9ee8,#1b9ee8,#1b9ee8,#1b9ee8,#1b9ee8,#1b9ee8,#1b9ee8,#1b9ee8,#1b9ee8,#1b9ee8,#1b9ee8,#1b9ee8,#1b9ee8,#1c9ee8,#1c9cea,#1e99ec,#2191ef,#2882f6,#3074f9,#3d5bf5,#453fe2,#4536d7,#4440e3,#3b5ef5,#2e77f8,#2588f3,#1f95ed,#1c9bea,#1c9ee8,#1b9ee8,#1b9ee8,#1b9fe7,#1b9fe7,#1b9fe7,#1b9fe7,#1b9fe7,#1b9fe7,#1b9fe7,#1b9fe7,#1b9fe7,#1b9fe7,#1b9fe7,#1b9ee8,#1b9ee8)"></i>
<i style="top:72.0px;height:2.6px;background:linear-gradient(90deg,#3172fa,#3172fa,#3172fa,#3172fa,#3172fa,#3172fa,#3172fa,#3172fa,#3172fa,#3172fa,#3172fa,#3172fa,#3172fa,#3172fa,#3172fa,#3172fa,#3172fa,#3172fa,#3172fa,#3172fa,#3172fa,#3172fa,#3172fa,#3172fa,#3172fa,#3172fa,#3172fa,#3172fa,#3172fa,#3172fa,#3172fa,#3172fa,#3172fa,#3172fa,#3172fa,#3172fa,#3172fa,#3172fa,#3172fa,#3172fa,#3172fa,#3172fa,#3172fa,#3172fa,#3172fa,#3172fa,#3172fa,#3172fa,#3172fa,#3172fa,#3172fa,#3172fa,#3172fa,#3172fa,#3172fa,#3172fa,#3172fa,#3172fa,#3172fa,#3172fa,#3172fa,#3172fa,#3172fa,#3172fa,#3172fa,#3172fa,#3172fa,#3172fa,#3172fa,#3172fa,#3172fa,#3172fa,#3172fa,#3172fa,#3172fa,#3172fa,#3172fa,#3172fa,#3172fa,#3172fa,#3271fa,#336ef9,#3668f8,#3a5ff6,#3f53f1,#4347e8,#4441e3,#4443e5,#414dec,#3d5bf5,#3766f7,#336ef9,#3172fa,#3073f9,#3074f9,#3074f9,#2f75f9,#2f75f9,#2f75f9,#2f75f9,#2f75f9,#2f75f9,#2f75f9,#2f75f9,#2f75f9,#2f75f9,#2f75f9,#2f75f9,#3074f9,#3074f9)"></i>
<i style="top:74.0px;height:2.6px;background:linear-gradient(90deg,#4344e5,#4344e5,#4344e5,#4344e5,#4344e5,#4344e5,#4344e5,#4344e5,#4344e5,#4344e5,#4344e5,#4344e5,#4344e5,#4344e5,#4344e5,#4344e5,#4344e5,#4344e5,#4344e5,#4344e5,#4344e5,#4344e5,#4344e5,#4344e5,#4344e5,#4344e5,#4344e5,#4344e5,#4344e5,#4344e5,#4344e5,#4344e5,#4344e5,#4344e5,#4344e5,#4344e5,#4344e5,#4344e5,#4344e5,#4344e5,#4344e5,#4344e5,#4344e5,#4344e5,#4344e5,#4344e5,#4344e5,#4344e5,#4344e5,#4344e5,#4344e5,#4344e5,#4344e5,#4344e5,#4344e5,#4344e5,#4344e5,#4344e5,#4344e5,#4344e5,#4344e5,#4344e5,#4344e5,#4344e5,#4344e5,#4344e5,#4344e5,#4344e5,#4344e5,#4344e5,#4344e5,#4344e5,#4344e5,#4344e5,#4344e5,#4344e5,#4344e6,#4344e6,#4344e6,#4344e5,#4442e4,#453fe2,#4639dc,#4533d2,#432cc6,#4226bc,#4226bc,#4228bf,#442fcb,#4638da,#4442e4,#424aea,#4050ee,#3f53f1,#3f56f3,#3e58f4,#3d59f4,#3d5bf5,#3c5cf5,#3c5df5,#3b5df5,#3b5df5,#3b5df5,#3c5df5,#3c5cf5,#3c5bf5,#3d5af5,#3e59f4,#3e57f3,#3f55f2)"></i>
<i style="top:76.0px;height:2.6px;background:linear-gradient(90deg,#4533d2,#4533d2,#4533d2,#4533d2,#4533d2,#4533d2,#4533d2,#4533d2,#4533d2,#4533d2,#4533d2,#4533d2,#4533d2,#4533d2,#4533d2,#4533d2,#4533d2,#4533d2,#4533d2,#4533d2,#4533d2,#4533d2,#4533d2,#4533d2,#4533d2,#4533d2,#4533d2,#4533d2,#4533d2,#4533d2,#4533d2,#4533d2,#4533d2,#4533d2,#4533d2,#4533d2,#4533d2,#4533d2,#4533d2,#4533d2,#4533d2,#4533d2,#4533d2,#4533d2,#4533d2,#4533d2,#4533d2,#4533d2,#4533d2,#4533d2,#4533d2,#4533d2,#4533d2,#4533d2,#4533d2,#4533d2,#4533d2,#4533d2,#4533d2,#4533d2,#4533d2,#4533d2,#4533d2,#4533d2,#4533d2,#4533d2,#4533d2,#4533d2,#4533d2,#4533d2,#4533d2,#4533d2,#4533d2,#4533d2,#4533d2,#4533d2,#4533d3,#4533d3,#4533d3,#4533d3,#4533d1,#4431ce,#432dc7,#4227be,#4226bc,#4226bc,#4226bc,#4226bc,#4226bd,#4430cc,#4638da,#4440e3,#4247e8,#414cec,#4051ef,#3f54f1,#3e57f4,#3d5af4,#3c5cf5,#3b5df5,#3b5ef6,#3b5ff6,#3b5ef6,#3b5ef5,#3c5cf5,#3d5bf5,#3e59f4,#3f56f2,#3f52f0,#404fed)"></i>
<i style="top:78.0px;height:2.6px;background:linear-gradient(90deg,#442ec9,#442ec9,#442ec9,#442ec9,#442ec9,#442ec9,#442ec9,#442ec9,#442ec9,#442ec9,#442ec9,#442ec9,#442ec9,#442ec9,#442ec9,#442ec9,#442ec9,#442ec9,#442ec9,#442ec9,#442ec9,#442ec9,#442ec9,#442ec9,#442ec9,#442ec9,#442ec9,#442ec9,#442ec9,#442ec9,#442ec9,#442ec9,#442ec9,#442ec9,#442ec9,#442ec9,#442ec9,#442ec9,#442ec9,#442ec9,#442ec9,#442ec9,#442ec9,#442ec9,#442ec9,#442ec9,#442ec9,#442ec9,#442ec9,#442ec9,#442ec9,#442ec9,#442ec9,#442ec9,#442ec9,#442ec9,#442ec9,#442ec9,#442ec9,#442ec9,#442ec9,#442ec9,#442ec9,#442ec9,#442ec9,#442ec9,#442ec9,#442ec9,#442ec9,#442ec9,#442ec9,#442ec9,#442ec9,#442ec9,#442eca,#442eca,#442eca,#442eca,#442eca,#442eca,#432dc8,#432bc5,#4228bf,#4226bc,#4226bc,#4226bc,#4226bc,#4226bc,#4226bc,#432ac2,#4431cf,#4537d8,#463bdf,#453fe2,#4443e5,#4346e7,#4249e9,#414bea,#414dec,#414eed,#404fee,#4050ee,#4050ee,#404fed,#414eec,#414ceb,#424aea,#4247e8,#4344e6,#4442e4)"></i>
<i style="top:80.0px;height:2.6px;background:linear-gradient(90deg,#4430ce,#4430ce,#4430ce,#4430ce,#4430ce,#4430ce,#4430ce,#4430ce,#4430ce,#4430ce,#4430ce,#4430ce,#4430ce,#4430ce,#4430ce,#4430ce,#4430ce,#4430ce,#4430ce,#4430ce,#4430ce,#4430ce,#4430ce,#4430ce,#4430ce,#4430ce,#4430ce,#4430ce,#4430ce,#4430ce,#4430ce,#4430ce,#4430ce,#4430ce,#4430ce,#4430ce,#4430ce,#4430ce,#4430ce,#4430ce,#4430ce,#4430ce,#4430ce,#4430ce,#4430ce,#4430ce,#4430ce,#4430ce,#4430ce,#4430ce,#4430ce,#4430ce,#4430ce,#4430ce,#4430ce,#4430ce,#4430ce,#4430ce,#4430ce,#4430ce,#4430ce,#4430ce,#4430ce,#4430ce,#4430ce,#4430ce,#4430ce,#4430ce,#4430ce,#4430ce,#4430ce,#4430ce,#4430ce,#4430ce,#4430ce,#4430ce,#4430ce,#4430ce,#4430ce,#4430cd,#442fcc,#432dc9,#432ac3,#4226bc,#4226bc,#4226bc,#4226bc,#4226bc,#4226bc,#4228bf,#442ec9,#4432d0,#4534d4,#4536d7,#4537d9,#4638da,#4638db,#4639dc,#4639dd,#463ade,#463ade,#463ade,#463ade,#463ade,#463add,#4639dd,#4639dc,#4638db,#4537da,#4537d8)"></i>
<i style="top:82.0px;height:2.6px;background:linear-gradient(90deg,#4536d8,#4536d8,#4536d8,#4536d8,#4536d8,#4536d8,#4536d8,#4536d8,#4536d8,#4536d8,#4536d8,#4536d8,#4536d8,#4536d8,#4536d8,#4536d8,#4536d8,#4536d8,#4536d8,#4536d8,#4536d8,#4536d8,#4536d8,#4536d8,#4536d8,#4536d8,#4536d8,#4536d8,#4536d8,#4536d8,#4536d8,#4536d8,#4536d8,#4536d8,#4536d8,#4536d8,#4536d8,#4536d8,#4536d8,#4536d8,#4536d8,#4536d8,#4536d8,#4536d8,#4536d8,#4536d8,#4536d8,#4536d8,#4536d8,#4536d8,#4536d8,#4536d8,#4536d8,#4536d8,#4536d8,#4536d8,#4536d8,#4536d8,#4536d8,#4536d8,#4536d8,#4536d8,#4536d8,#4536d8,#4536d8,#4536d8,#4536d8,#4536d8,#4536d8,#4536d8,#4536d8,#4536d8,#4536d8,#4536d8,#4536d8,#4536d8,#4536d8,#4536d8,#4536d8,#4536d7,#4535d6,#4534d3,#4431ce,#432dc7,#4228bf,#4226bc,#4226bc,#4226bc,#4228c0,#432dc8,#4431cf,#4534d5,#4536d7,#4537d9,#4537d9,#4638da,#4638da,#4638da,#4638da,#4638da,#4638da,#4638db,#4638da,#4638da,#4638da,#4638da,#4638da,#4638da,#4537da,#4537da)"></i>
<i style="top:84.0px;height:1.3px;background:linear-gradient(90deg,#453fe2,#453fe2,#453fe2,#453fe2,#453fe2,#453fe2,#453fe2,#453fe2,#453fe2,#453fe2,#453fe2,#453fe2,#453fe2,#453fe2,#453fe2,#453fe2,#453fe2,#453fe2,#453fe2,#453fe2,#453fe2,#453fe2,#453fe2,#453fe2,#453fe2,#453fe2,#453fe2,#453fe2,#453fe2,#453fe2,#453fe2,#453fe2,#453fe2,#453fe2,#453fe2,#453fe2,#453fe2,#453fe2,#453fe2,#453fe2,#453fe2,#453fe2,#453fe2,#453fe2,#453fe2,#453fe2,#453fe2,#453fe2,#453fe2,#453fe2,#453fe2,#453fe2,#453fe2,#453fe2,#453fe2,#453fe2,#453fe2,#453fe2,#453fe2,#453fe2,#453fe2,#453fe2,#453fe2,#453fe2,#453fe2,#453fe2,#453fe2,#453fe2,#453fe2,#453fe2,#453fe2,#453fe2,#453fe2,#453fe2,#453fe2,#453fe2,#453fe2,#453fe2,#453fe2,#453fe2,#453ee1,#453ce0,#4639dd,#4536d7,#4432d1,#442fcc,#442eca,#4430cc,#4533d1,#4536d8,#463add,#453de0,#453ee1,#453fe2,#453fe2,#4540e2,#4440e2,#4440e2,#4440e2,#4440e2,#4440e2,#4440e2,#4440e2,#4440e2,#4440e2,#4440e2,#4440e2,#4440e2,#4540e2,#4540e2)"></i>
</div>
<div class="pn" style="left:299.20px;top:221.90px;width:109.50px;height:84.70px">
<i style="top:0.0px;height:2.6px;background:linear-gradient(90deg,#414dec,#463cdf,#4050ee,#4345e6,#4440e2,#3f53f0,#453cdf,#424aea,#414ceb,#463bdf,#4052f0,#4442e4,#4442e4,#4052ef,#463bdf,#414dec,#424aea,#453ce0,#3f53f0,#453fe2,#4345e6,#4050ee,#463ade,#404fed,#4347e7,#453ee1,#3f53f0,#453de0,#4248e8,#414eed,#463ade,#4051ef,#4344e5,#4440e2,#3f53f0,#463cdf,#424aea,#414ceb,#463bdf,#4052f0,#4441e3,#4443e4,#4052ef,#463bde,#414dec,#4249e9,#453ce0,#3f53f0,#453fe2,#4345e6,#4050ee,#463ade,#404fee,#4346e7,#453ee1,#3f53f0,#453de0,#4248e8,#414eed,#463ade,#4051ef,#4344e5,#4440e3,#3f52f0,#463bdf,#414bea,#414beb,#463bdf,#4052f0,#4441e3,#4443e5,#4051ef,#463ade,#4345e6,#4536d8,#4226bc,#4226bc,#4226bc,#432bc5,#4346e7,#3667f8,#346cf9,#4050ee,#4430ce,#4226bc,#4226bc,#4226bc,#4533d3,#463ade,#424aea,#4344e5,#4442e4,#4052ef,#463cdf,#414beb,#414bea,#463bdf,#3f52f0,#4441e3,#4344e5,#4051ef,#463ade,#414eed,#4248e8,#453de0,#3f53f0,#453ee1,#4346e7,#404fee,#463bdf)"></i>
<i style="top:2.0px;height:2.6px;background:linear-gradient(90deg,#4051ef,#4639dd,#3f56f3,#4346e6,#453ee1,#3d5af4,#4639dd,#414dec,#4051ef,#4638db,#3e59f4,#4442e4,#4442e4,#3e58f4,#4638db,#4051ef,#414dec,#4639dd,#3d5af4,#453ee1,#4346e7,#3e56f3,#4638da,#3f54f1,#4249e9,#463cdf,#3d5af4,#463bdf,#424aea,#3f54f1,#4638da,#3e57f3,#4345e6,#453fe2,#3d59f4,#4639dc,#414eed,#4050ee,#4638db,#3e59f4,#4441e3,#4443e4,#3e58f4,#4638db,#4052ef,#414ceb,#463add,#3d5af4,#453de0,#4347e7,#3f56f3,#4638da,#3f55f2,#4248e8,#453ce0,#3d5af4,#463ade,#424bea,#3f53f0,#4638da,#3e58f4,#4344e5,#4540e2,#3d59f4,#4639dc,#404fed,#404fee,#4639dc,#3d59f4,#4440e3,#4443e5,#3e57f3,#4638db,#4249e9,#4638da,#4226bc,#4226bc,#4226bc,#432dc8,#414dec,#3073f9,#2e77f9,#3d59f4,#4432d1,#4226bc,#4226bc,#4226bc,#4534d5,#463ade,#414eed,#4344e6,#4441e3,#3e58f4,#4639dc,#404fee,#404fed,#4639dc,#3d59f4,#4440e2,#4344e5,#3e58f4,#4638da,#3f53f0,#424bea,#463ade,#3d5af4,#453ce0,#4248e8,#3f55f2,#4638db)"></i>
<i style="top:4.0px;height:2.6px;background:linear-gradient(90deg,#3e58f4,#4638db,#3c5df5,#4248e9,#453fe2,#3961f6,#4638db,#3f53f0,#3e57f3,#4537d9,#3a60f6,#4443e5,#4344e5,#3a60f6,#4537d9,#3e58f4,#4052f0,#4639dc,#3961f6,#453ee1,#4249e9,#3b5df5,#4536d8,#3c5bf5,#414dec,#463bdf,#3962f6,#463ade,#414eed,#3d5af5,#4536d8,#3b5ef6,#4247e8,#4540e2,#3961f6,#4638db,#3f54f1,#3e56f3,#4537d9,#3a60f6,#4442e4,#4344e6,#3a5ff6,#4537d8,#3e58f4,#4051ef,#4639dc,#3961f6,#453ee1,#424aea,#3c5df5,#4536d8,#3c5cf5,#414ceb,#453cdf,#3962f6,#463ade,#404fee,#3d5af4,#4536d8,#3b5ff6,#4346e7,#4440e3,#3a61f6,#4638da,#3f54f1,#3f56f2,#4638da,#3a60f6,#4441e3,#4345e6,#3b5ef6,#4537d9,#404fee,#463bdf,#4227be,#4226bc,#4226bc,#4430cc,#3f55f2,#2c7af8,#2a7ff7,#3a61f6,#4535d6,#4226bc,#4226bc,#4228bf,#4537d9,#453cdf,#3f54f1,#4347e8,#4443e4,#3a60f6,#4638da,#3f55f2,#3f55f2,#4638da,#3a61f6,#4441e3,#4346e7,#3b5ff6,#4536d8,#3d5af4,#404fee,#463add,#3962f6,#453ce0,#414ceb,#3c5cf5,#4537d9)"></i>
<i style="top:6.0px;height:2.6px;background:linear-gradient(90deg,#3b5ef5,#4638db,#3864f7,#414ceb,#4441e3,#3569f8,#4639dc,#3e59f4,#3b5df5,#4537d9,#3668f8,#4346e7,#4347e7,#3667f8,#4537d8,#3b5ef5,#3e58f4,#4639dc,#3569f8,#4440e2,#414dec,#3865f7,#4536d7,#3962f6,#4052ef,#453ce0,#356af8,#463bdf,#3f54f1,#3a61f6,#4536d7,#3766f7,#414beb,#4442e4,#3669f8,#4638db,#3d5af4,#3c5cf5,#4537d9,#3668f8,#4345e6,#4248e8,#3667f8,#4537d8,#3b5ef6,#3e57f3,#4639dd,#3569f8,#453fe2,#414eed,#3864f7,#4536d7,#3963f7,#4051ef,#453de0,#356af8,#463ade,#3f55f2,#3a60f6,#4536d7,#3766f8,#424aea,#4443e4,#3669f8,#4638da,#3d5af5,#3c5cf5,#4537da,#3668f8,#4344e5,#4249e9,#3765f7,#4537da,#3e56f3,#4440e2,#4329c1,#4226bd,#4226bc,#4533d2,#3c5cf5,#2981f6,#2687f4,#3668f8,#4639dc,#4227bd,#4226bc,#432bc5,#463bdf,#453fe2,#3d5bf5,#424bea,#4345e6,#3667f8,#4638db,#3c5bf5,#3d5bf5,#4638da,#3669f8,#4443e4,#424aea,#3766f8,#4536d8,#3a60f6,#3f55f2,#463ade,#356af8,#453de1,#4050ee,#3963f7,#4537d8)"></i>
<i style="top:8.0px;height:2.6px;background:linear-gradient(90deg,#3863f7,#4639dd,#356af9,#4050ee,#4443e5,#3270fa,#4639dd,#3b5df5,#3962f7,#4638da,#336efa,#4249e9,#424aea,#336efa,#4537da,#3863f7,#3c5df5,#463ade,#3270fa,#4442e4,#4051ef,#356bf9,#4536d8,#3668f8,#3e57f3,#453ee1,#3270fa,#453de0,#3e59f4,#3767f8,#4537d8,#346cf9,#404fed,#4344e6,#3270fa,#4639dc,#3b5ef6,#3962f6,#4638da,#336ffa,#4248e8,#414beb,#336ef9,#4537d9,#3864f7,#3c5cf5,#463ade,#3270fa,#4441e3,#3f52f0,#356af9,#4536d8,#3669f8,#3f55f2,#453fe2,#3270fa,#453cdf,#3d5af4,#3766f7,#4537d8,#346df9,#414eed,#4345e6,#3270fa,#4639dc,#3a5ff6,#3a61f6,#4638db,#326ffa,#4347e7,#414cec,#346cf9,#4638db,#3c5cf5,#4345e6,#432bc5,#432ac3,#4226bc,#4536d8,#3961f6,#2687f4,#228ef0,#336df9,#453ee1,#432ac2,#4226bc,#442eca,#4440e2,#4443e4,#3a60f6,#404fed,#4249e9,#336ef9,#4639dc,#3a60f6,#3a60f6,#4639dc,#3270fa,#4346e7,#414eec,#346df9,#4537d8,#3766f7,#3d5af4,#463cdf,#3270fa,#4540e2,#3f55f2,#3669f8,#4537d9)"></i>
<i style="top:10.0px;height:2.6px;background:linear-gradient(90deg,#3668f8,#463bdf,#3270fa,#3f55f2,#4347e7,#3074f9,#463cdf,#3962f6,#3667f8,#4639dc,#3073f9,#414dec,#414eec,#3173f9,#4639dc,#3668f8,#3961f6,#453ce0,#3074f9,#4346e7,#3f56f2,#3270fa,#4638da,#336df9,#3d5bf5,#4441e3,#3074f9,#4540e2,#3c5df5,#346cf9,#4638db,#3171fa,#3f53f1,#4248e8,#3074f9,#463bdf,#3963f7,#3766f8,#4639dd,#3073f9,#414ceb,#404fed,#3172fa,#4639dc,#3669f8,#3a60f6,#453de0,#3074f9,#4345e6,#3e57f3,#3270fa,#4638da,#336efa,#3d5af4,#4442e4,#3074f9,#453fe1,#3b5ef5,#356bf9,#4638db,#3171fa,#4052f0,#4249e9,#3074f9,#463ade,#3864f7,#3765f7,#463ade,#3073f9,#424aea,#4050ee,#3171fa,#463ade,#3a60f6,#424aea,#442eca,#432dc8,#4329c1,#4639dd,#3766f7,#238cf1,#2094ee,#3171fa,#4443e4,#432dc8,#4228bf,#4431cf,#4345e6,#4347e7,#3865f7,#3f53f0,#414ceb,#3172f9,#463bde,#3865f7,#3864f7,#463ade,#3074f9,#4249e9,#4052ef,#3172fa,#4638db,#356bf9,#3b5ef5,#453fe1,#3074f9,#4442e4,#3d59f4,#336ef9,#4639dc)"></i>
<i style="top:12.0px;height:2.6px;background:linear-gradient(90deg,#346cf9,#453ee1,#3073f9,#3e59f4,#424aea,#2e77f8,#453fe2,#3766f8,#346cf9,#463cdf,#2f76f9,#4051ef,#4052ef,#2f76f9,#463bdf,#346cf9,#3765f7,#453fe2,#2e77f8,#4249e9,#3d5af4,#3073f9,#463ade,#3171fa,#3b5ef6,#4345e6,#2e78f8,#4443e5,#3a60f6,#3270fa,#463ade,#3074f9,#3e58f4,#414beb,#2e77f8,#453ee1,#3667f8,#356bf9,#453ce0,#2f76f9,#404fee,#3f53f0,#2f75f9,#463bdf,#336df9,#3864f7,#4440e2,#2e77f8,#4248e8,#3d5bf5,#3073f9,#463add,#3172fa,#3b5df5,#4346e7,#2e78f8,#4442e4,#3962f6,#326ffa,#463ade,#2f75f9,#3e56f3,#414dec,#2e77f8,#453de0,#3668f8,#356af8,#453de0,#2e76f9,#414eed,#3f55f2,#3074f9,#453de0,#3865f7,#404fed,#4431ce,#4431ce,#432cc6,#453ee1,#356af8,#2290f0,#1e98ec,#3074f9,#4247e8,#4430cd,#432bc4,#4534d5,#424ae9,#414bea,#3569f8,#3e57f3,#4050ee,#2f75f9,#453ee1,#3569f8,#3668f8,#453de0,#2e77f9,#414dec,#3f56f2,#2f75f9,#463ade,#326ffa,#3962f6,#4442e4,#2e78f8,#4346e7,#3b5df5,#3172fa,#463bdf)"></i>
<i style="top:14.0px;height:2.6px;background:linear-gradient(90deg,#3270fa,#4442e4,#2f76f9,#3c5cf5,#414eed,#2c7af8,#4442e4,#356af8,#3270fa,#453fe2,#2d79f8,#3f55f2,#3f56f2,#2d78f8,#453fe2,#3270fa,#3569f8,#4443e5,#2c7af8,#414dec,#3b5df5,#2f76f9,#453de0,#3074f9,#3962f7,#4248e9,#2c7af8,#4347e7,#3864f7,#3073f9,#453de0,#2e77f8,#3c5bf5,#404fee,#2d7af8,#4442e4,#356bf9,#336ffa,#4440e2,#2d79f8,#3f54f1,#3e57f3,#2d78f8,#453ee1,#3271fa,#3668f8,#4344e5,#2c7af8,#414ceb,#3b5ef6,#2f76f9,#453de0,#3074f9,#3a61f6,#4249e9,#2c7af8,#4346e7,#3765f7,#3172f9,#453ee1,#2e77f8,#3d5af4,#4051ef,#2d7af8,#4441e3,#346cf9,#336df9,#4440e3,#2d79f8,#4052f0,#3e59f4,#2e77f8,#4441e3,#3669f8,#3f53f1,#4534d3,#4534d3,#442fcb,#4442e4,#336ef9,#2094ee,#1c9cea,#2e77f9,#414ceb,#4533d2,#442ec9,#4537da,#414eed,#404fed,#336df9,#3d5bf5,#3f54f1,#2d78f8,#4441e3,#336df9,#346cf9,#4441e3,#2d7af8,#4051ef,#3d5af4,#2e77f8,#453ee1,#3172fa,#3766f7,#4346e6,#2c7af8,#424aea,#3a61f6,#3074f9,#453fe1)"></i>
<i style="top:16.0px;height:2.6px;background:linear-gradient(90deg,#3173f9,#4346e7,#2e78f8,#3a60f6,#3f52f0,#2b7df7,#4346e7,#336ef9,#3172fa,#4443e5,#2c7bf7,#3e59f4,#3d5af4,#2c7bf8,#4443e4,#3173f9,#346df9,#4347e7,#2b7df7,#4051ef,#3a61f6,#2d79f8,#4441e3,#2e76f9,#3766f7,#414cec,#2b7df7,#424bea,#3668f8,#2f75f9,#4441e3,#2d79f8,#3b5ff6,#3f53f1,#2b7cf7,#4346e7,#336ffa,#3171fa,#4344e5,#2c7cf7,#3e58f4,#3d5bf5,#2c7bf8,#4442e4,#3073f9,#346cf9,#4248e8,#2b7df7,#4050ee,#3962f6,#2d78f8,#4441e3,#2e77f8,#3864f7,#414eec,#2b7df7,#424aea,#3669f8,#2f75f9,#4442e4,#2d7af8,#3b5df5,#3f55f2,#2b7cf7,#4345e6,#3270fa,#3271fa,#4344e5,#2b7cf7,#3e57f3,#3c5cf5,#2d79f8,#4345e6,#346cf9,#3e58f4,#4537d8,#4537d8,#4432d0,#4347e7,#3271fa,#1e97ec,#1b9fe7,#2d79f8,#4050ee,#4536d7,#4431ce,#463bde,#3f53f0,#3f53f1,#3271fa,#3b5ef6,#3e58f4,#2c7bf8,#4345e6,#3271fa,#3270fa,#4345e6,#2b7cf7,#3f55f2,#3b5df5,#2c7af8,#4442e4,#2f75f9,#3569f8,#424ae9,#2b7df7,#414eed,#3864f7,#2e77f8,#4442e4)"></i>
<i style="top:18.0px;height:2.6px;background:linear-gradient(90deg,#2f75f9,#424aea,#2c7bf8,#3863f7,#3e57f3,#2a7ff7,#424bea,#3271fa,#2f75f9,#4247e8,#2a7ef7,#3c5cf5,#3b5df5,#2a7ef7,#4347e7,#2f75f9,#3270fa,#414beb,#2a7ff7,#3f56f2,#3864f7,#2c7bf8,#4345e6,#2d79f8,#3569f8,#4051ef,#2980f7,#404fed,#346bf9,#2e78f8,#4345e6,#2b7cf7,#3962f7,#3e58f4,#2a7ff7,#424aea,#3172fa,#3074f9,#4248e8,#2a7ef7,#3c5bf5,#3b5ef6,#2b7df7,#4346e7,#2f76f9,#326ffa,#414ceb,#2a7ff7,#3f54f1,#3765f7,#2c7bf8,#4345e6,#2d79f8,#3668f8,#4052ef,#297ff7,#414eed,#346df9,#2e77f8,#4346e7,#2b7cf7,#3a61f6,#3e59f4,#2a7ff7,#4249e9,#3172f9,#3073f9,#4248e9,#2a7ef7,#3d5af5,#3a60f6,#2b7cf7,#4249e9,#3270fa,#3c5cf5,#4639dd,#463ade,#4535d5,#414beb,#3073f9,#1d9beb,#1ba1e5,#2c7bf7,#3f55f2,#4639dc,#4534d3,#453fe2,#3e57f3,#3e58f4,#3073f9,#3962f6,#3c5cf5,#2b7df7,#4249e9,#3073f9,#3172f9,#4249e9,#2a7ff7,#3d59f4,#3a61f6,#2b7cf7,#4346e7,#2e77f8,#346df9,#414eed,#297ff7,#4052f0,#3668f8,#2d79f8,#4347e7)"></i>
<i style="top:20.0px;height:2.6px;background:linear-gradient(90deg,#2e77f8,#414eed,#2b7df7,#3667f8,#3d5af5,#2881f6,#404fed,#3073f9,#2e77f8,#414ceb,#2980f6,#3a60f6,#3a61f6,#2980f6,#414beb,#2e77f8,#3173f9,#404fee,#2882f6,#3d5af4,#3668f8,#2b7df7,#4249e9,#2c7bf8,#346df9,#3f55f2,#2882f6,#3f53f1,#336ffa,#2c7af8,#424aea,#2a7ef7,#3766f7,#3c5bf5,#2881f6,#414eed,#3074f9,#2f76f9,#414ceb,#2980f6,#3b5ff6,#3962f6,#2980f7,#424bea,#2e78f8,#3172fa,#4050ee,#2882f6,#3e59f4,#3669f8,#2b7df7,#4249e9,#2b7cf7,#346cf9,#3e56f3,#2882f6,#4052f0,#3270fa,#2d7af8,#424aea,#2a7ff7,#3864f7,#3c5cf5,#2981f6,#414dec,#2f75f9,#2f75f9,#414dec,#2981f6,#3b5ef5,#3863f7,#2a7ef7,#414dec,#3172f9,#3a5ff6,#453ee1,#453ee1,#4638da,#4050ee,#2f76f9,#1c9ee8,#1aa4e2,#2a7ef7,#3d59f4,#453de0,#4537d8,#4344e5,#3d5bf5,#3c5bf5,#2f75f9,#3765f7,#3a5ff6,#2980f7,#414eec,#2f75f9,#2f75f9,#414dec,#2981f6,#3c5df5,#3864f7,#2a7ff7,#424aea,#2d79f8,#3270fa,#4052f0,#2882f6,#3e57f3,#346bf9,#2c7cf7,#414bea)"></i>
<i style="top:22.0px;height:2.6px;background:linear-gradient(90deg,#2d7af8,#4052f0,#2a7ff7,#356af9,#3b5ef6,#2784f5,#3f53f0,#2f75f9,#2d79f8,#4050ee,#2883f6,#3863f7,#3864f7,#2882f6,#404fee,#2d7af8,#2f75f9,#3f54f1,#2784f5,#3c5df5,#346bf9,#2980f6,#414eed,#2b7df7,#3270fa,#3d59f4,#2785f5,#3e58f4,#3172fa,#2b7cf7,#414eec,#2981f6,#3569f8,#3b5ff6,#2784f5,#4052f0,#2f76f9,#2d79f8,#4050ee,#2883f6,#3962f6,#3765f7,#2882f6,#404fee,#2c7af8,#3074f9,#3f54f1,#2785f5,#3c5cf5,#346cf9,#2a7ff7,#414dec,#2a7ef7,#326ffa,#3d5af5,#2785f5,#3e56f3,#3172fa,#2c7cf7,#414eed,#2981f6,#3668f8,#3a60f6,#2784f5,#4052ef,#2e77f8,#2e78f8,#4051ef,#2883f6,#3961f6,#3767f8,#2980f6,#4052ef,#2f75f9,#3963f7,#4442e4,#4443e4,#463bdf,#3f54f1,#2e78f8,#1ba0e6,#19a7df,#2980f6,#3c5df5,#4441e3,#463add,#4248e8,#3b5ef6,#3b5ff6,#2e78f8,#3669f8,#3863f7,#2882f6,#4052f0,#2e78f8,#2e77f8,#4052f0,#2784f5,#3a60f6,#3668f8,#2981f6,#414fed,#2c7cf7,#3173f9,#3e57f3,#2785f5,#3d5af5,#336ffa,#2a7ef7,#404fee)"></i>
<i style="top:24.0px;height:2.6px;background:linear-gradient(90deg,#2e78f8,#414dec,#2b7cf7,#3667f8,#3c5cf5,#2882f6,#414fed,#3172fa,#2e76f9,#414cec,#2981f6,#3a61f6,#3a60f6,#2a7ff7,#414beb,#2d78f8,#3073f9,#404fee,#2980f6,#3e59f4,#3668f8,#2a7ef7,#424aea,#2c7bf8,#346bf9,#3f55f2,#2883f6,#3f55f2,#336ffa,#2d79f8,#4248e9,#2a7ff7,#3767f8,#3c5cf5,#2981f6,#414ceb,#3074f9,#2e77f8,#414dec,#2981f6,#3b5df5,#3a61f6,#2980f6,#414ceb,#2d79f8,#3171fa,#414eed,#2881f6,#3d5af4,#356af9,#2b7df7,#4248e8,#2c7bf8,#346cf9,#3e58f4,#2883f6,#4052ef,#336efa,#2d79f8,#414bea,#297ff7,#3865f7,#3c5bf5,#2980f6,#414eec,#2f75f9,#2f76f9,#414ceb,#2980f7,#3b5df5,#3864f7,#2a7ff7,#404fed,#3073f9,#3a60f6,#453fe2,#4440e2,#4639dc,#4051ef,#2e76f9,#1b9fe7,#1aa5e1,#2a7ef7,#3d5af5,#453ee1,#4638da,#4345e6,#3c5cf5,#3c5df5,#2f76f9,#3767f8,#3a61f6,#2980f6,#404fee,#2f76f9,#2f76f9,#404fed,#2882f6,#3b5ef5,#3766f7,#2980f7,#414ceb,#2c7af8,#3171fa,#3f54f1,#2883f6,#3e58f4,#346df9,#2b7cf7,#414dec)"></i>
<i style="top:26.0px;height:2.6px;background:linear-gradient(90deg,#3074f9,#453fe2,#3074f9,#3961f6,#3e58f4,#2980f7,#4345e6,#3767f8,#3270fa,#4347e8,#2a7ff7,#3c5bf5,#3f54f1,#2e77f8,#4443e5,#2f76f9,#3171fa,#4346e7,#2d79f8,#414cec,#3864f7,#2b7cf7,#4344e6,#3074f9,#3b5ff6,#414ceb,#2980f6,#4050ee,#3668f8,#3171fa,#463bdf,#2c7bf7,#3864f7,#3e58f4,#2c7bf8,#453ce0,#336ef9,#3074f9,#4249e9,#2b7df7,#4050ee,#3f55f2,#2b7cf7,#4248e8,#2f76f9,#3569f8,#453ee1,#2b7cf7,#3f55f2,#3767f8,#2d79f8,#463add,#3074f9,#3766f8,#3f53f1,#2980f6,#4247e8,#3962f6,#3073f9,#4346e7,#2b7df7,#3a60f6,#414eed,#2d79f8,#4346e7,#3073f9,#3074f9,#4443e4,#2e78f8,#3f52f0,#3a60f6,#2b7df7,#414beb,#3171fa,#3b5ef5,#463cdf,#453ce0,#4536d8,#414eed,#2f75f9,#1c9de9,#1aa3e3,#2b7df7,#3e57f4,#463bdf,#4535d6,#4442e4,#3d59f4,#3d5af4,#3074f9,#3864f7,#3b5ef5,#2a7ff7,#414ceb,#3074f9,#3074f9,#414ceb,#2980f6,#3c5bf5,#3963f7,#2a7ef7,#4248e8,#2d78f8,#336ffa,#4050ee,#2981f6,#3f55f2,#356af8,#2c7bf8,#4249e9)"></i>
<i style="top:28.0px;height:2.6px;background:linear-gradient(90deg,#326ffa,#442eca,#3863f7,#3e58f4,#3f54f1,#2b7df7,#4537d9,#4050ee,#3962f6,#4440e2,#2b7cf7,#3f54f1,#453fe2,#3767f8,#4638da,#3073f9,#336df9,#4639dc,#3668f8,#4639dc,#3b5ef5,#2d7af8,#453de0,#3766f8,#4347e7,#453ee1,#2a7ef7,#414beb,#3b5ef6,#3b5ef5,#432dc7,#2e77f8,#3a60f6,#4051ef,#3171fa,#432ac3,#3962f6,#3172fa,#4344e6,#2e77f9,#4638db,#453fe1,#2e78f8,#4344e5,#3173f9,#3c5bf5,#432bc5,#3074f9,#404fed,#3863f7,#3074f9,#432ac3,#3962f7,#3b5ef5,#404fed,#2b7df7,#4638db,#424aea,#3667f8,#453fe2,#2c7bf8,#3e58f4,#4639dc,#3569f8,#463ade,#3271fa,#3271fa,#4536d7,#3767f8,#453fe2,#3d5af4,#2c7bf8,#4248e8,#3270fa,#3c5bf5,#4639dd,#463add,#4535d5,#414beb,#3073f9,#1d9beb,#1ba1e5,#2c7bf8,#3f55f1,#4639dc,#4533d3,#453fe1,#3e57f3,#3e58f4,#3173f9,#3962f6,#3c5cf5,#2b7df7,#4249e9,#3173f9,#3172fa,#4249e9,#2a7ef7,#3e59f4,#3a60f6,#2b7cf7,#4346e7,#2e77f8,#346df9,#414eec,#2a7ff7,#4052f0,#3668f8,#2d79f8,#4347e7)"></i>
<i style="top:30.0px;height:2.6px;background:linear-gradient(90deg,#346df9,#4226bc,#3e57f3,#4052f0,#4051ef,#2c7bf8,#4432d0,#453fe2,#3e59f4,#453de0,#2c7bf8,#404fee,#4534d5,#3d5af4,#4533d3,#3172fa,#356bf9,#4534d4,#3c5bf5,#4431cf,#3d5af5,#2d78f8,#4639dd,#3c5cf5,#4537da,#4638db,#2b7cf7,#4249e9,#3e59f4,#404fed,#4226bc,#2f75f9,#3b5ef5,#414dec,#3668f8,#4226bc,#3c5bf5,#3270fa,#4442e4,#3073f9,#442eca,#4534d3,#2f75f9,#4441e3,#3271fa,#4052ef,#4226bc,#336efa,#414ceb,#3a61f6,#3171fa,#4226bc,#3e56f3,#3d5af4,#414ceb,#2c7bf8,#4432d1,#4639dd,#3b5ff6,#453ce0,#2d79f8,#3f53f1,#442fcc,#3c5df5,#4536d8,#336ffa,#336ffa,#4431ce,#3d59f4,#4536d8,#3e57f3,#2d7af8,#4248e8,#3271fa,#3b5df5,#463bdf,#463cdf,#4536d7,#414dec,#3074f9,#1c9cea,#1aa3e3,#2b7cf7,#3e57f3,#463ade,#4535d5,#4441e3,#3e59f4,#3d5af4,#3074f9,#3864f7,#3b5ef5,#2a7ef7,#414ceb,#3074f9,#3073f9,#414ceb,#2a7ff7,#3c5bf5,#3962f7,#2b7df7,#4249e9,#2e78f8,#336efa,#4050ee,#2980f6,#3f55f2,#3569f8,#2c7af8,#4249e9)"></i>
<i style="top:32.0px;height:2.6px;background:linear-gradient(90deg,#3270fa,#432bc4,#3c5df5,#4051ef,#4346e7,#2f76f9,#4533d3,#4247e8,#3c5cf5,#4638da,#3074f9,#414ceb,#4639dc,#3a60f6,#4534d3,#356af9,#3963f7,#4535d6,#3961f6,#4535d5,#3f56f3,#3172fa,#4536d8,#3a60f6,#453ee1,#4639dc,#2e77f9,#453ee1,#3e59f4,#3e57f3,#4228c0,#3172f9,#3f53f1,#4247e8,#346cf9,#4226bc,#3c5df5,#3669f8,#4638db,#3073f9,#4533d2,#4638db,#3073f9,#4537d9,#346bf9,#3f56f2,#4226bc,#3270fa,#4344e5,#3e57f4,#3270fa,#4226bc,#3c5cf5,#3e58f4,#4441e3,#2e77f9,#4534d4,#4441e3,#3962f6,#4537d9,#3073f9,#4051ef,#4534d4,#3963f7,#4536d7,#3766f7,#3667f8,#4432d1,#3a5ff6,#463add,#4051ef,#3073f9,#4443e5,#3171fa,#3b5ff6,#453ee1,#453ee1,#4638da,#4050ee,#2f76f9,#1c9ee8,#1aa4e2,#2a7ef7,#3d59f4,#453de0,#4537d8,#4344e5,#3d5bf5,#3c5cf5,#2f75f9,#3766f7,#3a60f6,#2a7ff7,#404fee,#2f75f9,#3074f9,#404fed,#2980f6,#3b5df5,#3865f7,#2a7ef7,#414ceb,#2d79f8,#3270fa,#3f54f1,#2981f6,#3e58f4,#346bf9,#2c7bf8,#414dec)"></i>
<i style="top:34.0px;height:2.6px;background:linear-gradient(90deg,#3074f9,#463bdf,#326ffa,#3f53f0,#4535d6,#346df9,#463ade,#3a5ff6,#3668f8,#4432d0,#3765f7,#4347e7,#414ceb,#3172fa,#4537d9,#3c5bf5,#3f55f2,#463ade,#3073f9,#4344e5,#414eed,#3961f6,#4432d0,#336ef9,#3e58f4,#453fe2,#346cf9,#4431cf,#3c5cf5,#356af9,#4536d7,#336ffa,#453ee1,#453ee1,#2f75f9,#4536d8,#3864f7,#3c5cf5,#432cc5,#3073f9,#4248e8,#414cec,#3171fa,#4329c2,#3962f6,#3a61f6,#4638da,#2f75f9,#4638db,#4443e5,#326ffa,#4535d5,#336df9,#3e58f4,#4431cf,#336ffa,#453de0,#3d5bf5,#346cf9,#4430cd,#3863f7,#414eec,#4346e7,#3073f9,#4638da,#3f55f2,#3d5bf5,#4638db,#3172f9,#4249e9,#4248e8,#3963f7,#4639dc,#3171fa,#3a61f6,#4440e3,#4440e3,#4639dd,#4052f0,#2e77f9,#1b9fe7,#1aa6e0,#2a7ff7,#3d5bf5,#453fe2,#4638db,#4346e7,#3c5df5,#3b5ef6,#2f76f9,#3668f8,#3962f7,#297ff7,#3f53f0,#2f76f9,#2f75f9,#3f53f0,#2981f6,#3a60f6,#3767f8,#2a7ff7,#4050ee,#2d7af8,#3171fa,#3e57f3,#2881f6,#3d5bf5,#336df9,#2c7cf7,#4051ef)"></i>
<i style="top:36.0px;height:2.6px;background:linear-gradient(90deg,#2e78f8,#414eed,#2d79f8,#3e56f3,#442fcb,#3766f7,#4343e5,#326ffa,#3171fa,#4430cc,#3d5bf5,#4346e7,#3c5bf5,#2c7bf7,#463bdf,#4051ef,#414beb,#4442e4,#2b7df7,#3f53f0,#414ceb,#3e57f3,#4431ce,#2f76f9,#3668f8,#4347e7,#3864f7,#432bc5,#3a60f6,#2f76f9,#4344e6,#336df9,#4535d5,#463ade,#2c7bf8,#424aea,#356af8,#3f55f1,#4226bc,#2f75f9,#3d5af5,#3c5df5,#3171fa,#4226bc,#3c5df5,#356af8,#414dec,#2c7af8,#4534d4,#4639dc,#3270fa,#4345e6,#2e77f8,#3d59f4,#432bc4,#3668f8,#4248e8,#346bf9,#3073f9,#432dc8,#3d59f4,#414eed,#3e57f4,#2b7cf7,#463bdf,#424bea,#3f53f0,#4441e3,#2b7cf7,#3e57f3,#4344e5,#3e58f4,#4536d7,#3171fa,#3962f7,#4443e5,#4442e4,#463cdf,#3f55f2,#2e78f8,#1ba1e5,#19a7df,#2980f6,#3c5df5,#4442e4,#463ade,#4248e8,#3b5ef6,#3a61f6,#2e76f9,#356af9,#3765f7,#2980f7,#3e58f4,#2e77f8,#2e76f9,#3e58f4,#2981f6,#3863f7,#356af8,#2a7ff7,#3f55f2,#2c7af8,#3173f9,#3c5bf5,#2882f6,#3b5ef6,#3270fa,#2b7cf7,#3f56f2)"></i>
<i style="top:38.0px;height:2.6px;background:linear-gradient(90deg,#297ff7,#3961f6,#2883f6,#3668f8,#4344e5,#2f75f9,#3d59f4,#2c7af8,#2c7bf8,#4344e5,#336ffa,#3c5cf5,#346cf9,#2687f4,#4052f0,#3766f8,#3962f6,#3e58f4,#2589f3,#3765f7,#3a60f6,#356bf9,#4345e6,#2980f7,#2f76f9,#3c5cf5,#3074f9,#453fe2,#3270fa,#2980f6,#3d5bf5,#2d79f8,#414dec,#3f52f0,#2685f4,#3a60f6,#2e76f9,#3668f8,#4638da,#2a7ef7,#346cf9,#336ef9,#2c7bf8,#4536d6,#336ffa,#2f76f9,#3961f6,#2784f5,#424aea,#3f52f0,#2c7af8,#3c5bf5,#2881f6,#356af9,#453ee1,#2e76f9,#3c5df5,#2e78f8,#2b7df7,#4440e2,#346df9,#3962f6,#3669f8,#2588f3,#4052f0,#3961f6,#3767f8,#3e57f3,#2588f3,#3668f8,#3d5bf5,#346cf9,#424aea,#2d79f8,#336df9,#4051ef,#4050ee,#4249e9,#3a60f6,#2a7ff7,#19a9dd,#17afd7,#2589f3,#3668f8,#404fee,#4247e8,#3f56f2,#3569f8,#336df9,#2b7df7,#2f75f9,#3173f9,#2588f3,#3668f8,#2a7ff7,#2a7ef7,#3668f8,#248af2,#3171fa,#2f75f9,#2588f3,#3766f8,#2882f6,#2c7bf8,#346bf9,#248bf2,#336ef9,#2d79f8,#2784f5,#3767f8)"></i>
<i style="top:40.0px;height:2.6px;background:linear-gradient(90deg,#2588f3,#3270fa,#238df1,#2e78f8,#3668f8,#2687f4,#336ef9,#2784f5,#2686f4,#3864f7,#2883f6,#3073f9,#2d78f8,#2093ee,#356af8,#2b7df7,#2d7af8,#336df9,#1f95ed,#2f75f9,#2f76f9,#2981f6,#3864f7,#238cf1,#2a7ff7,#3271fa,#2587f3,#3865f7,#2b7df7,#238cf1,#336df9,#2589f3,#3271fa,#326ffa,#2093ee,#3271fa,#2882f6,#2b7df7,#3a60f6,#238ef1,#2e78f8,#2d79f8,#248bf2,#3b5ef5,#2980f7,#2981f6,#3172fa,#2192ef,#356bf9,#3173f9,#2589f3,#336df9,#238df1,#2c7af8,#3766f7,#2589f3,#3270fa,#2981f6,#2589f3,#3962f7,#2882f6,#2f76f9,#2e76f9,#2094ee,#356af9,#2c7af8,#2b7cf7,#346cf9,#2093ee,#2f76f9,#3073f9,#2981f6,#3767f8,#2981f6,#2f76f9,#3b5ff6,#3c5df5,#3e58f4,#346cf9,#2588f3,#17b1d5,#1ab6cc,#2094ee,#3172fa,#3c5cf5,#3f56f2,#3962f6,#3173f9,#2e78f8,#2589f3,#2882f6,#2882f6,#1d9aeb,#2b7cf7,#2191ef,#2191ef,#2b7cf7,#1c9cea,#2882f6,#2687f4,#1d9beb,#2b7cf7,#1f96ed,#238ef1,#2a7ef7,#1c9de9,#2980f7,#248af2,#1e97ec,#2c7bf8)"></i>
<i style="top:42.0px;height:2.6px;background:linear-gradient(90deg,#2092ee,#2c7af8,#1e97ec,#2686f4,#2a7ff7,#1b9ee8,#2980f7,#1f96ed,#1d9aeb,#2b7df7,#1b9ee8,#2687f4,#248af2,#1aa2e4,#2a7ff7,#1e97ec,#2093ee,#2980f6,#1aa4e2,#2686f4,#238cf1,#1c9de9,#2b7df7,#1b9ee8,#2092ee,#2883f6,#1ba1e5,#2980f6,#2092ee,#1c9ee8,#2a7ff7,#1b9fe7,#2589f3,#2785f5,#1aa3e3,#2981f6,#1e97ec,#1e97ec,#2b7df7,#1ba2e4,#248af2,#248bf2,#1ba1e5,#2b7df7,#1d99eb,#1f96ed,#2882f6,#1aa3e3,#2882f6,#248cf2,#1b9fe7,#2a7ff7,#1b9fe7,#2290f0,#2981f6,#1ba1e5,#2882f6,#1f94ed,#1c9de9,#2b7df7,#1c9ee8,#248bf2,#2687f4,#1aa3e3,#2a7ff7,#2094ee,#1f95ed,#2a7ff7,#1aa2e4,#2687f4,#2588f3,#1c9cea,#2b7df7,#2290f0,#2a7ff7,#346df9,#3669f8,#3865f7,#2f75f9,#2094ee,#1db8c6,#23bcbc,#1b9fe7,#2c7af8,#3569f8,#3863f7,#336efa,#2c7bf8,#2589f3,#1aa2e4,#1aa5e1,#18abdb,#1cb8c7,#19a7df,#18b6ce,#19b6cd,#19a9dd,#21bbbf,#17afd7,#16b3d3,#21bbbf,#18aadc,#1eb9c4,#19b6cd,#18add9,#22bcbd,#18add9,#16b3d3,#1cb8c8,#1aa6e0)"></i>
<i style="top:44.0px;height:2.6px;background:linear-gradient(90deg,#1ba1e5,#238cf1,#1aa4e2,#1b9fe7,#1ba1e5,#1db9c5,#18aadc,#1bb7c9,#1eb9c5,#19aadc,#23bdbb,#16b2d4,#16b3d3,#25beb8,#18acda,#20bac1,#1db9c5,#18aed8,#27bfb5,#17b2d4,#19b6cd,#24bdba,#18acda,#23bdbb,#1bb8c9,#17b0d6,#27bfb4,#17afd7,#1cb8c7,#23bcbb,#18add9,#25beb8,#18b6ce,#16b3d3,#27bfb4,#17afd7,#1fbac2,#20bbc0,#18add9,#27bfb4,#17b4d1,#18b5cf,#26bfb6,#18add9,#22bcbe,#1eb9c4,#17afd7,#28bfb4,#17b1d5,#1ab6cc,#24bdb9,#18add9,#24bdba,#1bb7ca,#17b0d6,#27bfb5,#17afd7,#1cb8c7,#22bcbd,#18acda,#24bdb9,#17b5d0,#17b2d4,#25beb8,#18abdb,#1cb8c7,#1db8c7,#18aadc,#23bcbb,#17afd7,#17b1d5,#20bac1,#1aa4e2,#18aadc,#1f96ed,#2c7bf7,#2e77f8,#2f75f9,#2882f6,#1aa4e2,#2ac1ae,#35c4a4,#18add9,#2589f3,#2e78f8,#3074f9,#2c7bf7,#2589f3,#19a9dd,#2bc2ad,#53c88d,#8ec868,#b7c551,#8dc868,#b6c552,#bac450,#a1c75d,#d1c145,#b7c551,#c0c34d,#d7c042,#b0c655,#d2c145,#c8c249,#b4c553,#dbbf40,#b2c553,#b6c551,#bcc44f,#84c86e)"></i>
<i style="top:46.0px;height:2.6px;background:linear-gradient(90deg,#19a7df,#1d99eb,#19a9dd,#17b1d5,#22bcbd,#5fc983,#5ac988,#7dc972,#87c86c,#5ec984,#9cc760,#75c976,#79c974,#a7c65a,#6cca7b,#a0c75e,#9ac761,#76c976,#b2c654,#80c970,#8fc868,#adc656,#73c977,#abc657,#96c763,#7ec971,#b5c552,#7dc971,#9ac761,#acc657,#77c975,#b2c553,#92c866,#88c86c,#b7c551,#7dc972,#a5c75b,#a9c658,#7cc972,#b8c551,#8ec868,#91c866,#b6c551,#7bc973,#abc657,#a1c75d,#7ec971,#b7c551,#84c86e,#94c764,#b0c655,#75c976,#adc656,#95c764,#7ec971,#b4c553,#7ac974,#97c763,#a6c65a,#71c979,#acc657,#85c86d,#78c974,#a5c75b,#64ca80,#89c86b,#86c86c,#5cc986,#91c866,#61ca82,#62ca82,#81c870,#39c5a1,#29c0b1,#18abdb,#2784f5,#2b7df7,#2b7cf7,#248bf2,#18abdb,#37c4a2,#46c697,#17b4d1,#2192ef,#2a7ef7,#2c7bf8,#2882f6,#2192ef,#24bdba,#95c764,#edbd36,#f9c928,#f8d124,#f9cc26,#f8d422,#f8d621,#f8d422,#f7de1d,#f7da1f,#f7dd1d,#f7e21b,#f7da1f,#f7e01b,#f7df1c,#f7db1e,#f6e21a,#f8d91f,#f8d721,#f8d522,#f9c928)"></i>
<i style="top:48.0px;height:2.6px;background:linear-gradient(90deg,#1aa5e1,#1c9de9,#19a7df,#1fbac3,#50c78f,#d1c145,#ebbd38,#f0bd34,#f2be33,#edbd36,#f5be30,#f1be33,#f3be32,#f8be2e,#f2be33,#f9be2e,#f8be2e,#f4be31,#fac02c,#f6be30,#f7be2f,#fabf2c,#f4be31,#fabf2d,#f8be2e,#f6be30,#fac12b,#f6be30,#f9be2e,#fac02c,#f5be30,#fac12b,#f9be2e,#f8be2f,#fac22b,#f7be30,#fabf2c,#fac02c,#f7be2f,#fac32b,#f9be2e,#f9be2e,#fac32b,#f6be30,#fac02c,#fabf2d,#f6be30,#fac22b,#f7be2f,#f9be2e,#fac02c,#f5be31,#fac02c,#f8be2e,#f6be30,#fac02c,#f5be31,#f8be2e,#fabe2d,#f4be32,#fabe2d,#f5be31,#f3be32,#f7be2f,#efbd35,#f3be32,#f2be33,#ecbd37,#f2be33,#ecbd37,#ebbd38,#eebd36,#b6c552,#5dc985,#1ab7cb,#2686f4,#2b7cf7,#2b7cf7,#248bf2,#18abdb,#37c4a2,#45c697,#17b4d1,#2192ef,#2a7ef7,#2c7bf8,#2882f6,#2192ef,#2cc3ab,#c7c24a,#fac22b,#f6e419,#f5ea16,#f6e917,#f5ee14,#f5ee14,#f5ee14,#f5ee14,#f5ee14,#f5ee14,#f5ee14,#f5ee14,#f5ee14,#f5ee14,#f5ee14,#f5ee14,#f5ee14,#f5ee14,#f5ee14,#f6e519)"></i>
<i style="top:50.0px;height:2.6px;background:linear-gradient(90deg,#1aa4e2,#1b9fe7,#1aa5e1,#22bcbd,#62ca81,#e6bd3b,#f4be32,#f7be2f,#f9be2e,#f7be2f,#fac12c,#fabe2d,#fac02c,#f9c529,#fac12c,#f9c729,#f9c729,#fac42a,#f9c927,#f9c52a,#f9c629,#f9c927,#f9c42a,#f9c927,#f9c828,#f9c629,#f9cb27,#f9c629,#f9c928,#f9ca27,#f9c629,#f9cb26,#f9c828,#f9c828,#f9cc26,#f9c729,#f9cb27,#f9cb26,#f9c728,#f9cd25,#f9c927,#f9c927,#f9cd26,#f9c728,#f9cb26,#f9ca27,#f9c729,#f9cc26,#f9c729,#f9c828,#f9cb27,#f9c52a,#f9ca27,#f9c828,#f9c529,#f9ca27,#f9c42a,#f9c729,#f9c828,#fac32a,#f9c828,#fac32a,#fac12c,#fac42a,#f9be2e,#fabf2d,#f9be2e,#f5be31,#f8be2e,#f4be32,#f3be32,#f4be31,#d7c042,#6fc97a,#1db9c5,#2687f4,#2b7cf7,#2b7cf7,#248bf2,#18abdb,#36c4a3,#44c698,#17b4d1,#2192ef,#2a7ef7,#2c7bf8,#2882f6,#2192ef,#26bfb6,#9ac761,#f0bd34,#f9ce25,#f8d323,#f8d322,#f8d820,#f7da1f,#f7db1e,#f7e11b,#f7e11b,#f6e31a,#f6e519,#f6e21a,#f6e419,#f6e41a,#f6e21a,#f6e519,#f7e01b,#f7dc1e,#f8d820,#f9d024)"></i>
<i style="top:52.0px;height:2.6px;background:linear-gradient(90deg,#1aa3e3,#1ba0e6,#1aa4e2,#1ab7cb,#3ac5a0,#8cc869,#bec44e,#c9c249,#cec147,#c8c249,#d7c042,#d3c044,#d7c042,#e2be3d,#dabf40,#e7bd3b,#e7bd3a,#e1be3d,#e9bd39,#e3be3c,#e7bd3b,#e9bd39,#e2be3d,#e9bd39,#e8bd3a,#e5bd3b,#eabd39,#e6bd3b,#e9bd39,#eabd39,#e6bd3b,#eabd38,#e9bd39,#e9bd3a,#ebbd38,#e8bd3a,#eabd39,#eabd38,#e8bd3a,#ebbd38,#e9bd39,#e9bd39,#ebbd38,#e8bd3a,#eabd38,#eabd39,#e8bd3a,#eabd38,#e8bd3a,#e9bd39,#eabd39,#e4be3c,#e9bd39,#e8bd3a,#e5be3c,#e9bd39,#e3be3c,#e8bd3a,#e8bd3a,#e0be3e,#e8bd3a,#dfbe3e,#dabf41,#dfbe3e,#cfc146,#d3c044,#cfc146,#c3c34b,#cbc248,#bec44e,#bbc44f,#bdc44e,#80c970,#3cc59e,#17b1d5,#2687f4,#2b7cf7,#2b7cf7,#248bf2,#18abdb,#34c4a4,#42c69a,#16b4d2,#2192ef,#2a7ff7,#2c7bf8,#2882f6,#2192ef,#17b5d0,#3cc59f,#7ec971,#c5c34b,#cfc146,#cfc146,#d9bf41,#dfbe3e,#e1be3d,#e9bd39,#e9bd39,#eabd38,#ebbd38,#eabd39,#ebbd38,#eabd38,#eabd39,#ebbd38,#e9bd3a,#e1be3d,#d8bf41,#c8c249)"></i>
<i style="top:54.0px;height:2.6px;background:linear-gradient(90deg,#1aa3e3,#1ba1e5,#1aa3e3,#18acda,#1ab7cb,#28c0b3,#30c3a7,#35c4a4,#37c4a2,#34c4a4,#3bc59f,#39c5a1,#3ac5a0,#40c59c,#3cc59f,#41c69b,#41c69b,#3ec59d,#44c699,#3fc59c,#41c69b,#44c699,#3fc59d,#44c699,#42c69a,#40c59b,#45c697,#40c59b,#43c699,#45c698,#40c59b,#46c697,#43c699,#42c69a,#47c696,#41c69a,#45c698,#46c697,#42c69a,#48c696,#44c699,#44c698,#47c696,#42c69a,#46c697,#45c698,#41c69b,#46c697,#41c69a,#43c699,#45c698,#40c59c,#44c698,#42c69a,#40c59c,#45c698,#3fc59c,#41c69a,#43c699,#3ec59d,#43c699,#3ec59d,#3bc59f,#3ec59d,#37c4a2,#39c5a1,#38c4a2,#32c4a6,#36c4a3,#30c3a7,#2fc3a8,#31c3a7,#25beb7,#19b6cd,#1aa3e3,#2686f4,#2b7cf7,#2b7cf7,#248bf2,#19aadc,#30c3a8,#3ec59d,#16b3d3,#2192ef,#2a7ff7,#2c7cf7,#2883f6,#2093ee,#19a8de,#19b6cd,#23bdbb,#2cc3ab,#30c3a8,#30c3a8,#35c4a4,#37c4a2,#38c4a2,#3dc59e,#3dc59e,#3fc59d,#40c59b,#3ec59d,#40c59c,#3fc59d,#3dc59e,#3fc59c,#3ac5a0,#37c4a3,#33c4a5,#2dc3aa)"></i>
<i style="top:56.0px;height:2.6px;background:linear-gradient(90deg,#2882f6,#2981f6,#2882f6,#2882f6,#2882f6,#2686f4,#2686f4,#2785f5,#2785f5,#2784f5,#2686f4,#2785f5,#2785f5,#2686f4,#2686f4,#2687f4,#2686f4,#2686f4,#2588f3,#2686f4,#2686f4,#2687f4,#2686f4,#2687f4,#2686f4,#2686f4,#2588f3,#2686f4,#2686f4,#2588f3,#2686f4,#2687f4,#2686f4,#2687f4,#2588f3,#2686f4,#2687f4,#2588f3,#2686f4,#2588f3,#2687f4,#2687f4,#2588f3,#2686f4,#2687f4,#2588f3,#2686f4,#2687f4,#2686f4,#2687f4,#2687f4,#2685f4,#2687f4,#2687f4,#2686f4,#2687f4,#2686f4,#2687f4,#2687f4,#2785f5,#2687f4,#2686f4,#2785f5,#2686f4,#2785f5,#2686f4,#2785f5,#2783f5,#2685f4,#2784f5,#2784f5,#2588f3,#2686f4,#2883f6,#2c7af8,#346bf9,#3b5ef5,#3b5ef6,#3270fa,#2588f3,#18add9,#16b3d3,#2093ee,#3074f9,#3961f6,#3b5df5,#3669f8,#2e77f9,#2881f6,#248bf2,#2190ef,#2094ee,#1f96ed,#1f96ed,#1e98ec,#1e98ec,#1e99ec,#1d9aeb,#1d9aeb,#1d9beb,#1c9bea,#1d9aeb,#1d9beb,#1d9aeb,#1d9aeb,#1d9aeb,#1e98ec,#1e97ec,#1f96ed,#1f94ed)"></i>
<i style="top:58.0px;height:2.6px;background:linear-gradient(90deg,#2881f6,#2980f6,#2b7df7,#346cf9,#4051ef,#4441e3,#4537d9,#4329c1,#4226bc,#4226bc,#432ac2,#4227bd,#4226bc,#4226bc,#4329c2,#4227bd,#4226bc,#4226bc,#432ac3,#4226bc,#4226bc,#4227be,#4329c1,#4226bc,#4226bc,#4227be,#432ac3,#4226bc,#4226bc,#4329c0,#4329c0,#4226bc,#4226bc,#4329c0,#4329c1,#4226bc,#4226bc,#4329c2,#4228bf,#4226bc,#4226bc,#4329c2,#4228bf,#4226bc,#4226bc,#432ac3,#4226bd,#4226bc,#4226bc,#432ac2,#4226bd,#4226bc,#4227be,#432ac2,#4226bc,#4226bc,#4227be,#432ac2,#4226bc,#4226bc,#4228c0,#4329c1,#4226bc,#4226bc,#4228bf,#4329c1,#4226bc,#4226bc,#4329c1,#4228bf,#4329c1,#4639dd,#3e59f4,#336efa,#3074f9,#3669f8,#3d5af4,#3e58f4,#3766f7,#2b7cf7,#1c9cea,#1ba0e6,#2980f6,#3667f8,#3f56f2,#3f54f1,#3863f7,#2f75f9,#2a7ff7,#2785f5,#2589f3,#248bf2,#238cf1,#238df1,#228ef0,#228ff0,#2290f0,#2191ef,#2191ef,#2192ef,#2192ef,#2191ef,#2192ef,#2191ef,#2190ef,#2290f0,#228ff0,#238ef1,#238df1,#248bf2)"></i>
<i style="top:60.0px;height:2.6px;background:linear-gradient(90deg,#2784f5,#2783f5,#2882f6,#2c7bf8,#3074f9,#3270fa,#356af9,#3963f7,#3a60f6,#3a60f6,#3963f7,#3961f6,#3a5ff6,#3961f6,#3962f7,#3961f6,#3a60f6,#3a61f6,#3863f7,#3a61f6,#3a5ff6,#3962f6,#3962f7,#3a61f6,#3a60f6,#3962f6,#3963f7,#3a60f6,#3a60f6,#3962f7,#3962f7,#3a60f6,#3a60f6,#3962f7,#3962f7,#3a60f6,#3a60f6,#3963f7,#3962f6,#3a60f6,#3a60f6,#3963f7,#3962f6,#3a5ff6,#3a61f6,#3963f7,#3961f6,#3a60f6,#3a61f6,#3963f7,#3961f6,#3a5ff6,#3962f6,#3963f7,#3a61f6,#3a60f6,#3961f6,#3963f7,#3a61f6,#3a5ff6,#3962f7,#3962f7,#3a60f6,#3a60f6,#3962f6,#3962f7,#3a60f6,#3a60f6,#3963f7,#3962f6,#3863f7,#346cf9,#3074f9,#2e78f8,#2f76f9,#3667f8,#3f54f1,#424aea,#4051ef,#3865f7,#2d79f8,#2d79f8,#3961f6,#4344e5,#4639dc,#4440e3,#3d5af4,#3172fa,#2a7ef7,#2686f4,#248bf2,#238ef1,#2290f0,#2191ef,#2093ee,#2094ee,#1f95ed,#1f96ed,#1e97ec,#1e97ec,#1e97ec,#1e97ec,#1e97ec,#1f96ed,#1f95ed,#2094ee,#2093ee,#2192ef,#2190ef,#228ff0)"></i>
<i style="top:62.0px;height:2.6px;background:linear-gradient(90deg,#228ef0,#228ef0,#228ef0,#228ef0,#238ef1,#238ef1,#238df1,#238df1,#238df1,#238df1,#238df1,#238df1,#238df1,#238df1,#238df1,#238df1,#238df1,#238df1,#238df1,#238df1,#238df1,#238df1,#238df1,#238df1,#238df1,#238df1,#238df1,#238df1,#238df1,#238df1,#238df1,#238df1,#238df1,#238df1,#238df1,#238df1,#238df1,#238df1,#238df1,#238df1,#238df1,#238df1,#238df1,#238df1,#238df1,#238df1,#238df1,#238df1,#238df1,#238df1,#238df1,#238df1,#238df1,#238df1,#238df1,#238df1,#238df1,#238df1,#238df1,#238df1,#238df1,#238df1,#238df1,#238df1,#238df1,#238df1,#238df1,#238df1,#238df1,#238df1,#238df1,#238df1,#248bf2,#2687f4,#2a7ef7,#3171fa,#3b5ef6,#4052f0,#4052f0,#3c5df5,#356bf9,#3669f8,#4052f0,#453ce0,#4639db,#4346e6,#3961f6,#2d78f8,#2687f4,#2192ef,#1e98ec,#1c9bea,#1c9de9,#1b9fe7,#1ba1e5,#1ba2e4,#1aa3e3,#1aa4e2,#1aa5e1,#1aa5e1,#1aa5e1,#1aa5e1,#1aa5e1,#1aa4e2,#1aa3e3,#1aa2e4,#1ba1e5,#1b9fe7,#1c9ee8,#1c9cea)"></i>
<i style="top:64.0px;height:2.6px;background:linear-gradient(90deg,#1aa2e4,#1aa2e4,#1aa3e3,#1aa4e2,#1aa4e2,#1aa5e1,#19a6e0,#19a7df,#19a7df,#19a7df,#19a7df,#19a7df,#19a7df,#19a7df,#19a7df,#19a7df,#19a7df,#19a7df,#19a7df,#19a7df,#19a7df,#19a7df,#19a7df,#19a7df,#19a7df,#19a7df,#19a7df,#19a7df,#19a7df,#19a7df,#19a6e0,#19a7df,#19a6e0,#19a6e0,#19a6e0,#19a6e0,#19a6e0,#19a6e0,#19a6e0,#19a6e0,#19a6e0,#1aa6e0,#1aa6e0,#1aa5e1,#1aa5e1,#1aa5e1,#1aa4e2,#1aa4e2,#1aa4e2,#1aa4e2,#1aa4e2,#1aa3e3,#1aa3e3,#1aa3e3,#1aa3e3,#1aa3e3,#1aa3e3,#1aa3e3,#1aa3e3,#1aa3e3,#1aa3e3,#1aa3e3,#1aa3e3,#1aa3e3,#1aa2e4,#1aa3e3,#1aa2e4,#1aa2e4,#1aa2e4,#1aa2e4,#1aa2e4,#1ba2e4,#1ba1e5,#1c9ee8,#1f96ed,#2687f4,#2b7cf7,#2e78f8,#2c7af8,#2980f6,#248af2,#2589f3,#2a7ef7,#2f75f9,#3172fa,#2f76f9,#2881f6,#1f94ed,#1ba2e4,#19a9dd,#18add9,#17b0d6,#16b2d4,#16b4d2,#18b5cf,#19b6cc,#1bb7ca,#1cb8c8,#1db8c6,#1db9c5,#1db9c5,#1db9c5,#1db8c6,#1cb8c8,#1bb7ca,#19b6cc,#18b5cf,#16b4d2,#16b2d4,#17b1d5)"></i>
<i style="top:66.0px;height:2.6px;background:linear-gradient(90deg,#18add9,#18add9,#17afd7,#16b4d1,#1cb8c8,#21bbbe,#27bfb5,#2cc2ac,#2dc3ab,#2dc3ab,#2dc3aa,#2dc3aa,#2dc3aa,#2dc3aa,#2dc3aa,#2dc3aa,#2dc3aa,#2dc3aa,#2dc3aa,#2dc3aa,#2dc3aa,#2dc3aa,#2dc3aa,#2dc3aa,#2dc3aa,#2dc3aa,#2dc3aa,#2dc3aa,#2dc3aa,#2dc3aa,#2dc3aa,#2dc3aa,#2dc3aa,#2dc3aa,#2dc3aa,#2dc3aa,#2dc3aa,#2dc3aa,#2dc3aa,#2dc3aa,#2dc3aa,#2dc3ab,#2bc2ad,#2ac1af,#29c1b1,#28c0b2,#27bfb4,#26beb6,#25beb8,#24bdba,#23bcbc,#22bcbe,#21bbbf,#20bac1,#1fbac3,#1eb9c4,#1db9c6,#1cb8c7,#1bb8c9,#1bb7ca,#1ab7cb,#19b6cd,#18b6ce,#18b5cf,#17b5d0,#17b4d1,#16b2d4,#17afd7,#18aed8,#18add9,#18add9,#18add9,#18acda,#19aadc,#1aa5e1,#1c9de9,#1f96ed,#2094ee,#1d9beb,#1aa3e3,#18abdb,#18acda,#1aa5e1,#1c9de9,#1e97ec,#1e98ec,#1ba0e6,#18abdb,#16b3d3,#19b6cc,#1cb8c7,#1fbac3,#21bbbf,#23bdbb,#25beb8,#27bfb4,#29c0b2,#2ac1af,#2bc2ad,#2cc2ac,#2cc2ac,#2cc2ac,#2bc2ad,#2ac1af,#29c0b1,#27bfb4,#25beb7,#23bdbb,#21bbbe,#1fbac2)"></i>
<i style="top:68.0px;height:2.6px;background:linear-gradient(90deg,#19a8de,#19a8de,#19a9dd,#18aed8,#16b2d4,#18b6ce,#1cb8c7,#21bbc0,#21bbbe,#21bbbe,#22bcbe,#22bcbd,#22bcbd,#22bcbd,#22bcbc,#23bcbc,#23bcbc,#23bcbb,#23bdbb,#23bdbb,#24bdba,#24bdba,#24bdba,#24bdb9,#24bdb9,#25beb9,#25beb8,#25beb8,#25beb7,#26beb7,#26beb7,#26beb6,#26bfb6,#26bfb5,#27bfb5,#27bfb5,#27bfb4,#27bfb4,#28c0b3,#28c0b3,#28c0b2,#29c0b1,#29c1b0,#2ac1af,#2bc1ae,#2bc2ad,#2cc2ac,#2cc2ac,#2cc3ab,#2dc3aa,#2dc3aa,#2ec3a9,#2ec3a9,#2ec3a9,#2fc3a9,#2fc3a9,#2ec3a9,#2ec3a9,#2ec3a9,#2dc3aa,#2dc3aa,#2cc3ab,#2cc2ac,#2cc2ac,#2bc2ad,#2bc1ae,#28c0b3,#22bcbd,#1cb8c7,#16b4d1,#17b0d6,#18acda,#19aadc,#19a7df,#1aa3e3,#1b9ee8,#1d9aeb,#1d9aeb,#1b9fe7,#1aa5e1,#18abdb,#18acda,#19a9dd,#1aa3e3,#1ba0e6,#1ba0e6,#1aa5e1,#18acda,#17b1d5,#17b5d0,#1ab7cb,#1cb8c7,#1fbac3,#21bbbe,#24bdba,#26beb7,#27bfb4,#29c0b1,#2ac1af,#2bc2ae,#2bc2ad,#2bc2ae,#2ac1af,#29c0b1,#28c0b3,#26beb6,#24bdba,#22bcbe,#1fbac2,#1db9c6)"></i>
<i style="top:70.0px;height:2.6px;background:linear-gradient(90deg,#3073f9,#3073f9,#3073f9,#3073f9,#3073f9,#3074f9,#3074f9,#3074f9,#3074f9,#3074f9,#3074f9,#3073f9,#3073f9,#3073f9,#3073f9,#3073f9,#3073f9,#3173f9,#3172f9,#3172f9,#3172fa,#3172fa,#3172fa,#3172fa,#3172fa,#3171fa,#3171fa,#3171fa,#3171fa,#3171fa,#3171fa,#3171fa,#3171fa,#3271fa,#3271fa,#3271fa,#3271fa,#3271fa,#3271fa,#3171fa,#3171fa,#3171fa,#3171fa,#3172fa,#3172fa,#3173f9,#3073f9,#3074f9,#3074f9,#2f75f9,#2f75f9,#2f76f9,#2e76f9,#2e77f8,#2e78f8,#2d79f8,#2d79f8,#2c7af8,#2c7bf8,#2c7cf7,#2b7cf7,#2b7df7,#2a7ef7,#2a7ff7,#2980f7,#2980f6,#2785f5,#238cf1,#2191ef,#2093ee,#2192ef,#238df1,#2687f4,#2980f6,#2d78f8,#3270fa,#356af9,#356af9,#336efa,#3172f9,#2f76f9,#2e77f9,#2f75f9,#3073f9,#3172fa,#3172f9,#2f76f9,#2d7af8,#2a7ef7,#2981f6,#2783f5,#2687f4,#248af2,#238df1,#2191ef,#2093ee,#1f96ed,#1e98ec,#1d9aeb,#1d9beb,#1c9bea,#1c9bea,#1d9aeb,#1d99eb,#1e97ec,#2094ee,#2192ef,#228ff0,#248bf2,#2588f3)"></i>
<i style="top:72.0px;height:2.6px;background:linear-gradient(90deg,#4443e5,#4442e4,#4442e4,#4441e3,#4440e3,#453fe2,#453fe1,#453ee1,#453de0,#453cdf,#463bdf,#463ade,#463add,#4639dc,#4638db,#4638da,#4537d9,#4536d8,#4536d7,#4535d6,#4534d5,#4534d4,#4533d3,#4533d2,#4432d1,#4432d0,#4431cf,#4431ce,#4430cd,#4430cc,#442fcc,#442fcb,#442eca,#442eca,#442ec9,#442ec9,#432dc9,#432dc8,#432dc8,#432dc8,#432dc8,#432dc8,#432dc8,#432dc8,#432dc9,#442ec9,#442ec9,#442eca,#442eca,#442fcb,#442fcc,#4430cc,#4430cd,#4431ce,#4431cf,#4432d0,#4432d1,#4533d2,#4533d3,#4534d4,#4535d5,#4536d6,#4536d8,#4537d9,#4638da,#4639db,#463ade,#453ee1,#4344e5,#414beb,#3f54f1,#3c5cf5,#3863f7,#3668f8,#3668f8,#3c5df5,#414bea,#4440e3,#453fe2,#4443e4,#4347e7,#4249e9,#4249e9,#4248e8,#4247e8,#424ae9,#404fed,#3f55f2,#3d5af5,#3b5ff6,#3962f7,#3766f8,#356af8,#336ef9,#3271fa,#3073f9,#2f75f9,#2e76f9,#2e78f8,#2d78f8,#2d79f8,#2d79f8,#2d78f8,#2e77f8,#2f76f9,#3074f9,#3172f9,#3270fa,#336df9,#356af8)"></i>
<i style="top:74.0px;height:2.6px;background:linear-gradient(90deg,#4430cd,#442fcc,#442eca,#442ec9,#432dc8,#432cc6,#432bc5,#432ac4,#432ac2,#4329c1,#4228bf,#4227bd,#4226bc,#4226bc,#4226bc,#4226bc,#4226bc,#4226bc,#4226bc,#4226bc,#4226bc,#4226bc,#4226bc,#4226bc,#4226bc,#4226bc,#4226bc,#4226bc,#4226bc,#4226bc,#4226bc,#4226bc,#4226bc,#4226bc,#4226bc,#4226bc,#4226bc,#4226bc,#4226bc,#4226bc,#4226bc,#4226bc,#4226bc,#4226bc,#4226bc,#4226bc,#4226bc,#4226bc,#4226bc,#4226bc,#4226bc,#4226bc,#4226bc,#4226bc,#4226bc,#4226bc,#4226bc,#4226bc,#4226bc,#4226bc,#4226bc,#4226bc,#4226bc,#4226bc,#4226bc,#4226bc,#4226bc,#4226bc,#4226bc,#4227bd,#4228c0,#432ac3,#432dc8,#4430ce,#4536d7,#4442e4,#4249e9,#4344e5,#4639dc,#4534d4,#4432d0,#4533d2,#4534d4,#4534d5,#4535d6,#4537d9,#463ade,#453fe2,#4344e5,#4249e9,#414eec,#4052f0,#3e57f3,#3d5bf5,#3b5ef6,#3962f6,#3864f7,#3767f8,#3669f8,#356af9,#356bf9,#356bf9,#356af8,#3669f8,#3767f8,#3864f7,#3962f6,#3b5ff6,#3c5cf5,#3e59f4)"></i>
<i style="top:76.0px;height:2.6px;background:linear-gradient(90deg,#432ac3,#4329c2,#4329c0,#4228bf,#4227be,#4227bd,#4226bc,#4226bc,#4226bc,#4226bc,#4226bc,#4226bc,#4226bc,#4226bc,#4226bc,#4226bc,#4226bc,#4226bc,#4226bc,#4226bc,#4226bc,#4226bc,#4226bc,#4226bc,#4226bc,#4226bc,#4226bc,#4226bc,#4226bc,#4226bc,#4226bc,#4226bc,#4226bc,#4226bc,#4226bc,#4226bc,#4226bc,#4226bc,#4226bc,#4226bc,#4226bc,#4226bc,#4226bc,#4226bc,#4226bc,#4226bc,#4226bc,#4226bc,#4226bc,#4226bc,#4226bc,#4226bc,#4226bc,#4226bc,#4226bc,#4226bc,#4226bc,#4226bc,#4226bc,#4226bc,#4226bc,#4226bc,#4226bc,#4226bc,#4226bc,#4226bc,#4226bc,#4226bc,#4226bc,#4226bc,#4226bc,#4226bc,#4226bc,#4226bc,#4227be,#432ac2,#442fcb,#4537d9,#4540e2,#4540e2,#442fcb,#4430ce,#4432d0,#4533d1,#4534d3,#4535d6,#4537d9,#463ade,#453ee1,#4441e3,#4345e6,#4248e9,#414ceb,#404fed,#4052f0,#3f55f2,#3e58f4,#3d5af5,#3c5cf5,#3c5df5,#3b5ef5,#3b5df5,#3c5df5,#3c5cf5,#3d5af5,#3e58f4,#3f55f2,#4052ef,#414eed,#424bea)"></i>
<i style="top:78.0px;height:2.6px;background:linear-gradient(90deg,#442eca,#442eca,#442ec9,#432dc8,#432dc8,#432dc7,#432cc6,#432cc6,#432bc5,#432bc4,#432ac4,#432ac3,#432ac2,#4329c1,#4329c1,#4228c0,#4228bf,#4227be,#4227bd,#4226bd,#4226bc,#4226bc,#4226bc,#4226bc,#4226bc,#4226bc,#4226bc,#4226bc,#4226bc,#4226bc,#4226bc,#4226bc,#4226bc,#4226bc,#4226bc,#4226bc,#4226bc,#4226bc,#4226bc,#4226bc,#4226bc,#4226bc,#4226bc,#4226bc,#4226bc,#4226bc,#4226bc,#4226bc,#4226bc,#4226bc,#4226bc,#4226bc,#4226bc,#4226bc,#4226bc,#4226bc,#4226bc,#4226bc,#4226bc,#4226bc,#4226bc,#4226bc,#4226bd,#4227be,#4227be,#4228bf,#4228c0,#4329c1,#4329c1,#4430cd,#4639dc,#4247e8,#3e58f4,#3767f8,#3173f9,#2e77f8,#2b7df7,#2883f6,#228ef0,#1c9cea,#1c9cea,#1aa4e2,#18acda,#19a9dd,#1aa6e0,#1aa3e3,#1ba0e6,#1b9ee8,#1c9cea,#1d99eb,#1f96ed,#248af2,#2b7df7,#3074f9,#3669f8,#3b5df5,#3f53f0,#3f55f2,#3e57f3,#3e58f4,#3e58f4,#3e58f4,#3e58f4,#3e56f3,#3f54f1,#4052f0,#4050ee,#414dec,#424aea,#4347e7)"></i>
<i style="top:80.0px;height:2.6px;background:linear-gradient(90deg,#4639dc,#4639dc,#4638db,#4638db,#4638db,#4638db,#4638db,#4638da,#4638da,#4638da,#4537da,#4537d9,#4537d9,#4537d9,#4537d9,#4537d8,#4537d8,#4536d8,#4536d8,#4536d7,#4536d7,#4536d7,#4536d7,#4536d6,#4535d6,#4535d6,#4535d6,#4535d6,#4535d5,#4535d5,#4535d5,#4535d5,#4535d5,#4535d5,#4534d5,#4534d5,#4534d4,#4534d4,#4534d4,#4534d4,#4534d4,#4534d4,#4534d4,#4534d4,#4534d4,#4534d4,#4534d5,#4535d5,#4535d5,#4535d5,#4535d5,#4535d5,#4535d5,#4535d6,#4535d6,#4535d6,#4535d6,#4535d6,#4536d7,#4536d7,#4536d7,#4536d7,#4536d7,#4536d8,#4536d8,#4537d8,#4537d8,#4537d9,#4537d9,#3c5bf5,#2c7af8,#1e98ec,#16b4d2,#33c4a5,#63ca81,#81c86f,#9fc75e,#b9c450,#cfc146,#e6bd3b,#ecbd37,#f0bd34,#f5be31,#f0bd34,#ebbd38,#e2be3d,#cec147,#bac450,#a3c75c,#8ac86a,#71c979,#45c698,#21bbbf,#19a7df,#238cf1,#3073f9,#3e57f3,#3e59f4,#3d5af4,#3d5af5,#3d5bf5,#3d5af5,#3d5af4,#3d59f4,#3e58f4,#3f56f3,#3f54f1,#4052ef,#404fee,#414dec)"></i>
<i style="top:82.0px;height:2.6px;background:linear-gradient(90deg,#4443e4,#4443e4,#4443e4,#4443e4,#4443e4,#4443e4,#4443e4,#4443e4,#4443e4,#4443e4,#4442e4,#4442e4,#4442e4,#4442e4,#4442e4,#4442e4,#4442e4,#4442e4,#4442e4,#4442e4,#4442e4,#4442e4,#4442e4,#4442e4,#4442e4,#4442e4,#4442e4,#4442e4,#4442e4,#4442e4,#4442e4,#4442e4,#4442e4,#4442e4,#4442e4,#4442e4,#4442e4,#4442e4,#4442e4,#4442e4,#4442e4,#4442e4,#4442e4,#4442e4,#4442e4,#4442e4,#4442e4,#4442e4,#4442e4,#4442e4,#4442e4,#4442e4,#4442e4,#4442e4,#4442e4,#4442e4,#4442e4,#4442e4,#4442e4,#4442e4,#4442e4,#4442e4,#4442e4,#4442e4,#4442e4,#4442e4,#4442e4,#4442e4,#4442e4,#414eed,#3d5af5,#3863f7,#356bf9,#3271fa,#3073f9,#3074f9,#3074f9,#3074f9,#3074f9,#2f75f9,#2f75f9,#2f75f9,#2f75f9,#3074f9,#3073f9,#3172fa,#3172fa,#3171fa,#3271fa,#3270fa,#3270fa,#336ffa,#346cf9,#3669f8,#3864f7,#3b5ff6,#3d59f4,#3d5af5,#3d5bf5,#3c5bf5,#3c5bf5,#3c5bf5,#3d5bf5,#3d5af5,#3d59f4,#3e58f4,#3e57f3,#3f55f2,#3f53f0,#4051ef)"></i>
<i style="top:84.0px;height:1.3px;background:linear-gradient(90deg,#4249e9,#4249e9,#4249e9,#4249e9,#4249e9,#4249e9,#4249e9,#4249e9,#4249e9,#4249e9,#4249e9,#4249e9,#4249e9,#4249e9,#4249e9,#4249e9,#4249e9,#4249e9,#4249e9,#4249e9,#4249e9,#4249e9,#4249e9,#4249e9,#4249e9,#4249e9,#4249e9,#4249e9,#4249e9,#4249e9,#4249e9,#4249e9,#4249e9,#4249e9,#4249e9,#4249e9,#4249e9,#4249e9,#4249e9,#4249e9,#4249e9,#4249e9,#4249e9,#4249e9,#4249e9,#4249e9,#4249e9,#4249e9,#4249e9,#4249e9,#4249e9,#4249e9,#4249e9,#4249e9,#4249e9,#4249e9,#4249e9,#4249e9,#4249e9,#4249e9,#4249e9,#4249e9,#4249e9,#4249e9,#4249e9,#4249e9,#4249e9,#4249e9,#4249e9,#424aea,#424aea,#424aea,#424aea,#424aea,#424bea,#424bea,#424bea,#424bea,#424bea,#414bea,#414beb,#414ceb,#414ceb,#414ceb,#414dec,#414dec,#414eed,#404fee,#4050ee,#4051ef,#3f53f0,#3f54f1,#3f55f2,#3e56f3,#3e57f4,#3e58f4,#3e59f4,#3d5af4,#3d5af5,#3d5af5,#3d5bf5,#3d5af5,#3d5af5,#3d5af4,#3d59f4,#3e58f4,#3e57f3,#3f56f3,#3f55f2,#3f53f1)"></i>
</div>
<div class="pn" style="left:431.90px;top:221.90px;width:109.50px;height:84.70px">
<i style="top:0.0px;height:2.6px;background:linear-gradient(90deg,#356af9,#3074f9,#2f75f9,#3961f6,#4443e5,#4248e8,#3569f8,#2f75f9,#326ffa,#3766f7,#3863f7,#3961f6,#3e57f3,#4441e3,#453fe2,#3b5df5,#3074f9,#2f75f9,#346cf9,#3667f8,#336efa,#2f76f9,#3073f9,#3b5df5,#4442e4,#414dec,#346cf9,#3270fa,#3e57f3,#453de0,#4249e9,#3667f8,#2f76f9,#3074f9,#356af9,#3667f8,#3270fa,#3074f9,#3962f6,#4343e5,#414dec,#346bf9,#2f76f9,#346bf9,#414eed,#4441e3,#3b5df5,#3172f9,#356af9,#414eed,#4441e3,#3b5df5,#3073f9,#3271fa,#3667f8,#3963f7,#3c5cf5,#424aea,#453fe2,#3f56f3,#3766f8,#3d5af5,#453fe2,#4440e3,#3c5cf5,#3172f9,#2a7ef7,#2a7ff7,#2f75f9,#3962f6,#4346e7,#463bdf,#414eed,#3962f6,#3270fa,#2e77f8,#3074f9,#3766f8,#3f53f0,#453ce0,#4440e3,#3e57f3,#3863f7,#336efa,#2e76f9,#3074f9,#3864f7,#424ae9,#463ade,#414dec,#3669f8,#2f76f9,#2f75f9,#356bf9,#3667f8,#3270fa,#2e77f9,#3172fa,#3d5af4,#453de0,#4441e3,#3e59f4,#3767f8,#326ffa,#336efa,#3a60f6,#4346e7,#463ade,#414cec,#3b5ef5)"></i>
<i style="top:2.0px;height:2.6px;background:linear-gradient(90deg,#3172fa,#2c7bf7,#2b7df7,#356af9,#424aea,#4050ee,#3172f9,#2b7df7,#2f76f9,#336df9,#356af8,#3667f8,#3b5df5,#4247e8,#4346e7,#3765f7,#2c7bf7,#2b7cf7,#3073f9,#336efa,#2f75f9,#2a7ef7,#2c7bf8,#3765f7,#424ae9,#3f56f3,#2f75f9,#2e77f8,#3b5ff6,#4443e5,#4050ee,#3270fa,#2a7ef7,#2c7bf8,#3172fa,#326ffa,#2f76f9,#2c7bf8,#346cf9,#414ceb,#3f55f2,#3073f9,#2a7ef7,#3073f9,#3e57f3,#4249e9,#3767f8,#2c7af8,#3173f9,#3e56f3,#4249e9,#3767f8,#2c7bf8,#2e77f8,#336ffa,#3569f8,#3963f7,#4051ef,#4347e8,#3a60f6,#3270fa,#3962f7,#4346e7,#4247e8,#3863f7,#2d79f8,#2587f3,#248af2,#2b7cf7,#356af8,#414dec,#4441e3,#3f56f2,#3669f8,#2f76f9,#2a7ff7,#2c7bf8,#336efa,#3d5af4,#4443e4,#4347e7,#3b5df5,#356af9,#2f75f9,#2a7ef7,#2c7cf7,#346cf9,#4051ef,#4440e3,#3f54f1,#3171fa,#2a7ef7,#2c7cf7,#3172fa,#336ffa,#2f76f9,#2a7ef7,#2d79f8,#3961f6,#4344e5,#4248e8,#3b5ff6,#336ffa,#2e76f9,#2f76f9,#3668f8,#414dec,#4441e3,#3f54f1,#3864f7)"></i>
<i style="top:4.0px;height:2.6px;background:linear-gradient(90deg,#2f76f9,#2981f6,#2883f6,#3270fa,#4050ee,#3e57f3,#2e78f8,#2883f6,#2c7af8,#3172fa,#336ffa,#346cf9,#3962f6,#414ceb,#424bea,#346cf9,#2881f6,#2882f6,#2e77f8,#3172f9,#2d79f8,#2784f5,#2980f6,#356bf9,#404fee,#3c5cf5,#2c7af8,#2b7df7,#3865f7,#4248e8,#3f56f2,#2f75f9,#2785f5,#2980f6,#2f75f9,#3073f9,#2c7bf8,#2881f6,#3172fa,#4052f0,#3d5bf5,#2d79f8,#2784f5,#2e78f8,#3c5cf5,#404fed,#336ef9,#2980f6,#2e77f8,#3c5bf5,#404fed,#336efa,#2981f6,#2b7cf7,#3173f9,#336efa,#3667f8,#3e56f3,#414dec,#3667f8,#2f76f9,#3669f8,#414ceb,#414ceb,#3668f8,#2a7ef7,#2191ef,#2093ee,#2882f6,#326ffa,#4052ef,#4346e7,#3d5af5,#336ef9,#2c7bf8,#2686f4,#2980f6,#3173f9,#3b5ef6,#4347e8,#414beb,#3962f6,#3270fa,#2d79f8,#2785f5,#2881f6,#3171fa,#3f56f3,#4345e6,#3d5af4,#2f76f9,#2785f5,#2881f6,#2f76f9,#3173f9,#2c7af8,#2685f4,#2a7ff7,#3767f8,#4249e9,#414ceb,#3864f7,#3073f9,#2b7cf7,#2c7bf7,#336ef9,#4052f0,#4345e6,#3e58f4,#3669f8)"></i>
<i style="top:6.0px;height:2.6px;background:linear-gradient(90deg,#2d79f8,#2588f3,#248bf2,#2f75f9,#3f56f2,#3c5cf5,#2b7cf7,#248bf2,#2a7ef7,#2f75f9,#3172fa,#3270fa,#3766f7,#4051ef,#4050ee,#3171fa,#2589f3,#248af2,#2c7bf8,#2f76f9,#2b7df7,#238cf1,#2687f4,#3270fa,#3f55f2,#3962f7,#297ff7,#2882f6,#356af9,#414dec,#3d5bf5,#2d79f8,#238df1,#2687f4,#2d79f8,#2e76f9,#2a7ff7,#2589f3,#2e77f8,#3e58f4,#3a60f6,#2b7df7,#238cf1,#2b7df7,#3a61f6,#3f55f2,#3073f9,#2687f4,#2b7cf7,#3a60f6,#3f55f2,#3073f9,#2588f3,#2981f6,#2f76f9,#3172fa,#346cf9,#3d5bf5,#3f54f1,#326ffa,#2c7cf7,#336ffa,#4051ef,#4051ef,#336df9,#2882f6,#1e99ec,#1c9cea,#2588f3,#3073f9,#3e57f3,#424bea,#3b5ef6,#3172fa,#2a7ff7,#228ef0,#2686f4,#2f76f9,#3963f7,#414ceb,#4050ee,#3766f7,#3073f9,#2b7df7,#238df1,#2588f3,#2f75f9,#3d5bf5,#424aea,#3b5ef6,#2d7af8,#238df1,#2588f3,#2d7af8,#2f76f9,#2a7ff7,#238df1,#2784f5,#346cf9,#414eed,#4051ef,#3668f8,#2e77f8,#2882f6,#2981f6,#3173f9,#3e58f4,#424aea,#3c5df5,#336df9)"></i>
<i style="top:8.0px;height:2.6px;background:linear-gradient(90deg,#2b7df7,#228ef0,#2192ef,#2d78f8,#3c5bf5,#3962f6,#2981f6,#2192ef,#2882f6,#2e78f8,#2f75f9,#3073f9,#356af9,#3e56f3,#3f56f2,#2f75f9,#228ff0,#2190ef,#2a7ff7,#2d79f8,#2981f6,#2093ee,#238ef1,#3074f9,#3d5af5,#3668f8,#2785f5,#2589f3,#3270fa,#3f53f0,#3a60f6,#2b7df7,#2094ee,#238df1,#2b7df7,#2d7af8,#2784f5,#2290f0,#2c7bf8,#3b5df5,#3765f7,#2881f6,#2093ee,#2981f6,#3766f7,#3d5af5,#2e77f8,#238ef1,#2980f6,#3765f7,#3d5bf5,#2e78f8,#228ff0,#2686f4,#2d79f8,#2f75f9,#3270fa,#3a5ff6,#3d5af5,#3074f9,#2981f6,#3073f9,#3e57f3,#3e57f3,#3172fa,#2588f3,#1b9fe7,#1ba1e5,#228ef0,#2f76f9,#3c5cf5,#4050ee,#3963f7,#2f75f9,#2784f5,#1f95ed,#238df1,#2d7af8,#3667f8,#4051ef,#3f56f2,#356af9,#2f76f9,#2881f6,#2094ee,#228ff0,#2d79f8,#3a5ff6,#404fee,#3963f7,#2a7ef7,#2094ee,#228ff0,#2b7df7,#2d79f8,#2883f6,#2094ee,#248bf2,#3171fa,#3f53f1,#3e57f3,#336df9,#2c7bf7,#2589f3,#2588f3,#2e76f9,#3c5cf5,#404fed,#3a61f6,#3171fa)"></i>
<i style="top:10.0px;height:2.6px;background:linear-gradient(90deg,#2a7ef7,#2191ef,#1f95ed,#2c7af8,#3c5df5,#3863f7,#2783f5,#1f95ed,#2785f5,#2d79f8,#2f76f9,#3074f9,#346cf9,#3e58f4,#3e57f4,#2e76f9,#2093ee,#2094ee,#2980f6,#2c7af8,#2883f6,#1f96ed,#2191ef,#2f75f9,#3c5cf5,#356af8,#2588f3,#248cf2,#3171fa,#3f55f2,#3961f6,#2a7ff7,#1e97ec,#2190ef,#2a7ef7,#2c7bf8,#2686f4,#2093ee,#2b7df7,#3a5ff6,#3767f8,#2784f5,#1e97ec,#2883f6,#3667f8,#3c5cf5,#2d79f8,#2191ef,#2882f6,#3667f8,#3c5cf5,#2d79f8,#2192ef,#2589f3,#2c7bf8,#2f76f9,#3171fa,#3a61f6,#3c5cf5,#2e76f9,#2784f5,#2f75f9,#3e59f4,#3e58f4,#3173f9,#248af2,#1ba1e5,#1aa4e2,#2191ef,#2e78f8,#3b5df5,#4051ef,#3864f7,#2f76f9,#2686f4,#1e98ec,#2290f0,#2c7bf8,#3668f8,#3f53f0,#3e57f3,#346cf9,#2e77f8,#2783f5,#1e97ec,#2192ef,#2c7af8,#3a61f6,#4051ef,#3864f7,#2a7ff7,#1e97ec,#2192ef,#2a7ff7,#2c7bf8,#2785f5,#1e97ec,#238ef1,#3172fa,#3f55f2,#3e58f4,#336ffa,#2b7df7,#238cf1,#248bf2,#2e78f8,#3b5ef5,#4051ef,#3962f7,#3172fa)"></i>
<i style="top:12.0px;height:2.6px;background:linear-gradient(90deg,#2a7ff7,#2093ee,#1e97ec,#2c7bf8,#3b5ef5,#3865f7,#2785f5,#1e97ec,#2686f4,#2d7af8,#2e77f9,#2f75f9,#346df9,#3e59f4,#3e59f4,#2e77f8,#1f95ed,#1f96ed,#2881f6,#2c7bf8,#2784f5,#1e98ec,#2093ee,#2e76f9,#3c5df5,#346cf9,#248af2,#238ef1,#3172fa,#3f56f3,#3962f7,#2980f6,#1d99eb,#2192ef,#2a7ff7,#2c7cf7,#2588f3,#1f95ed,#2a7ef7,#3a61f6,#3668f8,#2686f4,#1d99eb,#2784f5,#3669f8,#3b5df5,#2c7af8,#2093ee,#2783f5,#3668f8,#3b5ef5,#2c7bf8,#2094ee,#248bf2,#2c7bf7,#2e76f9,#3172fa,#3962f6,#3b5ef5,#2e78f8,#2686f4,#2f76f9,#3d5af4,#3d59f4,#3073f9,#248cf2,#1aa3e3,#1aa6e0,#2092ee,#2d78f8,#3b5ef6,#3f52f0,#3765f7,#2e77f8,#2588f3,#1d9beb,#2192ef,#2b7cf7,#3569f8,#3f54f1,#3e58f4,#346df9,#2e78f8,#2785f5,#1d99eb,#2094ee,#2c7bf8,#3962f6,#4052ef,#3765f7,#2980f6,#1d99eb,#2094ee,#2980f6,#2c7bf7,#2687f4,#1d9aeb,#2290f0,#3073f9,#3e56f3,#3d59f4,#3270fa,#2a7ef7,#228ff0,#238ef1,#2d79f8,#3b5ff6,#4052ef,#3863f7,#3173f9)"></i>
<i style="top:14.0px;height:2.6px;background:linear-gradient(90deg,#2980f6,#1f95ed,#1d99eb,#2b7cf7,#3b5ff6,#3766f8,#2687f4,#1d99eb,#2588f3,#2c7bf8,#2e77f8,#2f76f9,#336ef9,#3d5af4,#3d5af4,#2d78f8,#1f97ed,#1e97ec,#2882f6,#2b7cf7,#2686f4,#1d9aeb,#2094ee,#2e77f8,#3b5ef6,#346df9,#238cf1,#228ff0,#3073f9,#3e57f3,#3863f7,#2981f6,#1c9bea,#2094ee,#2980f6,#2b7cf7,#2589f3,#1e97ec,#2980f7,#3962f6,#3569f8,#2687f4,#1d9beb,#2686f4,#356af8,#3b5ff6,#2c7bf7,#1f95ed,#2785f5,#3569f8,#3b5ff6,#2c7cf7,#1f96ed,#238cf1,#2b7cf7,#2e77f8,#3172f9,#3963f7,#3b5ff6,#2d79f8,#2588f3,#2e77f8,#3d5bf5,#3d5af5,#3074f9,#238df1,#1aa5e1,#19a7df,#2094ee,#2d79f8,#3a5ff6,#3f54f1,#3766f8,#2e78f8,#2589f3,#1c9cea,#2093ee,#2b7df7,#356bf9,#3f55f2,#3d59f4,#336ef9,#2d79f8,#2686f4,#1c9bea,#1f96ed,#2b7cf7,#3963f7,#3f53f0,#3767f8,#2881f6,#1d9beb,#1f95ed,#2981f6,#2b7cf7,#2588f3,#1c9bea,#2191ef,#3074f9,#3e57f4,#3d5af5,#3271fa,#2a7ff7,#2191ef,#2290f0,#2c7af8,#3a60f6,#3f53f0,#3864f7,#3073f9)"></i>
<i style="top:16.0px;height:2.6px;background:linear-gradient(90deg,#2981f6,#1f96ed,#1d9aeb,#2b7df7,#3a60f6,#3667f8,#2588f3,#1d9aeb,#2589f3,#2c7bf7,#2e78f8,#2f76f9,#336ffa,#3d5bf5,#3d5bf5,#2d79f8,#1e98ec,#1e99ec,#2783f5,#2b7df7,#2687f4,#1c9cea,#1f96ed,#2e78f8,#3a5ff6,#336efa,#238df1,#2191ef,#3074f9,#3e58f4,#3865f7,#2882f6,#1c9cea,#1f95ed,#2981f6,#2b7df7,#248bf2,#1e98ec,#2980f6,#3863f7,#356bf9,#2589f3,#1c9cea,#2687f4,#356bf9,#3a60f6,#2b7cf7,#1f97ed,#2686f4,#356bf9,#3a60f6,#2b7df7,#1e98ec,#238df1,#2b7df7,#2e78f8,#3073f9,#3864f7,#3a60f6,#2c7af8,#248af2,#2e78f8,#3c5cf5,#3c5bf5,#2f75f9,#228ef0,#1aa6e0,#19a8de,#1f95ed,#2c7af8,#3a60f6,#3f55f2,#3667f8,#2d78f8,#248bf2,#1c9ee8,#1f95ed,#2b7df7,#346cf9,#3e56f3,#3d5af5,#336ffa,#2d79f8,#2587f3,#1c9cea,#1e97ec,#2b7df7,#3864f7,#3f54f1,#3668f8,#2882f6,#1c9cea,#1e97ec,#2881f6,#2b7df7,#2589f3,#1c9de9,#2093ee,#2f75f9,#3e59f4,#3c5bf5,#3171fa,#2980f6,#2192ef,#2191ef,#2c7bf8,#3961f6,#3f54f1,#3765f7,#3074f9)"></i>
<i style="top:18.0px;height:2.6px;background:linear-gradient(90deg,#2882f6,#1e98ec,#1c9cea,#2a7ef7,#3a61f6,#3668f8,#2589f3,#1c9cea,#248af2,#2b7cf7,#2d79f8,#2e77f8,#3270fa,#3c5cf5,#3c5cf5,#2d7af8,#1d99eb,#1d9aeb,#2784f5,#2b7df7,#2588f3,#1c9de9,#1e97ec,#2d79f8,#3a60f6,#326ffa,#228ff0,#2192ef,#3074f9,#3d5af4,#3766f7,#2883f6,#1c9de9,#1f96ed,#2881f6,#2a7ef7,#248cf2,#1d9aeb,#2881f6,#3864f7,#346cf9,#248af2,#1c9de9,#2588f3,#346cf9,#3a61f6,#2b7df7,#1e98ec,#2687f4,#346cf9,#3961f6,#2b7df7,#1d99eb,#228ef0,#2a7ef7,#2d78f8,#3074f9,#3865f7,#3a61f6,#2c7bf8,#248bf2,#2d79f8,#3b5df5,#3c5cf5,#2f76f9,#228ff0,#19a7df,#19a9dd,#1f96ed,#2c7bf8,#3961f6,#3e56f3,#3668f8,#2d79f8,#238cf1,#1b9fe7,#1f96ed,#2a7ef7,#346df9,#3e57f4,#3c5bf5,#3270fa,#2c7af8,#2589f3,#1c9de9,#1e98ec,#2b7df7,#3865f7,#3f56f2,#3669f8,#2783f5,#1c9de9,#1e98ec,#2882f6,#2a7ef7,#248bf2,#1c9ee8,#2094ee,#2f75f9,#3d59f4,#3c5cf5,#3172fa,#2980f6,#2093ee,#2192ef,#2c7cf7,#3962f7,#3f56f2,#3766f8,#2f75f9)"></i>
<i style="top:20.0px;height:2.6px;background:linear-gradient(90deg,#2882f6,#1e99ec,#1c9cea,#2a7ef7,#3a61f6,#3668f8,#248af2,#1c9cea,#248bf2,#2b7df7,#2d79f8,#2e78f8,#3271fa,#3b5df5,#3b5df5,#2c7bf8,#1d9aeb,#1c9bea,#2685f4,#2a7ef7,#2589f3,#1c9ee8,#1e98ec,#2d79f8,#3a60f6,#326ffa,#228ff0,#2093ee,#2f75f9,#3d5bf5,#3767f8,#2784f5,#1b9ee8,#1e97ec,#2882f6,#2a7ff7,#238df1,#1d9beb,#2882f6,#3765f7,#346df9,#248bf2,#1b9ee8,#2589f3,#346cf9,#3a61f6,#2b7df7,#1e99ec,#2588f3,#346df9,#3962f7,#2a7ef7,#1d9aeb,#2290f0,#2a7ef7,#2d79f8,#3074f9,#3765f7,#3a61f6,#2c7af8,#248bf2,#2d79f8,#3b5ef6,#3b5ef5,#2e76f9,#2190ef,#19a8de,#18aadc,#1e97ec,#2c7bf7,#3962f7,#3e58f4,#3569f8,#2d7af8,#238df1,#1ba0e6,#1e97ec,#2a7ff7,#346df9,#3e57f4,#3c5bf5,#3270fa,#2c7bf8,#258af3,#1b9ee8,#1d9aeb,#2a7ef7,#3766f8,#3e57f3,#356af8,#2784f5,#1b9ee8,#1d99eb,#2783f5,#2a7ef7,#248cf2,#1b9fe7,#1f95ed,#2f76f9,#3d5af4,#3c5cf5,#3172fa,#2981f6,#2093ee,#2092ee,#2b7cf7,#3863f7,#3e57f3,#3667f8,#2f75f9)"></i>
<i style="top:22.0px;height:2.6px;background:linear-gradient(90deg,#2783f5,#1d99eb,#1c9cea,#2b7df7,#3b5ef5,#3765f7,#2588f3,#1c9de9,#238cf1,#2b7df7,#2c7af8,#2d78f8,#3171fa,#3b5ef6,#3b5ef6,#2c7bf7,#1c9bea,#1c9cea,#2686f4,#2a7ff7,#248af2,#1b9ee8,#1e98ec,#2e78f8,#3c5df5,#346cf9,#238ef1,#2093ee,#2f76f9,#3c5cf5,#3668f8,#2785f5,#1b9fe7,#1e98ec,#2883f6,#2a7ff7,#238ef1,#1c9cea,#2783f5,#3767f8,#336efa,#238cf1,#1b9ee8,#2588f3,#356af8,#3b5df5,#2c7cf7,#1e98ec,#2589f3,#336efa,#3864f7,#2a7ff7,#1c9bea,#2190ef,#2a7ff7,#2d79f8,#3074f9,#3963f7,#3c5df5,#2e78f8,#2589f3,#2d79f8,#3a5ff6,#3b5ff6,#2e77f8,#2191ef,#19a9dd,#18abdb,#1e98ec,#2b7cf7,#3864f7,#3d59f4,#356bf9,#2c7bf8,#238ef1,#1ba0e6,#1e98ec,#2a7ff7,#346bf9,#3f53f1,#3e58f4,#326ffa,#2c7bf8,#248af2,#1b9fe7,#1d9beb,#2a7ff7,#3667f8,#3e59f4,#346bf9,#2685f4,#1b9fe7,#1d9aeb,#2784f5,#2a7ff7,#238df1,#1b9fe7,#1f95ed,#2f75f9,#3f56f2,#3d59f4,#3171fa,#2981f6,#2093ee,#2192ef,#2b7cf7,#3864f7,#3e59f4,#3669f8,#2f76f9)"></i>
<i style="top:24.0px;height:2.6px;background:linear-gradient(90deg,#2784f5,#1d9aeb,#1c9bea,#2d79f8,#3f53f0,#3c5bf5,#2783f5,#1c9bea,#238cf1,#2a7ef7,#2c7bf8,#2d79f8,#3172fa,#3a60f6,#3a60f6,#2b7cf7,#1c9cea,#1c9de9,#2687f4,#297ff7,#248bf2,#1b9ee8,#1f96ed,#3074f9,#4051ef,#3962f7,#2589f3,#2192ef,#2f76f9,#3b5df5,#3569f8,#2686f4,#1ba0e6,#1d99eb,#2784f5,#2980f6,#228ff0,#1c9cea,#2784f5,#3668f8,#326ffa,#238df1,#1b9ee8,#2785f5,#3961f6,#4051ef,#2e76f9,#1f95ed,#2589f3,#326ffa,#3865f7,#2980f7,#1c9cea,#2191ef,#297ff7,#2d79f8,#3172fa,#3d5af5,#4050ee,#3172fa,#2784f5,#2d78f8,#3a60f6,#3a60f6,#2e78f8,#2093ee,#19a9dd,#18acda,#1d99eb,#2b7df7,#3865f7,#3d5bf5,#346cf9,#2c7bf8,#228ff0,#1ba1e5,#1e98ec,#2a7ef7,#3865f7,#4346e7,#414ceb,#356af9,#2c7af8,#248bf2,#1ba0e6,#1c9cea,#2980f7,#3669f8,#3d5af5,#346cf9,#2686f4,#1ba0e6,#1c9bea,#2785f5,#2980f7,#238df1,#1ba0e6,#2093ee,#3270fa,#4249e9,#414dec,#336df9,#2980f7,#2192ef,#2191ef,#2b7df7,#3765f7,#3d5af4,#356af8,#2e77f9)"></i>
<i style="top:26.0px;height:2.6px;background:linear-gradient(90deg,#2785f5,#1d9aeb,#1e98ec,#3173f9,#453de0,#4346e7,#2b7cf7,#1e98ec,#238cf1,#2a7ff7,#2c7bf7,#2d7af8,#3173f9,#3a61f6,#3a61f6,#2b7df7,#1c9de9,#1c9de9,#2588f3,#2980f6,#248cf2,#1b9ee8,#2093ee,#346cf9,#463bdf,#404fee,#2980f6,#228ff0,#2e77f9,#3b5ff6,#356bf9,#2687f4,#1ba0e6,#1d9aeb,#2785f5,#2980f6,#228ff0,#1c9de9,#2785f5,#3569f8,#3270fa,#238df1,#1c9de9,#2980f6,#4052ef,#463ade,#346cf9,#228ff0,#2588f3,#3270fa,#3766f7,#2980f6,#1c9cea,#2192ef,#2980f6,#2d79f8,#346df9,#4249e9,#4638db,#3962f6,#2b7df7,#2e77f8,#3961f6,#3962f6,#2d79f8,#2094ee,#18aadc,#18add9,#1d9aeb,#2b7df7,#3766f8,#3c5cf5,#346df9,#2b7cf7,#2290f0,#1ba2e4,#1e98ec,#2c7bf8,#3d5af4,#4533d3,#4638db,#3961f6,#2d79f8,#248bf2,#1ba0e6,#1c9cea,#2980f6,#356af8,#3c5bf5,#336df9,#2687f4,#1ba0e6,#1c9cea,#2686f4,#2980f6,#228ef0,#1b9fe7,#2290f0,#3765f7,#4535d5,#4639dd,#3864f7,#2b7df7,#2290f0,#228ff0,#2b7cf7,#3766f8,#3c5bf5,#356bf9,#2e77f8)"></i>
<i style="top:28.0px;height:2.6px;background:linear-gradient(90deg,#2686f4,#1d99eb,#1f95ed,#346bf9,#442fcc,#4536d6,#2e76f9,#1f96ed,#238cf1,#2a7ff7,#2b7cf7,#2c7af8,#3073f9,#3a60f6,#3a60f6,#2b7cf7,#1c9de9,#1c9de9,#2589f3,#2981f6,#238cf1,#1b9ee8,#2190ef,#3963f7,#442eca,#453ce0,#2c7bf8,#238df1,#2e77f8,#3a61f6,#346df9,#2587f3,#1ba1e5,#1d9beb,#2686f4,#2981f6,#2290f0,#1c9de9,#2784f5,#3668f8,#3270fa,#238cf1,#1c9cea,#2b7cf7,#4442e4,#432cc7,#3a5ff6,#248af2,#2686f4,#326ffa,#3765f7,#2980f6,#1c9cea,#2092ee,#2980f6,#2d78f8,#3668f8,#463ade,#432ac3,#4051ef,#2e78f8,#2f76f9,#3962f7,#3864f7,#2d7af8,#1f95ed,#18abdb,#18aed8,#1c9bea,#2a7ef7,#3766f7,#3c5bf5,#346df9,#2b7cf7,#2190ef,#1aa2e4,#1e98ec,#2d79f8,#414eed,#4227bd,#432cc7,#3d5af4,#2e77f8,#248cf2,#1ba1e5,#1c9de9,#2980f6,#3569f8,#3d5bf5,#336df9,#2587f3,#1ba1e5,#1c9de9,#2687f4,#2981f6,#228ff0,#1b9fe7,#238cf1,#3c5bf5,#4228bf,#432dc8,#3c5cf5,#2c7bf8,#238df1,#238df1,#2c7bf7,#3766f7,#3d5bf5,#356bf9,#2e78f8)"></i>
<i style="top:30.0px;height:2.6px;background:linear-gradient(90deg,#2686f4,#1d9aeb,#1f95ed,#346bf9,#4430cd,#4536d7,#2e77f9,#1f95ed,#238df1,#2980f7,#2b7cf7,#2c7af8,#3171fa,#3c5bf5,#3d5bf5,#2c7af8,#1c9bea,#1c9de9,#2589f3,#2881f6,#238df1,#1b9ee8,#2190ef,#3863f7,#442fcb,#453de0,#2c7af8,#238df1,#2e78f8,#3863f7,#336ffa,#2588f3,#1ba1e5,#1d9beb,#2686f4,#2882f6,#2290f0,#1c9bea,#2981f6,#3963f7,#356bf9,#248af2,#1c9bea,#2b7cf7,#4443e5,#432dc8,#3a5ff6,#2589f3,#2784f5,#356bf9,#3a5ff6,#2b7df7,#1d9aeb,#2192ef,#2981f6,#2d79f8,#3669f8,#463bdf,#432ac2,#414dec,#2f75f9,#2f75f9,#3864f7,#3766f7,#2c7bf8,#1f96ed,#18acda,#17aed8,#1c9bea,#2b7cf7,#3a61f6,#3f55f2,#3669f8,#2c7bf7,#2190ef,#1aa2e4,#1e98ec,#2d7af8,#4050ee,#4227be,#432dc8,#3d5af5,#2e78f8,#238cf1,#1ba1e5,#1c9de9,#2a7ff7,#3865f7,#3f54f1,#3669f8,#2686f4,#1ba1e5,#1c9de9,#2588f3,#2882f6,#2290f0,#1ba0e6,#238df1,#3c5cf5,#4329c1,#442eca,#3c5df5,#2c7bf8,#248af2,#2589f3,#2d79f8,#3a61f6,#3f54f1,#3767f8,#2e77f8)"></i>
<i style="top:32.0px;height:2.6px;background:linear-gradient(90deg,#2687f4,#1d9aeb,#1e98ec,#3074f9,#4442e4,#424bea,#2b7df7,#1e98ec,#238ef1,#2980f6,#2b7df7,#2d79f8,#346bf9,#414dec,#424bea,#3074f9,#1e97ec,#1c9cea,#248af2,#2882f6,#238df1,#1b9ee8,#2093ee,#336efa,#4441e3,#3f53f0,#2980f6,#2290f0,#2d7af8,#3766f8,#3271fa,#2589f3,#1ba0e6,#1d9beb,#2687f4,#2882f6,#228ff0,#1f96ed,#2d7af8,#3f54f1,#3a5ff6,#2784f5,#1d9aeb,#2980f6,#3f56f2,#453fe1,#346df9,#238df1,#2981f6,#3a60f6,#4050ee,#2f75f9,#1f94ed,#2191ef,#2881f6,#2c7bf8,#3270fa,#414dec,#4639dc,#3d5bf5,#2e77f8,#2f76f9,#3767f8,#3669f8,#2b7cf7,#1e97ec,#18acda,#17afd7,#1d9aeb,#2d78f8,#3f55f1,#4344e5,#3a60f6,#2d79f8,#2290f0,#1aa2e4,#1d9aeb,#2b7df7,#3b5df5,#4537d9,#453de0,#3864f7,#2c7af8,#238df1,#1ba1e5,#1c9bea,#2b7cf7,#3d5af4,#4443e4,#3b5ef5,#2881f6,#1ba0e6,#1c9de9,#2589f3,#2882f6,#2190ef,#1ba0e6,#2191ef,#3668f8,#4639dc,#453ee1,#3766f8,#2b7cf7,#2687f4,#2784f5,#3074f9,#3f54f1,#4443e5,#3b5df5,#2f75f9)"></i>
<i style="top:34.0px;height:2.6px;background:linear-gradient(90deg,#2687f4,#1d9aeb,#1d9beb,#2b7cf7,#3c5df5,#3864f7,#2685f4,#1c9bea,#228ef0,#2981f6,#2b7df7,#2e77f8,#3962f7,#4639dd,#4537d8,#356af9,#2191ef,#1d9aeb,#258af3,#2882f6,#238df1,#1b9ee8,#1e97ec,#2e77f8,#3c5cf5,#356af8,#248af2,#2093ee,#2c7bf7,#356af9,#3173f9,#258af3,#1ba0e6,#1d9aeb,#2687f4,#2882f6,#238df1,#2290f0,#3271fa,#453ee1,#414fed,#2a7ef7,#1d99eb,#2686f4,#3669f8,#3c5cf5,#2d79f8,#2191ef,#2b7df7,#4051ef,#463ade,#356af8,#238df1,#228ff0,#2882f6,#2b7df7,#2f75f9,#3962f7,#3f55f2,#356af9,#2c7bf8,#2e77f8,#356bf9,#346cf9,#2b7df7,#1e97ec,#18add9,#17afd7,#1e98ec,#3074f9,#4442e4,#4533d2,#3f53f1,#2e76f9,#228ff0,#1aa2e4,#1d9beb,#2980f6,#346cf9,#3f53f1,#3e58f4,#3271fa,#2b7df7,#228ef0,#1ba1e5,#1e99ec,#2e77f9,#4346e7,#442fcb,#414ceb,#2b7cf7,#1c9de9,#1c9cea,#2589f3,#2883f6,#2191ef,#1ba1e5,#1f96ed,#2f75f9,#3f56f2,#3d59f4,#3171fa,#2a7ef7,#2784f5,#2980f6,#336ef9,#4442e4,#4432d1,#4050ee,#3172fa)"></i>
<i style="top:36.0px;height:2.6px;background:linear-gradient(90deg,#2687f4,#1e99ec,#1d9beb,#2980f6,#346cf9,#3172fa,#248bf2,#1c9bea,#238ef1,#2981f6,#2b7df7,#2f76f9,#3b5df5,#4432d0,#442ec9,#3a60f6,#248af2,#1f96ed,#2588f3,#2882f6,#238cf1,#1c9de9,#1e98ec,#2b7df7,#346df9,#2f76f9,#2190ef,#1f95ed,#2b7df7,#326ffa,#2f75f9,#248af2,#1b9ee8,#1e99ec,#2687f4,#2883f6,#248cf2,#248bf2,#356af9,#4537d8,#4347e7,#2c7bf8,#1f97ed,#248af2,#3073f9,#346cf9,#2a7ff7,#2192ef,#2c7bf8,#424aea,#4534d4,#3963f7,#2588f3,#238df1,#2882f6,#2a7ef7,#2d7af8,#3270fa,#3667f8,#3074f9,#2b7df7,#2d79f8,#336efa,#3270fa,#2a7ef7,#1e97ec,#18acda,#17aed8,#1e97ec,#3172fa,#463cdf,#442eca,#414eed,#2f75f9,#228ef0,#1ba1e5,#1d9aeb,#2882f6,#3074f9,#3865f7,#3668f8,#2f76f9,#2a7ff7,#228ef0,#1b9fe7,#2094ee,#3270fa,#4535d6,#4226bc,#4639dc,#2f76f9,#1e99ec,#1d9aeb,#2589f3,#2883f6,#2290f0,#1ba0e6,#1e97ec,#2c7bf8,#3667f8,#3569f8,#2e77f8,#2a7ff7,#2882f6,#2a7ef7,#356af9,#463bdf,#432dc8,#424aea,#3271fa)"></i>
<i style="top:38.0px;height:2.6px;background:linear-gradient(90deg,#2686f4,#2094ee,#2094ee,#2a7ef7,#336efa,#3073f9,#2589f3,#1f96ed,#248af2,#2a7ff7,#2c7cf7,#2f75f9,#3c5cf5,#4432d0,#432bc5,#3f56f3,#2a7ff7,#238cf1,#2883f6,#2980f7,#2589f3,#1e99ec,#1f95ed,#2a7ff7,#3173f9,#2d79f8,#2290f0,#2093ee,#2a7ef7,#3172f9,#2e77f8,#2589f3,#1c9cea,#1f96ed,#2686f4,#2882f6,#248af2,#248af2,#326ffa,#4442e4,#4051ef,#2c7bf8,#2192ef,#2687f4,#3074f9,#336ffa,#2a7ef7,#238df1,#2c7bf8,#3f55f2,#4441e3,#356af9,#2589f3,#238cf1,#2882f6,#2a7ff7,#2b7cf7,#2f75f9,#3271fa,#2e77f8,#2a7ef7,#2d79f8,#3270fa,#336ffa,#2c7bf8,#2191ef,#19a9dd,#18acda,#1e97ec,#2f75f9,#424aea,#4639dd,#3d59f4,#2e77f8,#238ef1,#1b9fe7,#1f96ed,#2980f6,#3073f9,#3668f8,#346cf9,#2e77f8,#2a7ff7,#238df1,#1d9aeb,#248bf2,#3963f7,#4228c0,#4226bc,#432cc7,#346bf9,#2290f0,#1f96ed,#2686f4,#2980f6,#248af2,#1e99ec,#2191ef,#2c7bf7,#326ffa,#3171fa,#2d7af8,#297ff7,#2882f6,#2a7ef7,#336ffa,#424aea,#4639dc,#3e57f3,#3073f9)"></i>
<i style="top:40.0px;height:2.6px;background:linear-gradient(90deg,#2883f6,#248af2,#2784f5,#3172fa,#3b5ef6,#3667f8,#2a7ef7,#2588f3,#2a7ff7,#2d78f8,#2f76f9,#3271fa,#3e58f4,#442fcc,#4226bc,#453ee1,#336efa,#2c7bf7,#2d79f8,#2e78f8,#2a7ff7,#238df1,#248cf2,#2c7bf8,#3270fa,#2f75f9,#2686f4,#248bf2,#2b7df7,#2f75f9,#2d79f8,#2588f3,#1e97ec,#2192ef,#2784f5,#2980f6,#2686f4,#2589f3,#2f75f9,#3e57f3,#3c5cf5,#2d78f8,#2686f4,#2b7cf7,#3569f8,#3a5ff6,#3172fa,#2a7ff7,#2d79f8,#3765f7,#3b5ef6,#2e77f8,#238df1,#238df1,#2784f5,#2980f6,#2a7ef7,#2d79f8,#2f76f9,#2c7af8,#2a7ef7,#2e78f8,#346bf9,#3863f7,#336ef9,#297ff7,#1c9cea,#1aa4e2,#2094ee,#2d79f8,#3a60f6,#3e58f4,#356af8,#2c7bf7,#238cf1,#1d99eb,#248bf2,#2f76f9,#3864f7,#3d5af4,#3962f7,#3073f9,#2b7df7,#2589f3,#2093ee,#2980f7,#4051ef,#4226bc,#4226bc,#4226bc,#3c5cf5,#2784f5,#228ef0,#2981f6,#2d79f8,#2c7cf7,#2882f6,#2a7ff7,#3074f9,#336efa,#3074f9,#2c7cf7,#2980f6,#2882f6,#2980f7,#2f76f9,#3863f7,#3d5af4,#356af8,#2d79f8)"></i>
<i style="top:42.0px;height:2.6px;background:linear-gradient(90deg,#2a7ff7,#2b7cf7,#3270fa,#414eec,#4537d9,#4346e6,#3667f8,#3172f9,#356af8,#3962f6,#3864f7,#3962f6,#414bea,#4329c0,#4226bc,#4227be,#414dec,#3864f7,#3962f7,#3a60f6,#356bf9,#2d78f8,#2c7af8,#336efa,#3c5cf5,#3a60f6,#3074f9,#2c7bf8,#2e77f8,#3073f9,#2e77f8,#2882f6,#228ef0,#2588f3,#2b7cf7,#2e77f8,#2c7bf8,#2a7ef7,#3171fa,#3f56f2,#4051ef,#3766f7,#3172fa,#3767f8,#4249e9,#4639db,#414ceb,#356af8,#3172fa,#326ffa,#3172fa,#2980f6,#2190ef,#238df1,#2785f5,#2882f6,#2980f6,#2b7cf7,#2d7af8,#2b7cf7,#2b7df7,#2f75f9,#3b5ef6,#4347e7,#4345e6,#3961f6,#2a7ff7,#228ff0,#2784f5,#2f75f9,#3667f8,#3767f8,#3073f9,#2b7cf7,#2685f4,#248af2,#2d79f8,#3d5bf5,#463bdf,#4535d6,#4248e9,#3668f8,#2d79f8,#2784f5,#248af2,#2e78f8,#4345e6,#4226bc,#4226bc,#4226bc,#3f56f2,#2a7ef7,#2686f4,#2d79f8,#346bf9,#3962f6,#3864f7,#3962f6,#3a5ff6,#3766f8,#3073f9,#2b7df7,#2881f6,#2883f6,#2882f6,#2b7df7,#2f75f9,#3171fa,#2e77f8,#2a7ef7)"></i>
<i style="top:44.0px;height:2.6px;background:linear-gradient(90deg,#2c7bf7,#3172f9,#3e56f3,#442ec9,#4226bc,#432ac3,#4443e4,#414beb,#463bdf,#4536d8,#4442e4,#404fee,#4346e7,#432cc7,#4226bc,#4226bc,#463bdf,#4249e9,#453de0,#4534d4,#453ce0,#3e58f4,#3a60f6,#404fed,#4536d7,#4535d5,#414dec,#3962f6,#3865f7,#3963f7,#3669f8,#2f75f9,#2b7df7,#2e78f8,#3668f8,#3d5bf5,#3b5df5,#3864f7,#3e58f4,#4639dc,#4430cc,#4639dc,#424aea,#4443e4,#432dc8,#4226bc,#432dc8,#414eed,#3668f8,#3172fa,#2d79f8,#2785f5,#2190ef,#238df1,#2686f4,#2784f5,#2882f6,#297ff7,#2b7df7,#2a7ef7,#2b7df7,#3171fa,#404fed,#432cc7,#4226bc,#4432d0,#3b5ef6,#3173f9,#356af9,#3d5af5,#3e57f3,#3962f6,#3271fa,#2f76f9,#2e78f8,#3074f9,#3c5cf5,#4533d2,#4226bc,#4226bc,#4534d3,#3c5cf5,#3074f9,#2b7df7,#2a7ef7,#336efa,#4440e3,#4226bc,#4226bc,#4432d1,#3a60f6,#2b7cf7,#2b7df7,#336ffa,#3f54f1,#453de0,#4639dc,#463cdf,#4248e8,#3a5ff6,#3073f9,#2b7df7,#2882f6,#2784f5,#2784f5,#2981f6,#2b7df7,#2c7bf8,#2a7ef7,#2882f6)"></i>
<i style="top:46.0px;height:2.6px;background:linear-gradient(90deg,#2b7cf7,#3171fa,#3f53f0,#442eca,#4226bc,#4329c2,#4638da,#4537d8,#4329c1,#4226bc,#4534d4,#414dec,#3f56f2,#4248e9,#463bde,#4440e2,#414eed,#4248e8,#4430ce,#4226bc,#4226bc,#4639dd,#4249e9,#463add,#4226bd,#4226bc,#4430cd,#4442e4,#4345e6,#453de0,#453fe2,#4052f0,#3963f7,#3b5ef5,#4443e5,#4430cd,#4430cd,#463ade,#4638da,#4227be,#4226bc,#4226bc,#4432d1,#4537d9,#442eca,#4227bd,#4431cf,#404fee,#3668f8,#3073f9,#2c7af8,#2784f5,#238df1,#248bf2,#2687f4,#2686f4,#2785f5,#2882f6,#2981f6,#2981f6,#2b7df7,#3271fa,#4249e9,#4226bc,#4226bc,#4226bc,#463bdf,#404fed,#453de0,#4430cd,#4536d7,#404fed,#3963f7,#3864f7,#3c5cf5,#414dec,#4535d5,#4226bc,#4226bc,#4226bc,#4639dc,#3a5ff6,#3172f9,#2f76f9,#3270fa,#3f55f2,#4535d5,#432dc7,#4536d6,#4051ef,#346df9,#2e77f8,#3270fa,#3e58f4,#453de0,#4432d1,#4534d3,#4639dd,#424ae9,#3a60f6,#3073f9,#2b7cf7,#2881f6,#2785f5,#2686f4,#2784f5,#2881f6,#2980f6,#2882f6,#2785f5)"></i>
<i style="top:48.0px;height:2.6px;background:linear-gradient(90deg,#2a7ff7,#2f75f9,#3a5ff6,#453ee1,#4533d2,#463ade,#424aea,#4248e8,#4638db,#4536d8,#4249e9,#3961f6,#336ef9,#346df9,#3668f8,#356af8,#356af8,#3d5af4,#4537da,#4226bc,#4227be,#463add,#414ceb,#4443e5,#4431ce,#432bc4,#4533d2,#463ade,#4432d0,#4226bc,#4226bc,#432cc6,#4441e3,#4345e6,#4432d0,#4226bc,#4226bc,#432dc9,#4432d0,#4228bf,#4226bc,#4226bc,#4638da,#424aea,#414eec,#414dec,#3e57f4,#3766f8,#326ffa,#3171fa,#3074f9,#2c7bf8,#2883f6,#2687f4,#2687f4,#2687f4,#2687f4,#2685f4,#2784f5,#2783f5,#2a7ff7,#3172fa,#414ceb,#4226bc,#4226bc,#4226bc,#4431cf,#463bdf,#432cc7,#4226bc,#432bc4,#4344e5,#3e59f4,#3f52f0,#463cdf,#442eca,#4227bd,#4227be,#4431ce,#4442e4,#3c5cf5,#3270fa,#2f75f9,#3270fa,#3c5bf5,#4638db,#4228c0,#442eca,#4346e7,#3962f7,#336ffa,#3669f8,#4050ee,#4535d6,#442fcc,#4537d9,#4248e8,#3f54f1,#3d5af4,#3a61f6,#346bf9,#2f75f9,#2b7cf7,#2882f6,#2686f4,#2686f4,#2785f5,#2784f5,#2686f4,#2687f4)"></i>
<i style="top:50.0px;height:2.6px;background:linear-gradient(90deg,#297ff7,#2f75f9,#3b5ef6,#4440e2,#4537d8,#4344e6,#3c5cf5,#3766f7,#3864f7,#3865f7,#336ef9,#2f76f9,#2d79f8,#2d78f8,#2f76f9,#2f75f9,#3172fa,#3961f6,#453fe2,#432cc6,#432dc8,#4440e3,#3f55f2,#3f53f1,#4443e5,#463bdf,#4440e3,#453fe2,#442eca,#4226bc,#4226bc,#4226bc,#4535d6,#4441e3,#4535d5,#4227be,#4227bd,#4432d0,#4537d8,#442fcb,#4227bd,#432cc7,#4443e5,#3b5ff6,#346df9,#3172fa,#3074f9,#3074f9,#346bf9,#3b5df5,#3d59f4,#3766f7,#2f76f9,#2a7ff7,#2785f5,#2588f3,#2589f3,#2588f3,#2687f4,#2686f4,#2881f6,#2f75f9,#3e57f3,#432dc8,#4226bc,#4226bc,#4535d6,#453ee1,#442fcb,#4226bc,#4430cd,#424bea,#3b5df5,#3e57f3,#4440e3,#4534d3,#4534d3,#4441e3,#3d5af4,#346cf9,#2e77f8,#2b7cf7,#2c7bf8,#3172f9,#3c5cf5,#463cdf,#4430ce,#463ade,#3e59f4,#346cf9,#336efa,#3c5cf5,#4639dc,#4228c0,#432dc8,#4345e6,#3a60f6,#3766f7,#3c5cf5,#404fee,#414fed,#3b5ef5,#3171fa,#2b7df7,#2784f5,#2588f3,#2588f3,#2588f3,#2589f3,#248af2)"></i>
<i style="top:52.0px;height:2.6px;background:linear-gradient(90deg,#2a7ff7,#3271fa,#4051ef,#4432d0,#432cc6,#453de0,#3a61f6,#2f75f9,#2c7bf8,#2b7df7,#2a7ef7,#2a7ef7,#2c7af8,#3172f9,#3569f8,#3766f8,#3864f7,#3f56f2,#4537d9,#4226bd,#4228bf,#4639dd,#4050ee,#414eed,#453ee1,#4536d7,#4639dc,#4639dd,#432cc7,#4226bc,#4226bc,#4226bc,#4534d4,#4441e3,#4536d8,#432ac2,#4228c0,#4432d0,#4536d7,#432dc8,#4226bc,#4329c1,#4441e3,#3864f7,#2e77f8,#2b7df7,#2b7df7,#2f75f9,#3b5ef6,#453de0,#4533d3,#4443e4,#3864f7,#2d79f8,#2883f6,#258af3,#238cf1,#238cf1,#248cf2,#248bf2,#2687f4,#2b7cf7,#3569f8,#4249e9,#4535d5,#4638db,#424aea,#4248e8,#4432d0,#4228bf,#4533d3,#3f53f0,#3669f8,#346cf9,#3863f7,#3b5df5,#3a60f6,#356bf9,#2e76f9,#2a7ef7,#2883f6,#2686f4,#2882f6,#2b7cf7,#3172fa,#3962f7,#3d5af5,#3962f6,#3171fa,#2e78f8,#2f75f9,#3766f8,#424aea,#4638db,#4442e4,#3b5ef5,#3270fa,#346cf9,#3f54f1,#4536d7,#442fcc,#453ee1,#3a61f6,#2e78f8,#2883f6,#2589f3,#248af2,#248bf2,#248bf2,#238cf1)"></i>
<i style="top:54.0px;height:2.6px;background:linear-gradient(90deg,#2981f6,#3073f9,#3e57f3,#4537d9,#4432d1,#4247e8,#356af9,#2b7cf7,#2685f4,#2589f3,#2687f4,#2980f7,#3073f9,#3c5cf5,#4345e6,#4441e3,#4249e9,#4247e8,#4537d9,#432bc5,#432dc8,#453ee1,#414eed,#4346e7,#4432d1,#4329c1,#442ec9,#4533d3,#432dc8,#4226bc,#4226bc,#4226bc,#4537da,#4442e4,#4535d6,#4227be,#4226bc,#4430cd,#4537d9,#4432d0,#432ac3,#442fcc,#424ae9,#346cf9,#2b7cf7,#2784f5,#2882f6,#2e78f8,#3b5ff6,#463ade,#4430cd,#453ee1,#3962f6,#2d79f8,#2686f4,#228ff0,#2094ee,#1e97ec,#1d9aeb,#1c9bea,#1e98ec,#228ef0,#2a7ff7,#3073f9,#3669f8,#3668f8,#3668f8,#3e57f3,#4535d6,#4329c2,#4536d7,#3d5af5,#3073f9,#2c7cf7,#2b7df7,#2b7df7,#2a7ef7,#2981f6,#2686f4,#248af2,#238df1,#238df1,#238cf1,#2589f3,#2783f5,#2a7ef7,#2c7bf7,#2b7df7,#2981f6,#2784f5,#2981f6,#2c7af8,#3171fa,#3569f8,#336efa,#2e77f8,#2c7bf7,#3074f9,#3c5bf5,#463add,#4432d0,#4441e3,#3863f7,#2d7af8,#2686f4,#238df1,#228ef0,#228ff0,#228ff0,#2290f0)"></i>
<i style="top:56.0px;height:2.6px;background:linear-gradient(90deg,#248af2,#2a7ef7,#3172fa,#3a61f6,#3b5df5,#356bf9,#2c7af8,#2687f4,#228ff0,#2190ef,#238cf1,#2981f6,#3270fa,#404fed,#4534d3,#4432d0,#4441e3,#3f52f0,#3f54f1,#4050ee,#3f54f1,#3a60f6,#3865f7,#3d59f4,#4440e3,#4535d5,#4639dd,#4344e5,#4441e3,#4534d3,#442fcb,#4639dc,#4050ee,#3e58f4,#4249e9,#4537d9,#4536d7,#4345e6,#3f54f1,#3f55f2,#4051ef,#3e58f4,#356af8,#2d7af8,#2685f4,#238cf1,#248bf2,#2981f6,#3073f9,#3a5ff6,#3e56f3,#3961f6,#2f75f9,#2882f6,#2290f0,#1d9beb,#1aa5e1,#17b0d6,#1cb8c8,#20bbc0,#1db9c6,#17b0d6,#1ba1e5,#2191ef,#2687f4,#2882f6,#2b7df7,#326ffa,#4052ef,#4441e3,#4051ef,#336ef9,#2a7ef7,#248af2,#228ff0,#2191ef,#2191ef,#2191ef,#2191ef,#2092ee,#2093ee,#2093ee,#2093ee,#2093ee,#2192ef,#2190ef,#228ef0,#228ef0,#2290f0,#2191ef,#2290f0,#238df1,#2587f3,#2784f5,#2685f4,#2589f3,#2589f3,#2981f6,#3074f9,#3963f7,#3c5cf5,#3766f8,#2e77f9,#2883f6,#238df1,#2192ef,#2093ee,#2093ee,#2094ee,#2094ee)"></i>
<i style="top:58.0px;height:2.6px;background:linear-gradient(90deg,#2094ee,#228ef0,#2686f4,#2980f6,#2a7ff7,#2883f6,#248cf2,#2093ee,#1f96ed,#1f96ed,#2192ef,#2588f3,#2d78f8,#3962f6,#414ceb,#414beb,#3b5ff6,#3171fa,#2d78f8,#2c7bf8,#2b7df7,#2980f6,#2980f6,#2d7af8,#3171fa,#356af9,#336ef9,#3073f9,#3172f9,#346df9,#356af8,#3271fa,#2e78f8,#2d7af8,#2f75f9,#336efa,#336ef9,#2f75f9,#2c7bf7,#2a7ef7,#2a7ef7,#2980f6,#2587f3,#2191ef,#1e98ec,#1d9beb,#1e98ec,#2191ef,#2686f4,#2a7ef7,#2b7cf7,#2a7ff7,#2587f3,#2192ef,#1c9bea,#1aa5e1,#16b4d2,#28c0b2,#4cc792,#60ca83,#54c88c,#2dc3aa,#19b6cd,#19a6e0,#1c9cea,#1e97ec,#2093ee,#2588f3,#2b7cf7,#2d79f8,#2981f6,#2093ee,#1ba2e4,#19a8de,#19a8de,#1aa5e1,#1ba1e5,#1c9de9,#1d9aeb,#1d99eb,#1e99ec,#1e99ec,#1d99eb,#1d9aeb,#1c9cea,#1c9de9,#1c9de9,#1b9fe7,#1ba0e6,#1aa2e4,#1aa4e2,#1aa4e2,#1aa3e3,#1ba1e5,#1ba0e6,#1b9fe7,#1c9de9,#1e97ec,#238cf1,#2883f6,#2980f6,#2882f6,#248af2,#2191ef,#1f95ed,#1e97ec,#1e98ec,#1e98ec,#1e98ec,#1e98ec)"></i>
<i style="top:60.0px;height:2.6px;background:linear-gradient(90deg,#1d9aeb,#1e99ec,#1f96ed,#2094ee,#2093ee,#2094ee,#1e97ec,#1e98ec,#1d99eb,#1e98ec,#1f96ed,#2190ef,#2686f4,#2c7bf8,#3074f9,#2f76f9,#2981f6,#2092ee,#1ba0e6,#19a7df,#18abdb,#18aed8,#17aed8,#18add9,#19aadc,#19a9dd,#18acda,#17b0d6,#17b2d4,#17b1d5,#16b2d4,#18b5cf,#1bb7c9,#1cb8c8,#1ab6cc,#17b4d1,#17b5d1,#1ab7cb,#1db9c5,#1fbac2,#20bbc1,#21bbbf,#23bdbb,#25beb8,#27bfb5,#27bfb4,#1ab6cc,#19a8de,#1e97ec,#2093ee,#2192ef,#2094ee,#1e97ec,#1d9beb,#1b9fe7,#1aa6e0,#17b1d5,#22bcbe,#33c4a6,#43c69a,#39c5a1,#25beb7,#16b4d1,#19a8de,#1ba2e4,#1ba0e6,#1ba2e4,#1ba2e4,#1aa3e3,#19a9dd,#18b5cf,#25beb8,#2dc3aa,#2fc3a9,#27bfb4,#1db9c5,#17b1d5,#19a8de,#1ba2e4,#1b9fe7,#1c9ee8,#1b9ee8,#1ba0e6,#1aa3e3,#19a8de,#18add9,#16b4d2,#1db9c6,#25beb8,#2dc3aa,#3bc59f,#44c699,#44c699,#3cc59f,#2ec3a9,#26bfb5,#1eb9c3,#16b3d3,#19aadc,#1ba2e4,#1c9de9,#1d9beb,#1d9aeb,#1c9bea,#1c9cea,#1c9cea,#1c9cea,#1c9bea,#1c9cea,#1c9cea)"></i>
<i style="top:62.0px;height:2.6px;background:linear-gradient(90deg,#1f96ed,#1f96ed,#2094ee,#2092ee,#2191ef,#228ff0,#238ef1,#238cf1,#248bf2,#2589f3,#2588f3,#2686f4,#2783f5,#2980f6,#2a7ff7,#2882f6,#1f95ed,#19a6e0,#17b4d1,#23bcbc,#28bfb4,#2cc2ac,#33c4a5,#3ac5a0,#40c59c,#48c696,#51c88e,#5bc987,#63ca80,#6ec97a,#7bc973,#89c86b,#8cc869,#8dc868,#8bc86a,#88c86c,#88c86b,#8cc869,#8fc867,#91c866,#92c865,#94c764,#96c763,#97c763,#98c762,#96c763,#41c69b,#19b6cd,#1e98ec,#1f96ed,#1f96ed,#1f97ed,#1e97ec,#1e97ec,#1e97ec,#1d99eb,#1c9de9,#1aa3e3,#19a9dd,#18acda,#18abdb,#19a7df,#1ba1e5,#1c9de9,#1c9bea,#1c9cea,#1b9fe7,#1ba1e5,#1aa3e3,#19a7df,#17aed8,#17b5d1,#1ab7ca,#1ab7cb,#16b4d2,#18add9,#19a6e0,#1ba0e6,#1c9de9,#1d9beb,#1d9aeb,#1c9bea,#1c9de9,#1ba1e5,#1aa6e0,#18acda,#16b4d2,#1fbac3,#28c0b3,#35c4a4,#46c697,#50c790,#50c78f,#48c696,#38c4a1,#2ac1b0,#21bbc0,#17b5d0,#18acda,#1aa5e1,#1ba0e6,#1c9de9,#1d9beb,#1d9aeb,#1d99eb,#1e98ec,#1e98ec,#1e98ec,#1e98ec,#1e98ec)"></i>
<i style="top:64.0px;height:2.6px;background:linear-gradient(90deg,#2191ef,#228ff0,#238cf1,#2687f4,#2981f6,#2d79f8,#346bf9,#3d59f4,#414ceb,#414eec,#3d5bf5,#3668f8,#3171fa,#2f75f9,#2e78f8,#2b7cf7,#2686f4,#2192ef,#1c9de9,#1aa5e1,#19a9dd,#18add9,#17afd7,#17b2d4,#16b3d3,#16b3d3,#17b2d4,#17b1d5,#17b2d4,#17b5d0,#1cb8c7,#21bbbf,#23bcbc,#23bdbb,#23bdbb,#23bdbb,#23bcbb,#23bdbb,#23bdbb,#23bdbb,#23bdbb,#23bdbb,#23bcbb,#22bcbd,#21bbbf,#20bbc0,#17b1d5,#1aa3e3,#2094ee,#2094ee,#2094ee,#2192ef,#238df1,#2981f6,#3073f9,#3b5ff6,#3f54f1,#3b5ef5,#3073f9,#2881f6,#238df1,#2290f0,#238df1,#2589f3,#2588f3,#248cf2,#2191ef,#1f95ed,#1f95ed,#2192ef,#238df1,#2588f3,#2685f4,#2687f4,#238cf1,#2191ef,#2094ee,#2093ee,#2190ef,#248bf2,#2784f5,#2981f6,#2882f6,#2589f3,#2191ef,#1e98ec,#1c9cea,#1b9fe7,#1b9fe7,#1c9ee8,#1d9beb,#1e97ec,#1e97ec,#1d9aeb,#1c9ee8,#1b9fe7,#1b9fe7,#1c9ee8,#1c9bea,#1d99eb,#1e97ec,#1f96ed,#2094ee,#2192ef,#228ff0,#238df1,#238df1,#228ef0,#2191ef,#2093ee)"></i>
<i style="top:66.0px;height:2.6px;background:linear-gradient(90deg,#238cf1,#248af2,#2687f4,#2881f6,#2c7af8,#346cf9,#414ceb,#432dc8,#4226bc,#4226bc,#4534d5,#4050ee,#3962f7,#346cf9,#3172fa,#2e77f9,#2c7bf7,#2980f6,#2784f5,#2686f4,#2686f4,#2784f5,#2883f6,#2882f6,#2a7ff7,#2f75f9,#3b5ef6,#4442e4,#463ade,#4050ee,#326ffa,#2980f6,#228ef0,#2093ee,#2191ef,#248bf2,#2881f6,#2c7bf7,#2d7af8,#2b7df7,#2783f5,#2686f4,#2a7ff7,#3172fa,#3b5df5,#3f53f0,#3c5cf5,#3270fa,#2b7df7,#2588f3,#228ef0,#228ff0,#248bf2,#2882f6,#2e78f8,#346cf9,#3864f7,#356af8,#2f76f9,#2a7ef7,#2a7ff7,#2f75f9,#3c5df5,#453de0,#4535d6,#4248e8,#3569f8,#2c7bf7,#2981f6,#2c7af8,#3766f8,#4345e6,#4534d4,#453ce0,#3b5df5,#2e77f9,#2882f6,#2685f4,#2b7df7,#346bf9,#424aea,#4535d6,#4639dc,#3e58f4,#3074f9,#2882f6,#248bf2,#248bf2,#2881f6,#3073f9,#3f56f2,#4639dc,#4537d9,#4050ee,#3270fa,#2980f7,#248bf2,#2290f0,#2191ef,#2191ef,#2290f0,#238df1,#2784f5,#2e76f9,#3b5ff6,#4443e4,#453ce0,#4051ef,#336efa,#2a7ef7)"></i>
<i style="top:68.0px;height:2.6px;background:linear-gradient(90deg,#248bf2,#248af2,#2588f3,#2686f4,#2784f5,#2981f6,#2a7ef7,#2c7bf8,#2e78f8,#2f75f9,#3271fa,#3864f7,#4050ee,#453de1,#453ee1,#4052f0,#356af9,#2e78f8,#2c7cf7,#2f76f9,#3961f6,#4440e2,#4430cd,#4535d6,#4051ef,#356af9,#2f75f9,#2e77f9,#2e77f9,#2e78f8,#2e78f8,#2f75f9,#3171fa,#336df9,#356bf9,#3963f7,#4050ee,#4639dc,#4536d6,#4248e8,#3766f8,#2e77f8,#2c7af8,#3074f9,#3669f8,#3963f7,#356af8,#2f76f9,#2980f7,#2588f3,#248cf2,#238df1,#238df1,#238df1,#238df1,#238cf1,#238cf1,#238cf1,#238cf1,#238cf1,#248af2,#2685f4,#2980f6,#2b7df7,#2b7df7,#2981f6,#248af2,#2092ee,#1e97ec,#1e97ec,#2093ee,#238ef1,#248bf2,#238cf1,#2191ef,#1f95ed,#1e98ec,#1e99ec,#1f97ed,#2192ef,#238cf1,#2589f3,#2589f3,#238cf1,#2191ef,#2094ee,#1f95ed,#2094ee,#2192ef,#238df1,#2588f3,#2784f5,#2783f5,#2686f4,#248bf2,#228ff0,#2191ef,#2191ef,#2191ef,#2191ef,#2290f0,#228ef0,#248af2,#2882f6,#2c7af8,#3073f9,#3172fa,#2f76f9,#2a7ef7,#2785f5)"></i>
<i style="top:70.0px;height:2.6px;background:linear-gradient(90deg,#2094ee,#2094ee,#2094ee,#2094ee,#2094ee,#2094ee,#2094ee,#2094ee,#2093ee,#2290f0,#2589f3,#2b7df7,#3271fa,#3962f6,#3a60f6,#336efa,#2b7cf7,#248af2,#2192ef,#2192ef,#238df1,#2687f4,#2883f6,#2785f5,#248bf2,#2192ef,#1e97ec,#1e98ec,#1f96ed,#238df1,#2a7ef7,#356af9,#4050ee,#4248e8,#3d5af4,#3172fa,#2980f6,#248bf2,#2290f0,#2093ee,#1f96ed,#1e98ec,#1d9aeb,#1d9aeb,#1d99eb,#1d99eb,#1d9aeb,#1d9aeb,#1d9aeb,#1d9aeb,#1d9aeb,#1d9aeb,#1d9aeb,#1d9aeb,#1d9aeb,#1d99eb,#1d99eb,#1e98ec,#1e98ec,#1e97ec,#1f96ed,#1c9de9,#19a9dd,#1ab6cc,#2ac1b0,#47c696,#5cc986,#79c974,#9cc760,#b7c551,#b4c553,#b1c654,#afc655,#acc657,#a9c658,#a6c65a,#a3c75c,#a0c75e,#9dc760,#95c764,#87c86c,#7bc973,#6ec97a,#63ca81,#5bc987,#54c88c,#4dc792,#45c697,#3ec59d,#38c4a2,#31c4a7,#2cc3ab,#2ac1b0,#27bfb4,#25beb8,#23bcbc,#21bbbf,#1fbac3,#1cb8c7,#1ab7ca,#19b6ce,#16b4d2,#17b1d5,#18add9,#19aadc,#19a7df,#1aa4e2,#1ba1e5,#1b9fe7,#1c9de9)"></i>
<i style="top:72.0px;height:2.6px;background:linear-gradient(90deg,#1c9bea,#1c9cea,#1ba0e6,#1aa4e2,#19a7df,#18abdb,#17afd7,#17b2d4,#16b4d2,#18b5cf,#19b6cc,#1bb7c9,#1cb8c7,#1eb9c4,#20bbc0,#23bcbc,#25beb8,#27bfb5,#27bfb4,#27bfb4,#28bfb3,#28c0b3,#28c0b3,#28c0b3,#28c0b2,#29c0b2,#29c0b1,#29c0b1,#29c0b1,#28c0b2,#27bfb4,#26beb7,#24bdba,#24bdba,#25beb8,#27bfb4,#29c0b1,#2ac1af,#2bc1ae,#2bc2ad,#2bc2ad,#2cc2ad,#2bc2ad,#2bc2ad,#2bc2ae,#2bc1ae,#2ac1af,#2ac1b0,#29c1b1,#29c0b1,#28c0b2,#28c0b3,#28c0b3,#27bfb4,#25beb8,#21bbbf,#1cb8c7,#18b5cf,#17b1d5,#18acda,#19a7df,#17b4d1,#44c698,#b4c553,#f4be31,#f9d024,#f7da1f,#f6e519,#f5ee14,#f5ee14,#f5ee14,#f5ee14,#f5ee14,#f5ee14,#f5ee14,#f5ee14,#f5ed15,#f5eb16,#f6ea16,#f6e718,#f6e41a,#f7e01c,#f7dc1e,#f8d91f,#f8d521,#f8d123,#f9ce25,#f9ca27,#f9c629,#fac32b,#fabf2d,#f8be2e,#f5be30,#f3be32,#f0bd34,#edbd36,#ebbd38,#e8bd3a,#ddbf3f,#d1c145,#c5c34b,#b6c552,#97c763,#77c975,#5cc986,#48c695,#34c4a5,#28c0b3,#20bac1,#18b5cf)"></i>
<i style="top:74.0px;height:2.6px;background:linear-gradient(90deg,#1e97ec,#1e98ec,#1c9de9,#1ba1e5,#1aa6e0,#18abdb,#17afd7,#16b2d4,#17b5d0,#19b6cc,#1cb8c8,#1eb9c4,#21bbc0,#23bcbb,#25beb7,#28c0b3,#2ac1af,#2bc2ad,#2cc2ad,#2cc2ac,#2cc2ac,#2cc2ab,#2cc3ab,#2dc3ab,#2dc3aa,#2dc3aa,#2ec3aa,#2ec3a9,#2ec3a9,#2fc3a9,#2fc3a8,#30c3a8,#30c3a7,#31c3a7,#31c4a7,#32c4a6,#32c4a6,#33c4a5,#33c4a5,#34c4a5,#37c4a3,#3fc59c,#47c696,#4dc791,#52c88d,#56c88b,#58c889,#58c889,#56c88a,#54c88c,#50c78f,#4ac794,#3ec59d,#35c4a4,#2cc2ac,#25beb8,#1fbac3,#19b6cd,#17b1d5,#18acda,#1aa6e0,#18aed8,#24bdba,#48c695,#89c86b,#bbc44f,#c3c34b,#cac248,#cec146,#d1c145,#cec146,#cbc248,#c9c249,#c6c24a,#c4c34b,#c1c34c,#bfc44e,#bcc44f,#bac450,#b8c551,#b6c552,#b5c552,#b3c553,#b1c654,#afc655,#acc657,#a8c659,#a5c75b,#a1c75d,#9dc760,#98c762,#94c764,#90c867,#8bc86a,#86c86c,#81c86f,#7cc972,#76c976,#70c979,#69ca7d,#63ca81,#5dc985,#51c88f,#44c698,#37c4a2,#2bc2ad,#25beb7,#1fbac2,#19b6cd,#17b0d6)"></i>
<i style="top:76.0px;height:2.6px;background:linear-gradient(90deg,#2c7af8,#2d7af8,#2d7af8,#2c7af8,#2c7bf8,#2c7bf7,#2b7cf7,#2b7df7,#2a7ef7,#2a7ff7,#2980f6,#2881f6,#2883f6,#2784f5,#2686f4,#2687f4,#2588f3,#2589f3,#248af2,#248af2,#248af2,#248bf2,#248bf2,#248bf2,#248bf2,#248bf2,#248bf2,#248bf2,#248cf2,#248cf2,#248cf2,#248cf2,#248cf2,#238cf1,#238cf1,#238cf1,#238cf1,#238cf1,#238cf1,#238cf1,#238cf1,#238ef1,#2290f0,#2092ee,#1f96ed,#1d9beb,#1b9fe7,#1aa4e2,#19a9dd,#17afd7,#17b5d0,#1cb8c7,#20bac1,#1fbac2,#1ab7ca,#17b1d5,#19a7df,#1b9fe7,#1f97ed,#2191ef,#238df1,#238cf1,#228ef0,#2190ef,#2093ee,#2094ee,#2094ee,#2093ee,#2093ee,#2192ef,#2192ef,#2192ef,#2192ef,#2192ef,#2191ef,#2191ef,#2191ef,#2191ef,#2191ef,#2191ef,#2191ef,#2191ef,#2191ef,#2192ef,#2192ef,#2192ef,#2192ef,#2192ef,#2092ee,#2092ee,#2092ee,#2093ee,#2093ee,#2093ee,#2093ee,#2093ee,#2093ee,#2093ee,#2093ee,#2093ee,#2092ee,#2192ef,#2191ef,#2190ef,#228ff0,#228ef0,#238df1,#248cf2,#248af2,#2588f3)"></i>
<i style="top:78.0px;height:2.6px;background:linear-gradient(90deg,#4228c0,#4226bc,#4226bc,#4226bc,#4226bc,#4226bc,#4226bc,#4228bf,#432bc4,#442fcb,#4533d2,#4537da,#453de0,#4443e4,#4248e9,#414dec,#4052ef,#3f55f2,#3e58f4,#3d5af4,#3c5bf5,#3c5df5,#3b5df5,#3b5ef5,#3b5ef6,#3b5ff6,#3b5ff6,#3b5ff6,#3a5ff6,#3a5ff6,#3a5ff6,#3a5ff6,#3a5ff6,#3a5ff6,#3a5ff6,#3a5ff6,#3a5ff6,#3a5ff6,#3a5ff6,#3a5ff6,#3a5ff6,#3a5ff6,#3a5ff6,#3a5ff6,#3a5ff6,#3a60f6,#3a60f6,#3a60f6,#3961f6,#3962f7,#3864f7,#3767f8,#336df9,#3074f9,#2c7cf7,#2686f4,#2093ee,#1c9de9,#1b9fe7,#1f95ed,#248af2,#2980f6,#2d79f8,#3171fa,#3767f8,#3a60f6,#3a60f6,#3a60f6,#3a60f6,#3a5ff6,#3a5ff6,#3a5ff6,#3a5ff6,#3a5ff6,#3a5ff6,#3a5ff6,#3a5ff6,#3a5ff6,#3a5ff6,#3a5ff6,#3a5ff6,#3a5ff6,#3a5ff6,#3a5ff6,#3a60f6,#3a60f6,#3a60f6,#3a60f6,#3a60f6,#3a60f6,#3a60f6,#3a60f6,#3a60f6,#3a60f6,#3a60f6,#3a60f6,#3a60f6,#3a60f6,#3a60f6,#3a60f6,#3a60f6,#3a60f6,#3a60f6,#3a60f6,#3a60f6,#3a60f6,#3a60f6,#3a5ff6,#3a5ff6,#3a5ff6)"></i>
<i style="top:80.0px;height:2.6px;background:linear-gradient(90deg,#463bde,#463ade,#463add,#4639dd,#4639dd,#4639dd,#463ade,#463ade,#463bdf,#453ce0,#453de0,#453ee1,#4540e2,#4441e3,#4442e4,#4442e4,#4443e5,#4344e5,#4344e6,#4345e6,#4345e6,#4345e6,#4345e6,#4346e6,#4346e7,#4346e7,#4346e7,#4346e7,#4346e7,#4346e7,#4346e7,#4346e7,#4346e7,#4346e7,#4346e7,#4346e7,#4346e7,#4346e7,#4346e7,#4346e7,#4346e7,#4346e7,#4346e7,#4346e7,#4346e7,#4346e7,#4346e7,#4346e7,#4346e7,#4346e7,#4346e7,#4346e7,#4346e7,#4346e7,#4347e7,#4248e8,#414beb,#4051ef,#3e57f3,#3e56f3,#3f55f2,#3f53f1,#4051ef,#414eec,#4249e9,#4346e7,#4346e7,#4346e7,#4346e7,#4346e7,#4346e7,#4346e7,#4346e7,#4346e7,#4346e7,#4346e7,#4346e7,#4346e7,#4346e7,#4346e7,#4346e7,#4346e7,#4346e7,#4346e7,#4346e7,#4346e7,#4346e7,#4346e7,#4346e7,#4346e7,#4346e7,#4346e7,#4346e7,#4346e7,#4346e7,#4346e7,#4346e7,#4346e7,#4346e7,#4346e7,#4346e7,#4346e7,#4346e7,#4346e7,#4346e7,#4346e7,#4346e7,#4346e7,#4346e7,#4346e7)"></i>
<i style="top:82.0px;height:2.6px;background:linear-gradient(90deg,#3e57f3,#3e57f3,#3e57f3,#3e57f3,#3e57f3,#3e57f3,#3e57f3,#3e57f3,#3e57f3,#3e57f3,#3e57f3,#3e57f3,#3e57f3,#3e57f3,#3e57f3,#3e57f3,#3e57f3,#3e57f3,#3e57f3,#3e57f3,#3e57f3,#3e57f3,#3e57f3,#3e57f3,#3e57f3,#3e57f3,#3e57f3,#3e57f3,#3e57f3,#3e57f3,#3e57f3,#3e57f3,#3e57f3,#3e57f3,#3e57f3,#3e57f3,#3e57f3,#3e57f3,#3e57f3,#3e57f3,#3e57f3,#3e57f3,#3e57f3,#3e57f3,#3e57f3,#3e57f3,#3e57f3,#3e57f3,#3e57f3,#3e57f3,#3e57f3,#3e57f3,#3e57f3,#3e57f3,#3e57f3,#3e57f3,#3e57f3,#3e57f3,#3e57f3,#3e57f3,#3e57f3,#3e57f3,#3e57f3,#3e57f3,#3e57f3,#3e57f3,#3e57f3,#3e57f3,#3e57f3,#3e57f3,#3e57f3,#3e57f3,#3e57f3,#3e57f3,#3e57f3,#3e57f3,#3e57f3,#3e57f3,#3e57f3,#3e57f3,#3e57f3,#3e57f3,#3e57f3,#3e57f3,#3e57f3,#3e57f3,#3e57f3,#3e57f3,#3e57f3,#3e57f3,#3e57f3,#3e57f3,#3e57f3,#3e57f3,#3e57f3,#3e57f3,#3e57f3,#3e57f3,#3e57f3,#3e57f3,#3e57f3,#3e57f3,#3e57f3,#3e57f3,#3e57f3,#3e57f3,#3e57f3,#3e57f3,#3e57f3,#3e57f3)"></i>
<i style="top:84.0px;height:1.3px;background:linear-gradient(90deg,#1f95ed,#1f95ed,#1f95ed,#1f95ed,#1f95ed,#1f95ed,#1f95ed,#1f95ed,#1f95ed,#1f95ed,#1f95ed,#1f95ed,#1f95ed,#1f95ed,#1f95ed,#1f95ed,#1f95ed,#1f95ed,#1f95ed,#1f95ed,#1f95ed,#1f95ed,#1f95ed,#1f95ed,#1f95ed,#1f95ed,#1f95ed,#1f95ed,#1f95ed,#1f95ed,#1f95ed,#1f95ed,#1f95ed,#1f95ed,#1f95ed,#1f95ed,#1f95ed,#1f95ed,#1f95ed,#1f95ed,#1f95ed,#1f95ed,#1f95ed,#1f95ed,#1f95ed,#1f95ed,#1f95ed,#1f95ed,#1f95ed,#1f95ed,#1f95ed,#1f95ed,#1f95ed,#1f95ed,#1f95ed,#1f95ed,#1f95ed,#1f95ed,#1f95ed,#1f95ed,#1f95ed,#1f95ed,#1f95ed,#1f95ed,#1f95ed,#1f95ed,#1f95ed,#1f95ed,#1f95ed,#1f95ed,#1f95ed,#1f95ed,#1f95ed,#1f95ed,#1f95ed,#1f95ed,#1f95ed,#1f95ed,#1f95ed,#1f95ed,#1f95ed,#1f95ed,#1f95ed,#1f95ed,#1f95ed,#1f95ed,#1f95ed,#1f95ed,#1f95ed,#1f95ed,#1f95ed,#1f95ed,#1f95ed,#1f95ed,#1f95ed,#1f95ed,#1f95ed,#1f95ed,#1f95ed,#1f95ed,#1f95ed,#1f95ed,#1f95ed,#1f95ed,#1f95ed,#1f95ed,#1f95ed,#1f95ed,#1f95ed,#1f95ed)"></i>
</div>
<div class="tt" style="left:12.15px;top:7.15px">CO Subject Morlet Wavelet Spectrogram for 0.1-5 Hz</div>
<div class="yt" style="left:25.10px;top:97.00px">0</div>
<div class="yt" style="left:25.10px;top:88.44px">0.5</div>
<div class="yt" style="left:25.10px;top:79.88px">1</div>
<div class="yt" style="left:25.10px;top:71.32px">1.5</div>
<div class="yt" style="left:25.10px;top:62.76px">2</div>
<div class="yt" style="left:25.10px;top:54.20px">2.5</div>
<div class="yt" style="left:25.10px;top:45.64px">3</div>
<div class="yt" style="left:25.10px;top:37.08px">3.5</div>
<div class="yt" style="left:25.10px;top:28.52px">4</div>
<div class="yt" style="left:25.10px;top:19.96px">4.5</div>
<div class="yt" style="left:25.10px;top:11.40px">5</div>
<div class="xt" style="left:31.40px;top:100.70px">0</div>
<div class="xt" style="left:53.30px;top:100.70px">2</div>
<div class="xt" style="left:75.20px;top:100.70px">4</div>
<div class="xt" style="left:97.10px;top:100.70px">6</div>
<div class="xt" style="left:119.00px;top:100.70px">8</div>
<div class="xt" style="left:140.90px;top:100.70px">10</div>
<div class="xl" style="left:72.15px;top:103.80px">Time (sec)</div>
<div class="yl" style="left:27.80px;top:54.80px">Frequency (Hz)</div>
<div class="ax" style="left:37.40px;top:96.70px;width:109.50px"></div>
<div class="tt" style="left:143.15px;top:7.15px">PD Stage 2 Morlet Wavelet Spectrogram for 0.1-5 Hz</div>
<div class="yt" style="left:156.10px;top:97.00px">0</div>
<div class="yt" style="left:156.10px;top:88.44px">0.5</div>
<div class="yt" style="left:156.10px;top:79.88px">1</div>
<div class="yt" style="left:156.10px;top:71.32px">1.5</div>
<div class="yt" style="left:156.10px;top:62.76px">2</div>
<div class="yt" style="left:156.10px;top:54.20px">2.5</div>
<div class="yt" style="left:156.10px;top:45.64px">3</div>
<div class="yt" style="left:156.10px;top:37.08px">3.5</div>
<div class="yt" style="left:156.10px;top:28.52px">4</div>
<div class="yt" style="left:156.10px;top:19.96px">4.5</div>
<div class="yt" style="left:156.10px;top:11.40px">5</div>
<div class="xt" style="left:162.40px;top:100.70px">0</div>
<div class="xt" style="left:184.30px;top:100.70px">2</div>
<div class="xt" style="left:206.20px;top:100.70px">4</div>
<div class="xt" style="left:228.10px;top:100.70px">6</div>
<div class="xt" style="left:250.00px;top:100.70px">8</div>
<div class="xt" style="left:271.90px;top:100.70px">10</div>
<div class="xl" style="left:203.15px;top:103.80px">Time (sec)</div>
<div class="yl" style="left:158.80px;top:54.80px">Frequency (Hz)</div>
<div class="ax" style="left:168.40px;top:96.70px;width:109.50px"></div>
<div class="tt" style="left:273.95px;top:7.15px">PD Stage 2.5 Morlet Wavelet Spectrogram for 0.1-5 Hz</div>
<div class="yt" style="left:286.90px;top:97.00px">0</div>
<div class="yt" style="left:286.90px;top:88.44px">0.5</div>
<div class="yt" style="left:286.90px;top:79.88px">1</div>
<div class="yt" style="left:286.90px;top:71.32px">1.5</div>
<div class="yt" style="left:286.90px;top:62.76px">2</div>
<div class="yt" style="left:286.90px;top:54.20px">2.5</div>
<div class="yt" style="left:286.90px;top:45.64px">3</div>
<div class="yt" style="left:286.90px;top:37.08px">3.5</div>
<div class="yt" style="left:286.90px;top:28.52px">4</div>
<div class="yt" style="left:286.90px;top:19.96px">4.5</div>
<div class="yt" style="left:286.90px;top:11.40px">5</div>
<div class="xt" style="left:293.20px;top:100.70px">0</div>
<div class="xt" style="left:315.10px;top:100.70px">2</div>
<div class="xt" style="left:337.00px;top:100.70px">4</div>
<div class="xt" style="left:358.90px;top:100.70px">6</div>
<div class="xt" style="left:380.80px;top:100.70px">8</div>
<div class="xt" style="left:402.70px;top:100.70px">10</div>
<div class="xl" style="left:333.95px;top:103.80px">Time (sec)</div>
<div class="yl" style="left:289.60px;top:54.80px">Frequency (Hz)</div>
<div class="ax" style="left:299.20px;top:96.70px;width:109.50px"></div>
<div class="tt" style="left:406.65px;top:7.15px">PD Stage 3 Morlet Wavelet Spectrogram for 0.1-5 Hz</div>
<div class="yt" style="left:419.60px;top:97.00px">0</div>
<div class="yt" style="left:419.60px;top:88.44px">0.5</div>
<div class="yt" style="left:419.60px;top:79.88px">1</div>
<div class="yt" style="left:419.60px;top:71.32px">1.5</div>
<div class="yt" style="left:419.60px;top:62.76px">2</div>
<div class="yt" style="left:419.60px;top:54.20px">2.5</div>
<div class="yt" style="left:419.60px;top:45.64px">3</div>
<div class="yt" style="left:419.60px;top:37.08px">3.5</div>
<div class="yt" style="left:419.60px;top:28.52px">4</div>
<div class="yt" style="left:419.60px;top:19.96px">4.5</div>
<div class="yt" style="left:419.60px;top:11.40px">5</div>
<div class="xt" style="left:425.90px;top:100.70px">0</div>
<div class="xt" style="left:447.80px;top:100.70px">2</div>
<div class="xt" style="left:469.70px;top:100.70px">4</div>
<div class="xt" style="left:491.60px;top:100.70px">6</div>
<div class="xt" style="left:513.50px;top:100.70px">8</div>
<div class="xt" style="left:535.40px;top:100.70px">10</div>
<div class="xl" style="left:466.65px;top:103.80px">Time (sec)</div>
<div class="yl" style="left:422.30px;top:54.80px">Frequency (Hz)</div>
<div class="ax" style="left:431.90px;top:96.70px;width:109.50px"></div>
<div class="pl" style="top:56.20px">(a)</div>
<div class="tt" style="left:12.15px;top:112.10px">CO Subject Morlet Wavelet Spectrogram for 0.1-5 Hz</div>
<div class="yt" style="left:25.10px;top:202.20px">0</div>
<div class="yt" style="left:25.10px;top:193.62px">0.5</div>
<div class="yt" style="left:25.10px;top:185.04px">1</div>
<div class="yt" style="left:25.10px;top:176.46px">1.5</div>
<div class="yt" style="left:25.10px;top:167.88px">2</div>
<div class="yt" style="left:25.10px;top:159.30px">2.5</div>
<div class="yt" style="left:25.10px;top:150.72px">3</div>
<div class="yt" style="left:25.10px;top:142.14px">3.5</div>
<div class="yt" style="left:25.10px;top:133.56px">4</div>
<div class="yt" style="left:25.10px;top:124.98px">4.5</div>
<div class="yt" style="left:25.10px;top:116.40px">5</div>
<div class="xt" style="left:31.40px;top:205.00px">0</div>
<div class="xt" style="left:67.90px;top:205.00px">5</div>
<div class="xt" style="left:104.40px;top:205.00px">10</div>
<div class="xt" style="left:140.90px;top:205.00px">15</div>
<div class="xl b" style="left:72.15px;top:209.30px">Time (sec)</div>
<div class="yl b" style="left:27.80px;top:159.90px">Frequency (Hz)</div>
<div class="ax" style="left:37.40px;top:201.90px;width:109.50px"></div>
<div class="tt" style="left:143.15px;top:112.10px">PD Stage 2 Morlet Wavelet Spectrogram for 0.1-5 Hz</div>
<div class="yt" style="left:156.10px;top:202.20px">0</div>
<div class="yt" style="left:156.10px;top:193.62px">0.5</div>
<div class="yt" style="left:156.10px;top:185.04px">1</div>
<div class="yt" style="left:156.10px;top:176.46px">1.5</div>
<div class="yt" style="left:156.10px;top:167.88px">2</div>
<div class="yt" style="left:156.10px;top:159.30px">2.5</div>
<div class="yt" style="left:156.10px;top:150.72px">3</div>
<div class="yt" style="left:156.10px;top:142.14px">3.5</div>
<div class="yt" style="left:156.10px;top:133.56px">4</div>
<div class="yt" style="left:156.10px;top:124.98px">4.5</div>
<div class="yt" style="left:156.10px;top:116.40px">5</div>
<div class="xt" style="left:162.40px;top:205.00px">0</div>
<div class="xt" style="left:198.90px;top:205.00px">5</div>
<div class="xt" style="left:235.40px;top:205.00px">10</div>
<div class="xt" style="left:271.90px;top:205.00px">15</div>
<div class="xl b" style="left:203.15px;top:209.30px">Time (sec)</div>
<div class="yl b" style="left:158.80px;top:159.90px">Frequency (Hz)</div>
<div class="ax" style="left:168.40px;top:201.90px;width:109.50px"></div>
<div class="tt" style="left:273.95px;top:112.10px">PD Stage 2.5 Morlet Wavelet Spectrogram for 0.1-5 Hz</div>
<div class="yt" style="left:286.90px;top:202.20px">0</div>
<div class="yt" style="left:286.90px;top:193.62px">0.5</div>
<div class="yt" style="left:286.90px;top:185.04px">1</div>
<div class="yt" style="left:286.90px;top:176.46px">1.5</div>
<div class="yt" style="left:286.90px;top:167.88px">2</div>
<div class="yt" style="left:286.90px;top:159.30px">2.5</div>
<div class="yt" style="left:286.90px;top:150.72px">3</div>
<div class="yt" style="left:286.90px;top:142.14px">3.5</div>
<div class="yt" style="left:286.90px;top:133.56px">4</div>
<div class="yt" style="left:286.90px;top:124.98px">4.5</div>
<div class="yt" style="left:286.90px;top:116.40px">5</div>
<div class="xt" style="left:293.20px;top:205.00px">0</div>
<div class="xt" style="left:329.70px;top:205.00px">5</div>
<div class="xt" style="left:366.20px;top:205.00px">10</div>
<div class="xt" style="left:402.70px;top:205.00px">15</div>
<div class="xl b" style="left:333.95px;top:209.30px">Time (sec)</div>
<div class="yl b" style="left:289.60px;top:159.90px">Frequency (Hz)</div>
<div class="ax" style="left:299.20px;top:201.90px;width:109.50px"></div>
<div class="tt" style="left:406.65px;top:112.10px">PD Stage 3 Morlet Wavelet Spectrogram for 0.1-5 Hz</div>
<div class="yt" style="left:419.60px;top:202.20px">0</div>
<div class="yt" style="left:419.60px;top:193.62px">0.5</div>
<div class="yt" style="left:419.60px;top:185.04px">1</div>
<div class="yt" style="left:419.60px;top:176.46px">1.5</div>
<div class="yt" style="left:419.60px;top:167.88px">2</div>
<div class="yt" style="left:419.60px;top:159.30px">2.5</div>
<div class="yt" style="left:419.60px;top:150.72px">3</div>
<div class="yt" style="left:419.60px;top:142.14px">3.5</div>
<div class="yt" style="left:419.60px;top:133.56px">4</div>
<div class="yt" style="left:419.60px;top:124.98px">4.5</div>
<div class="yt" style="left:419.60px;top:116.40px">5</div>
<div class="xt" style="left:425.90px;top:205.00px">0</div>
<div class="xt" style="left:462.40px;top:205.00px">5</div>
<div class="xt" style="left:498.90px;top:205.00px">10</div>
<div class="xt" style="left:535.40px;top:205.00px">15</div>
<div class="xl b" style="left:466.65px;top:209.30px">Time (sec)</div>
<div class="yl b" style="left:422.30px;top:159.90px">Frequency (Hz)</div>
<div class="ax" style="left:431.90px;top:201.90px;width:109.50px"></div>
<div class="pl" style="top:161.30px">(b)</div>
<div class="tt" style="left:12.15px;top:217.10px">CO Subject Morlet Wavelet Spectrogram for 0.1-5 Hz</div>
<div class="yt" style="left:25.10px;top:307.80px">0</div>
<div class="yt" style="left:25.10px;top:299.15px">0.5</div>
<div class="yt" style="left:25.10px;top:290.50px">1</div>
<div class="yt" style="left:25.10px;top:281.85px">1.5</div>
<div class="yt" style="left:25.10px;top:273.20px">2</div>
<div class="yt" style="left:25.10px;top:264.55px">2.5</div>
<div class="yt" style="left:25.10px;top:255.90px">3</div>
<div class="yt" style="left:25.10px;top:247.25px">3.5</div>
<div class="yt" style="left:25.10px;top:238.60px">4</div>
<div class="yt" style="left:25.10px;top:229.95px">4.5</div>
<div class="yt" style="left:25.10px;top:221.30px">5</div>
<div class="xt" style="left:31.40px;top:311.30px">0</div>
<div class="xt" style="left:49.65px;top:311.30px">5</div>
<div class="xt" style="left:67.90px;top:311.30px">10</div>
<div class="xt" style="left:86.15px;top:311.30px">15</div>
<div class="xt" style="left:104.40px;top:311.30px">20</div>
<div class="xt" style="left:122.65px;top:311.30px">25</div>
<div class="xt" style="left:140.90px;top:311.30px">30</div>
<div class="xl b" style="left:72.15px;top:314.90px">Time (sec)</div>
<div class="yl b" style="left:27.80px;top:265.15px">Frequency (Hz)</div>
<div class="ax" style="left:37.40px;top:307.50px;width:109.50px"></div>
<div class="tt" style="left:143.15px;top:217.10px">PD Stage 2 Morlet Wavelet Spectrogram for 0.1-5 Hz</div>
<div class="yt" style="left:156.10px;top:307.80px">0</div>
<div class="yt" style="left:156.10px;top:299.15px">0.5</div>
<div class="yt" style="left:156.10px;top:290.50px">1</div>
<div class="yt" style="left:156.10px;top:281.85px">1.5</div>
<div class="yt" style="left:156.10px;top:273.20px">2</div>
<div class="yt" style="left:156.10px;top:264.55px">2.5</div>
<div class="yt" style="left:156.10px;top:255.90px">3</div>
<div class="yt" style="left:156.10px;top:247.25px">3.5</div>
<div class="yt" style="left:156.10px;top:238.60px">4</div>
<div class="yt" style="left:156.10px;top:229.95px">4.5</div>
<div class="yt" style="left:156.10px;top:221.30px">5</div>
<div class="xt" style="left:162.40px;top:311.30px">0</div>
<div class="xt" style="left:180.65px;top:311.30px">5</div>
<div class="xt" style="left:198.90px;top:311.30px">10</div>
<div class="xt" style="left:217.15px;top:311.30px">15</div>
<div class="xt" style="left:235.40px;top:311.30px">20</div>
<div class="xt" style="left:253.65px;top:311.30px">25</div>
<div class="xt" style="left:271.90px;top:311.30px">30</div>
<div class="xl b" style="left:203.15px;top:314.90px">Time (sec)</div>
<div class="yl b" style="left:158.80px;top:265.15px">Frequency (Hz)</div>
<div class="ax" style="left:168.40px;top:307.50px;width:109.50px"></div>
<div class="tt" style="left:273.95px;top:217.10px">PD Stage 2.5 Morlet Wavelet Spectrogram for 0.1-5 Hz</div>
<div class="yt" style="left:286.90px;top:307.80px">0</div>
<div class="yt" style="left:286.90px;top:299.15px">0.5</div>
<div class="yt" style="left:286.90px;top:290.50px">1</div>
<div class="yt" style="left:286.90px;top:281.85px">1.5</div>
<div class="yt" style="left:286.90px;top:273.20px">2</div>
<div class="yt" style="left:286.90px;top:264.55px">2.5</div>
<div class="yt" style="left:286.90px;top:255.90px">3</div>
<div class="yt" style="left:286.90px;top:247.25px">3.5</div>
<div class="yt" style="left:286.90px;top:238.60px">4</div>
<div class="yt" style="left:286.90px;top:229.95px">4.5</div>
<div class="yt" style="left:286.90px;top:221.30px">5</div>
<div class="xt" style="left:293.20px;top:311.30px">0</div>
<div class="xt" style="left:311.45px;top:311.30px">5</div>
<div class="xt" style="left:329.70px;top:311.30px">10</div>
<div class="xt" style="left:347.95px;top:311.30px">15</div>
<div class="xt" style="left:366.20px;top:311.30px">20</div>
<div class="xt" style="left:384.45px;top:311.30px">25</div>
<div class="xt" style="left:402.70px;top:311.30px">30</div>
<div class="xl b" style="left:333.95px;top:314.90px">Time (sec)</div>
<div class="yl b" style="left:289.60px;top:265.15px">Frequency (Hz)</div>
<div class="ax" style="left:299.20px;top:307.50px;width:109.50px"></div>
<div class="tt" style="left:406.65px;top:217.10px">PD Stage 3 Morlet Wavelet Spectrogram for 0.1-5 Hz</div>
<div class="yt" style="left:419.60px;top:307.80px">0</div>
<div class="yt" style="left:419.60px;top:299.15px">0.5</div>
<div class="yt" style="left:419.60px;top:290.50px">1</div>
<div class="yt" style="left:419.60px;top:281.85px">1.5</div>
<div class="yt" style="left:419.60px;top:273.20px">2</div>
<div class="yt" style="left:419.60px;top:264.55px">2.5</div>
<div class="yt" style="left:419.60px;top:255.90px">3</div>
<div class="yt" style="left:419.60px;top:247.25px">3.5</div>
<div class="yt" style="left:419.60px;top:238.60px">4</div>
<div class="yt" style="left:419.60px;top:229.95px">4.5</div>
<div class="yt" style="left:419.60px;top:221.30px">5</div>
<div class="xt" style="left:425.90px;top:311.30px">0</div>
<div class="xt" style="left:444.15px;top:311.30px">5</div>
<div class="xt" style="left:462.40px;top:311.30px">10</div>
<div class="xt" style="left:480.65px;top:311.30px">15</div>
<div class="xt" style="left:498.90px;top:311.30px">20</div>
<div class="xt" style="left:517.15px;top:311.30px">25</div>
<div class="xt" style="left:535.40px;top:311.30px">30</div>
<div class="xl b" style="left:466.65px;top:314.90px">Time (sec)</div>
<div class="yl b" style="left:422.30px;top:265.15px">Frequency (Hz)</div>
<div class="ax" style="left:431.90px;top:307.50px;width:109.50px"></div>
<div class="pl" style="top:266.55px">(c)</div>
</body></html>
